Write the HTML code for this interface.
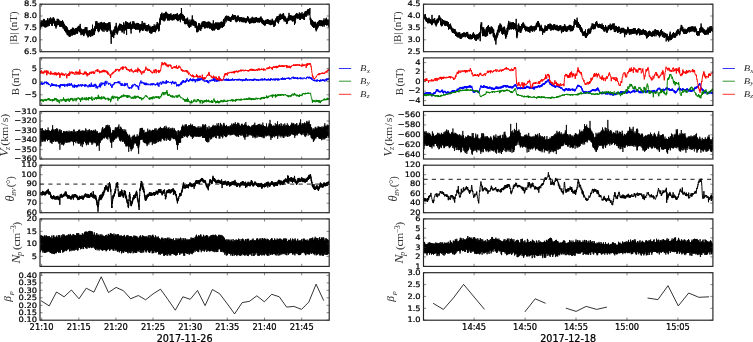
<!DOCTYPE html>
<html><head><meta charset="utf-8"><title>Solar wind magnetic field and plasma parameters</title>
<style>html,body{margin:0;padding:0;background:#fff;overflow:hidden}svg{display:block}</style></head>
<body>
<svg width="753" height="342" viewBox="0 0 753 342">
<rect width="753" height="342" fill="#fff"/>
<defs>
<clipPath id="c00"><rect x="40.0" y="4.2" width="289.2" height="47.5"/></clipPath>
<clipPath id="c01"><rect x="40.0" y="57.9" width="289.2" height="47.5"/></clipPath>
<clipPath id="c02"><rect x="40.0" y="111.5" width="289.2" height="47.5"/></clipPath>
<clipPath id="c03"><rect x="40.0" y="165.2" width="289.2" height="47.5"/></clipPath>
<clipPath id="c04"><rect x="40.0" y="218.9" width="289.2" height="47.5"/></clipPath>
<clipPath id="c05"><rect x="40.0" y="272.7" width="289.2" height="47.5"/></clipPath>
<clipPath id="c10"><rect x="423.5" y="4.2" width="289.4" height="47.5"/></clipPath>
<clipPath id="c11"><rect x="423.5" y="57.9" width="289.4" height="47.5"/></clipPath>
<clipPath id="c12"><rect x="423.5" y="111.5" width="289.4" height="47.5"/></clipPath>
<clipPath id="c13"><rect x="423.5" y="165.2" width="289.4" height="47.5"/></clipPath>
<clipPath id="c14"><rect x="423.5" y="218.9" width="289.4" height="47.5"/></clipPath>
<clipPath id="c15"><rect x="423.5" y="272.7" width="289.4" height="47.5"/></clipPath>
</defs>
<polyline points="40.0,30.0 40.2,24.2 40.3,28.4 40.5,23.6 40.7,26.8 40.8,22.4 41.0,25.5 41.2,20.3 41.3,26.7 41.5,21.8 41.7,26.0 41.8,21.6 42.0,25.8 42.2,22.2 42.3,26.3 42.5,20.8 42.7,25.5 42.8,21.9 43.0,25.8 43.2,19.8 43.3,26.5 43.5,21.0 43.7,25.2 43.8,18.9 44.0,25.3 44.2,20.7 44.3,25.8 44.5,19.5 44.7,27.3 44.8,21.5 45.0,26.4 45.2,21.2 45.3,27.1 45.5,21.0 45.7,27.4 45.8,20.9 46.0,26.4 46.2,20.1 46.3,27.1 46.5,21.3 46.7,26.2 46.8,21.9 47.0,26.2 47.2,20.9 47.3,26.5 47.5,18.8 47.7,24.2 47.8,18.1 48.0,24.4 48.2,20.4 48.3,26.2 48.5,20.3 48.7,23.9 48.8,19.9 49.0,23.8 49.2,19.7 49.3,25.9 49.5,20.1 49.7,23.6 49.8,18.5 50.0,23.8 50.2,17.9 50.3,23.2 50.5,17.6 50.7,22.9 50.8,17.8 51.0,23.2 51.2,18.8 51.3,23.8 51.5,19.5 51.7,25.7 51.8,20.7 52.0,24.4 52.2,19.4 52.3,25.9 52.5,19.9 52.7,23.3 52.8,18.4 53.0,22.7 53.2,17.3 53.3,23.3 53.5,17.9 53.7,22.7 53.8,17.8 54.0,23.0 54.2,19.2 54.3,24.0 54.5,19.1 54.7,26.0 54.8,20.5 55.0,25.7 55.2,21.1 55.3,26.1 55.5,22.9 55.7,27.0 55.8,22.4 56.0,28.5 56.2,21.1 56.3,25.5 56.5,21.3 56.7,26.6 56.8,21.3 57.0,24.8 57.2,18.8 57.3,23.9 57.5,19.8 57.7,25.2 57.8,20.8 58.0,25.0 58.2,18.9 58.3,23.8 58.5,19.8 58.7,24.5 58.8,19.7 59.0,24.8 59.2,21.0 59.3,24.8 59.5,21.7 59.7,26.6 59.8,20.7 60.0,25.8 60.2,21.8 60.3,26.7 60.5,22.3 60.7,25.2 60.8,21.0 61.0,26.5 61.2,22.5 61.3,26.9 61.5,22.6 61.7,26.1 61.8,21.2 62.0,26.0 62.2,22.4 62.3,26.9 62.5,20.1 62.7,26.0 62.8,22.0 63.0,28.5 63.2,21.6 63.3,26.3 63.5,22.4 63.7,27.6 63.8,23.4 64.0,29.3 64.2,24.2 64.4,28.2 64.5,24.8 64.7,30.6 64.9,25.6 65.0,31.1 65.2,25.8 65.4,30.4 65.5,25.9 65.7,32.1 65.9,26.2 66.0,32.4 66.2,26.3 66.4,32.4 66.5,26.6 66.7,31.8 66.9,27.6 67.0,34.5 67.2,27.5 67.4,32.9 67.5,29.4 67.7,35.1 67.9,29.7 68.0,35.3 68.2,29.9 68.4,34.9 68.5,30.3 68.7,34.8 68.9,36.3 69.0,35.3 69.2,30.7 69.4,35.8 69.5,30.4 69.7,36.9 69.9,31.9 70.0,36.7 70.2,31.7 70.4,35.7 70.5,30.3 70.7,34.8 70.9,29.3 71.0,35.9 71.2,29.6 71.4,33.9 71.5,28.9 71.7,33.8 71.9,29.5 72.0,34.5 72.2,29.0 72.4,35.5 72.5,27.7 72.7,34.8 72.9,29.0 73.0,33.9 73.2,29.1 73.4,33.7 73.5,27.8 73.7,34.7 73.9,28.6 74.0,33.9 74.2,30.3 74.4,34.6 74.5,29.4 74.7,34.2 74.9,30.1 75.0,34.7 75.2,29.6 75.4,33.9 75.5,29.2 75.7,32.6 75.9,28.0 76.0,32.6 76.2,28.3 76.4,32.9 76.5,28.7 76.7,33.1 76.9,27.8 77.0,33.9 77.2,29.5 77.4,33.6 77.5,29.3 77.7,32.8 77.9,27.0 78.0,31.0 78.2,26.4 78.4,30.0 78.5,26.3 78.7,31.1 78.9,26.2 79.0,29.7 79.2,25.6 79.4,32.1 79.5,26.7 79.7,31.0 79.9,26.9 80.0,30.7 80.2,23.9 80.4,32.9 80.5,28.5 80.7,33.2 80.9,28.4 81.0,35.2 81.2,29.6 81.4,33.3 81.5,28.9 81.7,33.7 81.9,30.8 82.0,34.3 82.2,30.1 82.4,34.3 82.5,29.5 82.7,34.4 82.9,29.8 83.0,33.7 83.2,30.1 83.4,34.6 83.5,29.1 83.7,36.1 83.9,29.7 84.0,35.4 84.2,30.1 84.4,34.1 84.5,29.5 84.7,33.2 84.9,28.9 85.0,33.1 85.2,27.1 85.4,32.5 85.5,28.1 85.7,33.1 85.9,27.4 86.0,32.4 86.2,27.8 86.4,34.4 86.5,27.7 86.7,33.3 86.9,27.2 87.0,35.4 87.2,30.1 87.4,35.6 87.5,31.6 87.7,36.0 87.9,31.4 88.0,37.4 88.2,31.4 88.4,36.3 88.5,31.8 88.7,36.8 88.9,30.8 89.0,34.8 89.2,30.0 89.4,35.6 89.5,30.0 89.7,35.6 89.9,30.2 90.0,35.6 90.2,31.1 90.4,36.1 90.5,31.4 90.7,37.0 90.9,31.9 91.0,35.6 91.2,29.8 91.4,35.3 91.5,29.0 91.7,34.2 91.9,29.2 92.0,34.8 92.2,29.0 92.4,34.1 92.5,24.7 92.7,36.1 92.9,28.8 93.0,33.0 93.2,28.6 93.4,33.3 93.5,29.6 93.7,34.9 93.9,29.3 94.0,33.6 94.2,29.4 94.4,34.7 94.5,27.7 94.7,32.6 94.9,26.6 95.0,30.8 95.2,25.8 95.4,31.1 95.5,23.4 95.7,27.8 95.9,21.3 96.0,28.5 96.2,21.4 96.4,27.6 96.5,22.2 96.7,28.8 96.9,21.2 97.0,29.0 97.2,23.3 97.4,28.9 97.5,22.8 97.7,29.6 97.9,23.5 98.0,31.1 98.2,23.5 98.4,32.2 98.5,22.9 98.7,26.7 98.9,23.1 99.0,29.4 99.2,24.7 99.4,31.3 99.5,24.8 99.7,29.5 99.9,23.8 100.0,29.1 100.2,22.2 100.4,28.2 100.5,23.2 100.7,29.0 100.9,23.5 101.0,28.3 101.2,23.5 101.4,30.4 101.5,21.9 101.7,29.7 101.9,22.4 102.0,29.2 102.2,23.2 102.4,29.6 102.5,24.0 102.7,31.4 102.9,23.0 103.0,29.2 103.2,23.2 103.4,29.3 103.5,24.0 103.7,28.5 103.9,22.8 104.0,31.8 104.2,22.0 104.4,28.6 104.5,24.1 104.7,29.5 104.9,25.0 105.0,29.0 105.2,23.4 105.4,28.9 105.5,23.9 105.7,30.4 105.9,23.2 106.0,28.7 106.2,23.6 106.4,30.2 106.5,24.0 106.7,29.2 106.9,24.4 107.0,31.9 107.2,25.3 107.4,30.2 107.5,23.3 107.7,31.4 107.9,24.0 108.0,29.6 108.2,24.6 108.4,30.2 108.5,22.5 108.7,29.9 108.9,23.1 109.0,28.6 109.2,23.3 109.4,28.5 109.5,22.7 109.7,28.8 109.9,22.0 110.0,31.0 110.2,24.7 110.4,32.3 110.5,28.2 110.7,34.0 110.9,30.0 111.0,40.4 111.2,43.8 111.4,37.1 111.5,32.7 111.7,37.1 111.9,30.8 112.0,35.6 112.2,33.1 112.4,37.0 112.6,32.3 112.7,36.9 112.9,32.5 113.1,35.3 113.2,30.4 113.4,35.2 113.6,29.9 113.7,38.1 113.9,29.5 114.1,34.5 114.2,30.1 114.4,34.3 114.6,29.7 114.7,35.2 114.9,26.6 115.1,32.9 115.2,27.4 115.4,31.0 115.6,26.2 115.7,30.5 115.9,25.7 116.1,31.4 116.2,22.9 116.4,31.2 116.6,28.0 116.7,32.9 116.9,28.7 117.1,34.2 117.2,28.8 117.4,34.4 117.6,29.0 117.7,33.2 117.9,27.8 118.1,31.3 118.2,26.5 118.4,30.8 118.6,26.0 118.7,30.3 118.9,25.8 119.1,30.6 119.2,24.9 119.4,29.9 119.6,23.8 119.7,29.3 119.9,23.7 120.1,29.6 120.2,24.1 120.4,28.9 120.6,24.4 120.7,29.5 120.9,26.0 121.1,30.9 121.2,26.7 121.4,30.7 121.6,24.4 121.7,31.1 121.9,26.9 122.1,32.5 122.2,27.1 122.4,31.6 122.6,25.4 122.7,31.1 122.9,25.9 123.1,30.3 123.2,25.0 123.4,29.8 123.6,22.3 123.7,29.0 123.9,24.4 124.1,33.6 124.2,25.0 124.4,30.1 124.6,25.1 124.7,30.6 124.9,25.9 125.1,30.3 125.2,22.8 125.4,29.5 125.6,21.3 125.7,28.1 125.9,23.5 126.1,28.0 126.2,21.6 126.4,27.1 126.6,34.9 126.7,28.0 126.9,22.0 127.1,28.7 127.2,23.6 127.4,27.4 127.6,22.2 127.7,28.6 127.9,23.0 128.1,27.5 128.2,24.2 128.4,28.3 128.6,24.0 128.7,28.7 128.9,22.9 129.1,28.0 129.2,23.0 129.4,28.9 129.6,23.7 129.7,27.9 129.9,22.8 130.1,26.6 130.2,22.6 130.4,27.5 130.6,21.8 130.7,29.5 130.9,24.7 131.1,33.5 131.2,24.5 131.4,28.3 131.6,25.0 131.7,29.1 131.9,24.6 132.1,28.8 132.2,23.8 132.4,28.9 132.6,23.3 132.7,27.3 132.9,21.0 133.1,27.5 133.2,22.7 133.4,27.3 133.6,22.7 133.7,26.7 133.9,21.5 134.1,28.9 134.2,23.3 134.4,28.6 134.6,23.4 134.7,28.7 134.9,23.9 135.1,28.7 135.2,24.9 135.4,28.4 135.6,24.0 135.7,29.8 135.9,25.0 136.1,29.4 136.2,23.2 136.4,28.1 136.6,24.7 136.7,28.5 136.9,24.1 137.1,29.6 137.2,22.9 137.4,28.3 137.6,23.8 137.7,28.3 137.9,23.8 138.1,30.0 138.2,23.7 138.4,28.1 138.6,23.0 138.7,28.6 138.9,24.3 139.1,29.4 139.2,24.1 139.4,29.9 139.6,26.1 139.7,32.5 139.9,26.2 140.1,29.3 140.2,25.2 140.4,31.1 140.6,24.5 140.7,30.5 140.9,24.9 141.1,30.0 141.2,23.9 141.4,28.8 141.6,23.9 141.7,29.0 141.9,25.3 142.1,29.6 142.2,21.0 142.4,30.6 142.6,26.0 142.7,30.9 142.9,26.8 143.1,30.6 143.2,26.0 143.4,29.4 143.6,24.6 143.7,29.0 143.9,22.9 144.1,27.7 144.2,22.8 144.4,27.9 144.6,23.4 144.7,29.3 144.9,23.1 145.1,28.6 145.2,25.3 145.4,30.9 145.6,26.1 145.7,29.8 145.9,25.1 146.1,30.4 146.2,25.4 146.4,30.3 146.6,26.1 146.7,30.7 146.9,25.8 147.1,31.5 147.2,26.1 147.4,30.2 147.6,25.1 147.7,29.2 147.9,25.4 148.1,29.3 148.2,25.7 148.4,28.9 148.6,24.3 148.7,29.4 148.9,25.9 149.1,31.2 149.2,26.7 149.4,31.1 149.6,26.9 149.7,32.7 149.9,25.7 150.1,32.6 150.2,27.5 150.4,33.4 150.6,27.8 150.7,32.1 150.9,27.5 151.1,33.1 151.2,28.4 151.4,32.4 151.6,26.7 151.7,33.7 151.9,29.3 152.1,32.6 152.2,28.4 152.4,31.3 152.6,26.1 152.7,31.2 152.9,26.7 153.1,31.3 153.2,27.5 153.4,31.7 153.6,26.3 153.7,31.4 153.9,26.3 154.1,31.2 154.2,24.4 154.4,31.2 154.6,27.2 154.7,31.7 154.9,26.3 155.1,31.8 155.2,27.5 155.4,32.3 155.6,26.2 155.7,30.3 155.9,25.7 156.1,29.7 156.2,24.5 156.4,30.4 156.6,25.1 156.7,28.7 156.9,24.7 157.1,28.7 157.2,22.0 157.4,28.3 157.6,23.3 157.7,27.9 157.9,22.8 158.1,29.1 158.2,24.4 158.4,29.8 158.6,25.9 158.7,31.4 158.9,24.6 159.1,30.9 159.2,24.7 159.4,28.4 159.6,20.8 159.7,24.7 159.9,18.6 160.1,24.7 160.2,17.6 160.4,21.7 160.6,16.0 160.8,20.2 160.9,14.1 161.1,19.5 161.3,14.0 161.4,18.8 161.6,13.4 161.8,19.9 161.9,12.6 162.1,19.7 162.3,14.6 162.4,20.0 162.6,14.8 162.8,20.1 162.9,15.4 163.1,20.6 163.3,15.7 163.4,19.5 163.6,13.5 163.8,20.1 163.9,15.2 164.1,21.4 164.3,15.4 164.4,19.7 164.6,13.0 164.8,18.8 164.9,13.6 165.1,20.5 165.3,14.1 165.4,16.9 165.6,12.0 165.8,17.6 165.9,11.7 166.1,17.2 166.3,13.1 166.4,18.1 166.6,12.4 166.8,18.3 166.9,13.4 167.1,17.5 167.3,13.6 167.4,18.8 167.6,14.7 167.8,20.6 167.9,15.0 168.1,19.8 168.3,13.9 168.4,19.4 168.6,15.9 168.8,19.7 168.9,16.2 169.1,20.8 169.3,14.6 169.4,19.3 169.6,14.5 169.8,18.0 169.9,13.9 170.1,18.7 170.3,14.7 170.4,19.5 170.6,14.5 170.8,18.8 170.9,13.3 171.1,19.9 171.3,15.6 171.4,20.1 171.6,15.7 171.8,20.1 171.9,15.8 172.1,19.9 172.3,15.8 172.4,20.4 172.6,15.1 172.8,19.4 172.9,15.0 173.1,18.8 173.3,14.1 173.4,18.6 173.6,14.8 173.8,20.2 173.9,14.8 174.1,19.5 174.3,15.9 174.4,19.1 174.6,14.7 174.8,18.9 174.9,14.7 175.1,18.7 175.3,14.7 175.4,18.5 175.6,14.2 175.8,18.7 175.9,14.7 176.1,18.8 176.3,13.9 176.4,20.1 176.6,15.3 176.8,18.9 176.9,14.4 177.1,19.7 177.3,13.1 177.4,19.4 177.6,16.2 177.8,21.2 177.9,16.1 178.1,20.7 178.3,14.8 178.4,20.0 178.6,16.2 178.8,19.3 178.9,15.9 179.1,19.4 179.3,14.9 179.4,20.1 179.6,14.6 179.8,19.1 179.9,14.2 180.1,19.4 180.3,15.3 180.4,22.2 180.6,14.1 180.8,18.1 180.9,13.0 181.1,19.6 181.3,16.4 181.4,8.0 181.6,11.4 181.8,17.4 181.9,13.9 182.1,19.0 182.3,14.4 182.4,19.1 182.6,15.0 182.8,20.7 182.9,14.6 183.1,19.2 183.3,15.0 183.4,21.0 183.6,15.7 183.8,19.9 183.9,16.2 184.1,20.8 184.3,16.0 184.4,22.9 184.6,17.5 184.8,24.1 184.9,19.0 185.1,22.7 185.3,18.9 185.4,23.3 185.6,19.0 185.8,24.3 185.9,19.8 186.1,23.8 186.3,18.7 186.4,23.7 186.6,18.9 186.8,23.7 186.9,18.7 187.1,23.9 187.3,19.8 187.4,23.5 187.6,17.6 187.8,24.2 187.9,19.5 188.1,25.8 188.3,20.6 188.4,25.7 188.6,22.1 188.8,27.1 188.9,23.0 189.1,26.8 189.3,22.4 189.4,28.0 189.6,22.2 189.8,27.2 189.9,19.5 190.1,26.0 190.3,21.7 190.4,26.1 190.6,22.5 190.8,26.9 190.9,21.4 191.1,25.1 191.3,20.1 191.4,25.3 191.6,20.2 191.8,25.1 191.9,19.4 192.1,23.9 192.3,15.4 192.4,23.8 192.6,20.3 192.8,25.4 192.9,21.0 193.1,24.7 193.3,21.3 193.4,24.9 193.6,19.6 193.8,25.8 193.9,20.7 194.1,25.4 194.3,21.5 194.4,26.0 194.6,21.7 194.8,25.2 194.9,21.5 195.1,27.6 195.3,22.0 195.4,25.9 195.6,21.4 195.8,27.7 195.9,21.8 196.1,27.4 196.3,22.5 196.4,28.5 196.6,25.1 196.8,31.9 196.9,27.2 197.1,32.4 197.3,26.8 197.4,31.7 197.6,26.5 197.8,30.7 197.9,26.5 198.1,31.8 198.3,24.9 198.4,29.4 198.6,23.4 198.8,27.6 198.9,23.4 199.1,27.7 199.3,23.7 199.4,29.0 199.6,23.7 199.8,29.6 199.9,26.6 200.1,30.4 200.3,26.3 200.4,30.4 200.6,25.2 200.8,30.7 200.9,25.5 201.1,29.0 201.3,23.7 201.4,28.6 201.6,24.4 201.8,28.5 201.9,22.7 202.1,26.5 202.3,21.6 202.4,26.5 202.6,22.5 202.8,26.5 202.9,22.4 203.1,26.5 203.3,21.3 203.4,26.6 203.6,21.7 203.8,25.8 203.9,21.9 204.1,27.0 204.3,21.4 204.4,28.4 204.6,22.4 204.8,27.8 204.9,21.1 205.1,27.1 205.3,23.3 205.4,28.3 205.6,22.4 205.8,27.7 205.9,23.1 206.1,26.1 206.3,22.5 206.4,26.7 206.6,22.4 206.8,27.3 206.9,22.9 207.1,27.8 207.3,22.6 207.4,27.1 207.6,21.9 207.8,28.2 207.9,23.4 208.1,27.5 208.3,21.5 208.4,27.0 208.6,22.6 208.8,26.9 209.0,22.6 209.1,27.1 209.3,22.4 209.5,28.1 209.6,21.8 209.8,28.7 210.0,22.5 210.1,28.3 210.3,23.0 210.5,27.7 210.6,24.0 210.8,28.4 211.0,23.9 211.1,27.7 211.3,23.8 211.5,28.4 211.6,24.1 211.8,30.1 212.0,23.4 212.1,28.7 212.3,24.8 212.5,30.8 212.6,24.7 212.8,29.2 213.0,24.6 213.1,29.9 213.3,20.3 213.5,29.4 213.6,25.0 213.8,29.8 214.0,26.1 214.1,30.7 214.3,24.8 214.5,28.9 214.6,23.7 214.8,29.8 215.0,23.8 215.1,29.0 215.3,23.4 215.5,27.9 215.6,22.7 215.8,27.8 216.0,22.5 216.1,27.3 216.3,22.7 216.5,28.5 216.6,23.2 216.8,27.3 217.0,23.6 217.1,28.8 217.3,23.2 217.5,28.2 217.6,24.2 217.8,29.9 218.0,22.1 218.1,29.8 218.3,24.7 218.5,29.5 218.6,23.6 218.8,28.1 219.0,23.7 219.1,27.6 219.3,23.4 219.5,29.4 219.6,23.0 219.8,28.1 220.0,22.5 220.1,28.2 220.3,22.3 220.5,28.1 220.6,22.3 220.8,27.3 221.0,23.3 221.1,26.6 221.3,21.5 221.5,26.6 221.6,22.1 221.8,27.4 222.0,23.4 222.1,27.6 222.3,22.3 222.5,27.7 222.6,22.0 222.8,26.7 223.0,22.9 223.1,27.0 223.3,20.3 223.5,26.3 223.6,19.2 223.8,25.6 224.0,18.9 224.1,26.1 224.3,22.6 224.5,24.9 224.6,20.9 224.8,23.9 225.0,17.8 225.1,20.8 225.3,16.9 225.5,20.3 225.6,16.9 225.8,19.6 226.0,16.1 226.1,22.3 226.3,15.7 226.5,18.6 226.6,16.2 226.8,19.5 227.0,15.8 227.1,19.2 227.3,16.5 227.5,20.1 227.6,16.8 227.8,20.4 228.0,17.0 228.1,20.4 228.3,17.6 228.5,20.5 228.6,15.9 228.8,20.0 229.0,17.0 229.1,20.9 229.3,17.3 229.5,17.7 229.6,16.9 229.8,20.7 230.0,17.4 230.1,21.3 230.3,18.0 230.5,21.3 230.6,17.7 230.8,22.0 231.0,17.5 231.1,20.7 231.3,17.0 231.5,19.9 231.6,16.5 231.8,18.7 232.0,16.1 232.1,18.4 232.3,15.5 232.5,19.4 232.6,14.2 232.8,19.7 233.0,15.0 233.1,19.2 233.3,15.6 233.5,19.7 233.6,16.7 233.8,18.9 234.0,15.4 234.1,18.8 234.3,16.0 234.5,18.6 234.6,15.3 234.8,18.6 235.0,15.5 235.1,20.3 235.3,15.4 235.5,20.9 235.6,16.2 235.8,21.1 236.0,16.8 236.1,22.2 236.3,17.0 236.5,22.1 236.6,17.9 236.8,20.4 237.0,17.1 237.1,21.6 237.3,16.5 237.5,21.2 237.6,16.0 237.8,19.5 238.0,15.4 238.1,19.8 238.3,15.9 238.5,19.8 238.6,17.7 238.8,20.4 239.0,17.3 239.1,20.9 239.3,17.3 239.5,20.7 239.6,17.9 239.8,22.1 240.0,18.2 240.1,21.0 240.3,17.7 240.5,20.5 240.6,17.3 240.8,20.5 241.0,17.6 241.1,20.0 241.3,17.4 241.5,20.9 241.6,17.8 241.8,22.1 242.0,18.7 242.1,21.5 242.3,17.6 242.5,21.7 242.6,18.1 242.8,21.1 243.0,17.9 243.1,22.4 243.3,18.6 243.5,22.0 243.6,17.7 243.8,21.3 244.0,17.7 244.1,21.7 244.3,18.8 244.5,21.6 244.6,18.8 244.8,21.9 245.0,18.1 245.1,22.6 245.3,19.0 245.5,23.1 245.6,19.5 245.8,22.1 246.0,18.4 246.1,22.2 246.3,18.6 246.5,22.4 246.6,18.0 246.8,21.7 247.0,17.9 247.1,20.5 247.3,17.9 247.5,20.7 247.6,16.1 247.8,19.9 248.0,17.0 248.1,20.5 248.3,16.9 248.5,21.9 248.6,18.8 248.8,21.8 249.0,18.9 249.1,22.9 249.3,18.7 249.5,23.2 249.6,20.4 249.8,23.8 250.0,19.6 250.1,22.6 250.3,18.6 250.5,22.9 250.6,20.0 250.8,23.3 251.0,19.5 251.1,22.3 251.3,17.8 251.5,22.6 251.6,18.9 251.8,22.7 252.0,18.4 252.1,21.8 252.3,16.8 252.5,21.3 252.6,19.0 252.8,22.4 253.0,18.0 253.1,23.1 253.3,19.6 253.5,23.1 253.6,17.7 253.8,21.7 254.0,18.6 254.1,23.0 254.3,18.4 254.5,23.1 254.6,19.0 254.8,22.4 255.0,17.6 255.1,21.6 255.3,17.9 255.5,22.9 255.6,18.3 255.8,21.6 256.0,17.2 256.1,22.0 256.3,17.9 256.5,22.1 256.6,17.1 256.8,21.6 257.0,18.2 257.2,21.6 257.3,18.4 257.5,22.2 257.7,18.5 257.8,22.0 258.0,19.4 258.2,22.6 258.3,18.9 258.5,21.2 258.7,18.0 258.8,21.5 259.0,17.9 259.2,21.8 259.3,19.1 259.5,22.6 259.7,17.8 259.8,22.1 260.0,18.7 260.2,21.9 260.3,18.2 260.5,21.2 260.7,16.8 260.8,20.7 261.0,16.6 261.2,22.0 261.3,18.1 261.5,22.6 261.7,18.4 261.8,23.1 262.0,18.4 262.2,23.4 262.3,19.7 262.5,23.3 262.7,19.5 262.8,23.8 263.0,20.3 263.2,24.2 263.3,20.0 263.5,24.5 263.7,21.1 263.8,24.6 264.0,21.8 264.2,25.1 264.3,20.8 264.5,24.7 264.7,22.0 264.8,25.8 265.0,21.1 265.2,24.4 265.3,20.2 265.5,25.2 265.7,20.3 265.8,23.9 266.0,19.7 266.2,23.5 266.3,20.0 266.5,23.6 266.7,20.3 266.8,23.4 267.0,20.6 267.2,23.6 267.3,19.2 267.5,23.8 267.7,19.4 267.8,23.6 268.0,19.6 268.2,23.1 268.3,19.7 268.5,23.5 268.7,20.5 268.8,24.2 269.0,20.3 269.2,23.0 269.3,20.1 269.5,24.2 269.7,20.9 269.8,24.4 270.0,20.9 270.2,24.5 270.3,20.7 270.5,25.2 270.7,21.8 270.8,24.9 271.0,19.7 271.2,24.4 271.3,21.3 271.5,24.6 271.7,21.2 271.8,24.6 272.0,21.2 272.2,24.1 272.3,18.8 272.5,23.1 272.7,20.2 272.8,24.4 273.0,20.6 273.2,24.2 273.3,21.2 273.5,24.9 273.7,22.5 273.8,26.9 274.0,22.6 274.2,26.3 274.3,21.4 274.5,26.3 274.7,22.1 274.8,25.7 275.0,20.3 275.2,25.4 275.3,20.0 275.5,22.8 275.7,18.9 275.8,22.1 276.0,18.6 276.2,21.5 276.3,18.1 276.5,20.5 276.7,16.8 276.8,21.1 277.0,17.8 277.2,20.5 277.3,16.0 277.5,20.7 277.7,17.4 277.8,22.8 278.0,17.1 278.2,20.6 278.3,17.6 278.5,23.5 278.7,16.0 278.8,22.1 279.0,16.8 279.2,19.5 279.3,14.7 279.5,20.0 279.7,15.8 279.8,20.2 280.0,14.6 280.2,19.8 280.3,13.7 280.5,18.2 280.7,14.5 280.8,19.1 281.0,14.8 281.2,19.2 281.3,14.8 281.5,17.9 281.7,15.2 281.8,18.8 282.0,15.5 282.2,19.1 282.3,14.8 282.5,18.0 282.7,14.4 282.8,19.0 283.0,14.7 283.2,18.8 283.3,13.0 283.5,19.8 283.7,14.3 283.8,19.2 284.0,16.2 284.2,21.5 284.3,16.0 284.5,19.8 284.7,15.8 284.8,19.5 285.0,16.4 285.2,20.8 285.3,17.2 285.5,21.3 285.7,17.3 285.8,21.4 286.0,18.4 286.2,21.8 286.3,19.0 286.5,24.1 286.7,20.0 286.8,23.9 287.0,19.8 287.2,22.8 287.3,18.2 287.5,23.3 287.7,18.3 287.8,21.3 288.0,18.9 288.2,20.9 288.3,16.4 288.5,20.6 288.7,16.6 288.8,20.0 289.0,12.9 289.2,19.1 289.3,15.3 289.5,19.3 289.7,15.2 289.8,20.5 290.0,16.1 290.2,18.9 290.3,15.3 290.5,19.8 290.7,16.0 290.8,19.6 291.0,15.5 291.2,19.8 291.3,15.6 291.5,20.3 291.7,16.2 291.8,20.3 292.0,16.5 292.2,19.6 292.3,16.5 292.5,21.5 292.7,17.1 292.8,20.4 293.0,15.7 293.2,19.7 293.3,16.4 293.5,20.4 293.7,16.7 293.8,21.3 294.0,16.6 294.2,21.2 294.3,15.8 294.5,24.9 294.7,15.5 294.8,19.5 295.0,15.8 295.2,23.4 295.3,15.7 295.5,18.6 295.7,14.5 295.8,19.4 296.0,14.1 296.2,17.6 296.3,13.8 296.5,17.5 296.7,13.2 296.8,17.4 297.0,13.3 297.2,17.9 297.3,14.7 297.5,18.5 297.7,15.4 297.8,18.3 298.0,14.9 298.2,18.2 298.3,14.1 298.5,18.2 298.7,14.9 298.8,18.3 299.0,14.8 299.2,18.0 299.3,12.4 299.5,17.9 299.7,14.9 299.8,20.0 300.0,14.8 300.2,18.4 300.3,15.3 300.5,19.9 300.7,13.4 300.8,17.8 301.0,14.3 301.2,18.7 301.3,13.6 301.5,17.9 301.7,16.1 301.8,18.3 302.0,12.2 302.2,17.8 302.3,14.1 302.5,18.4 302.7,14.4 302.8,18.3 303.0,14.3 303.2,17.7 303.3,16.3 303.5,19.5 303.7,14.1 303.8,19.0 304.0,13.5 304.2,18.8 304.3,12.9 304.5,19.8 304.7,13.3 304.8,16.8 305.0,11.8 305.2,16.0 305.4,11.2 305.5,15.6 305.7,12.0 305.9,16.6 306.0,11.3 306.2,16.6 306.4,11.2 306.5,15.1 306.7,10.9 306.9,14.5 307.0,11.4 307.2,14.4 307.4,10.4 307.5,13.3 307.7,9.9 307.9,15.6 308.0,9.1 308.2,13.7 308.4,9.5 308.5,13.8 308.7,10.0 308.9,13.7 309.0,10.5 309.2,14.6 309.4,9.4 309.5,15.1 309.7,12.6 309.9,8.0 310.0,14.2 310.2,20.1 310.4,17.6 310.5,22.1 310.7,19.5 310.9,24.6 311.0,18.6 311.2,23.7 311.4,20.6 311.5,24.4 311.7,20.5 311.9,25.8 312.0,20.9 312.2,24.6 312.4,20.2 312.5,26.8 312.7,21.5 312.9,26.5 313.0,22.3 313.2,26.3 313.4,21.6 313.5,27.7 313.7,23.2 313.9,27.6 314.0,22.8 314.2,27.7 314.4,22.0 314.5,27.0 314.7,22.2 314.9,26.2 315.0,21.8 315.2,26.1 315.4,21.9 315.5,26.9 315.7,24.1 315.9,29.9 316.0,25.3 316.2,31.3 316.4,23.6 316.5,30.0 316.7,25.4 316.9,29.5 317.0,25.9 317.2,28.6 317.4,21.9 317.5,27.7 317.7,22.1 317.9,27.8 318.0,23.0 318.2,26.6 318.4,22.4 318.5,26.1 318.7,21.7 318.9,25.4 319.0,20.7 319.2,25.7 319.4,21.0 319.5,25.8 319.7,20.0 319.9,24.2 320.0,20.8 320.2,24.7 320.4,20.7 320.5,25.0 320.7,20.8 320.9,26.2 321.0,20.5 321.2,25.9 321.4,20.4 321.5,25.3 321.7,21.7 321.9,25.8 322.0,21.7 322.2,25.4 322.4,21.2 322.5,26.5 322.7,20.9 322.9,26.2 323.0,20.5 323.2,24.5 323.4,20.4 323.5,24.4 323.7,23.1 323.9,24.0 324.0,18.4 324.2,26.6 324.4,21.1 324.5,25.0 324.7,20.7 324.9,24.6 325.0,20.0 325.2,24.9 325.4,20.6 325.5,23.8 325.7,19.3 325.9,23.4 326.0,18.6 326.2,24.4 326.4,17.8 326.5,25.4 326.7,19.4 326.9,24.5 327.0,19.9 327.2,25.4 327.4,20.5 327.5,24.9 327.7,20.4 327.9,23.9 328.0,19.5 328.2,23.7 328.4,19.9 328.5,24.5 328.7,20.9 328.9,27.2 329.0,21.3 329.2,25.5" fill="none" stroke="#000" stroke-width="1.0" stroke-linejoin="round" clip-path="url(#c00)"/>
<polyline points="40.0,85.2 40.3,84.2 40.5,83.9 40.8,83.4 41.0,83.8 41.3,82.3 41.5,84.3 41.8,83.4 42.0,84.5 42.3,82.6 42.5,84.9 42.8,83.4 43.0,83.7 43.3,83.8 43.5,84.0 43.8,82.8 44.0,84.3 44.3,82.2 44.5,83.0 44.8,81.7 45.0,81.8 45.3,82.6 45.5,82.2 45.8,83.1 46.0,82.2 46.3,81.5 46.5,84.1 46.8,83.4 47.0,83.3 47.3,82.0 47.5,83.7 47.8,83.6 48.0,84.3 48.3,82.8 48.5,84.7 48.8,83.7 49.0,85.0 49.3,84.1 49.5,85.0 49.8,84.5 50.0,85.3 50.3,85.2 50.5,86.8 50.8,85.8 51.0,85.7 51.3,85.4 51.5,86.1 51.8,83.1 52.0,84.2 52.3,83.9 52.5,85.8 52.8,84.3 53.0,85.1 53.3,84.8 53.5,86.0 53.8,84.2 54.0,86.0 54.3,84.5 54.5,85.1 54.8,85.7 55.0,85.5 55.3,85.0 55.5,85.9 55.8,84.5 56.0,86.4 56.3,84.4 56.5,85.3 56.8,86.3 57.0,86.2 57.3,85.5 57.5,86.1 57.8,85.3 58.0,85.1 58.3,85.4 58.5,86.4 58.8,85.2 59.0,86.7 59.3,85.3 59.5,85.6 59.8,88.3 60.0,85.4 60.3,84.3 60.5,86.5 60.8,84.3 61.0,85.3 61.3,85.3 61.5,85.5 61.8,84.1 62.0,85.1 62.3,84.0 62.5,86.0 62.8,85.0 63.0,85.1 63.3,84.8 63.5,86.0 63.8,84.1 64.0,84.1 64.3,84.0 64.5,86.1 64.8,86.9 65.0,85.4 65.3,84.8 65.5,85.3 65.8,84.6 66.0,85.3 66.3,84.1 66.5,85.4 66.8,85.4 67.0,86.4 67.3,85.0 67.5,86.2 67.8,83.6 68.0,85.8 68.3,84.6 68.5,85.2 68.8,84.7 69.0,85.5 69.3,83.2 69.5,85.7 69.8,84.5 70.0,85.3 70.3,83.8 70.5,84.3 70.8,84.1 71.0,85.7 71.3,83.3 71.5,83.2 71.8,85.2 72.0,85.2 72.3,84.8 72.6,86.5 72.8,85.3 73.1,87.6 73.3,85.9 73.6,85.9 73.8,85.9 74.1,85.9 74.3,84.6 74.6,87.9 74.8,84.8 75.1,86.1 75.3,85.5 75.6,86.7 75.8,85.1 76.1,85.8 76.3,85.4 76.6,87.4 76.8,85.0 77.1,86.2 77.3,85.1 77.6,87.2 77.8,85.6 78.1,86.2 78.3,84.4 78.6,86.1 78.8,84.8 79.1,86.0 79.3,85.7 79.6,86.0 79.8,86.4 80.1,84.4 80.3,84.2 80.6,85.4 80.8,85.9 81.1,85.6 81.3,84.7 81.6,86.5 81.8,84.7 82.1,86.1 82.3,84.2 82.6,84.4 82.8,84.9 83.1,85.2 83.3,85.4 83.6,84.8 83.8,85.8 84.1,85.2 84.3,85.9 84.6,86.5 84.8,84.3 85.1,86.5 85.3,85.1 85.6,86.2 85.8,84.2 86.1,86.0 86.3,85.4 86.6,85.5 86.8,85.2 87.1,86.5 87.3,85.9 87.6,86.2 87.8,85.8 88.1,87.4 88.3,85.4 88.6,85.4 88.8,85.5 89.1,85.0 89.3,84.5 89.6,86.5 89.8,84.2 90.1,87.1 90.3,85.7 90.6,86.5 90.8,85.5 91.1,86.9 91.3,82.7 91.6,85.6 91.8,85.4 92.1,86.2 92.3,86.8 92.6,85.8 92.8,84.8 93.1,86.5 93.3,85.5 93.6,86.6 93.8,84.6 94.1,86.8 94.3,85.0 94.6,84.5 94.8,83.9 95.1,85.4 95.3,85.9 95.6,83.9 95.8,84.4 96.1,88.3 96.3,85.3 96.6,87.4 96.8,86.1 97.1,86.1 97.3,86.9 97.6,88.5 97.8,87.7 98.1,87.1 98.3,86.6 98.6,87.0 98.8,86.3 99.1,87.1 99.3,84.7 99.6,86.4 99.8,83.7 100.1,87.2 100.3,85.1 100.6,87.3 100.8,84.1 101.1,82.5 101.3,84.8 101.6,85.5 101.8,84.1 102.1,84.2 102.3,82.7 102.6,84.4 102.8,83.6 103.1,83.9 103.3,82.8 103.6,84.1 103.8,83.2 104.1,84.2 104.4,82.7 104.6,84.7 104.9,86.0 105.1,81.5 105.4,82.4 105.6,82.0 105.9,80.8 106.1,84.3 106.4,81.8 106.6,82.1 106.9,81.5 107.1,81.7 107.4,81.8 107.6,82.0 107.9,82.2 108.1,83.9 108.4,83.4 108.6,84.7 108.9,83.4 109.1,83.8 109.4,84.0 109.6,83.6 109.9,82.9 110.1,83.6 110.4,84.2 110.6,85.7 110.9,84.1 111.1,86.1 111.4,86.0 111.6,87.4 111.9,85.9 112.1,87.7 112.4,84.9 112.6,85.4 112.9,84.2 113.1,85.3 113.4,84.2 113.6,85.0 113.9,83.6 114.1,84.4 114.4,82.3 114.6,83.9 114.9,82.4 115.1,82.8 115.4,82.5 115.6,83.1 115.9,82.0 116.1,83.1 116.4,82.0 116.6,83.1 116.9,82.6 117.1,83.0 117.4,82.4 117.6,83.1 117.9,81.5 118.1,81.8 118.4,82.7 118.6,82.5 118.9,81.1 119.1,83.6 119.4,82.3 119.6,82.1 119.9,81.7 120.1,84.2 120.4,83.3 120.6,83.9 120.9,83.7 121.1,85.8 121.4,83.8 121.6,85.6 121.9,83.5 122.1,83.1 122.4,85.0 122.6,85.6 122.9,84.5 123.1,85.0 123.4,85.5 123.6,85.0 123.9,85.0 124.1,85.6 124.4,83.9 124.6,86.2 124.9,82.9 125.1,86.0 125.4,84.0 125.6,85.1 125.9,83.6 126.1,84.6 126.4,84.6 126.6,85.1 126.9,84.9 127.1,83.0 127.4,85.2 127.6,86.1 127.9,85.8 128.1,87.8 128.4,87.9 128.6,87.3 128.9,87.1 129.1,88.7 129.4,87.4 129.6,88.6 129.9,87.7 130.1,88.1 130.4,87.5 130.6,88.0 130.9,87.7 131.1,88.4 131.4,87.6 131.6,88.4 131.9,85.4 132.1,87.5 132.4,85.6 132.6,87.0 132.9,84.4 133.1,86.2 133.4,85.4 133.6,85.4 133.9,85.2 134.1,85.1 134.4,83.8 134.6,84.6 134.9,84.6 135.1,85.3 135.4,84.2 135.6,85.2 135.9,85.6 136.1,86.6 136.4,85.0 136.7,85.6 136.9,85.0 137.2,85.8 137.4,86.1 137.7,87.0 137.9,86.5 138.2,88.6 138.4,86.2 138.7,89.9 138.9,86.7 139.2,85.7 139.4,85.0 139.7,85.7 139.9,82.6 140.2,83.4 140.4,82.5 140.7,82.3 140.9,80.5 141.2,82.9 141.4,82.2 141.7,83.4 141.9,82.0 142.2,83.1 142.4,81.8 142.7,83.1 142.9,82.1 143.2,83.3 143.4,83.4 143.7,83.3 143.9,82.6 144.2,84.5 144.4,82.8 144.7,85.0 144.9,83.3 145.2,84.9 145.4,84.1 145.7,85.2 145.9,82.6 146.2,84.4 146.4,83.1 146.7,85.1 146.9,83.7 147.2,84.4 147.4,83.6 147.7,84.3 147.9,84.6 148.2,85.2 148.4,84.9 148.7,83.8 148.9,83.7 149.2,84.1 149.4,84.7 149.7,84.4 149.9,84.4 150.2,85.4 150.4,83.7 150.7,83.9 150.9,84.5 151.2,83.7 151.4,84.8 151.7,85.1 151.9,83.4 152.2,85.3 152.4,83.6 152.7,84.7 152.9,84.3 153.2,84.8 153.4,83.0 153.7,84.3 153.9,84.2 154.2,83.6 154.4,84.2 154.7,84.5 154.9,84.0 155.2,85.5 155.4,84.3 155.7,84.9 155.9,84.8 156.2,84.4 156.4,83.8 156.7,84.7 156.9,83.7 157.2,82.7 157.4,84.0 157.7,85.4 157.9,82.6 158.2,85.3 158.4,84.4 158.7,84.5 158.9,86.8 159.2,84.7 159.4,82.9 159.7,83.7 159.9,82.7 160.2,83.1 160.4,82.1 160.7,82.3 160.9,81.8 161.2,84.6 161.4,83.1 161.7,84.3 161.9,82.5 162.2,83.3 162.4,82.6 162.7,82.3 162.9,80.9 163.2,83.1 163.4,83.2 163.7,83.3 163.9,81.7 164.2,83.1 164.4,82.4 164.7,83.3 164.9,83.7 165.2,83.7 165.4,82.3 165.7,82.5 165.9,81.2 166.2,83.7 166.4,80.0 166.7,83.2 166.9,82.4 167.2,82.8 167.4,82.3 167.7,82.4 167.9,81.0 168.2,82.3 168.4,81.4 168.7,82.0 169.0,82.5 169.2,82.2 169.5,82.6 169.7,82.7 170.0,82.8 170.2,82.9 170.5,81.8 170.7,82.7 171.0,82.3 171.2,82.0 171.5,83.2 171.7,84.4 172.0,81.9 172.2,83.0 172.5,80.9 172.7,82.1 173.0,81.6 173.2,82.7 173.5,82.3 173.7,83.8 174.0,83.3 174.2,84.0 174.5,82.2 174.7,84.2 175.0,82.7 175.2,81.7 175.5,82.4 175.7,83.2 176.0,82.3 176.2,84.1 176.5,84.1 176.7,86.4 177.0,85.1 177.2,85.1 177.5,84.7 177.7,86.0 178.0,84.5 178.2,84.2 178.5,84.9 178.7,86.4 179.0,84.5 179.2,85.4 179.5,85.3 179.7,85.8 180.0,83.9 180.2,84.5 180.5,83.5 180.7,84.4 181.0,82.4 181.2,84.9 181.5,82.5 181.7,83.9 182.0,81.3 182.2,83.2 182.5,81.4 182.7,82.1 183.0,80.1 183.2,81.6 183.5,80.2 183.7,82.6 184.0,81.1 184.2,81.3 184.5,81.0 184.7,82.1 185.0,81.4 185.2,82.9 185.5,80.8 185.7,80.8 186.0,80.0 186.2,81.9 186.5,80.5 186.7,80.5 187.0,78.3 187.2,80.2 187.5,80.7 187.7,80.8 188.0,81.2 188.2,80.1 188.5,80.9 188.7,82.0 189.0,79.9 189.2,81.1 189.5,79.3 189.7,80.2 190.0,79.0 190.2,79.6 190.5,78.3 190.7,80.5 191.0,79.4 191.2,80.0 191.5,80.7 191.7,81.1 192.0,79.2 192.2,81.0 192.5,80.1 192.7,81.3 193.0,78.5 193.2,80.7 193.5,79.4 193.7,80.3 194.0,80.1 194.2,80.8 194.5,79.1 194.7,80.6 195.0,81.2 195.2,82.4 195.5,80.5 195.7,81.8 196.0,79.0 196.2,80.1 196.5,79.6 196.7,80.3 197.0,79.7 197.2,81.1 197.5,79.6 197.7,81.2 198.0,77.7 198.2,80.5 198.5,79.2 198.7,80.4 199.0,80.0 199.2,80.8 199.5,78.9 199.7,80.1 200.0,78.0 200.2,80.4 200.5,79.1 200.8,79.4 201.0,79.3 201.3,78.4 201.5,78.2 201.8,79.9 202.0,79.8 202.3,79.4 202.5,79.1 202.8,80.4 203.0,78.0 203.3,80.5 203.5,79.7 203.8,78.3 204.0,78.5 204.3,81.8 204.5,80.8 204.8,81.1 205.0,80.8 205.3,80.9 205.5,80.7 205.8,81.7 206.0,81.3 206.3,80.8 206.5,80.0 206.8,81.8 207.0,80.1 207.3,82.1 207.5,80.5 207.8,83.0 208.0,82.0 208.3,81.2 208.5,81.2 208.8,83.3 209.0,80.6 209.3,80.4 209.5,81.0 209.8,80.3 210.0,80.0 210.3,81.5 210.5,80.6 210.8,80.0 211.0,79.8 211.3,81.1 211.5,80.3 211.8,79.5 212.0,80.9 212.3,81.0 212.5,80.0 212.8,80.2 213.0,79.5 213.3,80.6 213.5,78.3 213.8,80.9 214.0,78.1 214.3,80.3 214.5,80.2 214.8,81.8 215.0,78.6 215.3,80.3 215.5,79.9 215.8,79.7 216.0,79.1 216.3,81.8 216.5,79.5 216.8,80.1 217.0,80.2 217.3,80.8 217.5,78.4 217.8,81.7 218.0,79.0 218.3,80.8 218.5,79.5 218.8,80.3 219.0,79.0 219.3,79.9 219.5,81.2 219.8,80.1 220.0,78.4 220.3,80.5 220.5,78.7 220.8,80.5 221.0,79.3 221.3,81.1 221.5,79.4 221.8,79.6 222.0,79.9 222.3,80.7 222.5,79.8 222.8,80.4 223.0,80.0 223.3,79.9 223.5,79.7 223.8,80.0 224.0,79.2 224.3,80.5 224.5,80.1 224.8,80.1 225.0,79.3 225.3,80.1 225.5,79.2 225.8,80.6 226.0,78.9 226.3,80.6 226.5,78.8 226.8,80.1 227.0,78.8 227.3,80.0 227.5,79.6 227.8,81.0 228.0,79.6 228.3,80.7 228.5,78.7 228.8,80.7 229.0,79.7 229.3,80.7 229.5,79.7 229.8,80.6 230.0,79.6 230.3,80.6 230.5,79.8 230.8,80.0 231.0,79.3 231.3,80.5 231.5,79.4 231.8,80.4 232.0,79.0 232.3,80.3 232.5,78.5 232.8,80.0 233.1,79.5 233.3,80.5 233.6,79.6 233.8,80.5 234.1,80.0 234.3,80.5 234.6,79.1 234.8,80.0 235.1,79.6 235.3,79.1 235.6,79.3 235.8,80.1 236.1,79.3 236.3,80.1 236.6,79.3 236.8,80.4 237.1,79.7 237.3,80.4 237.6,79.0 237.8,79.9 238.1,78.8 238.3,79.5 238.6,79.7 238.8,80.6 239.1,79.4 239.3,79.9 239.6,78.8 239.8,80.0 240.1,79.6 240.3,80.5 240.6,79.5 240.8,80.2 241.1,79.2 241.3,80.4 241.6,79.8 241.8,79.4 242.1,80.0 242.3,81.3 242.6,79.6 242.8,80.5 243.1,79.5 243.3,80.8 243.6,79.5 243.8,80.3 244.1,80.0 244.3,80.8 244.6,79.8 244.8,80.1 245.1,79.2 245.3,80.6 245.6,78.7 245.8,80.2 246.1,78.3 246.3,80.2 246.6,79.2 246.8,79.8 247.1,79.1 247.3,80.9 247.6,79.6 247.8,79.5 248.1,79.3 248.3,80.2 248.6,80.1 248.8,80.2 249.1,79.5 249.3,80.7 249.6,79.4 249.8,80.2 250.1,79.1 250.3,80.1 250.6,79.0 250.8,80.2 251.1,79.4 251.3,80.5 251.6,79.6 251.8,80.1 252.1,79.5 252.3,80.8 252.6,79.6 252.8,80.7 253.1,79.5 253.3,80.7 253.6,79.4 253.8,80.6 254.1,78.7 254.3,79.7 254.6,78.8 254.8,80.2 255.1,79.1 255.3,80.0 255.6,78.9 255.8,80.1 256.1,79.2 256.3,80.5 256.6,79.1 256.8,80.5 257.1,79.5 257.3,80.1 257.6,79.8 257.8,80.5 258.1,79.1 258.3,80.5 258.6,79.8 258.8,80.9 259.1,80.0 259.3,80.3 259.6,79.9 259.8,79.3 260.1,79.9 260.3,80.2 260.6,78.9 260.8,80.4 261.1,79.5 261.3,80.2 261.6,79.2 261.8,80.0 262.1,78.3 262.3,80.6 262.6,79.6 262.8,80.0 263.1,79.5 263.3,80.2 263.6,79.3 263.8,80.1 264.1,78.8 264.3,80.3 264.6,78.0 264.8,80.0 265.1,79.0 265.4,80.2 265.6,78.9 265.9,79.6 266.1,79.8 266.4,80.5 266.6,79.1 266.9,79.7 267.1,79.1 267.4,80.3 267.6,79.4 267.9,80.4 268.1,78.8 268.4,80.2 268.6,78.7 268.9,79.7 269.1,79.0 269.4,80.2 269.6,79.5 269.9,80.5 270.1,79.4 270.4,80.8 270.6,78.5 270.9,79.4 271.1,78.4 271.4,79.9 271.6,78.9 271.9,79.7 272.1,79.5 272.4,79.8 272.6,79.0 272.9,80.4 273.1,78.8 273.4,79.1 273.6,78.8 273.9,80.1 274.1,78.8 274.4,79.7 274.6,79.3 274.9,80.6 275.1,78.6 275.4,80.2 275.6,78.8 275.9,80.1 276.1,78.6 276.4,80.0 276.6,79.4 276.9,79.8 277.1,78.7 277.4,80.0 277.6,79.1 277.9,80.8 278.1,78.2 278.4,79.5 278.6,79.6 278.9,80.0 279.1,79.2 279.4,80.2 279.6,79.2 279.9,79.4 280.1,78.9 280.4,79.2 280.6,79.0 280.9,79.3 281.1,78.2 281.4,79.7 281.6,78.5 281.9,79.3 282.1,78.2 282.4,79.3 282.6,77.5 282.9,79.6 283.1,78.6 283.4,79.6 283.6,78.3 283.9,79.4 284.1,78.5 284.4,79.5 284.6,77.9 284.9,78.9 285.1,78.7 285.4,79.8 285.6,78.2 285.9,78.5 286.1,78.2 286.4,78.9 286.6,78.0 286.9,77.8 287.1,78.0 287.4,78.7 287.6,78.0 287.9,78.8 288.1,77.5 288.4,78.3 288.6,77.8 288.9,78.9 289.1,77.7 289.4,79.5 289.6,78.3 289.9,78.5 290.1,78.2 290.4,78.9 290.6,78.3 290.9,79.4 291.1,78.3 291.4,78.3 291.6,77.6 291.9,77.6 292.1,77.2 292.4,78.0 292.6,77.8 292.9,78.4 293.1,76.6 293.4,78.2 293.6,77.0 293.9,78.6 294.1,77.4 294.4,78.8 294.6,77.8 294.9,78.7 295.1,77.6 295.4,78.4 295.6,77.3 295.9,78.0 296.1,78.0 296.4,78.9 296.6,78.0 296.9,78.8 297.2,77.0 297.4,78.9 297.7,77.6 297.9,79.3 298.2,78.4 298.4,78.4 298.7,78.2 298.9,78.7 299.2,77.9 299.4,78.5 299.7,77.7 299.9,78.3 300.2,78.6 300.4,78.3 300.7,77.3 300.9,79.3 301.2,77.7 301.4,78.6 301.7,78.2 301.9,78.4 302.2,78.5 302.4,78.2 302.7,77.8 302.9,79.3 303.2,78.1 303.4,78.1 303.7,78.2 303.9,77.9 304.2,77.5 304.4,78.2 304.7,78.3 304.9,78.7 305.2,78.2 305.4,78.5 305.7,78.0 305.9,78.4 306.2,79.2 306.4,78.5 306.7,77.0 306.9,78.0 307.2,76.8 307.4,77.9 307.7,76.8 307.9,77.9 308.2,77.3 308.4,78.3 308.7,77.0 308.9,78.4 309.2,76.6 309.4,78.2 309.7,77.0 309.9,77.9 310.2,77.4 310.4,78.6 310.7,77.5 310.9,78.8 311.2,77.5 311.4,79.2 311.7,78.1 311.9,79.9 312.2,78.5 312.4,79.6 312.7,79.9 312.9,80.3 313.2,79.8 313.4,80.9 313.7,79.8 313.9,80.6 314.2,79.9 314.4,80.9 314.7,79.6 314.9,81.4 315.2,80.2 315.4,80.7 315.7,80.1 315.9,80.6 316.2,80.6 316.4,81.4 316.7,79.9 316.9,81.4 317.2,79.4 317.4,81.3 317.7,80.6 317.9,80.8 318.2,80.0 318.4,80.6 318.7,80.0 318.9,81.0 319.2,80.3 319.4,81.6 319.7,80.5 319.9,81.6 320.2,79.7 320.4,81.1 320.7,79.6 320.9,81.2 321.2,79.9 321.4,81.1 321.7,80.4 321.9,80.9 322.2,79.7 322.4,80.9 322.7,79.5 322.9,80.0 323.2,79.5 323.4,80.7 323.7,79.9 323.9,81.1 324.2,79.6 324.4,80.8 324.7,80.3 324.9,81.6 325.2,79.8 325.4,80.0 325.7,79.6 325.9,80.1 326.2,78.7 326.4,80.6 326.7,78.7 326.9,80.5 327.2,78.7 327.4,79.9 327.7,79.0 327.9,79.2 328.2,78.1 328.4,79.6 328.7,79.3 328.9,79.5 329.2,78.9" fill="none" stroke="#0000ff" stroke-width="1.0" stroke-linejoin="round" clip-path="url(#c01)"/>
<polyline points="40.0,101.5 40.3,99.6 40.5,99.9 40.8,100.1 41.0,101.3 41.3,99.0 41.5,99.7 41.8,99.2 42.0,101.0 42.3,100.2 42.5,100.7 42.8,99.5 43.0,101.7 43.3,100.0 43.5,101.5 43.8,100.2 44.0,100.1 44.3,99.1 44.5,100.3 44.8,99.1 45.0,100.7 45.3,100.0 45.5,100.0 45.8,98.9 46.0,100.9 46.3,99.4 46.5,101.1 46.8,99.8 47.0,100.2 47.3,99.4 47.5,100.0 47.8,98.9 48.0,98.1 48.3,98.3 48.5,100.1 48.8,98.2 49.0,99.2 49.3,98.7 49.5,100.3 49.8,99.9 50.0,100.5 50.3,99.2 50.5,101.0 50.8,100.1 51.0,100.4 51.3,100.6 51.5,100.2 51.8,99.2 52.0,99.8 52.3,99.5 52.5,101.4 52.8,99.1 53.0,100.7 53.3,99.3 53.5,100.6 53.8,100.8 54.0,101.0 54.3,100.3 54.5,97.9 54.8,98.5 55.0,100.3 55.3,98.3 55.5,99.1 55.8,98.5 56.0,99.7 56.3,98.5 56.5,100.2 56.8,99.3 57.0,101.5 57.3,100.3 57.5,99.2 57.8,100.4 58.0,101.9 58.3,100.7 58.5,101.1 58.8,99.8 59.0,101.5 59.3,103.3 59.5,101.5 59.8,100.2 60.0,100.3 60.3,99.5 60.5,99.7 60.8,99.6 61.0,101.4 61.3,100.9 61.5,100.9 61.8,100.7 62.0,99.0 62.3,100.8 62.5,100.8 62.8,99.9 63.0,100.0 63.3,99.8 63.5,97.4 63.8,98.6 64.0,100.9 64.3,99.1 64.5,100.0 64.8,100.2 65.0,101.4 65.3,101.1 65.5,101.6 65.8,99.0 66.0,101.9 66.3,99.3 66.5,99.1 66.8,98.9 67.0,100.9 67.3,99.0 67.5,98.8 67.8,99.8 68.0,99.7 68.3,98.6 68.5,100.6 68.8,99.4 69.0,99.8 69.3,101.9 69.5,99.9 69.8,99.3 70.0,100.2 70.3,98.4 70.5,100.3 70.8,98.0 71.0,98.3 71.3,98.8 71.5,99.6 71.8,97.9 72.0,98.5 72.3,98.5 72.6,100.3 72.8,98.3 73.1,101.3 73.3,99.9 73.6,100.2 73.8,101.0 74.1,100.4 74.3,98.7 74.6,99.4 74.8,98.5 75.1,99.6 75.3,99.5 75.6,99.3 75.8,98.6 76.1,101.3 76.3,98.2 76.6,100.0 76.8,99.1 77.1,99.5 77.3,98.9 77.6,98.5 77.8,97.7 78.1,98.4 78.3,97.7 78.6,98.9 78.8,97.8 79.1,98.9 79.3,98.1 79.6,99.6 79.8,98.5 80.1,100.2 80.3,99.1 80.6,102.0 80.8,98.7 81.1,98.5 81.3,99.5 81.6,99.6 81.8,97.6 82.1,100.2 82.3,98.3 82.6,97.3 82.8,98.9 83.1,98.9 83.3,99.2 83.6,98.8 83.8,99.6 84.1,99.5 84.3,97.9 84.6,99.6 84.8,97.6 85.1,98.3 85.3,98.9 85.6,99.5 85.8,98.4 86.1,100.4 86.3,97.2 86.6,98.8 86.8,98.6 87.1,100.0 87.3,98.8 87.6,98.8 87.8,98.4 88.1,100.1 88.3,97.2 88.6,100.3 88.8,97.7 89.1,98.2 89.3,97.4 89.6,99.0 89.8,97.2 90.1,98.6 90.3,97.8 90.6,98.0 90.8,99.0 91.1,98.6 91.3,98.0 91.6,100.0 91.8,96.5 92.1,98.5 92.3,100.7 92.6,99.7 92.8,100.0 93.1,99.5 93.3,99.1 93.6,98.2 93.8,97.8 94.1,98.5 94.3,98.7 94.6,100.0 94.8,98.3 95.1,98.1 95.3,97.1 95.6,98.9 95.8,97.3 96.1,97.4 96.3,97.8 96.6,99.4 96.8,97.1 97.1,97.5 97.3,97.0 97.6,98.8 97.8,96.9 98.1,98.6 98.3,94.8 98.6,98.9 98.8,97.8 99.1,99.2 99.3,96.7 99.6,98.3 99.8,97.0 100.1,97.6 100.3,97.0 100.6,98.4 100.8,97.3 101.1,99.5 101.3,97.5 101.6,98.8 101.8,96.3 102.1,98.8 102.3,97.6 102.6,98.4 102.8,98.5 103.1,98.3 103.3,97.8 103.6,97.7 103.8,96.4 104.1,98.9 104.4,97.0 104.6,97.8 104.9,97.9 105.1,99.3 105.4,97.8 105.6,99.5 105.9,98.0 106.1,99.2 106.4,98.8 106.6,98.9 106.9,98.8 107.1,98.6 107.4,98.5 107.6,98.7 107.9,97.7 108.1,100.2 108.4,98.0 108.6,100.4 108.9,98.5 109.1,100.2 109.4,99.0 109.6,99.8 109.9,98.9 110.1,99.9 110.4,99.2 110.6,102.2 110.9,98.8 111.1,100.4 111.4,97.1 111.6,97.2 111.9,96.6 112.1,98.3 112.4,96.5 112.6,97.5 112.9,95.7 113.1,99.1 113.4,96.7 113.6,98.4 113.9,97.1 114.1,97.0 114.4,96.4 114.6,96.4 114.9,97.0 115.1,98.3 115.4,96.7 115.6,97.9 115.9,96.9 116.1,98.1 116.4,97.6 116.6,96.9 116.9,96.5 117.1,97.4 117.4,96.8 117.6,98.2 117.9,100.7 118.1,97.3 118.4,97.8 118.6,98.1 118.9,97.2 119.1,98.6 119.4,99.0 119.6,97.9 119.9,96.8 120.1,97.8 120.4,97.2 120.6,98.0 120.9,96.1 121.1,97.8 121.4,97.1 121.6,97.2 121.9,95.2 122.1,96.3 122.4,96.0 122.6,96.5 122.9,95.6 123.1,97.1 123.4,94.6 123.6,95.2 123.9,94.7 124.1,96.6 124.4,95.1 124.6,95.8 124.9,95.8 125.1,95.9 125.4,95.3 125.6,96.3 125.9,95.6 126.1,96.5 126.4,95.3 126.6,97.4 126.9,95.6 127.1,96.7 127.4,95.2 127.6,98.0 127.9,96.8 128.1,97.3 128.4,95.8 128.6,97.1 128.9,95.2 129.1,96.9 129.4,96.8 129.6,97.2 129.9,95.9 130.1,96.4 130.4,97.4 130.6,97.3 130.9,97.8 131.1,98.4 131.4,97.3 131.6,98.3 131.9,98.3 132.1,98.9 132.4,96.8 132.6,97.4 132.9,97.3 133.1,97.3 133.4,98.6 133.6,98.9 133.9,96.5 134.1,96.8 134.4,96.2 134.6,97.7 134.9,95.6 135.1,98.9 135.4,96.9 135.6,96.7 135.9,96.2 136.1,98.2 136.4,96.2 136.7,96.3 136.9,96.9 137.2,96.9 137.4,96.4 137.7,97.2 137.9,95.8 138.2,97.7 138.4,96.7 138.7,97.9 138.9,96.8 139.2,97.9 139.4,97.1 139.7,98.8 139.9,97.5 140.2,97.9 140.4,97.0 140.7,98.6 140.9,99.0 141.2,99.2 141.4,97.7 141.7,100.3 141.9,98.0 142.2,99.1 142.4,98.7 142.7,98.9 142.9,98.3 143.2,99.2 143.4,97.9 143.7,98.4 143.9,97.2 144.2,97.4 144.4,97.5 144.7,97.5 144.9,96.3 145.2,96.0 145.4,95.3 145.7,95.8 145.9,95.4 146.2,96.8 146.4,95.6 146.7,96.9 146.9,96.0 147.2,96.2 147.4,97.4 147.7,97.7 147.9,97.5 148.2,98.3 148.4,98.2 148.7,98.6 148.9,98.4 149.2,99.3 149.4,97.8 149.7,99.9 149.9,97.5 150.2,99.1 150.4,98.8 150.7,98.9 150.9,97.4 151.2,99.2 151.4,97.1 151.7,98.5 151.9,97.6 152.2,98.6 152.4,96.7 152.7,99.3 152.9,97.5 153.2,97.9 153.4,96.9 153.7,96.4 153.9,96.3 154.2,98.6 154.4,97.3 154.7,97.3 154.9,97.4 155.2,97.8 155.4,97.9 155.7,96.4 155.9,96.8 156.2,98.0 156.4,96.4 156.7,97.1 156.9,96.5 157.2,98.1 157.4,97.3 157.7,97.3 157.9,96.6 158.2,97.8 158.4,96.7 158.7,98.3 158.9,96.2 159.2,98.6 159.4,97.7 159.7,98.3 159.9,97.6 160.2,97.4 160.4,96.4 160.7,97.3 160.9,96.4 161.2,96.6 161.4,94.1 161.7,95.8 161.9,93.4 162.2,93.1 162.4,92.6 162.7,93.5 162.9,92.2 163.2,94.6 163.4,92.5 163.7,93.5 163.9,95.2 164.2,94.2 164.4,92.9 164.7,93.1 164.9,92.2 165.2,94.4 165.4,92.1 165.7,93.1 165.9,92.3 166.2,92.5 166.4,91.7 166.7,93.3 166.9,90.2 167.2,94.6 167.4,92.3 167.7,95.3 167.9,94.8 168.2,96.0 168.4,94.7 168.7,94.4 169.0,95.7 169.2,94.1 169.5,94.1 169.7,94.8 170.0,95.2 170.2,96.3 170.5,95.1 170.7,96.7 171.0,95.2 171.2,96.3 171.5,97.0 171.7,96.2 172.0,95.9 172.2,97.6 172.5,96.0 172.7,95.3 173.0,96.2 173.2,97.0 173.5,96.4 173.7,97.3 174.0,96.5 174.2,97.6 174.5,97.4 174.7,97.8 175.0,96.4 175.2,95.7 175.5,95.8 175.7,96.1 176.0,96.2 176.2,96.5 176.5,95.7 176.7,97.5 177.0,95.5 177.2,96.5 177.5,96.3 177.7,97.6 178.0,95.4 178.2,96.1 178.5,94.9 178.7,96.4 179.0,96.1 179.2,95.4 179.5,94.7 179.7,96.6 180.0,96.4 180.2,96.9 180.5,96.6 180.7,97.6 181.0,97.3 181.2,98.3 181.5,97.6 181.7,97.3 182.0,97.7 182.2,98.0 182.5,98.2 182.7,98.4 183.0,99.6 183.2,99.4 183.5,98.5 183.7,98.9 184.0,100.0 184.2,99.3 184.5,101.4 184.7,100.1 185.0,99.5 185.2,99.2 185.5,99.4 185.7,101.7 186.0,99.5 186.2,101.4 186.5,99.2 186.7,101.5 187.0,99.4 187.2,100.0 187.5,97.7 187.7,101.9 188.0,99.2 188.2,99.9 188.5,99.5 188.7,101.9 189.0,101.3 189.2,101.1 189.5,101.0 189.7,101.8 190.0,102.8 190.2,103.1 190.5,102.1 190.7,102.1 191.0,101.4 191.2,102.9 191.5,100.4 191.7,103.3 192.0,101.9 192.2,101.6 192.5,102.1 192.7,102.5 193.0,101.8 193.2,101.0 193.5,100.2 193.7,101.7 194.0,99.5 194.2,100.6 194.5,101.0 194.7,101.2 195.0,99.6 195.2,101.4 195.5,101.0 195.7,101.4 196.0,101.0 196.2,102.2 196.5,101.0 196.7,100.7 197.0,101.5 197.2,99.1 197.5,99.7 197.7,100.5 198.0,99.4 198.2,100.5 198.5,99.1 198.7,100.1 199.0,100.0 199.2,101.6 199.5,100.4 199.7,101.3 200.0,100.8 200.2,103.4 200.5,100.6 200.8,99.9 201.0,100.1 201.3,101.1 201.5,100.6 201.8,101.1 202.0,100.3 202.3,103.6 202.5,101.5 202.8,101.6 203.0,100.8 203.3,102.8 203.5,101.4 203.8,101.2 204.0,100.6 204.3,102.3 204.5,100.5 204.8,101.4 205.0,100.1 205.3,101.4 205.5,100.2 205.8,101.4 206.0,101.1 206.3,102.2 206.5,99.6 206.8,101.5 207.0,101.0 207.3,101.7 207.5,101.0 207.8,100.3 208.0,100.1 208.3,102.0 208.5,99.8 208.8,100.7 209.0,100.6 209.3,102.2 209.5,100.9 209.8,102.0 210.0,102.1 210.3,102.2 210.5,101.8 210.8,100.9 211.0,101.3 211.3,102.6 211.5,100.4 211.8,102.5 212.0,100.7 212.3,102.6 212.5,101.1 212.8,102.9 213.0,100.3 213.3,100.1 213.5,99.5 213.8,99.5 214.0,98.5 214.3,102.0 214.5,100.2 214.8,100.7 215.0,100.4 215.3,101.9 215.5,101.8 215.8,103.3 216.0,101.3 216.3,102.5 216.5,101.2 216.8,102.7 217.0,101.3 217.3,102.8 217.5,100.5 217.8,102.4 218.0,101.8 218.3,102.9 218.5,101.4 218.8,103.4 219.0,101.0 219.3,102.3 219.5,101.2 219.8,102.7 220.0,101.1 220.3,101.6 220.5,101.3 220.8,102.1 221.0,99.9 221.3,101.5 221.5,100.8 221.8,101.0 222.0,100.1 222.3,102.2 222.5,101.3 222.8,101.6 223.0,100.8 223.3,102.2 223.5,100.7 223.8,101.8 224.0,99.7 224.3,101.4 224.5,99.9 224.8,100.9 225.0,100.7 225.3,101.8 225.5,100.9 225.8,101.6 226.0,101.0 226.3,102.0 226.5,101.0 226.8,101.8 227.0,100.5 227.3,101.1 227.5,99.9 227.8,101.6 228.0,100.2 228.3,101.0 228.5,100.6 228.8,101.0 229.0,100.3 229.3,100.7 229.5,100.4 229.8,100.5 230.0,99.9 230.3,100.6 230.5,100.2 230.8,101.3 231.0,99.9 231.3,100.5 231.5,99.6 231.8,100.4 232.0,99.3 232.3,100.3 232.5,99.6 232.8,101.7 233.1,100.1 233.3,100.7 233.6,99.5 233.8,100.9 234.1,100.1 234.3,100.7 234.6,100.0 234.8,100.6 235.1,100.1 235.3,101.8 235.6,99.3 235.8,100.6 236.1,99.8 236.3,100.5 236.6,98.9 236.8,100.3 237.1,99.1 237.3,100.0 237.6,99.1 237.8,100.1 238.1,98.9 238.3,100.3 238.6,99.4 238.8,100.0 239.1,99.5 239.3,99.9 239.6,99.4 239.8,100.5 240.1,99.5 240.3,100.4 240.6,99.4 240.8,100.2 241.1,98.5 241.3,100.1 241.6,99.2 241.8,100.3 242.1,99.4 242.3,99.7 242.6,99.6 242.8,100.0 243.1,99.2 243.3,99.3 243.6,99.0 243.8,99.6 244.1,98.5 244.3,100.1 244.6,99.3 244.8,99.9 245.1,98.7 245.3,100.0 245.6,98.8 245.8,99.5 246.1,99.0 246.3,99.4 246.6,98.4 246.8,99.8 247.1,98.4 247.3,99.9 247.6,98.8 247.8,99.7 248.1,98.8 248.3,99.1 248.6,98.4 248.8,99.6 249.1,97.4 249.3,99.3 249.6,98.7 249.8,99.4 250.1,98.7 250.3,99.6 250.6,97.9 250.8,98.9 251.1,98.6 251.3,100.2 251.6,98.2 251.8,99.7 252.1,99.0 252.3,99.9 252.6,98.6 252.8,99.3 253.1,98.4 253.3,99.8 253.6,98.5 253.8,99.6 254.1,98.8 254.3,99.4 254.6,98.7 254.8,100.0 255.1,98.7 255.3,98.8 255.6,98.7 255.8,99.5 256.1,97.6 256.3,98.5 256.6,98.4 256.8,98.5 257.1,98.2 257.3,99.4 257.6,98.2 257.8,99.0 258.1,97.9 258.3,99.0 258.6,98.7 258.8,98.3 259.1,98.6 259.3,98.5 259.6,98.5 259.8,98.5 260.1,98.4 260.3,99.9 260.6,98.1 260.8,99.3 261.1,97.5 261.3,98.4 261.6,97.4 261.8,99.1 262.1,98.1 262.3,98.0 262.6,97.0 262.8,97.8 263.1,97.6 263.3,98.7 263.6,96.9 263.8,98.6 264.1,97.3 264.3,99.0 264.6,96.9 264.8,98.1 265.1,97.6 265.4,97.9 265.6,97.1 265.9,98.0 266.1,97.5 266.4,98.1 266.6,95.5 266.9,97.5 267.1,96.9 267.4,98.3 267.6,96.6 267.9,97.5 268.1,96.6 268.4,97.5 268.6,96.2 268.9,96.7 269.1,95.7 269.4,96.2 269.6,95.8 269.9,96.4 270.1,96.3 270.4,96.3 270.6,95.4 270.9,95.9 271.1,95.4 271.4,96.1 271.6,95.1 271.9,96.4 272.1,94.6 272.4,97.7 272.6,95.2 272.9,96.6 273.1,94.6 273.4,95.9 273.6,95.1 273.9,95.9 274.1,94.8 274.4,95.7 274.6,95.0 274.9,96.1 275.1,95.1 275.4,97.5 275.6,94.1 275.9,96.0 276.1,94.9 276.4,96.5 276.6,95.5 276.9,96.4 277.1,95.2 277.4,96.0 277.6,94.4 277.9,94.8 278.1,94.8 278.4,96.0 278.6,94.4 278.9,95.4 279.1,94.4 279.4,95.6 279.6,94.7 279.9,95.0 280.1,94.2 280.4,95.6 280.6,94.2 280.9,96.0 281.1,94.1 281.4,94.2 281.6,94.4 281.9,95.4 282.1,94.0 282.4,95.0 282.6,94.1 282.9,95.2 283.1,94.3 283.4,95.8 283.6,94.6 283.9,94.6 284.1,94.6 284.4,95.0 284.6,94.8 284.9,95.4 285.1,94.1 285.4,94.9 285.6,94.3 285.9,95.1 286.1,94.9 286.4,95.4 286.6,95.1 286.9,95.8 287.1,95.0 287.4,96.4 287.6,95.0 287.9,96.5 288.1,95.7 288.4,96.9 288.6,95.5 288.9,97.3 289.1,95.8 289.4,95.7 289.6,95.8 289.9,96.1 290.1,95.2 290.4,96.7 290.6,95.8 290.9,96.8 291.1,95.6 291.4,96.1 291.6,94.4 291.9,95.8 292.1,94.7 292.4,94.3 292.6,93.7 292.9,94.5 293.1,94.3 293.4,95.3 293.6,94.4 293.9,95.4 294.1,93.4 294.4,94.9 294.6,92.9 294.9,94.3 295.1,94.9 295.4,95.4 295.6,94.3 295.9,94.7 296.1,95.0 296.4,95.8 296.6,94.8 296.9,96.4 297.2,94.7 297.4,95.5 297.7,95.0 297.9,96.0 298.2,95.3 298.4,96.3 298.7,95.4 298.9,96.6 299.2,95.1 299.4,97.0 299.7,94.4 299.9,96.1 300.2,95.3 300.4,95.3 300.7,94.9 300.9,95.8 301.2,95.3 301.4,95.1 301.7,95.2 301.9,96.1 302.2,93.7 302.4,95.2 302.7,94.0 302.9,93.7 303.2,93.1 303.4,94.1 303.7,93.2 303.9,94.0 304.2,93.7 304.4,94.3 304.7,93.4 304.9,94.0 305.2,93.2 305.4,94.3 305.7,92.8 305.9,94.0 306.2,93.0 306.4,93.8 306.7,93.0 306.9,93.8 307.2,93.4 307.4,94.0 307.7,92.6 307.9,93.9 308.2,93.0 308.4,93.6 308.7,92.7 308.9,93.4 309.2,93.0 309.4,93.5 309.7,93.0 309.9,93.1 310.2,93.0 310.4,93.1 310.7,94.0 310.9,95.2 311.2,96.5 311.4,97.7 311.7,98.0 311.9,99.8 312.2,99.6 312.4,102.8 312.7,100.0 312.9,101.9 313.2,100.4 313.4,101.6 313.7,100.0 313.9,100.8 314.2,100.2 314.4,101.7 314.7,101.1 314.9,102.0 315.2,102.3 315.4,101.6 315.7,100.6 315.9,101.4 316.2,99.8 316.4,101.3 316.7,100.5 316.9,101.9 317.2,100.4 317.4,101.4 317.7,100.2 317.9,101.6 318.2,100.5 318.4,102.3 318.7,100.4 318.9,101.2 319.2,100.0 319.4,102.5 319.7,101.6 319.9,102.3 320.2,100.9 320.4,103.1 320.7,100.8 320.9,101.7 321.2,100.9 321.4,101.4 321.7,100.1 321.9,100.6 322.2,100.3 322.4,100.3 322.7,99.9 322.9,100.9 323.2,99.9 323.4,99.4 323.7,99.0 323.9,100.0 324.2,98.6 324.4,99.6 324.7,98.8 324.9,100.4 325.2,99.4 325.4,100.1 325.7,99.3 325.9,99.9 326.2,98.9 326.4,99.8 326.7,98.8 326.9,100.2 327.2,97.8 327.4,100.0 327.7,98.9 327.9,99.6 328.2,98.0 328.4,99.5 328.7,98.6 328.9,98.6 329.2,97.9" fill="none" stroke="#008000" stroke-width="1.0" stroke-linejoin="round" clip-path="url(#c01)"/>
<polyline points="40.0,73.9 40.3,72.8 40.5,72.3 40.8,71.2 41.0,73.4 41.3,70.4 41.5,72.1 41.8,71.8 42.0,73.3 42.3,73.4 42.5,72.9 42.8,71.7 43.0,73.2 43.3,71.6 43.5,73.4 43.8,72.4 44.0,73.3 44.3,72.8 44.5,72.2 44.8,70.5 45.0,71.8 45.3,72.1 45.5,72.4 45.8,71.2 46.0,72.2 46.3,70.3 46.5,72.1 46.8,75.3 47.0,72.7 47.3,72.8 47.5,72.9 47.8,70.6 48.0,73.3 48.3,71.7 48.5,73.3 48.8,72.4 49.0,73.6 49.3,73.8 49.5,73.6 49.8,74.0 50.0,74.1 50.3,72.9 50.5,74.7 50.8,71.2 51.0,73.4 51.3,73.0 51.5,73.6 51.8,72.6 52.0,74.5 52.3,73.9 52.5,74.1 52.8,73.2 53.0,74.3 53.3,73.0 53.5,73.7 53.8,73.1 54.0,74.8 54.3,72.6 54.5,73.4 54.8,72.9 55.0,75.2 55.3,72.4 55.5,74.2 55.8,74.4 56.0,74.3 56.3,72.7 56.5,75.4 56.8,75.0 57.0,73.7 57.3,73.2 57.5,74.9 57.8,73.9 58.0,74.6 58.3,72.5 58.5,73.2 58.8,72.6 59.0,74.7 59.3,73.8 59.5,73.3 59.8,77.9 60.0,77.4 60.3,73.5 60.5,75.3 60.8,74.2 61.0,74.0 61.3,73.9 61.5,75.1 61.8,72.6 62.0,72.9 62.3,73.8 62.5,75.4 62.8,73.1 63.0,74.7 63.3,74.0 63.5,74.7 63.8,73.8 64.0,75.6 64.3,74.3 64.5,75.9 64.8,74.9 65.0,74.0 65.3,74.1 65.5,74.0 65.8,73.4 66.0,74.1 66.3,74.5 66.5,76.0 66.8,78.3 67.0,75.2 67.3,74.6 67.5,75.6 67.8,74.1 68.0,74.7 68.3,73.8 68.5,76.0 68.8,73.4 69.0,75.6 69.3,73.2 69.5,75.4 69.8,71.5 70.0,74.5 70.3,73.4 70.5,73.3 70.8,72.3 71.0,72.5 71.3,73.3 71.5,73.3 71.8,71.5 72.0,72.2 72.3,72.0 72.6,73.8 72.8,72.1 73.1,72.8 73.3,72.0 73.6,73.2 73.8,72.3 74.1,74.3 74.3,73.9 74.6,74.4 74.8,74.0 75.1,74.7 75.3,72.4 75.6,73.0 75.8,71.6 76.1,72.8 76.3,71.6 76.6,73.6 76.8,73.1 77.1,74.7 77.3,72.0 77.6,72.1 77.8,72.3 78.1,73.5 78.3,71.7 78.6,73.8 78.8,73.2 79.1,74.8 79.3,72.0 79.6,72.4 79.8,69.5 80.1,74.0 80.3,72.7 80.6,74.2 80.8,72.7 81.1,73.9 81.3,73.1 81.6,74.0 81.8,73.5 82.1,73.3 82.3,73.4 82.6,74.0 82.8,74.5 83.1,75.0 83.3,74.0 83.6,74.7 83.8,72.9 84.1,72.8 84.3,74.3 84.6,71.9 84.8,73.2 85.1,71.3 85.3,73.5 85.6,72.7 85.8,73.9 86.1,74.5 86.3,71.9 86.6,74.0 86.8,73.8 87.1,76.3 87.3,73.3 87.6,75.1 87.8,73.3 88.1,75.3 88.3,74.1 88.6,74.8 88.8,73.6 89.1,74.9 89.3,74.3 89.6,74.3 89.8,72.3 90.1,73.5 90.3,71.9 90.6,73.1 90.8,71.9 91.1,73.2 91.3,72.7 91.6,73.7 91.8,71.6 92.1,73.2 92.3,72.7 92.6,72.6 92.8,71.7 93.1,72.5 93.3,71.4 93.6,73.7 93.8,71.8 94.1,73.5 94.3,72.2 94.6,73.5 94.8,72.6 95.1,72.2 95.3,70.4 95.6,70.3 95.8,70.8 96.1,70.3 96.3,70.5 96.6,70.6 96.8,69.8 97.1,71.6 97.3,69.5 97.6,71.6 97.8,69.0 98.1,70.7 98.3,71.0 98.6,71.0 98.8,71.3 99.1,72.1 99.3,70.6 99.6,73.2 99.8,71.6 100.1,72.2 100.3,71.2 100.6,72.4 100.8,72.5 101.1,72.8 101.3,71.1 101.6,71.7 101.8,70.8 102.1,72.4 102.3,70.3 102.6,71.7 102.8,70.9 103.1,71.3 103.3,71.0 103.6,71.8 103.8,69.8 104.1,72.2 104.4,70.1 104.6,71.9 104.9,70.3 105.1,72.2 105.4,70.8 105.6,71.2 105.9,70.3 106.1,71.0 106.4,71.7 106.6,72.5 106.9,71.5 107.1,73.2 107.4,71.4 107.6,74.3 107.9,71.9 108.1,72.8 108.4,73.6 108.6,74.6 108.9,73.5 109.1,74.3 109.4,74.7 109.6,75.4 109.9,75.5 110.1,76.2 110.4,74.6 110.6,77.9 110.9,74.8 111.1,75.0 111.4,75.0 111.6,74.7 111.9,73.4 112.1,74.3 112.4,72.8 112.6,73.7 112.9,72.6 113.1,73.5 113.4,71.7 113.6,72.9 113.9,72.2 114.1,72.4 114.4,71.4 114.6,71.2 114.9,70.8 115.1,71.8 115.4,69.9 115.6,71.4 115.9,68.9 116.1,70.8 116.4,69.9 116.6,70.1 116.9,69.0 117.1,69.4 117.4,69.8 117.6,69.2 117.9,69.1 118.1,70.2 118.4,69.6 118.6,71.1 118.9,71.5 119.1,71.2 119.4,69.1 119.6,70.3 119.9,70.5 120.1,69.0 120.4,68.7 120.6,69.2 120.9,67.7 121.1,68.3 121.4,67.9 121.6,67.3 121.9,67.5 122.1,69.3 122.4,66.6 122.6,69.6 122.9,68.1 123.1,69.4 123.4,66.8 123.6,68.1 123.9,66.8 124.1,67.2 124.4,67.1 124.6,67.3 124.9,67.1 125.1,67.8 125.4,66.6 125.6,66.5 125.9,67.5 126.1,68.7 126.4,67.5 126.6,69.8 126.9,68.6 127.1,69.9 127.4,69.7 127.6,69.1 127.9,69.2 128.1,70.6 128.4,69.3 128.6,70.3 128.9,70.7 129.1,70.4 129.4,70.6 129.6,71.7 129.9,69.3 130.1,69.6 130.4,69.5 130.6,69.2 130.9,69.6 131.1,71.6 131.4,68.7 131.6,69.9 131.9,70.4 132.1,70.8 132.4,70.1 132.6,70.5 132.9,72.0 133.1,72.4 133.4,71.5 133.6,72.4 133.9,71.3 134.1,71.9 134.4,71.0 134.6,70.4 134.9,70.6 135.1,71.8 135.4,71.1 135.6,71.8 135.9,69.4 136.1,70.9 136.4,70.9 136.7,71.4 136.9,70.0 137.2,71.7 137.4,69.7 137.7,72.5 137.9,67.7 138.2,70.4 138.4,69.8 138.7,71.0 138.9,69.3 139.2,71.1 139.4,69.4 139.7,71.3 139.9,71.4 140.2,71.1 140.4,70.4 140.7,72.5 140.9,71.1 141.2,73.4 141.4,73.0 141.7,74.6 141.9,72.7 142.2,72.9 142.4,71.4 142.7,71.7 142.9,72.1 143.2,73.2 143.4,71.6 143.7,71.3 143.9,70.7 144.2,72.7 144.4,70.6 144.7,70.7 144.9,71.0 145.2,70.8 145.4,68.7 145.7,69.5 145.9,66.7 146.2,69.0 146.4,68.8 146.7,69.6 146.9,69.2 147.2,68.8 147.4,69.0 147.7,70.7 147.9,68.7 148.2,69.6 148.4,69.6 148.7,70.9 148.9,70.5 149.2,70.9 149.4,69.3 149.7,70.6 149.9,70.0 150.2,71.1 150.4,71.2 150.7,71.9 150.9,70.7 151.2,71.8 151.4,72.5 151.7,71.9 151.9,72.4 152.2,73.3 152.4,71.9 152.7,73.2 152.9,71.9 153.2,71.8 153.4,72.3 153.7,71.6 153.9,69.8 154.2,70.7 154.4,73.1 154.7,71.4 154.9,69.8 155.2,70.6 155.4,69.4 155.7,70.9 155.9,69.2 156.2,73.3 156.4,70.1 156.7,71.1 156.9,70.9 157.2,70.9 157.4,71.3 157.7,71.2 157.9,71.2 158.2,71.7 158.4,69.9 158.7,72.9 158.9,72.1 159.2,72.4 159.4,70.8 159.7,72.2 159.9,70.2 160.2,71.2 160.4,70.4 160.7,70.6 160.9,68.1 161.2,67.1 161.4,64.7 161.7,65.3 161.9,62.3 162.2,63.0 162.4,62.6 162.7,64.9 162.9,64.4 163.2,65.2 163.4,63.0 163.7,64.1 163.9,63.3 164.2,63.7 164.4,62.3 164.7,62.8 164.9,63.5 165.2,65.1 165.4,62.7 165.7,64.8 165.9,63.3 166.2,65.9 166.4,63.9 166.7,64.5 166.9,64.7 167.2,66.6 167.4,64.8 167.7,65.9 167.9,65.5 168.2,67.2 168.4,64.7 168.7,65.7 169.0,64.8 169.2,65.0 169.5,65.6 169.7,65.5 170.0,64.5 170.2,66.1 170.5,64.9 170.7,66.5 171.0,65.1 171.2,67.2 171.5,67.9 171.7,68.6 172.0,67.5 172.2,68.0 172.5,68.8 172.7,68.8 173.0,67.4 173.2,68.0 173.5,67.6 173.7,67.8 174.0,66.2 174.2,66.9 174.5,66.8 174.7,68.0 175.0,66.7 175.2,68.2 175.5,66.5 175.7,67.4 176.0,67.4 176.2,67.5 176.5,65.2 176.7,68.4 177.0,68.6 177.2,68.6 177.5,67.4 177.7,68.8 178.0,67.5 178.2,67.1 178.5,66.5 178.7,68.1 179.0,65.6 179.2,66.7 179.5,67.4 179.7,67.2 180.0,66.5 180.2,66.8 180.5,67.8 180.7,67.6 181.0,69.3 181.2,70.1 181.5,69.0 181.7,70.9 182.0,69.2 182.2,70.1 182.5,70.8 182.7,71.6 183.0,70.0 183.2,71.1 183.5,70.5 183.7,71.2 184.0,70.4 184.2,71.5 184.5,71.1 184.7,71.5 185.0,71.4 185.2,70.6 185.5,70.3 185.7,71.3 186.0,70.3 186.2,71.8 186.5,70.1 186.7,70.6 187.0,70.2 187.2,72.8 187.5,70.8 187.7,72.3 188.0,71.4 188.2,73.4 188.5,74.5 188.7,74.1 189.0,72.8 189.2,72.5 189.5,73.2 189.7,73.8 190.0,74.2 190.2,75.4 190.5,74.4 190.7,74.8 191.0,75.0 191.2,75.7 191.5,75.2 191.7,76.2 192.0,75.3 192.2,76.8 192.5,74.7 192.7,76.3 193.0,76.6 193.2,76.9 193.5,75.3 193.7,77.5 194.0,75.9 194.2,77.1 194.5,76.8 194.7,76.7 195.0,76.9 195.2,76.5 195.5,76.8 195.7,76.7 196.0,75.9 196.2,76.7 196.5,74.2 196.7,77.1 197.0,75.0 197.2,76.1 197.5,75.3 197.7,77.7 198.0,76.4 198.2,77.1 198.5,76.5 198.7,77.1 199.0,75.9 199.2,77.2 199.5,76.4 199.7,77.4 200.0,75.6 200.2,77.2 200.5,76.2 200.8,77.5 201.0,77.8 201.3,77.3 201.5,77.5 201.8,78.0 202.0,77.4 202.3,74.7 202.5,76.6 202.8,78.8 203.0,77.4 203.3,79.6 203.5,79.0 203.8,78.7 204.0,77.0 204.3,77.8 204.5,77.7 204.8,79.3 205.0,77.5 205.3,78.7 205.5,78.6 205.8,78.0 206.0,77.0 206.3,76.7 206.5,76.8 206.8,76.1 207.0,75.4 207.3,75.9 207.5,74.7 207.8,75.7 208.0,74.7 208.3,74.8 208.5,73.2 208.8,74.3 209.0,71.9 209.3,75.9 209.5,74.3 209.8,74.9 210.0,75.6 210.3,75.5 210.5,75.8 210.8,76.1 211.0,75.7 211.3,77.4 211.5,76.1 211.8,77.1 212.0,76.8 212.3,78.3 212.5,76.9 212.8,77.8 213.0,77.4 213.3,77.5 213.5,75.7 213.8,77.9 214.0,77.3 214.3,78.2 214.5,76.6 214.8,77.2 215.0,77.6 215.3,77.6 215.5,77.4 215.8,78.5 216.0,76.5 216.3,78.4 216.5,77.3 216.8,79.8 217.0,79.0 217.3,79.7 217.5,78.1 217.8,79.1 218.0,78.8 218.3,80.3 218.5,80.0 218.8,79.4 219.0,76.2 219.3,80.2 219.5,77.0 219.8,80.0 220.0,79.0 220.3,80.8 220.5,78.8 220.8,80.2 221.0,79.4 221.3,80.6 221.5,80.4 221.8,80.7 222.0,79.5 222.3,80.5 222.5,80.3 222.8,80.2 223.0,79.5 223.3,79.3 223.5,78.0 223.8,78.3 224.0,75.9 224.3,76.8 224.5,74.3 224.8,74.4 225.0,73.5 225.3,75.3 225.5,73.3 225.8,74.8 226.0,73.1 226.3,74.3 226.5,73.1 226.8,73.8 227.0,73.6 227.3,75.5 227.5,73.7 227.8,73.6 228.0,72.2 228.3,73.6 228.5,73.1 228.8,73.1 229.0,72.9 229.3,73.1 229.5,72.4 229.8,72.7 230.0,71.8 230.3,72.5 230.5,72.3 230.8,72.7 231.0,72.1 231.3,73.2 231.5,72.1 231.8,72.8 232.0,71.6 232.3,72.7 232.5,72.4 232.8,73.1 233.1,71.8 233.3,72.6 233.6,71.6 233.8,72.8 234.1,71.3 234.3,73.4 234.6,70.9 234.8,72.2 235.1,71.4 235.3,72.1 235.6,70.9 235.8,72.3 236.1,71.5 236.3,72.0 236.6,70.7 236.8,71.8 237.1,70.9 237.3,72.4 237.6,71.2 237.8,71.6 238.1,71.1 238.3,72.3 238.6,70.6 238.8,71.5 239.1,71.1 239.3,70.7 239.6,70.5 239.8,71.5 240.1,70.3 240.3,71.1 240.6,69.7 240.8,70.8 241.1,70.4 241.3,71.4 241.6,69.8 241.8,71.0 242.1,69.9 242.3,70.9 242.6,70.4 242.8,70.6 243.1,69.7 243.3,70.6 243.6,70.5 243.8,71.2 244.1,71.3 244.3,70.3 244.6,70.2 244.8,70.6 245.1,69.9 245.3,70.7 245.6,69.8 245.8,70.6 246.1,70.1 246.3,70.8 246.6,70.1 246.8,70.6 247.1,70.2 247.3,70.9 247.6,70.0 247.8,71.3 248.1,70.3 248.3,71.2 248.6,70.2 248.8,71.4 249.1,70.2 249.3,70.5 249.6,69.6 249.8,70.5 250.1,69.1 250.3,69.8 250.6,68.9 250.8,70.6 251.1,69.3 251.3,69.8 251.6,68.8 251.8,70.8 252.1,69.6 252.3,68.9 252.6,69.7 252.8,70.7 253.1,69.1 253.3,70.6 253.6,69.5 253.8,70.8 254.1,69.8 254.3,70.6 254.6,69.7 254.8,70.3 255.1,70.0 255.3,70.9 255.6,69.9 255.8,70.7 256.1,69.5 256.3,70.0 256.6,69.0 256.8,70.2 257.1,69.6 257.3,70.8 257.6,69.9 257.8,70.5 258.1,68.6 258.3,70.1 258.6,68.9 258.8,69.8 259.1,68.6 259.3,69.9 259.6,68.7 259.8,70.5 260.1,69.7 260.3,69.9 260.6,69.4 260.8,70.0 261.1,69.1 261.3,70.0 261.6,68.5 261.8,69.8 262.1,69.1 262.3,70.0 262.6,68.9 262.8,70.1 263.1,69.1 263.3,69.8 263.6,68.6 263.8,70.8 264.1,68.7 264.3,69.9 264.6,69.5 264.8,69.6 265.1,69.5 265.4,70.4 265.6,69.4 265.9,69.4 266.1,69.0 266.4,68.9 266.6,68.4 266.9,68.8 267.1,67.7 267.4,69.1 267.6,68.0 267.9,69.1 268.1,67.5 268.4,68.3 268.6,68.1 268.9,68.9 269.1,67.0 269.4,68.3 269.6,66.5 269.9,67.9 270.1,67.4 270.4,67.7 270.6,67.6 270.9,67.8 271.1,67.4 271.4,69.1 271.6,67.9 271.9,68.7 272.1,67.5 272.4,69.7 272.6,67.0 272.9,67.5 273.1,67.1 273.4,66.3 273.6,67.0 273.9,67.6 274.1,66.6 274.4,67.9 274.6,66.7 274.9,67.2 275.1,66.7 275.4,67.4 275.6,66.3 275.9,67.2 276.1,66.5 276.4,68.2 276.6,65.9 276.9,67.2 277.1,66.4 277.4,67.6 277.6,66.0 277.9,67.6 278.1,66.5 278.4,66.8 278.6,65.5 278.9,66.4 279.1,66.7 279.4,66.4 279.6,64.9 279.9,66.5 280.1,66.1 280.4,67.0 280.6,65.7 280.9,65.6 281.1,66.4 281.4,66.4 281.6,65.5 281.9,66.6 282.1,65.2 282.4,66.9 282.6,65.7 282.9,66.2 283.1,65.2 283.4,66.7 283.6,65.8 283.9,67.1 284.1,65.9 284.4,66.5 284.6,65.5 284.9,66.3 285.1,65.6 285.4,65.5 285.6,65.6 285.9,66.0 286.1,65.5 286.4,66.8 286.6,65.0 286.9,68.1 287.1,65.6 287.4,67.3 287.6,66.5 287.9,67.2 288.1,65.8 288.4,66.8 288.6,66.6 288.9,67.8 289.1,66.9 289.4,67.2 289.6,65.8 289.9,67.6 290.1,66.2 290.4,68.3 290.6,67.2 290.9,67.0 291.1,66.4 291.4,67.1 291.6,65.9 291.9,65.8 292.1,65.2 292.4,66.0 292.6,65.8 292.9,65.4 293.1,65.2 293.4,65.6 293.6,64.3 293.9,65.7 294.1,65.1 294.4,65.8 294.6,64.6 294.9,65.5 295.1,65.3 295.4,66.0 295.6,64.6 295.9,65.4 296.1,64.3 296.4,65.2 296.6,64.8 296.9,65.7 297.2,64.5 297.4,65.0 297.7,64.4 297.9,65.7 298.2,64.8 298.4,65.0 298.7,64.7 298.9,65.5 299.2,64.4 299.4,65.6 299.7,64.5 299.9,66.0 300.2,65.2 300.4,66.0 300.7,65.5 300.9,65.7 301.2,65.0 301.4,66.4 301.7,65.4 301.9,66.5 302.2,63.7 302.4,65.6 302.7,65.1 302.9,66.1 303.2,65.1 303.4,66.1 303.7,64.5 303.9,65.3 304.2,64.6 304.4,65.7 304.7,64.8 304.9,65.6 305.2,65.0 305.4,64.7 305.7,64.5 305.9,65.2 306.2,67.9 306.4,65.6 306.7,64.2 306.9,65.5 307.2,63.1 307.4,65.8 307.7,64.4 307.9,64.6 308.2,63.7 308.4,64.8 308.7,63.5 308.9,63.7 309.2,63.0 309.4,63.9 309.7,64.8 309.9,63.7 310.2,63.0 310.4,64.2 310.7,64.1 310.9,66.3 311.2,65.9 311.4,69.0 311.7,70.5 311.9,72.6 312.2,73.4 312.4,76.4 312.7,75.5 312.9,77.7 313.2,76.5 313.4,77.6 313.7,77.8 313.9,79.0 314.2,78.3 314.4,79.2 314.7,78.2 314.9,78.5 315.2,78.0 315.4,77.9 315.7,77.3 315.9,77.5 316.2,76.4 316.4,76.7 316.7,75.9 316.9,75.8 317.2,75.2 317.4,74.7 317.7,74.6 317.9,74.8 318.2,74.0 318.4,74.9 318.7,73.8 318.9,75.2 319.2,73.2 319.4,74.5 319.7,73.2 319.9,74.5 320.2,73.5 320.4,73.9 320.7,73.6 320.9,74.1 321.2,73.4 321.4,73.7 321.7,73.8 321.9,72.7 322.2,72.8 322.4,73.6 322.7,72.7 322.9,73.9 323.2,72.9 323.4,74.0 323.7,73.2 323.9,73.3 324.2,72.9 324.4,73.8 324.7,72.8 324.9,73.3 325.2,71.9 325.4,72.3 325.7,71.6 325.9,71.8 326.2,71.5 326.4,72.0 326.7,71.0 326.9,72.8 327.2,70.2 327.4,70.7 327.7,70.7 327.9,70.8 328.2,69.4 328.4,70.9 328.7,70.6 328.9,71.1 329.2,69.7" fill="none" stroke="#ff0000" stroke-width="1.0" stroke-linejoin="round" clip-path="url(#c01)"/>
<polyline points="40.0,143.2 40.1,128.0 40.3,140.9 40.4,128.5 40.5,142.5 40.6,131.4 40.8,146.2 40.9,129.4 41.0,140.1 41.1,130.2 41.3,139.6 41.4,128.6 41.5,139.7 41.6,131.3 41.8,141.5 41.9,130.0 42.0,140.0 42.1,132.1 42.3,141.8 42.4,128.1 42.5,141.1 42.6,130.4 42.8,140.2 42.9,132.7 43.0,140.3 43.1,130.7 43.3,139.9 43.4,131.0 43.5,140.1 43.6,130.6 43.8,139.0 43.9,130.4 44.0,141.7 44.1,131.3 44.3,139.5 44.4,131.4 44.5,140.7 44.6,131.8 44.8,137.9 44.9,131.2 45.0,141.0 45.1,132.0 45.3,141.5 45.4,129.4 45.5,139.5 45.6,131.0 45.8,138.6 45.9,132.5 46.0,138.3 46.1,131.9 46.3,137.8 46.4,132.5 46.5,139.2 46.6,130.2 46.8,139.4 46.9,132.5 47.0,138.6 47.1,130.2 47.3,138.5 47.4,132.1 47.5,141.1 47.6,130.1 47.8,140.1 47.9,131.5 48.0,138.0 48.1,127.5 48.3,138.8 48.4,131.1 48.5,139.9 48.6,130.6 48.8,139.8 48.9,130.2 49.0,139.0 49.1,131.4 49.3,138.0 49.4,130.9 49.5,138.9 49.6,130.8 49.8,139.4 49.9,131.7 50.0,140.2 50.1,131.9 50.3,142.7 50.4,131.5 50.5,139.2 50.6,131.0 50.8,138.9 50.9,131.7 51.0,141.6 51.1,132.0 51.3,142.2 51.4,130.9 51.5,142.7 51.6,129.6 51.8,141.3 51.9,130.8 52.0,143.9 52.1,130.3 52.3,139.1 52.4,130.8 52.5,141.0 52.6,125.2 52.8,139.9 52.9,130.1 53.0,141.7 53.1,128.9 53.3,141.8 53.4,130.9 53.5,139.9 53.6,131.3 53.8,139.4 53.9,131.0 54.0,141.5 54.1,130.1 54.3,139.8 54.4,131.2 54.5,140.3 54.6,131.5 54.8,138.4 54.9,132.0 55.0,138.7 55.1,129.0 55.3,138.3 55.4,131.1 55.5,140.9 55.6,129.5 55.8,141.8 55.9,129.6 56.0,141.7 56.1,130.7 56.3,139.8 56.4,132.0 56.5,140.3 56.6,128.3 56.8,139.2 56.9,131.5 57.0,141.0 57.1,131.9 57.3,139.5 57.4,131.8 57.5,139.8 57.6,128.7 57.8,141.6 57.9,130.4 58.0,139.5 58.1,132.8 58.3,142.3 58.4,132.6 58.5,139.2 58.6,131.8 58.8,143.5 58.9,132.6 59.0,140.8 59.1,131.8 59.3,143.5 59.4,129.6 59.5,140.4 59.6,132.0 59.8,140.9 59.9,149.8 60.0,141.1 60.1,129.3 60.3,141.2 60.4,131.2 60.5,140.8 60.6,132.4 60.8,142.1 60.9,133.2 61.0,143.0 61.1,132.1 61.3,140.9 61.4,130.0 61.5,144.1 61.6,131.8 61.8,144.6 61.9,132.7 62.0,141.3 62.1,133.7 62.3,144.6 62.4,133.2 62.5,142.8 62.6,134.2 62.8,142.1 62.9,133.5 63.0,143.6 63.1,133.9 63.3,142.6 63.4,134.0 63.5,145.4 63.6,131.0 63.8,144.2 63.9,133.8 64.0,144.3 64.1,131.0 64.3,140.3 64.4,131.9 64.5,141.0 64.6,132.4 64.8,142.2 64.9,134.0 65.0,142.6 65.1,132.3 65.3,141.2 65.4,131.5 65.5,139.7 65.6,132.4 65.8,141.4 65.9,132.1 66.0,142.6 66.1,131.9 66.3,140.3 66.4,132.1 66.5,142.2 66.6,130.9 66.8,142.7 66.9,131.3 67.0,141.5 67.1,133.4 67.3,142.3 67.4,133.7 67.5,141.3 67.6,132.2 67.8,142.2 67.9,131.4 68.0,141.4 68.1,133.1 68.3,140.8 68.4,133.0 68.5,142.1 68.6,133.1 68.8,140.4 68.9,132.0 69.0,142.5 69.1,130.6 69.3,139.7 69.4,133.7 69.5,140.7 69.6,133.5 69.8,142.1 69.9,132.8 70.0,141.8 70.1,132.6 70.3,139.9 70.4,131.7 70.5,141.0 70.6,133.2 70.8,141.0 70.9,131.5 71.0,139.8 71.1,131.8 71.3,141.4 71.4,131.4 71.5,140.8 71.6,133.0 71.8,140.8 71.9,132.7 72.0,139.7 72.1,130.9 72.3,141.0 72.4,132.9 72.5,140.9 72.6,133.0 72.8,142.1 72.9,133.7 73.0,139.9 73.1,132.2 73.3,140.7 73.4,132.1 73.5,145.4 73.6,133.2 73.8,141.2 73.9,129.5 74.0,141.2 74.1,129.8 74.3,141.9 74.4,134.0 74.5,141.5 74.6,134.6 74.8,141.4 74.9,133.1 75.0,140.6 75.1,132.4 75.3,141.8 75.4,132.2 75.5,140.4 75.6,131.6 75.8,143.2 75.9,133.2 76.0,140.5 76.2,133.4 76.3,141.0 76.4,132.7 76.5,139.9 76.7,133.4 76.8,140.2 76.9,131.2 77.0,141.6 77.2,132.6 77.3,141.1 77.4,131.0 77.5,140.4 77.7,133.1 77.8,143.1 77.9,131.1 78.0,140.9 78.2,132.9 78.3,144.0 78.4,132.6 78.5,140.7 78.7,129.8 78.8,142.5 78.9,130.1 79.0,142.9 79.2,132.5 79.3,143.7 79.4,131.7 79.5,142.0 79.7,129.6 79.8,141.3 79.9,132.5 80.0,142.7 80.2,133.5 80.3,142.7 80.4,132.9 80.5,142.5 80.7,131.1 80.8,146.1 80.9,131.2 81.0,143.1 81.2,132.4 81.3,144.6 81.4,133.8 81.5,142.7 81.7,133.7 81.8,142.1 81.9,130.9 82.0,143.4 82.2,130.2 82.3,147.1 82.4,133.1 82.5,141.8 82.7,131.0 82.8,141.5 82.9,132.0 83.0,143.3 83.2,130.8 83.3,144.3 83.4,131.7 83.5,142.3 83.7,130.7 83.8,141.2 83.9,132.4 84.0,140.5 84.2,133.3 84.3,139.9 84.4,131.0 84.5,140.7 84.7,131.5 84.8,140.0 84.9,130.9 85.0,142.0 85.2,130.6 85.3,141.7 85.4,131.3 85.5,142.9 85.7,128.4 85.8,143.1 85.9,131.8 86.0,140.7 86.2,129.7 86.3,144.6 86.4,132.1 86.5,145.3 86.7,132.8 86.8,141.1 86.9,132.1 87.0,144.4 87.2,132.4 87.3,142.3 87.4,132.7 87.5,141.3 87.7,130.2 87.8,143.0 87.9,132.3 88.0,143.2 88.2,134.2 88.3,144.9 88.4,133.2 88.5,142.0 88.7,129.9 88.8,143.1 88.9,131.8 89.0,141.3 89.2,131.8 89.3,141.4 89.4,129.1 89.5,141.1 89.7,131.6 89.8,140.2 89.9,132.6 90.0,141.7 90.2,132.5 90.3,141.4 90.4,131.4 90.5,141.3 90.7,130.6 90.8,142.5 90.9,132.5 91.0,140.0 91.2,134.1 91.3,140.6 91.4,130.0 91.5,143.2 91.7,133.4 91.8,142.4 91.9,130.9 92.0,144.9 92.2,132.8 92.3,140.5 92.4,134.1 92.5,142.5 92.7,131.1 92.8,141.3 92.9,130.6 93.0,143.6 93.2,134.1 93.3,142.1 93.4,132.3 93.5,140.6 93.7,129.9 93.8,140.8 93.9,133.8 94.0,141.3 94.2,132.6 94.3,140.3 94.4,130.7 94.5,140.7 94.7,132.4 94.8,143.1 94.9,132.4 95.0,141.9 95.2,131.1 95.3,141.3 95.4,129.5 95.5,143.2 95.7,130.0 95.8,141.2 95.9,131.7 96.0,140.5 96.2,131.3 96.3,141.4 96.4,133.0 96.5,146.4 96.7,132.5 96.8,144.3 96.9,133.6 97.0,142.2 97.2,133.9 97.3,142.6 97.4,131.2 97.5,144.5 97.7,132.7 97.8,145.0 97.9,134.8 98.0,146.0 98.2,135.3 98.3,142.7 98.4,133.3 98.5,142.1 98.7,133.6 98.8,141.7 98.9,135.3 99.0,141.8 99.2,134.5 99.3,150.8 99.4,133.2 99.5,144.4 99.7,134.7 99.8,141.2 99.9,132.4 100.0,141.3 100.2,133.3 100.3,142.9 100.4,133.0 100.5,140.4 100.7,133.8 100.8,140.7 100.9,132.6 101.0,140.0 101.2,133.0 101.3,140.2 101.4,133.1 101.5,140.1 101.7,130.7 101.8,140.1 101.9,131.9 102.0,138.9 102.2,128.4 102.3,139.4 102.4,128.7 102.5,136.9 102.7,127.0 102.8,138.2 102.9,129.3 103.0,137.9 103.2,128.9 103.3,138.3 103.4,130.2 103.5,137.4 103.7,130.0 103.8,136.9 103.9,129.7 104.0,136.7 104.2,130.6 104.3,136.4 104.4,128.1 104.5,138.4 104.7,130.3 104.8,136.2 104.9,129.5 105.0,136.1 105.2,129.4 105.3,136.4 105.4,129.9 105.5,135.0 105.7,126.8 105.8,137.5 105.9,128.3 106.0,136.7 106.2,125.2 106.3,135.6 106.4,127.0 106.5,137.9 106.7,128.3 106.8,138.9 106.9,125.3 107.0,136.2 107.2,129.0 107.3,136.9 107.4,128.0 107.5,137.4 107.7,124.8 107.8,139.5 107.9,125.5 108.0,136.5 108.2,128.4 108.3,136.3 108.4,126.3 108.5,136.4 108.7,127.9 108.8,136.0 108.9,127.5 109.0,137.2 109.2,125.0 109.3,136.7 109.4,126.8 109.5,136.7 109.7,128.1 109.8,138.4 109.9,127.1 110.0,136.3 110.2,130.4 110.3,141.4 110.4,129.1 110.5,138.2 110.7,132.2 110.8,142.4 110.9,132.8 111.0,142.7 111.2,134.1 111.3,142.5 111.4,135.0 111.5,142.9 111.7,147.8 111.8,141.3 111.9,133.2 112.0,142.5 112.2,133.0 112.3,140.5 112.4,133.4 112.6,140.1 112.7,132.0 112.8,140.5 112.9,130.0 113.1,139.8 113.2,132.6 113.3,140.6 113.4,130.0 113.6,141.8 113.7,131.5 113.8,137.8 113.9,131.7 114.1,137.8 114.2,131.3 114.3,138.4 114.4,130.5 114.6,140.0 114.7,131.4 114.8,138.6 114.9,131.3 115.1,138.6 115.2,128.6 115.3,136.0 115.4,127.2 115.6,136.0 115.7,128.6 115.8,137.1 115.9,129.3 116.1,138.2 116.2,129.5 116.3,138.4 116.4,129.1 116.6,136.8 116.7,127.5 116.8,137.9 116.9,128.8 117.1,134.7 117.2,127.4 117.3,135.7 117.4,127.8 117.6,135.8 117.7,127.6 117.8,136.9 117.9,128.4 118.1,135.5 118.2,128.3 118.3,135.3 118.4,126.4 118.6,135.4 118.7,129.0 118.8,136.6 118.9,124.5 119.1,138.5 119.2,129.6 119.3,136.4 119.4,129.8 119.6,140.6 119.7,129.1 119.8,137.6 119.9,130.8 120.1,137.0 120.2,129.8 120.3,138.2 120.4,126.7 120.6,141.2 120.7,130.8 120.8,141.4 120.9,129.9 121.1,139.0 121.2,129.9 121.3,140.2 121.4,127.6 121.6,138.3 121.7,130.9 121.8,139.8 121.9,131.8 122.1,138.9 122.2,130.4 122.3,139.9 122.4,130.9 122.6,142.0 122.7,129.0 122.8,140.7 122.9,131.6 123.1,138.1 123.2,131.0 123.3,141.7 123.4,130.9 123.6,140.0 123.7,131.3 123.8,140.2 123.9,130.7 124.1,140.5 124.2,129.2 124.3,141.0 124.4,131.5 124.6,143.4 124.7,133.7 124.8,143.7 124.9,131.4 125.1,141.7 125.2,133.4 125.3,142.4 125.4,133.0 125.6,142.8 125.7,129.6 125.8,146.3 125.9,132.4 126.1,141.8 126.2,131.9 126.3,144.9 126.4,132.5 126.6,146.5 126.7,133.1 126.8,142.7 126.9,133.9 127.1,144.9 127.2,135.9 127.3,145.9 127.4,134.4 127.6,144.7 127.7,134.2 127.8,143.6 127.9,136.2 128.1,146.4 128.2,135.6 128.3,144.5 128.4,136.2 128.6,144.6 128.7,151.8 128.8,145.2 128.9,136.7 129.1,145.2 129.2,136.7 129.3,145.7 129.4,134.7 129.6,145.3 129.7,135.6 129.8,146.5 129.9,137.5 130.1,147.2 130.2,137.8 130.3,147.3 130.4,138.7 130.6,149.1 130.7,140.4 130.8,147.2 130.9,139.5 131.1,147.2 131.2,151.2 131.3,146.9 131.4,140.1 131.6,149.1 131.7,141.5 131.8,146.4 131.9,136.8 132.1,146.3 132.2,140.2 132.3,146.6 132.4,138.3 132.6,149.3 132.7,137.8 132.8,147.1 132.9,136.3 133.1,147.9 133.2,135.4 133.3,144.6 133.4,136.3 133.6,143.7 133.7,137.3 133.8,144.8 133.9,137.0 134.1,142.5 134.2,136.5 134.3,141.8 134.4,134.7 134.6,142.4 134.7,136.9 134.8,143.2 134.9,137.0 135.1,142.9 135.2,137.4 135.3,143.4 135.4,137.0 135.6,142.5 135.7,136.7 135.8,142.6 135.9,137.9 136.1,143.3 136.2,137.1 136.3,143.1 136.4,137.6 136.6,144.4 136.7,136.6 136.8,145.6 136.9,137.3 137.1,146.0 137.2,134.3 137.3,145.2 137.4,136.8 137.6,144.4 137.7,137.7 137.8,146.3 137.9,136.9 138.1,148.3 138.2,138.4 138.3,146.8 138.4,136.1 138.6,153.8 138.7,136.9 138.8,147.3 138.9,136.7 139.1,145.3 139.2,135.1 139.3,142.1 139.4,133.7 139.6,143.6 139.7,133.2 139.8,140.1 139.9,131.6 140.1,139.3 140.2,128.4 140.3,140.0 140.4,129.3 140.6,136.6 140.7,128.3 140.8,139.4 140.9,128.6 141.1,139.5 141.2,129.0 141.3,137.2 141.4,128.6 141.6,137.5 141.7,128.2 141.8,139.8 141.9,127.9 142.1,138.6 142.2,130.6 142.3,137.9 142.4,127.9 142.6,138.5 142.7,130.7 142.8,139.7 142.9,131.3 143.1,139.1 143.2,131.2 143.3,141.8 143.4,131.7 143.6,140.8 143.7,130.4 143.8,142.4 143.9,129.8 144.1,141.9 144.2,134.2 144.3,140.8 144.4,132.9 144.6,143.1 144.7,133.4 144.8,142.6 144.9,134.6 145.1,141.3 145.2,134.2 145.3,142.5 145.4,135.0 145.6,143.1 145.7,132.6 145.8,142.3 145.9,132.0 146.1,143.5 146.2,131.8 146.3,142.3 146.4,134.2 146.6,143.3 146.7,134.2 146.8,143.5 146.9,133.5 147.1,146.1 147.2,133.1 147.3,144.8 147.4,132.8 147.6,143.4 147.7,128.7 147.8,142.1 147.9,132.8 148.1,142.5 148.2,132.5 148.3,141.2 148.4,130.7 148.6,141.2 148.7,132.6 148.8,144.5 149.0,132.2 149.1,142.8 149.2,131.0 149.3,141.1 149.5,131.8 149.6,141.0 149.7,129.7 149.8,141.0 150.0,130.2 150.1,138.6 150.2,132.1 150.3,141.6 150.5,132.5 150.6,139.4 150.7,132.2 150.8,142.4 151.0,132.0 151.1,141.7 151.2,130.5 151.3,140.4 151.5,132.9 151.6,140.5 151.7,131.2 151.8,141.0 152.0,131.9 152.1,141.2 152.2,132.2 152.3,145.1 152.5,129.8 152.6,141.3 152.7,131.7 152.8,143.8 153.0,132.1 153.1,141.5 153.2,130.6 153.3,142.0 153.5,130.1 153.6,142.4 153.7,131.6 153.8,141.0 154.0,132.4 154.1,143.8 154.2,130.0 154.3,142.1 154.5,131.0 154.6,141.3 154.7,128.6 154.8,141.6 155.0,130.6 155.1,143.8 155.2,129.4 155.3,139.8 155.5,131.9 155.6,141.3 155.7,131.6 155.8,143.2 156.0,128.1 156.1,139.8 156.2,133.1 156.3,143.0 156.5,131.4 156.6,139.8 156.7,131.8 156.8,139.6 157.0,130.4 157.1,139.9 157.2,129.5 157.3,139.8 157.5,131.7 157.6,139.4 157.7,131.2 157.8,142.2 158.0,131.9 158.1,139.1 158.2,131.3 158.3,141.1 158.5,128.6 158.6,141.8 158.7,131.5 158.8,139.1 159.0,129.1 159.1,138.9 159.2,131.2 159.3,140.6 159.5,130.7 159.6,139.7 159.7,127.8 159.8,141.2 160.0,128.6 160.1,138.7 160.2,128.5 160.3,139.4 160.5,126.9 160.6,141.1 160.7,128.6 160.8,141.5 161.0,128.6 161.1,139.6 161.2,129.7 161.3,138.4 161.5,128.6 161.6,138.2 161.7,128.0 161.8,137.4 162.0,129.1 162.1,137.7 162.2,128.7 162.3,138.3 162.5,129.6 162.6,138.3 162.7,130.0 162.8,138.6 163.0,128.1 163.1,136.9 163.2,128.4 163.3,137.4 163.5,129.6 163.6,138.4 163.7,127.6 163.8,140.1 164.0,130.3 164.1,139.0 164.2,128.1 164.3,140.7 164.5,126.3 164.6,137.8 164.7,128.4 164.8,139.8 165.0,129.7 165.1,137.9 165.2,129.5 165.3,136.9 165.5,128.4 165.6,137.8 165.7,129.2 165.8,136.8 166.0,125.8 166.1,137.4 166.2,128.7 166.3,140.9 166.5,129.3 166.6,136.3 166.7,127.0 166.8,138.9 167.0,130.2 167.1,137.6 167.2,128.9 167.3,136.8 167.5,129.2 167.6,137.3 167.7,128.8 167.8,137.6 168.0,130.3 168.1,139.8 168.2,128.3 168.3,139.4 168.5,128.0 168.6,139.7 168.7,129.3 168.8,138.4 169.0,127.2 169.1,136.1 169.2,129.0 169.3,136.3 169.5,129.5 169.6,137.2 169.7,129.3 169.8,140.8 170.0,130.7 170.1,140.5 170.2,130.3 170.3,138.9 170.5,130.2 170.6,138.1 170.7,128.4 170.8,139.5 171.0,128.4 171.1,136.0 171.2,130.2 171.3,136.7 171.5,130.4 171.6,137.6 171.7,130.7 171.8,136.1 172.0,129.5 172.1,136.9 172.2,127.8 172.3,137.6 172.5,129.5 172.6,137.6 172.7,129.9 172.8,137.1 173.0,127.9 173.1,138.5 173.2,130.6 173.3,138.9 173.5,130.2 173.6,137.6 173.7,130.5 173.8,139.2 174.0,129.7 174.1,137.7 174.2,131.1 174.3,138.6 174.5,128.4 174.6,139.0 174.7,130.6 174.8,138.3 175.0,131.4 175.1,138.0 175.2,131.0 175.3,139.2 175.5,130.4 175.6,138.9 175.7,131.0 175.8,139.6 176.0,131.8 176.1,140.8 176.2,131.4 176.3,141.2 176.5,133.4 176.6,144.8 176.7,134.9 176.8,142.6 177.0,135.5 177.1,143.8 177.2,135.1 177.3,144.4 177.5,149.8 177.6,143.5 177.7,135.1 177.8,145.1 178.0,131.2 178.1,145.1 178.2,130.1 178.3,142.5 178.5,130.7 178.6,141.5 178.7,132.6 178.8,141.1 179.0,132.3 179.1,142.0 179.2,133.2 179.3,143.0 179.5,132.3 179.6,140.0 179.7,132.0 179.8,143.0 180.0,130.7 180.1,139.3 180.2,131.0 180.3,138.4 180.5,132.3 180.6,142.7 180.7,131.7 180.8,137.7 181.0,130.2 181.1,137.2 181.2,129.9 181.3,138.3 181.5,130.1 181.6,137.2 181.7,126.6 181.8,136.4 182.0,129.6 182.1,138.1 182.2,127.0 182.3,136.5 182.5,127.6 182.6,137.9 182.7,124.7 182.8,138.0 183.0,126.5 183.1,136.0 183.2,125.9 183.3,134.7 183.5,127.2 183.6,135.6 183.7,126.7 183.8,135.2 184.0,127.5 184.1,135.6 184.2,128.0 184.3,134.9 184.5,126.8 184.6,136.8 184.7,128.2 184.9,135.8 185.0,125.4 185.1,135.0 185.2,124.4 185.4,135.6 185.5,126.3 185.6,134.5 185.7,127.6 185.9,135.4 186.0,127.7 186.1,134.7 186.2,124.6 186.4,136.9 186.5,124.5 186.6,135.0 186.7,126.1 186.9,134.3 187.0,127.6 187.1,135.1 187.2,126.1 187.4,137.6 187.5,127.8 187.6,134.7 187.7,127.2 187.9,133.6 188.0,127.0 188.1,136.0 188.2,128.4 188.4,135.9 188.5,127.5 188.6,136.2 188.7,125.1 188.9,135.1 189.0,127.5 189.1,134.7 189.2,125.7 189.4,133.5 189.5,125.3 189.6,133.7 189.7,125.7 189.9,134.7 190.0,127.9 190.1,134.6 190.2,127.0 190.4,136.0 190.5,127.7 190.6,134.7 190.7,123.7 190.9,136.1 191.0,125.9 191.1,136.6 191.2,125.0 191.4,136.6 191.5,127.9 191.6,135.6 191.7,126.6 191.9,135.8 192.0,128.4 192.1,136.3 192.2,128.5 192.4,138.9 192.5,124.5 192.6,135.3 192.7,126.7 192.9,135.9 193.0,127.4 193.1,136.8 193.2,126.0 193.4,137.7 193.5,128.8 193.6,135.5 193.7,126.4 193.9,136.7 194.0,128.3 194.1,135.6 194.2,128.1 194.4,136.2 194.5,126.3 194.6,135.1 194.7,127.7 194.9,134.6 195.0,126.6 195.1,136.2 195.2,126.8 195.4,135.2 195.5,127.5 195.6,134.1 195.7,128.7 195.9,136.8 196.0,128.5 196.1,134.8 196.2,128.4 196.4,136.6 196.5,128.3 196.6,135.2 196.7,127.6 196.9,135.9 197.0,128.6 197.1,136.1 197.2,127.4 197.4,135.2 197.5,128.3 197.6,136.6 197.7,128.5 197.9,134.4 198.0,128.9 198.1,135.7 198.2,126.2 198.4,137.0 198.5,129.0 198.6,135.9 198.7,128.5 198.9,135.8 199.0,127.9 199.1,135.2 199.2,129.2 199.4,135.6 199.5,128.5 199.6,136.1 199.7,128.0 199.9,137.1 200.0,126.4 200.1,136.4 200.2,129.0 200.4,135.3 200.5,127.7 200.6,135.7 200.7,128.1 200.9,135.9 201.0,127.8 201.1,136.1 201.2,129.0 201.4,135.8 201.5,127.8 201.6,134.9 201.7,128.6 201.9,136.0 202.0,127.3 202.1,135.7 202.2,126.2 202.4,137.6 202.5,128.5 202.6,137.0 202.7,124.9 202.9,137.8 203.0,124.0 203.1,135.8 203.2,127.4 203.4,137.9 203.5,126.0 203.6,136.7 203.7,127.3 203.9,137.0 204.0,126.1 204.1,137.0 204.2,125.2 204.4,138.0 204.5,127.5 204.6,137.2 204.7,125.8 204.9,137.4 205.0,128.1 205.1,137.5 205.2,124.5 205.4,137.8 205.5,124.5 205.6,138.7 205.7,124.8 205.9,140.5 206.0,130.5 206.1,141.1 206.2,129.6 206.4,140.8 206.5,130.8 206.6,142.0 206.7,130.9 206.9,142.0 207.0,126.9 207.1,138.7 207.2,130.1 207.4,141.5 207.5,127.7 207.6,139.3 207.7,128.2 207.9,142.5 208.0,129.5 208.1,141.3 208.2,130.4 208.4,138.7 208.5,129.7 208.6,138.1 208.7,129.3 208.9,141.9 209.0,125.9 209.1,136.5 209.2,128.9 209.4,137.9 209.5,128.8 209.6,137.1 209.7,129.5 209.9,136.8 210.0,128.6 210.1,136.1 210.2,127.2 210.4,139.6 210.5,128.9 210.6,135.9 210.7,129.2 210.9,137.2 211.0,128.5 211.1,137.5 211.2,128.9 211.4,137.0 211.5,126.9 211.6,139.1 211.7,128.3 211.9,137.9 212.0,127.6 212.1,135.2 212.2,128.7 212.4,136.9 212.5,125.9 212.6,135.9 212.7,127.3 212.9,134.3 213.0,127.9 213.1,135.1 213.2,124.8 213.4,136.6 213.5,127.0 213.6,137.3 213.7,127.6 213.9,134.8 214.0,125.7 214.1,135.8 214.2,126.9 214.4,136.5 214.5,126.3 214.6,135.7 214.7,128.3 214.9,135.3 215.0,125.6 215.1,134.8 215.2,125.7 215.4,134.6 215.5,125.9 215.6,138.0 215.7,127.3 215.9,135.2 216.0,126.6 216.1,134.1 216.2,127.6 216.4,138.3 216.5,126.4 216.6,134.8 216.7,127.2 216.9,135.3 217.0,123.4 217.1,134.4 217.2,126.7 217.4,133.9 217.5,125.4 217.6,134.6 217.7,125.2 217.9,136.0 218.0,127.0 218.1,135.0 218.2,126.4 218.4,133.8 218.5,127.8 218.6,136.0 218.7,123.1 218.9,134.9 219.0,127.0 219.1,138.6 219.2,126.1 219.4,135.8 219.5,127.7 219.6,137.4 219.7,126.9 219.9,138.5 220.0,127.1 220.1,136.2 220.2,125.5 220.4,134.8 220.5,122.9 220.6,134.9 220.8,125.1 220.9,135.1 221.0,124.6 221.1,135.5 221.3,128.0 221.4,134.7 221.5,127.2 221.6,136.6 221.8,124.5 221.9,134.1 222.0,127.0 222.1,136.2 222.3,128.0 222.4,136.8 222.5,127.3 222.6,138.3 222.8,125.9 222.9,137.1 223.0,127.1 223.1,134.9 223.3,125.8 223.4,133.5 223.5,126.8 223.6,134.4 223.8,122.9 223.9,134.4 224.0,123.6 224.1,134.3 224.3,127.4 224.4,135.9 224.5,125.3 224.6,136.0 224.8,127.3 224.9,134.9 225.0,126.3 225.1,135.9 225.3,126.4 225.4,136.7 225.5,125.9 225.6,136.7 225.8,126.4 225.9,137.2 226.0,127.3 226.1,135.0 226.3,127.2 226.4,133.9 226.5,124.9 226.6,136.6 226.8,126.8 226.9,134.4 227.0,126.4 227.1,135.9 227.3,126.9 227.4,133.5 227.5,127.5 227.6,134.2 227.8,127.5 227.9,133.5 228.0,127.6 228.1,133.2 228.3,126.0 228.4,134.3 228.5,127.1 228.6,134.4 228.8,126.7 228.9,134.6 229.0,127.6 229.1,133.3 229.3,127.2 229.4,133.6 229.5,127.3 229.6,134.0 229.8,126.3 229.9,133.8 230.0,127.5 230.1,135.4 230.3,125.4 230.4,135.0 230.5,125.6 230.6,133.7 230.8,126.6 230.9,134.3 231.0,126.9 231.1,135.2 231.3,127.1 231.4,133.1 231.5,126.7 231.6,134.5 231.8,123.5 231.9,132.3 232.0,127.2 232.1,135.0 232.3,124.8 232.4,134.1 232.5,127.2 232.6,133.4 232.8,126.1 232.9,133.4 233.0,126.2 233.1,134.8 233.3,124.2 233.4,132.4 233.5,125.4 233.6,132.3 233.8,123.2 233.9,134.2 234.0,124.4 234.1,133.2 234.3,124.6 234.4,133.6 234.5,124.6 234.6,133.3 234.8,126.1 234.9,135.0 235.0,124.7 235.1,134.0 235.3,122.2 235.4,135.8 235.5,124.6 235.6,134.7 235.8,126.4 235.9,134.6 236.0,126.6 236.1,133.8 236.3,124.1 236.4,136.5 236.5,126.9 236.6,134.4 236.8,125.9 236.9,133.4 237.0,125.9 237.1,134.3 237.3,123.9 237.4,135.4 237.5,124.2 237.6,133.6 237.8,122.6 237.9,136.4 238.0,123.1 238.1,136.3 238.3,124.6 238.4,133.8 238.5,125.1 238.6,137.0 238.8,126.6 238.9,134.1 239.0,123.5 239.1,134.1 239.3,125.0 239.4,134.8 239.5,127.5 239.6,134.2 239.8,126.9 239.9,134.8 240.0,126.8 240.1,133.6 240.3,126.9 240.4,134.6 240.5,126.0 240.6,135.2 240.8,126.6 240.9,134.2 241.0,125.6 241.1,136.0 241.3,124.7 241.4,134.0 241.5,123.9 241.6,132.9 241.8,127.6 241.9,132.7 242.0,125.0 242.1,134.5 242.3,123.8 242.4,134.1 242.5,127.5 242.6,134.3 242.8,125.8 242.9,134.6 243.0,126.8 243.1,135.8 243.3,126.6 243.4,136.1 243.5,125.2 243.6,136.3 243.8,127.4 243.9,136.4 244.0,125.6 244.1,137.8 244.3,127.1 244.4,137.0 244.5,124.5 244.6,135.5 244.8,123.6 244.9,139.7 245.0,127.4 245.1,134.3 245.3,127.4 245.4,137.0 245.5,125.6 245.6,136.7 245.8,122.0 245.9,137.2 246.0,125.0 246.1,133.9 246.3,124.9 246.4,133.7 246.5,127.3 246.6,133.8 246.8,126.4 246.9,133.8 247.0,128.0 247.1,133.3 247.3,127.1 247.4,136.5 247.5,128.7 247.6,134.8 247.8,126.0 247.9,133.8 248.0,126.1 248.1,136.5 248.3,125.3 248.4,133.8 248.5,127.3 248.6,134.9 248.8,127.0 248.9,133.7 249.0,127.8 249.1,133.7 249.3,127.3 249.4,132.6 249.5,126.0 249.6,133.5 249.8,126.9 249.9,135.3 250.0,127.2 250.1,135.1 250.3,127.6 250.4,134.4 250.5,127.6 250.6,133.0 250.8,127.8 250.9,135.0 251.0,128.0 251.1,132.9 251.3,126.4 251.4,135.7 251.5,127.6 251.6,133.0 251.8,127.8 251.9,134.2 252.0,125.6 252.1,134.5 252.3,125.1 252.4,134.2 252.5,126.8 252.6,134.0 252.8,127.3 252.9,137.8 253.0,126.8 253.1,135.9 253.3,127.9 253.4,136.3 253.5,126.3 253.6,135.7 253.8,125.0 253.9,136.3 254.0,124.3 254.1,134.9 254.3,125.8 254.4,136.7 254.5,125.1 254.6,135.1 254.8,122.7 254.9,136.6 255.0,125.1 255.1,138.3 255.3,128.5 255.4,136.9 255.5,127.9 255.6,136.5 255.8,126.4 255.9,135.2 256.0,125.4 256.1,134.9 256.3,126.3 256.4,134.5 256.5,125.4 256.6,134.3 256.8,127.5 256.9,137.8 257.0,126.2 257.2,135.6 257.3,127.2 257.4,134.5 257.5,124.9 257.7,136.7 257.8,125.2 257.9,134.4 258.0,126.4 258.2,134.5 258.3,124.1 258.4,134.8 258.5,128.1 258.7,134.5 258.8,126.8 258.9,136.3 259.0,124.0 259.2,137.0 259.3,126.4 259.4,134.7 259.5,126.1 259.7,135.3 259.8,123.8 259.9,135.2 260.0,125.7 260.2,137.0 260.3,124.8 260.4,136.0 260.5,128.2 260.7,136.0 260.8,127.5 260.9,136.4 261.0,125.7 261.2,134.5 261.3,128.0 261.4,137.2 261.5,124.7 261.7,137.0 261.8,126.5 261.9,136.0 262.0,125.7 262.2,135.6 262.3,126.3 262.4,134.3 262.5,126.3 262.7,134.9 262.8,122.6 262.9,137.2 263.0,126.9 263.2,138.1 263.3,126.6 263.4,136.2 263.5,125.2 263.7,134.1 263.8,127.6 263.9,134.2 264.0,126.3 264.2,138.2 264.3,126.3 264.4,134.0 264.5,126.7 264.7,134.3 264.8,127.3 264.9,136.6 265.0,126.2 265.2,133.5 265.3,127.6 265.4,133.8 265.5,127.0 265.7,135.4 265.8,127.0 265.9,135.1 266.0,126.4 266.2,134.6 266.3,127.7 266.4,136.3 266.5,123.4 266.7,136.1 266.8,127.9 266.9,136.0 267.0,126.9 267.2,135.5 267.3,127.7 267.4,134.9 267.5,128.4 267.7,134.7 267.8,128.7 267.9,135.1 268.0,128.3 268.2,134.9 268.3,126.1 268.4,135.0 268.5,127.9 268.7,135.2 268.8,127.8 268.9,134.6 269.0,123.5 269.2,136.3 269.3,125.2 269.4,133.3 269.5,124.7 269.7,134.9 269.8,125.7 269.9,134.5 270.0,119.9 270.2,134.4 270.3,123.6 270.4,135.5 270.5,124.9 270.7,135.8 270.8,124.9 270.9,140.0 271.0,125.3 271.2,137.9 271.3,124.2 271.4,136.5 271.5,128.4 271.7,135.7 271.8,127.2 271.9,134.9 272.0,126.0 272.2,135.7 272.3,127.2 272.4,137.9 272.5,127.8 272.7,134.3 272.8,125.7 272.9,134.5 273.0,127.7 273.2,134.0 273.3,127.0 273.4,135.6 273.5,125.8 273.7,136.3 273.8,125.5 273.9,136.4 274.0,127.6 274.2,133.1 274.3,126.4 274.4,133.8 274.5,126.1 274.7,137.3 274.8,126.9 274.9,134.3 275.0,126.7 275.2,133.9 275.3,123.2 275.4,133.7 275.5,127.0 275.7,136.0 275.8,126.0 275.9,135.8 276.0,126.3 276.2,135.9 276.3,127.4 276.4,134.4 276.5,124.4 276.7,133.9 276.8,125.2 276.9,134.1 277.0,125.9 277.2,134.4 277.3,124.8 277.4,136.3 277.5,121.4 277.7,138.8 277.8,124.8 277.9,136.1 278.0,126.2 278.2,134.9 278.3,126.4 278.4,133.8 278.5,125.8 278.7,133.9 278.8,126.4 278.9,134.6 279.0,125.9 279.2,136.4 279.3,124.0 279.4,133.6 279.5,124.1 279.7,133.2 279.8,125.4 279.9,134.4 280.0,126.9 280.2,134.8 280.3,126.7 280.4,134.3 280.5,126.7 280.7,135.8 280.8,126.8 280.9,137.4 281.0,123.2 281.2,135.6 281.3,127.0 281.4,134.3 281.5,126.0 281.7,135.2 281.8,124.1 281.9,135.2 282.0,126.8 282.2,135.9 282.3,127.3 282.4,135.1 282.5,126.3 282.7,134.0 282.8,126.0 282.9,136.6 283.0,126.7 283.2,138.0 283.3,126.2 283.4,134.9 283.5,124.4 283.7,135.4 283.8,126.9 283.9,137.9 284.0,126.7 284.2,135.3 284.3,125.9 284.4,136.1 284.5,126.6 284.7,134.3 284.8,123.4 284.9,133.9 285.0,125.5 285.2,136.5 285.3,125.7 285.4,134.1 285.5,126.8 285.7,134.2 285.8,127.0 285.9,135.4 286.0,126.8 286.2,134.8 286.3,125.0 286.4,135.2 286.5,126.6 286.7,134.5 286.8,127.0 286.9,135.8 287.0,126.7 287.2,136.5 287.3,123.3 287.4,136.8 287.5,126.5 287.7,136.3 287.8,127.3 287.9,133.9 288.0,125.7 288.2,134.3 288.3,124.8 288.4,134.9 288.5,127.6 288.7,133.2 288.8,127.6 288.9,136.7 289.0,126.9 289.2,135.4 289.3,126.0 289.4,135.3 289.5,126.4 289.7,135.5 289.8,127.3 289.9,135.3 290.0,127.1 290.2,133.8 290.3,128.0 290.4,135.6 290.5,124.9 290.7,134.0 290.8,126.9 290.9,134.2 291.0,125.8 291.2,133.3 291.3,126.0 291.4,133.7 291.5,124.4 291.7,134.0 291.8,122.7 291.9,134.4 292.0,123.2 292.2,132.6 292.3,124.1 292.4,134.4 292.5,125.2 292.7,132.4 292.8,124.9 292.9,133.9 293.1,124.7 293.2,134.8 293.3,125.3 293.4,134.4 293.6,123.3 293.7,132.7 293.8,123.6 293.9,135.0 294.1,124.5 294.2,135.2 294.3,125.1 294.4,133.6 294.6,125.4 294.7,137.9 294.8,126.4 294.9,134.8 295.1,125.8 295.2,133.2 295.3,125.4 295.4,132.8 295.6,124.3 295.7,135.9 295.8,124.4 295.9,133.3 296.1,125.6 296.2,132.3 296.3,124.8 296.4,132.5 296.6,123.4 296.7,133.9 296.8,123.2 296.9,135.1 297.1,125.5 297.2,133.1 297.3,126.5 297.4,135.3 297.6,126.6 297.7,133.3 297.8,126.7 297.9,132.2 298.1,125.7 298.2,132.0 298.3,125.9 298.4,133.4 298.6,125.5 298.7,132.3 298.8,125.9 298.9,133.7 299.1,124.9 299.2,132.1 299.3,124.6 299.4,132.9 299.6,122.7 299.7,131.9 299.8,124.1 299.9,131.3 300.1,126.1 300.2,132.5 300.3,125.4 300.4,134.1 300.6,119.4 300.7,132.3 300.8,123.2 300.9,132.7 301.1,124.8 301.2,134.2 301.3,125.1 301.4,135.2 301.6,125.3 301.7,134.8 301.8,125.0 301.9,132.3 302.1,124.7 302.2,134.1 302.3,125.7 302.4,132.7 302.6,123.2 302.7,134.3 302.8,124.1 302.9,132.2 303.1,123.7 303.2,132.5 303.3,123.9 303.4,131.8 303.6,124.7 303.7,132.4 303.8,123.7 303.9,134.9 304.1,124.8 304.2,132.6 304.3,124.8 304.4,132.5 304.6,122.3 304.7,136.3 304.8,124.8 304.9,133.6 305.1,125.6 305.2,132.3 305.3,123.1 305.4,136.5 305.6,125.1 305.7,136.5 305.8,124.4 305.9,132.5 306.1,125.1 306.2,132.1 306.3,124.4 306.4,135.3 306.6,124.2 306.7,132.0 306.8,120.9 306.9,132.5 307.1,121.8 307.2,130.9 307.3,122.7 307.4,131.1 307.6,123.3 307.7,132.3 307.8,122.8 307.9,133.6 308.1,124.5 308.2,135.6 308.3,122.7 308.4,132.1 308.6,124.1 308.7,131.5 308.8,121.9 308.9,131.9 309.1,120.5 309.2,133.1 309.3,124.6 309.4,134.8 309.6,124.5 309.7,131.4 309.8,124.3 309.9,131.8 310.1,125.4 310.2,134.6 310.3,125.5 310.4,135.3 310.6,124.3 310.7,134.8 310.8,128.4 310.9,134.8 311.1,128.0 311.2,137.7 311.3,127.4 311.4,137.2 311.6,127.6 311.7,136.8 311.8,129.2 311.9,138.2 312.1,130.5 312.2,139.2 312.3,130.1 312.4,136.9 312.6,131.4 312.7,138.3 312.8,130.9 312.9,138.3 313.1,128.1 313.2,137.2 313.3,130.4 313.4,141.9 313.6,130.0 313.7,137.2 313.8,129.5 313.9,136.6 314.1,129.5 314.2,140.6 314.3,130.3 314.4,138.2 314.6,129.1 314.7,139.5 314.8,128.9 314.9,137.9 315.1,127.4 315.2,137.5 315.3,129.8 315.4,137.5 315.6,128.7 315.7,137.7 315.8,126.8 315.9,138.6 316.1,129.5 316.2,135.5 316.3,129.1 316.4,137.1 316.6,129.9 316.7,135.9 316.8,128.4 316.9,135.5 317.1,128.0 317.2,135.3 317.3,129.2 317.4,136.4 317.6,129.1 317.7,136.6 317.8,129.0 317.9,136.9 318.1,126.6 318.2,136.3 318.3,126.5 318.4,135.9 318.6,127.8 318.7,136.7 318.8,128.0 318.9,138.4 319.1,127.4 319.2,138.2 319.3,126.8 319.4,137.2 319.6,127.6 319.7,138.9 319.8,129.0 319.9,136.8 320.1,127.4 320.2,138.9 320.3,129.2 320.4,136.3 320.6,127.6 320.7,138.7 320.8,127.1 320.9,137.3 321.1,129.6 321.2,137.1 321.3,126.6 321.4,137.8 321.6,129.3 321.7,140.2 321.8,128.6 321.9,139.7 322.1,129.4 322.2,136.7 322.3,128.9 322.4,137.0 322.6,128.7 322.7,137.4 322.8,126.4 322.9,138.0 323.1,128.7 323.2,139.5 323.3,127.6 323.4,137.7 323.6,128.2 323.7,136.8 323.8,127.5 323.9,138.7 324.1,127.4 324.2,136.4 324.3,125.7 324.4,136.3 324.6,127.8 324.7,139.4 324.8,123.2 324.9,138.6 325.1,127.7 325.2,136.0 325.3,127.9 325.4,137.1 325.6,126.2 325.7,137.2 325.8,126.8 325.9,137.9 326.1,125.5 326.2,137.5 326.3,127.5 326.4,138.0 326.6,128.3 326.7,135.9 326.8,126.6 326.9,135.8 327.1,126.5 327.2,135.2 327.3,124.6 327.4,136.1 327.6,128.0 327.7,135.3 327.8,126.1 327.9,136.0 328.1,127.8 328.2,137.9 328.3,125.4 328.4,135.2 328.6,125.3 328.7,134.9 328.8,126.2 328.9,136.5 329.1,129.2 329.2,136.9" fill="none" stroke="#000" stroke-width="0.8" stroke-linejoin="round" clip-path="url(#c02)"/>
<line x1="40.0" x2="329.2" y1="184.1" y2="184.1" stroke="#000" stroke-width="0.9" stroke-dasharray="4.17,4.17"/>
<polyline points="40.0,194.6 40.2,192.9 40.3,194.8 40.5,193.0 40.7,194.9 40.8,192.8 41.0,194.8 41.2,192.2 41.3,194.5 41.5,192.0 41.7,194.4 41.8,192.7 42.0,195.6 42.2,192.6 42.3,193.7 42.5,190.9 42.7,194.3 42.8,191.9 43.0,194.6 43.2,192.3 43.3,194.9 43.5,191.5 43.7,195.0 43.8,192.3 44.0,194.7 44.2,192.4 44.3,194.5 44.5,192.6 44.7,194.6 44.8,192.2 45.0,195.5 45.2,191.5 45.3,194.6 45.5,192.5 45.7,194.2 45.8,192.3 46.0,194.3 46.2,191.5 46.3,193.9 46.5,191.9 46.7,193.7 46.8,190.6 47.0,192.5 47.2,190.4 47.3,192.5 47.5,190.0 47.7,192.1 47.8,190.0 48.0,193.4 48.2,188.9 48.3,193.7 48.5,190.4 48.7,194.1 48.8,192.3 49.0,194.7 49.2,191.6 49.3,194.1 49.5,191.7 49.7,194.3 49.8,191.9 50.0,194.0 50.2,192.4 50.3,195.0 50.5,193.9 50.7,196.9 50.8,194.9 51.0,198.1 51.2,194.8 51.3,197.8 51.5,195.8 51.7,198.3 51.8,196.1 52.0,199.0 52.2,196.0 52.3,198.4 52.5,196.7 52.7,199.3 52.8,196.9 53.0,198.5 53.2,196.0 53.3,198.7 53.5,195.3 53.7,197.2 53.8,195.5 54.0,197.9 54.2,196.0 54.3,198.7 54.5,196.6 54.7,199.3 54.8,197.1 55.0,199.3 55.2,196.8 55.3,199.3 55.5,197.3 55.7,199.3 55.8,197.1 56.0,198.3 56.2,196.2 56.3,199.3 56.5,196.1 56.7,198.8 56.8,196.4 57.0,199.5 57.2,196.0 57.3,199.2 57.5,196.8 57.7,198.9 57.8,195.8 58.0,199.0 58.2,196.7 58.3,199.7 58.5,197.1 58.7,199.6 58.8,197.6 59.0,200.3 59.2,196.9 59.3,199.7 59.5,196.8 59.7,198.9 59.8,204.8 60.0,198.1 60.2,194.6 60.3,198.1 60.5,195.0 60.7,197.0 60.8,194.4 61.0,196.4 61.2,194.9 61.3,197.1 61.5,193.8 61.7,197.6 61.8,195.3 62.0,196.6 62.2,195.3 62.3,197.6 62.5,195.1 62.7,197.1 62.8,195.0 63.0,196.3 63.2,194.6 63.3,196.7 63.5,194.2 63.7,195.9 63.8,193.8 64.0,196.2 64.2,194.2 64.4,196.0 64.5,193.6 64.7,196.1 64.9,192.9 65.0,196.2 65.2,191.7 65.4,194.4 65.5,192.2 65.7,195.4 65.9,191.4 66.0,194.3 66.2,192.4 66.4,194.8 66.5,192.9 66.7,196.2 66.9,194.4 67.0,196.9 67.2,194.8 67.4,197.6 67.5,195.4 67.7,197.8 67.9,195.6 68.0,199.0 68.2,195.5 68.4,197.9 68.5,195.2 68.7,197.8 68.9,195.9 69.0,197.8 69.2,195.7 69.4,197.8 69.5,195.5 69.7,198.6 69.9,196.0 70.0,198.6 70.2,198.8 70.4,198.5 70.5,196.5 70.7,198.6 70.9,196.4 71.0,199.8 71.2,197.1 71.4,199.0 71.5,196.1 71.7,199.0 71.9,195.8 72.0,197.7 72.2,194.7 72.4,197.6 72.5,194.7 72.7,197.2 72.9,195.0 73.0,197.7 73.2,195.1 73.4,199.6 73.5,194.6 73.7,196.5 73.9,194.9 74.0,197.4 74.2,197.0 74.4,197.2 74.5,194.5 74.7,196.6 74.9,194.2 75.0,197.0 75.2,194.0 75.4,196.6 75.5,194.2 75.7,196.5 75.9,194.8 76.0,197.3 76.2,195.3 76.4,197.4 76.5,194.9 76.7,197.5 76.9,195.7 77.0,198.2 77.2,195.7 77.4,198.6 77.5,196.7 77.7,199.3 77.9,197.3 78.0,200.1 78.2,197.5 78.4,200.0 78.5,197.2 78.7,199.4 78.9,197.3 79.0,199.1 79.2,196.4 79.4,199.5 79.5,195.8 79.7,199.2 79.9,196.5 80.0,198.2 80.2,196.0 80.4,198.2 80.5,196.7 80.7,198.8 80.9,196.9 81.0,198.6 81.2,196.4 81.4,199.0 81.5,196.8 81.7,198.5 81.9,196.3 82.0,195.4 82.2,195.9 82.4,199.0 82.5,196.9 82.7,198.8 82.9,197.0 83.0,200.0 83.2,196.6 83.4,198.8 83.5,196.1 83.7,198.3 83.9,196.0 84.0,198.0 84.2,195.0 84.4,196.9 84.5,195.2 84.7,196.3 84.9,194.4 85.0,196.3 85.2,193.7 85.4,196.6 85.5,193.7 85.7,196.3 85.9,194.0 86.0,195.8 86.2,194.1 86.4,196.4 86.5,194.4 86.7,197.4 86.9,193.8 87.0,197.1 87.2,195.2 87.4,196.7 87.5,194.6 87.7,197.3 87.9,195.5 88.0,198.0 88.2,194.0 88.4,197.5 88.5,195.5 88.7,197.7 88.9,195.7 89.0,197.8 89.2,195.8 89.4,197.6 89.5,194.9 89.7,197.7 89.9,194.9 90.0,196.8 90.2,194.6 90.4,196.4 90.5,193.1 90.7,195.8 90.9,193.9 91.0,195.6 91.2,193.8 91.4,195.9 91.5,192.7 91.7,196.5 91.9,195.0 92.0,196.8 92.2,194.7 92.4,197.1 92.5,195.1 92.7,196.9 92.9,194.6 93.0,198.0 93.2,191.1 93.4,196.7 93.5,192.3 93.7,197.2 93.9,194.5 94.0,198.5 94.2,195.7 94.4,197.4 94.5,195.0 94.7,197.3 94.9,194.8 95.0,198.7 95.2,195.1 95.4,198.4 95.5,195.9 95.7,198.8 95.9,195.7 96.0,200.1 96.2,197.8 96.4,200.9 96.5,199.0 96.7,202.7 96.9,199.8 97.0,205.1 97.2,201.7 97.4,206.0 97.5,203.2 97.7,207.3 97.9,203.7 98.0,211.7 98.2,204.2 98.4,206.9 98.5,201.6 98.7,204.8 98.9,199.3 99.0,201.3 99.2,197.4 99.4,199.8 99.5,196.9 99.7,198.7 99.9,195.1 100.0,198.6 100.2,195.5 100.4,199.5 100.5,194.7 100.7,198.8 100.9,197.1 101.0,200.1 101.2,196.4 101.4,198.6 101.5,195.0 101.7,198.1 101.9,194.3 102.0,198.3 102.2,193.7 102.4,196.9 102.5,193.9 102.7,197.0 102.9,192.0 103.0,196.0 103.2,191.6 103.4,195.2 103.5,192.1 103.7,195.0 103.9,191.6 104.0,193.1 104.2,189.8 104.4,192.1 104.5,188.1 104.7,191.7 104.9,187.2 105.0,190.4 105.2,186.9 105.4,189.2 105.5,185.8 105.7,189.7 105.9,185.5 106.0,189.2 106.2,185.8 106.4,189.2 106.5,185.7 106.7,188.5 106.9,185.7 107.0,189.6 107.2,187.2 107.4,190.4 107.5,188.3 107.7,190.8 107.9,188.8 108.0,191.9 108.2,188.1 108.4,191.2 108.5,185.9 108.7,189.3 108.9,185.8 109.0,183.1 109.2,183.3 109.4,185.4 109.5,182.2 109.7,186.2 109.9,183.9 110.0,187.3 110.2,185.4 110.4,189.3 110.5,186.5 110.7,191.8 110.9,189.4 111.0,195.0 111.2,195.4 111.4,200.9 111.5,202.1 111.7,208.0 111.9,205.6 112.0,207.8 112.2,200.7 112.4,204.0 112.6,199.4 112.7,200.7 112.9,195.5 113.1,198.8 113.2,195.4 113.4,197.6 113.6,194.8 113.7,197.2 113.9,194.5 114.1,193.3 114.2,193.9 114.4,196.2 114.6,191.9 114.7,194.2 114.9,191.3 115.1,193.3 115.2,188.9 115.4,192.9 115.6,188.6 115.7,190.8 115.9,186.7 116.1,187.6 116.2,184.8 116.4,186.8 116.6,183.3 116.7,186.4 116.9,182.7 117.1,185.6 117.2,182.6 117.4,184.2 117.6,182.0 117.7,187.8 117.9,186.1 118.1,190.5 118.2,189.6 118.4,194.4 118.6,193.0 118.7,196.8 118.9,193.9 119.1,196.6 119.2,192.9 119.4,196.5 119.6,193.5 119.7,196.1 119.9,191.4 120.1,195.8 120.2,193.0 120.4,196.5 120.6,192.8 120.7,196.4 120.9,191.5 121.1,194.6 121.2,190.9 121.4,194.9 121.6,189.6 121.7,194.1 121.9,190.0 122.1,195.9 122.2,191.7 122.4,194.8 122.6,192.1 122.7,194.8 122.9,193.3 123.1,197.3 123.2,193.5 123.4,197.3 123.6,194.0 123.7,197.4 123.9,193.1 124.1,194.9 124.2,190.1 124.4,195.4 124.6,191.5 124.7,194.3 124.9,190.8 125.1,193.4 125.2,191.1 125.4,194.7 125.6,192.5 125.7,198.2 125.9,194.6 126.1,198.3 126.2,196.2 126.4,199.6 126.6,196.7 126.7,200.7 126.9,198.9 127.1,202.9 127.2,200.1 127.4,203.3 127.6,201.3 127.7,204.1 127.9,202.4 128.1,206.8 128.2,204.8 128.4,208.1 128.6,202.5 128.7,206.1 128.9,199.4 129.1,201.1 129.2,194.8 129.4,196.7 129.6,192.2 129.7,196.8 129.9,193.9 130.1,198.4 130.2,196.7 130.4,202.5 130.6,200.4 130.7,204.5 130.9,203.4 131.1,206.1 131.2,202.8 131.4,206.1 131.6,203.0 131.7,204.9 131.9,200.9 132.1,203.7 132.2,201.3 132.4,203.0 132.6,199.6 132.7,201.5 132.9,197.8 133.1,200.1 133.2,197.1 133.4,199.2 133.6,195.2 133.7,199.1 133.9,195.5 134.1,198.5 134.2,199.1 134.4,197.8 134.6,195.9 134.7,198.0 134.9,194.7 135.1,197.8 135.2,194.4 135.4,197.0 135.6,194.3 135.7,197.8 135.9,192.8 136.1,195.7 136.2,191.6 136.4,194.3 136.6,190.8 136.7,194.4 136.9,192.1 137.1,195.8 137.2,194.3 137.4,199.6 137.6,196.6 137.7,200.4 137.9,198.3 138.1,202.4 138.2,200.2 138.4,204.2 138.6,203.1 138.7,207.1 138.9,204.3 139.1,210.0 139.2,204.4 139.4,202.7 139.6,195.2 139.7,195.9 139.9,188.9 140.1,191.0 140.2,187.7 140.4,189.2 140.6,184.7 140.7,188.5 140.9,183.5 141.1,186.7 141.2,180.9 141.4,184.6 141.6,181.1 141.7,184.4 141.9,181.9 142.1,187.3 142.2,184.3 142.4,189.7 142.6,184.9 142.7,188.2 142.9,185.5 143.1,189.8 143.2,187.3 143.4,192.0 143.6,187.4 143.7,190.8 143.9,188.8 144.1,192.8 144.2,191.0 144.4,195.6 144.6,193.7 144.7,197.4 144.9,195.1 145.1,199.7 145.2,195.6 145.4,200.8 145.6,197.5 145.7,200.5 145.9,197.7 146.1,200.3 146.2,197.2 146.4,199.7 146.6,196.2 146.7,198.6 146.9,195.2 147.1,198.3 147.2,194.5 147.4,196.7 147.6,194.7 147.7,196.6 147.9,193.9 148.1,196.8 148.2,194.5 148.4,196.8 148.6,194.0 148.7,196.1 148.9,193.9 149.1,195.6 149.2,192.8 149.4,194.7 149.6,192.1 149.7,195.1 149.9,193.2 150.1,195.8 150.2,192.6 150.4,195.8 150.6,192.8 150.7,195.9 150.9,193.2 151.1,195.3 151.2,192.5 151.4,195.3 151.6,192.9 151.7,195.9 151.9,193.1 152.1,195.1 152.2,193.2 152.4,195.2 152.6,193.5 152.7,194.9 152.9,192.8 153.1,195.2 153.2,193.0 153.4,195.1 153.6,192.5 153.7,194.5 153.9,192.1 154.1,194.8 154.2,192.0 154.4,195.6 154.6,192.0 154.7,195.3 154.9,192.4 155.1,194.6 155.2,192.9 155.4,194.9 155.6,192.6 155.7,194.6 155.9,191.9 156.1,193.7 156.2,190.7 156.4,193.1 156.6,191.4 156.7,193.1 156.9,191.1 157.1,193.3 157.2,191.2 157.4,194.3 157.6,192.4 157.7,194.6 157.9,191.5 158.1,193.4 158.2,190.3 158.4,192.5 158.6,189.4 158.7,191.7 158.9,189.2 159.1,191.7 159.2,189.5 159.4,191.8 159.6,190.1 159.7,192.5 159.9,190.0 160.1,192.6 160.2,189.6 160.4,192.7 160.6,190.5 160.8,192.9 160.9,189.1 161.1,192.7 161.3,191.3 161.4,193.7 161.6,191.9 161.8,193.7 161.9,192.1 162.1,195.3 162.3,191.7 162.4,194.6 162.6,192.8 162.8,194.1 162.9,191.6 163.1,193.3 163.3,190.5 163.4,193.3 163.6,190.5 163.8,192.6 163.9,190.0 164.1,192.5 164.3,189.7 164.4,191.9 164.6,189.6 164.8,193.6 164.9,192.8 165.1,196.0 165.3,194.7 165.4,199.3 165.6,196.4 165.8,198.8 165.9,194.9 166.1,197.0 166.3,192.0 166.4,194.2 166.6,191.5 166.8,193.4 166.9,190.5 167.1,192.5 167.3,190.5 167.4,193.0 167.6,190.3 167.8,192.6 167.9,190.9 168.1,192.8 168.3,189.7 168.4,192.3 168.6,190.7 168.8,193.1 168.9,189.5 169.1,191.5 169.3,189.4 169.4,192.0 169.6,190.0 169.8,192.9 169.9,190.2 170.1,193.3 170.3,192.2 170.4,193.3 170.6,189.8 170.8,192.4 170.9,190.1 171.1,192.0 171.3,189.6 171.4,192.5 171.6,189.9 171.8,191.9 171.9,189.3 172.1,191.4 172.3,189.2 172.4,191.2 172.6,189.1 172.8,191.2 172.9,188.4 173.1,191.1 173.3,188.6 173.4,195.0 173.6,189.8 173.8,191.7 173.9,189.9 174.1,193.7 174.3,189.9 174.4,193.8 174.6,191.5 174.8,194.3 174.9,191.3 175.1,193.9 175.3,190.9 175.4,194.3 175.6,192.4 175.8,195.7 175.9,194.0 176.1,196.3 176.3,194.2 176.4,198.4 176.6,195.9 176.8,199.6 176.9,198.0 177.1,201.3 177.3,199.1 177.4,203.4 177.6,199.0 177.8,201.3 177.9,198.8 178.1,200.9 178.3,197.8 178.4,199.7 178.6,197.5 178.8,198.8 178.9,196.1 179.1,196.8 179.3,196.6 179.4,196.0 179.6,193.6 179.8,195.6 179.9,193.4 180.1,196.4 180.3,193.0 180.4,195.2 180.6,193.1 180.8,195.7 180.9,193.5 181.1,195.5 181.3,192.1 181.4,192.8 181.6,190.6 181.8,193.0 181.9,190.0 182.1,191.8 182.3,188.3 182.4,190.3 182.6,186.9 182.8,189.2 182.9,185.5 183.1,187.0 183.3,185.2 183.4,188.2 183.6,182.4 183.8,187.1 183.9,184.8 184.1,187.1 184.3,184.7 184.4,186.7 184.6,185.1 184.8,188.7 184.9,185.3 185.1,187.5 185.3,185.0 185.4,188.4 185.6,185.5 185.8,188.1 185.9,185.3 186.1,187.9 186.3,184.7 186.4,187.3 186.6,184.7 186.8,187.8 186.9,184.7 187.1,187.7 187.3,185.8 187.4,187.3 187.6,185.2 187.8,187.1 187.9,184.8 188.1,188.0 188.3,184.2 188.4,188.3 188.6,184.9 188.8,186.7 188.9,184.4 189.1,185.9 189.3,184.1 189.4,185.6 189.6,182.9 189.8,186.0 189.9,182.8 190.1,185.2 190.3,182.6 190.4,185.0 190.6,184.0 190.8,185.6 190.9,183.9 191.1,186.7 191.3,183.6 191.4,187.1 191.6,184.2 191.8,186.8 191.9,184.6 192.1,186.5 192.3,184.3 192.4,186.6 192.6,184.5 192.8,186.1 192.9,183.9 193.1,186.2 193.3,184.4 193.4,186.1 193.6,184.1 193.8,186.1 193.9,183.2 194.1,188.8 194.3,183.9 194.4,186.6 194.6,182.8 194.8,186.4 194.9,183.1 195.1,185.8 195.3,181.9 195.4,183.8 195.6,181.9 195.8,183.5 195.9,180.5 196.1,184.0 196.3,180.5 196.4,183.3 196.6,180.1 196.8,183.1 196.9,181.2 197.1,183.3 197.3,180.5 197.4,183.6 197.6,181.1 197.8,182.3 197.9,180.5 198.1,183.1 198.3,180.6 198.4,183.6 198.6,180.5 198.8,182.8 198.9,180.7 199.1,182.7 199.3,180.1 199.4,184.1 199.6,180.0 199.8,182.0 199.9,179.9 200.1,182.3 200.3,179.7 200.4,181.8 200.6,179.5 200.8,181.1 200.9,178.9 201.1,181.2 201.3,178.9 201.4,181.1 201.6,178.1 201.8,180.3 201.9,178.2 202.1,180.2 202.3,178.2 202.4,181.2 202.6,178.0 202.8,181.0 202.9,179.0 203.1,182.2 203.3,179.9 203.4,182.4 203.6,180.4 203.8,181.8 203.9,179.9 204.1,182.2 204.3,180.0 204.4,182.7 204.6,180.1 204.8,181.8 204.9,180.1 205.1,182.8 205.3,180.5 205.4,183.9 205.6,181.3 205.8,184.1 205.9,182.8 206.1,185.6 206.3,183.9 206.4,186.4 206.6,184.7 206.8,187.0 206.9,183.9 207.1,187.8 207.3,185.4 207.4,188.4 207.6,186.3 207.8,188.3 207.9,186.2 208.1,188.2 208.3,190.3 208.4,187.9 208.6,185.0 208.8,186.2 209.0,183.8 209.1,186.1 209.3,182.7 209.5,184.8 209.6,180.8 209.8,183.1 210.0,179.3 210.1,182.1 210.3,179.8 210.5,181.7 210.6,179.5 210.8,182.2 211.0,180.9 211.1,182.9 211.3,180.3 211.5,184.0 211.6,181.2 211.8,184.1 212.0,181.2 212.1,183.6 212.3,180.2 212.5,181.6 212.6,177.6 212.8,179.1 213.0,175.8 213.1,179.3 213.3,177.5 213.5,180.5 213.6,178.2 213.8,180.8 214.0,179.0 214.1,181.3 214.3,179.6 214.5,181.4 214.6,178.2 214.8,181.5 215.0,179.4 215.1,181.5 215.3,180.1 215.5,182.6 215.6,179.6 215.8,182.4 216.0,180.4 216.1,183.2 216.3,181.0 216.5,182.8 216.6,181.2 216.8,183.3 217.0,180.7 217.1,182.2 217.3,180.5 217.5,182.4 217.6,180.2 217.8,183.1 218.0,180.7 218.1,182.1 218.3,179.7 218.5,182.5 218.6,180.8 218.8,182.8 219.0,181.0 219.1,183.1 219.3,180.6 219.5,182.9 219.6,180.6 219.8,183.3 220.0,180.3 220.1,183.1 220.3,181.2 220.5,183.6 220.6,181.5 220.8,183.9 221.0,181.4 221.1,183.7 221.3,181.9 221.5,184.2 221.6,179.3 221.8,184.3 222.0,182.0 222.1,188.1 222.3,182.2 222.5,184.4 222.6,181.6 222.8,184.7 223.0,181.9 223.1,184.3 223.3,181.5 223.5,184.7 223.6,182.0 223.8,184.7 224.0,181.5 224.1,183.6 224.3,181.2 224.5,183.2 224.6,181.6 224.8,184.3 225.0,181.1 225.1,183.4 225.3,180.7 225.5,183.1 225.6,181.3 225.8,184.4 226.0,181.7 226.1,183.8 226.3,181.9 226.5,185.0 226.6,182.1 226.8,185.6 227.0,182.8 227.1,185.6 227.3,182.6 227.5,184.7 227.6,181.9 227.8,184.3 228.0,181.0 228.1,183.9 228.3,181.5 228.5,183.8 228.6,181.3 228.8,185.1 229.0,182.6 229.1,185.0 229.3,183.2 229.5,186.4 229.6,182.8 229.8,186.4 230.0,182.5 230.1,185.3 230.3,182.3 230.5,186.0 230.6,183.2 230.8,185.3 231.0,183.0 231.1,185.5 231.3,182.1 231.5,184.5 231.6,181.8 231.8,184.6 232.0,181.8 232.1,184.3 232.3,182.2 232.5,184.6 232.6,182.0 232.8,184.9 233.0,181.2 233.1,183.4 233.3,181.2 233.5,184.0 233.6,181.1 233.8,184.8 234.0,180.9 234.1,185.2 234.3,181.3 234.5,185.2 234.6,181.4 234.8,183.6 235.0,179.9 235.1,183.5 235.3,181.5 235.5,184.3 235.6,182.2 235.8,185.3 236.0,182.0 236.1,185.8 236.3,183.6 236.5,186.4 236.6,184.3 236.8,186.6 237.0,183.5 237.1,186.8 237.3,184.5 237.5,186.5 237.6,182.9 237.8,185.9 238.0,182.9 238.1,184.9 238.3,183.0 238.5,185.1 238.6,183.0 238.8,185.0 239.0,183.2 239.1,185.7 239.3,183.7 239.5,186.5 239.6,184.4 239.8,187.4 240.0,184.3 240.1,186.3 240.3,183.9 240.5,185.9 240.6,182.9 240.8,185.1 241.0,182.0 241.1,185.0 241.3,182.6 241.5,185.5 241.6,182.4 241.8,184.8 242.0,181.9 242.1,184.3 242.3,181.2 242.5,185.3 242.6,181.7 242.8,184.4 243.0,181.1 243.1,185.0 243.3,181.7 243.5,185.3 243.6,182.1 243.8,184.9 244.0,183.4 244.1,185.5 244.3,182.6 244.5,185.3 244.6,182.6 244.8,184.7 245.0,182.3 245.1,184.7 245.3,182.2 245.5,187.8 245.6,181.7 245.8,185.1 246.0,183.7 246.1,186.0 246.3,183.6 246.5,186.1 246.6,184.1 246.8,187.3 247.0,183.4 247.1,186.1 247.3,182.9 247.5,186.0 247.6,183.4 247.8,185.1 248.0,181.8 248.1,185.6 248.3,183.0 248.5,185.4 248.6,183.3 248.8,184.9 249.0,181.9 249.1,185.6 249.3,183.3 249.5,185.5 249.6,183.4 249.8,186.2 250.0,183.9 250.1,186.2 250.3,183.8 250.5,185.4 250.6,181.8 250.8,184.9 251.0,181.9 251.1,184.3 251.3,180.2 251.5,183.6 251.6,180.1 251.8,184.2 252.0,181.1 252.1,185.2 252.3,181.8 252.5,185.6 252.6,183.2 252.8,185.5 253.0,183.5 253.1,186.4 253.3,183.2 253.5,186.2 253.6,184.0 253.8,185.9 254.0,184.0 254.1,185.1 254.3,182.5 254.5,185.1 254.6,182.4 254.8,184.5 255.0,181.4 255.1,184.2 255.3,182.4 255.5,184.0 255.6,182.4 255.8,184.5 256.0,182.8 256.1,185.2 256.3,182.9 256.5,185.6 256.6,183.1 256.8,185.6 257.0,183.9 257.2,186.0 257.3,184.0 257.5,186.8 257.7,184.0 257.8,187.0 258.0,183.2 258.2,186.9 258.3,183.2 258.5,186.9 258.7,184.5 258.8,187.2 259.0,184.6 259.2,186.9 259.3,184.8 259.5,186.8 259.7,183.5 259.8,186.0 260.0,185.8 260.2,186.5 260.3,183.4 260.5,186.5 260.7,183.3 260.8,185.8 261.0,184.3 261.2,187.2 261.3,184.6 261.5,187.4 261.7,182.9 261.8,188.8 262.0,185.2 262.2,188.2 262.3,184.7 262.5,187.4 262.7,184.0 262.8,187.0 263.0,184.7 263.2,186.9 263.3,184.2 263.5,186.3 263.7,184.1 263.8,186.6 264.0,184.2 264.2,187.2 264.3,184.2 264.5,187.3 264.7,183.3 264.8,186.9 265.0,184.9 265.2,186.7 265.3,184.3 265.5,186.5 265.7,183.9 265.8,186.2 266.0,183.2 266.2,186.3 266.3,182.3 266.5,185.3 266.7,184.0 266.8,185.3 267.0,182.7 267.2,185.1 267.3,182.1 267.5,185.4 267.7,181.8 267.8,187.5 268.0,182.1 268.2,184.0 268.3,181.8 268.5,185.4 268.7,182.0 268.8,185.0 269.0,183.2 269.2,185.6 269.3,184.3 269.5,186.8 269.7,183.5 269.8,186.2 270.0,184.6 270.2,186.3 270.3,183.7 270.5,185.8 270.7,183.3 270.8,184.9 271.0,182.4 271.2,184.7 271.3,182.2 271.5,184.8 271.7,181.0 271.8,184.3 272.0,181.1 272.2,183.6 272.3,182.2 272.5,185.1 272.7,182.4 272.8,185.0 273.0,182.6 273.2,184.7 273.3,182.8 273.5,185.7 273.7,183.4 273.8,186.4 274.0,182.7 274.2,185.7 274.3,183.8 274.5,186.5 274.7,182.9 274.8,185.4 275.0,182.1 275.2,185.7 275.3,182.1 275.5,185.4 275.7,183.0 275.8,184.9 276.0,182.7 276.2,184.9 276.3,182.3 276.5,185.6 276.7,182.9 276.8,185.6 277.0,181.9 277.2,185.9 277.3,183.1 277.5,185.9 277.7,182.8 277.8,184.7 278.0,181.1 278.2,183.6 278.3,180.6 278.5,183.1 278.7,180.1 278.8,182.6 279.0,179.8 279.2,183.6 279.3,180.4 279.5,183.8 279.7,181.0 279.8,183.4 280.0,181.1 280.2,185.2 280.3,181.4 280.5,184.9 280.7,180.6 280.8,184.6 281.0,180.6 281.2,183.8 281.3,181.0 281.5,183.5 281.7,181.3 281.8,184.0 282.0,181.3 282.2,185.0 282.3,182.0 282.5,184.1 282.7,181.8 282.8,184.6 283.0,181.3 283.2,184.7 283.3,180.8 283.5,183.1 283.7,179.9 283.8,183.4 284.0,180.0 284.2,182.8 284.3,180.6 284.5,183.3 284.7,180.0 284.8,182.1 285.0,179.0 285.2,181.6 285.3,179.9 285.5,181.5 285.7,178.3 285.8,182.1 286.0,179.3 286.2,181.3 286.3,178.9 286.5,182.2 286.7,179.0 286.8,180.9 287.0,179.2 287.2,182.4 287.3,179.0 287.5,181.2 287.7,175.4 287.8,183.4 288.0,179.9 288.2,181.7 288.3,179.1 288.5,175.9 288.7,178.7 288.8,183.7 289.0,179.1 289.2,181.1 289.3,178.4 289.5,180.7 289.7,178.5 289.8,180.7 290.0,178.0 290.2,181.3 290.3,178.3 290.5,181.0 290.7,178.5 290.8,181.0 291.0,177.2 291.2,182.0 291.3,177.3 291.5,180.4 291.7,178.8 291.8,180.1 292.0,177.7 292.2,180.0 292.3,178.4 292.5,182.8 292.7,179.0 292.8,181.8 293.0,178.7 293.2,181.3 293.3,179.2 293.5,182.0 293.7,178.5 293.8,181.1 294.0,177.8 294.2,180.6 294.3,177.9 294.5,175.9 294.7,177.7 294.8,181.7 295.0,179.4 295.2,182.8 295.3,179.9 295.5,182.5 295.7,179.5 295.8,183.0 296.0,181.1 296.2,183.7 296.3,181.5 296.5,184.7 296.7,181.6 296.8,184.5 297.0,181.2 297.2,183.7 297.3,180.0 297.5,183.0 297.7,180.0 297.8,182.3 298.0,178.1 298.2,180.7 298.3,178.2 298.5,182.4 298.7,179.4 298.8,181.2 299.0,177.9 299.2,182.1 299.3,178.7 299.5,181.6 299.7,179.3 299.8,181.5 300.0,178.7 300.2,181.8 300.3,179.1 300.5,181.2 300.7,179.2 300.8,181.4 301.0,178.9 301.2,181.0 301.3,178.4 301.5,179.8 301.7,177.0 301.8,180.9 302.0,178.5 302.2,182.0 302.3,178.8 302.5,182.1 302.7,178.6 302.8,181.2 303.0,179.2 303.2,182.0 303.3,179.4 303.5,180.9 303.7,178.5 303.8,181.4 304.0,178.4 304.2,182.4 304.3,179.5 304.5,181.7 304.7,179.5 304.8,181.9 305.0,179.5 305.2,182.6 305.4,179.8 305.5,182.2 305.7,178.7 305.9,181.4 306.0,179.3 306.2,181.9 306.4,179.2 306.5,181.2 306.7,178.4 306.9,181.9 307.0,178.5 307.2,180.6 307.4,177.1 307.5,179.7 307.7,177.4 307.9,179.3 308.0,176.8 308.2,179.6 308.4,177.2 308.5,179.8 308.7,175.6 308.9,178.0 309.0,174.9 309.2,177.8 309.4,175.7 309.5,178.8 309.7,174.8 309.9,177.1 310.0,175.3 310.2,178.1 310.4,174.1 310.5,174.3 310.7,175.0 310.9,178.7 311.0,176.7 311.2,181.1 311.4,179.1 311.5,182.5 311.7,180.6 311.9,183.4 312.0,182.0 312.2,186.1 312.4,184.2 312.5,187.0 312.7,184.4 312.9,187.1 313.0,184.9 313.2,187.8 313.4,186.2 313.5,188.7 313.7,185.1 313.9,187.5 314.0,184.1 314.2,189.2 314.4,187.0 314.5,189.7 314.7,186.9 314.9,189.5 315.0,187.7 315.2,189.8 315.4,187.5 315.5,189.4 315.7,186.5 315.9,189.0 316.0,187.0 316.2,189.1 316.4,185.6 316.5,188.5 316.7,186.4 316.9,189.0 317.0,185.1 317.2,185.3 317.4,186.5 317.5,188.2 317.7,186.6 317.9,190.2 318.0,187.5 318.2,189.5 318.4,186.6 318.5,191.0 318.7,187.7 318.9,189.5 319.0,187.1 319.2,188.8 319.4,185.4 319.5,188.1 319.7,185.1 319.9,187.4 320.0,183.6 320.2,187.1 320.4,182.5 320.5,186.0 320.7,184.3 320.9,187.3 321.0,183.9 321.2,186.8 321.4,183.7 321.5,186.8 321.7,183.6 321.9,186.5 322.0,184.1 322.2,187.6 322.4,185.1 322.5,186.9 322.7,184.6 322.9,187.7 323.0,183.9 323.2,186.7 323.4,184.1 323.5,186.5 323.7,183.1 323.9,185.8 324.0,182.4 324.2,185.1 324.4,182.8 324.5,185.4 324.7,183.1 324.9,186.3 325.0,184.0 325.2,186.2 325.4,183.8 325.5,185.9 325.7,183.2 325.9,186.0 326.0,183.0 326.2,186.1 326.4,182.4 326.5,185.2 326.7,183.6 326.9,185.5 327.0,183.8 327.2,186.0 327.4,182.0 327.5,185.2 327.7,181.9 327.9,184.6 328.0,181.9 328.2,185.0 328.4,182.6 328.5,184.0 328.7,181.4 328.9,184.5 329.0,181.7 329.2,185.1" fill="none" stroke="#000" stroke-width="1.0" stroke-linejoin="round" clip-path="url(#c03)"/>
<polyline points="40.0,251.7 40.3,234.9 40.5,252.3 40.8,236.2 41.0,249.9 41.3,235.3 41.5,249.7 41.8,238.0 42.0,250.6 42.3,236.2 42.5,251.3 42.8,235.8 43.0,252.7 43.3,237.2 43.5,250.3 43.8,237.5 44.0,251.6 44.3,235.9 44.5,253.0 44.8,235.3 45.0,251.5 45.3,236.5 45.5,252.6 45.8,238.6 46.0,252.3 46.3,235.3 46.5,252.1 46.8,236.7 47.0,252.2 47.3,236.3 47.5,250.5 47.8,237.5 48.0,251.8 48.3,236.2 48.5,251.2 48.8,238.2 49.0,251.2 49.3,236.0 49.5,251.7 49.8,238.8 50.0,252.5 50.3,237.2 50.5,252.8 50.8,238.4 51.0,252.3 51.3,238.4 51.5,253.2 51.8,235.6 52.0,253.8 52.3,238.9 52.5,251.5 52.8,238.0 53.0,253.6 53.3,235.4 53.5,253.8 53.8,235.5 54.0,250.4 54.3,238.7 54.5,254.1 54.8,236.8 55.0,252.6 55.3,237.5 55.5,252.7 55.8,238.6 56.0,253.4 56.3,236.3 56.5,252.7 56.8,235.5 57.0,251.4 57.3,238.6 57.5,251.7 57.8,236.9 58.0,250.8 58.3,238.0 58.5,252.8 58.8,235.0 59.0,250.9 59.3,235.1 59.5,252.5 59.8,236.0 60.0,250.3 60.3,237.8 60.5,252.8 60.8,238.1 61.0,249.8 61.3,235.2 61.5,250.0 61.8,236.9 62.0,249.8 62.3,236.9 62.5,252.5 62.8,234.3 63.0,250.4 63.3,237.5 63.5,252.2 63.8,234.5 64.0,248.9 64.3,234.8 64.5,251.3 64.8,236.0 65.0,251.1 65.3,236.7 65.5,250.2 65.8,235.9 66.0,249.7 66.3,235.4 66.5,251.1 66.8,236.5 67.0,250.2 67.3,235.3 67.5,249.4 67.8,236.0 68.0,249.0 68.3,234.6 68.5,249.0 68.8,234.4 69.0,249.5 69.3,235.1 69.5,251.3 69.8,235.5 70.0,250.5 70.3,233.9 70.5,248.2 70.8,236.1 71.0,251.2 71.3,235.3 71.5,250.0 71.8,236.4 72.0,248.2 72.3,236.2 72.6,250.5 72.8,234.5 73.1,250.0 73.3,234.2 73.6,250.4 73.8,235.0 74.1,248.6 74.3,234.8 74.6,250.5 74.8,235.0 75.1,248.8 75.3,235.3 75.6,249.7 75.8,236.6 76.1,249.9 76.3,235.5 76.6,248.6 76.8,233.1 77.1,247.4 77.3,233.3 77.6,250.6 77.8,233.9 78.1,250.1 78.3,233.4 78.6,247.3 78.8,233.4 79.1,247.9 79.3,235.8 79.6,247.6 79.8,235.0 80.1,248.0 80.3,234.7 80.6,249.3 80.8,235.0 81.1,248.5 81.3,235.2 81.6,248.6 81.8,235.0 82.1,247.5 82.3,233.2 82.6,246.5 82.8,234.1 83.1,249.1 83.3,235.2 83.6,248.8 83.8,234.6 84.1,246.5 84.3,233.2 84.6,247.0 84.8,231.9 85.1,245.9 85.3,231.9 85.6,248.2 85.8,231.7 86.1,247.9 86.3,231.6 86.6,248.5 86.8,232.6 87.1,248.6 87.3,232.5 87.6,246.3 87.8,231.8 88.1,245.6 88.3,233.3 88.6,247.6 88.8,231.1 89.1,246.2 89.3,230.9 89.6,248.1 89.8,232.2 90.1,247.4 90.3,230.9 90.6,246.4 90.8,232.7 91.1,247.0 91.3,231.2 91.6,248.1 91.8,232.1 92.1,245.9 92.3,231.5 92.6,247.5 92.8,233.6 93.1,247.4 93.3,235.2 93.6,246.0 93.8,235.1 94.1,247.5 94.3,232.3 94.6,248.6 94.8,234.8 95.1,247.1 95.3,235.4 95.6,250.0 95.8,236.1 96.1,248.3 96.3,234.4 96.6,248.4 96.8,233.0 97.1,250.3 97.3,234.8 97.6,248.9 97.8,235.8 98.1,248.6 98.3,235.0 98.6,249.4 98.8,234.5 99.1,250.6 99.3,235.7 99.6,249.1 99.8,236.6 100.1,248.5 100.3,234.4 100.6,249.1 100.8,236.4 101.1,249.9 101.3,236.0 101.6,249.9 101.8,234.3 102.1,250.4 102.3,235.5 102.6,250.8 102.8,236.1 103.1,248.7 103.3,235.7 103.6,250.1 103.8,236.2 104.1,248.9 104.4,237.0 104.6,250.0 104.9,236.1 105.1,250.1 105.4,235.7 105.6,249.9 105.9,235.0 106.1,251.3 106.4,237.7 106.6,250.7 106.9,234.7 107.1,249.9 107.4,236.4 107.6,249.5 107.9,236.4 108.1,249.3 108.4,233.9 108.6,248.5 108.9,234.8 109.1,248.6 109.4,234.9 109.6,250.8 109.9,236.1 110.1,250.2 110.4,233.2 110.6,248.3 110.9,233.0 111.1,248.8 111.4,235.2 111.6,249.1 111.9,234.0 112.1,249.5 112.4,234.0 112.6,248.6 112.9,235.8 113.1,250.6 113.4,235.7 113.6,250.6 113.9,233.5 114.1,248.7 114.4,236.5 114.6,248.4 114.9,235.3 115.1,250.8 115.4,234.4 115.6,249.5 115.9,234.6 116.1,248.8 116.4,236.5 116.6,249.8 116.9,234.7 117.1,251.1 117.4,234.3 117.6,252.0 117.9,235.4 118.1,251.0 118.4,234.2 118.6,249.8 118.9,236.1 119.1,252.1 119.4,235.9 119.6,252.3 119.9,235.5 120.1,249.4 120.4,237.1 120.6,251.0 120.9,235.6 121.1,250.6 121.4,235.5 121.6,253.4 121.9,237.3 122.1,252.5 122.4,236.2 122.6,251.1 122.9,236.5 123.1,251.3 123.4,236.4 123.6,253.0 123.9,235.7 124.1,250.6 124.4,234.9 124.6,251.4 124.9,238.1 125.1,250.5 125.4,236.8 125.6,251.8 125.9,237.9 126.1,251.0 126.4,236.0 126.6,251.7 126.9,235.1 127.1,251.8 127.4,237.4 127.6,252.6 127.9,235.0 128.1,253.3 128.4,236.3 128.6,251.4 128.9,238.1 129.1,251.0 129.4,237.1 129.6,252.7 129.9,236.1 130.1,250.3 130.4,236.0 130.6,253.2 130.9,236.4 131.1,252.7 131.4,236.3 131.6,251.2 131.9,236.7 132.1,250.2 132.4,237.5 132.6,250.8 132.9,238.9 133.1,253.3 133.4,237.1 133.6,252.2 133.9,235.5 134.1,252.5 134.4,235.9 134.6,251.9 134.9,238.5 135.1,252.6 135.4,235.8 135.6,252.7 135.9,236.1 136.1,253.0 136.4,236.7 136.7,252.8 136.9,236.2 137.2,249.7 137.4,237.9 137.7,251.2 137.9,237.5 138.2,251.3 138.4,238.5 138.7,249.8 138.9,238.1 139.2,252.1 139.4,236.4 139.7,249.8 139.9,237.2 140.2,249.7 140.4,235.2 140.7,252.8 140.9,237.6 141.2,249.7 141.4,237.2 141.7,252.7 141.9,236.7 142.2,252.6 142.4,235.4 142.7,250.3 142.9,235.8 143.2,250.8 143.4,235.9 143.7,252.5 143.9,236.9 144.2,249.9 144.4,236.5 144.7,249.6 144.9,236.6 145.2,250.8 145.4,237.6 145.7,251.5 145.9,236.2 146.2,252.5 146.4,238.1 146.7,250.6 146.9,236.3 147.2,249.8 147.4,237.5 147.7,250.0 147.9,238.1 148.2,251.3 148.4,235.4 148.7,252.0 148.9,238.1 149.2,252.8 149.4,238.2 149.7,253.0 149.9,235.0 150.2,251.4 150.4,237.7 150.7,251.2 150.9,235.6 151.2,250.5 151.4,236.6 151.7,250.1 151.9,237.1 152.2,253.3 152.4,235.0 152.7,253.1 152.9,234.7 153.2,250.6 153.4,236.0 153.7,253.1 153.9,237.8 154.2,250.8 154.4,237.6 154.7,250.9 154.9,237.7 155.2,252.4 155.4,235.4 155.7,251.7 155.9,238.1 156.2,252.7 156.4,238.6 156.7,251.4 156.9,236.6 157.2,251.6 157.4,237.4 157.7,251.5 157.9,237.7 158.2,252.0 158.4,236.6 158.7,254.4 158.9,239.2 159.2,254.0 159.4,238.3 159.7,253.9 159.9,240.3 160.2,254.9 160.4,239.4 160.7,252.7 160.9,241.1 161.2,253.8 161.4,237.9 161.7,253.2 161.9,237.6 162.2,253.6 162.4,239.3 162.7,253.0 162.9,237.9 163.2,253.1 163.4,239.0 163.7,255.5 163.9,239.2 164.2,256.0 164.4,241.3 164.7,255.2 164.9,238.2 165.2,254.3 165.4,238.0 165.7,255.0 165.9,238.4 166.2,252.6 166.4,239.2 166.7,254.6 166.9,238.8 167.2,255.9 167.4,237.7 167.7,254.1 167.9,237.9 168.2,254.0 168.4,240.0 168.7,253.1 169.0,237.6 169.2,255.4 169.5,238.9 169.7,253.0 170.0,240.5 170.2,254.9 170.5,238.8 170.7,255.5 171.0,238.7 171.2,253.2 171.5,239.1 171.7,254.1 172.0,239.2 172.2,253.2 172.5,241.1 172.7,253.8 173.0,239.3 173.2,253.8 173.5,238.4 173.7,254.4 174.0,240.2 174.2,253.5 174.5,240.5 174.7,255.0 175.0,241.3 175.2,254.0 175.5,240.2 175.7,255.6 176.0,238.1 176.2,255.1 176.5,240.5 176.7,255.3 177.0,239.4 177.2,255.0 177.5,240.1 177.7,252.9 178.0,238.3 178.2,252.4 178.5,240.2 178.7,252.6 179.0,239.2 179.2,252.5 179.5,238.7 179.7,255.0 180.0,239.2 180.2,253.5 180.5,237.6 180.7,253.6 181.0,239.6 181.2,252.9 181.5,240.8 181.7,253.4 182.0,238.2 182.2,252.6 182.5,240.4 182.7,253.0 183.0,241.2 183.2,253.7 183.5,238.4 183.7,255.7 184.0,239.9 184.2,252.9 184.5,240.7 184.7,255.8 185.0,238.2 185.2,252.6 185.5,238.7 185.7,252.6 186.0,240.4 186.2,252.8 186.5,240.1 186.7,253.4 187.0,238.9 187.2,253.8 187.5,240.7 187.7,253.6 188.0,240.0 188.2,253.5 188.5,239.5 188.7,252.1 189.0,240.8 189.2,254.7 189.5,239.5 189.7,254.1 190.0,239.5 190.2,253.2 190.5,240.0 190.7,253.1 191.0,237.5 191.2,251.8 191.5,238.8 191.7,253.8 192.0,237.8 192.2,254.2 192.5,238.7 192.7,252.3 193.0,238.1 193.2,251.6 193.5,237.9 193.7,252.8 194.0,238.7 194.2,250.9 194.5,239.3 194.7,249.8 195.0,237.1 195.2,251.8 195.5,237.1 195.7,249.8 196.0,235.6 196.2,250.0 196.5,234.7 196.7,251.0 197.0,236.2 197.2,249.0 197.5,237.2 197.7,251.7 198.0,237.2 198.2,251.6 198.5,235.3 198.7,252.1 199.0,237.0 199.2,249.3 199.5,235.7 199.7,249.0 200.0,236.8 200.2,250.3 200.5,234.6 200.8,249.3 201.0,234.7 201.3,252.2 201.5,236.8 201.8,250.6 202.0,237.9 202.3,250.7 202.5,236.8 202.8,249.0 203.0,236.8 203.3,249.0 203.5,234.8 203.8,250.9 204.0,236.8 204.3,251.7 204.5,237.0 204.8,250.8 205.0,235.7 205.3,249.4 205.5,235.9 205.8,249.2 206.0,236.2 206.3,249.6 206.5,235.0 206.8,251.9 207.0,237.7 207.3,249.5 207.5,235.5 207.8,250.8 208.0,236.3 208.3,250.6 208.5,238.1 208.8,249.8 209.0,237.7 209.3,251.2 209.5,236.5 209.8,251.6 210.0,237.1 210.3,251.0 210.5,235.9 210.8,250.3 211.0,235.3 211.3,250.7 211.5,235.7 211.8,249.2 212.0,235.1 212.3,251.3 212.5,235.4 212.8,250.8 213.0,234.8 213.3,251.4 213.5,235.2 213.8,251.6 214.0,234.9 214.3,250.6 214.5,236.2 214.8,252.2 215.0,235.3 215.3,249.3 215.5,234.7 215.8,251.6 216.0,235.9 216.3,250.8 216.5,235.6 216.8,252.1 217.0,236.0 217.3,251.9 217.5,237.3 217.8,251.9 218.0,238.0 218.3,249.3 218.5,235.3 218.8,248.8 219.0,234.7 219.3,249.2 219.5,235.2 219.8,248.8 220.0,236.0 220.3,249.6 220.5,235.0 220.8,251.8 221.0,234.9 221.3,251.9 221.5,235.9 221.8,249.9 222.0,235.8 222.3,251.7 222.5,235.7 222.8,249.7 223.0,236.4 223.3,252.4 223.5,236.9 223.8,251.7 224.0,237.6 224.3,252.1 224.5,238.2 224.8,254.7 225.0,240.1 225.3,253.1 225.5,240.1 225.8,253.4 226.0,239.4 226.3,255.6 226.5,241.6 226.8,254.2 227.0,239.5 227.3,255.2 227.5,241.9 227.8,253.5 228.0,239.6 228.3,252.7 228.5,239.7 228.8,253.2 229.0,241.5 229.3,254.0 229.5,240.5 229.8,253.5 230.0,239.5 230.3,253.0 230.5,241.4 230.8,255.5 231.0,242.1 231.3,253.7 231.5,239.7 231.8,253.7 232.0,241.1 232.3,255.4 232.5,241.6 232.8,256.0 233.1,239.0 233.3,253.7 233.6,242.0 233.8,252.7 234.1,240.0 234.3,255.5 234.6,241.8 234.8,254.8 235.1,240.5 235.3,255.0 235.6,240.7 235.8,252.8 236.1,239.4 236.3,254.3 236.6,240.5 236.8,256.1 237.1,239.9 237.3,255.0 237.6,240.1 237.8,254.3 238.1,240.8 238.3,252.9 238.6,238.6 238.8,255.0 239.1,239.1 239.3,255.5 239.6,240.5 239.8,254.4 240.1,242.0 240.3,256.0 240.6,241.3 240.8,252.8 241.1,239.1 241.3,254.8 241.6,241.2 241.8,255.4 242.1,239.5 242.3,254.0 242.6,238.6 242.8,254.0 243.1,240.7 243.3,254.3 243.6,239.4 243.8,255.0 244.1,240.7 244.3,255.3 244.6,241.3 244.8,255.4 245.1,240.8 245.3,255.3 245.6,239.3 245.8,255.0 246.1,239.2 246.3,254.4 246.6,242.0 246.8,252.5 247.1,239.9 247.3,255.9 247.6,238.8 247.8,253.9 248.1,241.1 248.3,256.1 248.6,238.8 248.8,254.2 249.1,241.3 249.3,254.1 249.6,240.9 249.8,254.6 250.1,240.6 250.3,254.0 250.6,240.5 250.8,254.3 251.1,240.1 251.3,253.3 251.6,241.0 251.8,255.9 252.1,239.5 252.3,253.0 252.6,239.9 252.8,252.9 253.1,238.5 253.3,255.9 253.6,240.5 253.8,252.9 254.1,241.0 254.3,255.8 254.6,240.3 254.8,252.7 255.1,240.2 255.3,252.5 255.6,240.8 255.8,254.7 256.1,240.8 256.3,252.9 256.6,239.2 256.8,252.3 257.1,238.2 257.3,252.5 257.6,238.5 257.8,255.6 258.1,240.3 258.3,255.8 258.6,240.5 258.8,254.1 259.1,239.2 259.3,255.8 259.6,239.9 259.8,254.1 260.1,238.2 260.3,254.9 260.6,239.5 260.8,252.6 261.1,241.0 261.3,253.8 261.6,239.8 261.8,255.5 262.1,238.1 262.3,252.3 262.6,238.2 262.8,255.1 263.1,238.7 263.3,254.2 263.6,240.3 263.8,254.7 264.1,239.0 264.3,255.5 264.6,238.3 264.8,253.7 265.1,241.3 265.4,252.5 265.6,238.8 265.9,254.4 266.1,239.9 266.4,253.7 266.6,240.7 266.9,255.2 267.1,238.7 267.4,255.6 267.6,239.3 267.9,255.7 268.1,239.2 268.4,254.3 268.6,240.6 268.9,255.7 269.1,240.0 269.4,253.2 269.6,241.4 269.9,253.2 270.1,241.1 270.4,254.8 270.6,239.6 270.9,254.9 271.1,239.1 271.4,253.7 271.6,238.1 271.9,252.4 272.1,238.4 272.4,254.8 272.6,240.1 272.9,254.3 273.1,241.5 273.4,253.9 273.6,240.2 273.9,254.0 274.1,240.5 274.4,252.3 274.6,238.4 274.9,254.2 275.1,239.6 275.4,255.2 275.6,240.3 275.9,253.6 276.1,240.1 276.4,253.9 276.6,240.1 276.9,255.6 277.1,238.5 277.4,254.3 277.6,239.7 277.9,252.3 278.1,239.1 278.4,252.8 278.6,241.1 278.9,255.7 279.1,238.9 279.4,254.8 279.6,238.6 279.9,254.2 280.1,240.8 280.4,252.9 280.6,238.7 280.9,255.1 281.1,239.3 281.4,253.5 281.6,240.0 281.9,253.8 282.1,239.7 282.4,252.7 282.6,240.6 282.9,254.3 283.1,239.9 283.4,253.2 283.6,238.5 283.9,254.0 284.1,239.0 284.4,252.3 284.6,239.3 284.9,254.2 285.1,238.1 285.4,253.1 285.6,239.5 285.9,255.0 286.1,239.7 286.4,252.8 286.6,238.7 286.9,255.3 287.1,241.2 287.4,252.1 287.6,241.6 287.9,252.8 288.1,241.2 288.4,254.8 288.6,239.8 288.9,254.1 289.1,240.8 289.4,253.1 289.6,240.3 289.9,252.4 290.1,239.7 290.4,253.1 290.6,238.5 290.9,252.9 291.1,240.4 291.4,252.9 291.6,241.0 291.9,252.4 292.1,240.9 292.4,254.1 292.6,238.6 292.9,254.8 293.1,239.5 293.4,253.5 293.6,241.4 293.9,252.9 294.1,239.5 294.4,254.1 294.6,240.8 294.9,255.4 295.1,238.4 295.4,252.7 295.6,239.8 295.9,253.6 296.1,240.9 296.4,252.5 296.6,240.9 296.9,253.7 297.2,240.8 297.4,252.0 297.7,238.8 297.9,254.0 298.2,240.5 298.4,255.1 298.7,241.2 298.9,252.2 299.2,240.9 299.4,255.1 299.7,240.5 299.9,252.8 300.2,240.5 300.4,254.9 300.7,241.0 300.9,254.2 301.2,240.1 301.4,252.6 301.7,239.2 301.9,252.2 302.2,241.3 302.4,253.0 302.7,241.9 302.9,252.3 303.2,238.7 303.4,252.4 303.7,239.5 303.9,252.1 304.2,238.6 304.4,253.4 304.7,239.7 304.9,252.8 305.2,240.7 305.4,255.1 305.7,239.9 305.9,255.2 306.2,240.2 306.4,252.0 306.7,241.0 306.9,253.9 307.2,239.5 307.4,254.1 307.7,241.1 307.9,253.2 308.2,241.1 308.4,254.4 308.7,240.7 308.9,253.5 309.2,239.7 309.4,254.6 309.7,238.8 309.9,252.6 310.2,238.6 310.4,252.0 310.7,239.0 310.9,253.5 311.2,238.1 311.4,253.7 311.7,240.1 311.9,253.3 312.2,237.9 312.4,252.7 312.7,237.6 312.9,252.5 313.2,239.9 313.4,254.2 313.7,240.0 313.9,252.1 314.2,238.5 314.4,253.7 314.7,238.9 314.9,255.2 315.2,236.8 315.4,252.9 315.7,239.8 315.9,253.6 316.2,237.9 316.4,255.3 316.7,240.0 316.9,253.7 317.2,238.2 317.4,254.7 317.7,238.3 317.9,253.2 318.2,240.4 318.4,253.1 318.7,240.5 318.9,254.2 319.2,237.9 319.4,254.2 319.7,237.2 319.9,255.5 320.2,239.2 320.4,254.8 320.7,239.2 320.9,255.4 321.2,239.3 321.4,253.0 321.7,237.4 321.9,254.6 322.2,240.7 322.4,255.7 322.7,237.7 322.9,255.0 323.2,237.8 323.4,255.8 323.7,237.4 323.9,253.1 324.2,240.8 324.4,253.6 324.7,240.4 324.9,254.8 325.2,238.6 325.4,252.3 325.7,240.7 325.9,254.6 326.2,238.2 326.4,254.9 326.7,239.8 326.9,254.0 327.2,239.1 327.4,254.7 327.7,239.9 327.9,253.9 328.2,239.9 328.4,253.9 328.7,240.8 328.9,253.2 329.2,240.8" fill="none" stroke="#000" stroke-width="0.9" stroke-linejoin="round" clip-path="url(#c04)"/>
<polyline points="41.1,300.8 49.2,305.9 56.5,292.0 64.1,296.8 71.4,290.0 79.0,298.8 86.3,288.2 93.9,292.2 101.2,276.8 108.5,292.5 116.1,287.4 123.4,290.7 130.7,298.8 138.3,295.5 145.6,299.8 153.2,293.8 160.5,289.2 167.8,299.3 175.3,310.2 182.9,296.8 190.2,299.3 197.5,290.5 205.1,305.6 212.4,289.5 219.7,293.8 227.3,303.8 234.6,313.9 242.2,302.6 249.5,301.3 256.8,295.8 264.4,301.8 271.7,294.3 279.3,296.8 286.6,307.1 293.9,306.4 301.5,309.4 308.8,302.1 316.1,284.2 323.7,300.6" fill="none" stroke="#000" stroke-width="0.8" stroke-linejoin="round" clip-path="url(#c05)"/>
<polyline points="423.5,19.9 423.7,17.0 423.8,19.7 424.0,15.8 424.2,17.8 424.3,14.8 424.5,18.3 424.7,14.9 424.8,18.5 425.0,14.8 425.2,17.8 425.3,14.0 425.5,19.0 425.7,16.7 425.8,20.5 426.0,17.2 426.2,21.4 426.3,18.7 426.5,21.1 426.7,18.1 426.8,21.8 427.0,19.2 427.2,21.9 427.3,18.6 427.5,23.2 427.7,19.6 427.8,22.4 428.0,19.1 428.2,21.7 428.3,18.3 428.5,21.9 428.7,19.5 428.8,23.3 429.0,17.7 429.2,23.1 429.3,20.4 429.5,22.6 429.7,19.3 429.8,22.2 430.0,19.1 430.2,22.5 430.3,19.2 430.5,23.5 430.7,19.8 430.8,22.5 431.0,20.4 431.2,23.2 431.3,21.0 431.5,23.9 431.7,20.5 431.8,25.2 432.0,14.9 432.2,24.5 432.3,24.3 432.5,24.0 432.7,19.5 432.8,23.4 433.0,20.2 433.2,22.7 433.3,19.1 433.5,21.5 433.7,19.3 433.8,21.6 434.0,18.9 434.2,22.7 434.3,18.5 434.5,22.0 434.7,18.1 434.8,22.5 435.0,20.3 435.2,24.4 435.3,20.6 435.5,25.1 435.7,21.8 435.8,25.1 436.0,22.6 436.2,26.4 436.3,22.4 436.5,24.9 436.7,19.7 436.8,24.5 437.0,20.2 437.2,22.6 437.3,18.6 437.5,23.3 437.7,19.4 437.8,22.7 438.0,18.7 438.2,22.6 438.3,19.5 438.5,21.8 438.7,17.9 438.8,19.9 439.0,15.7 439.2,18.5 439.3,15.4 439.5,18.2 439.7,16.4 439.8,20.1 440.0,17.4 440.2,21.2 440.3,17.9 440.5,23.1 440.7,21.3 440.8,25.1 441.0,18.2 441.2,25.5 441.3,21.8 441.5,26.2 441.7,22.3 441.8,26.2 442.0,22.1 442.2,25.9 442.3,19.1 442.5,24.2 442.7,20.7 442.8,24.8 443.0,20.0 443.2,23.6 443.3,20.2 443.5,23.4 443.7,20.0 443.8,23.8 444.0,20.6 444.2,23.9 444.4,21.2 444.5,24.6 444.7,22.1 444.9,25.7 445.0,21.6 445.2,25.6 445.4,20.8 445.5,25.6 445.7,22.3 445.9,25.6 446.0,21.5 446.2,24.9 446.4,21.5 446.5,25.1 446.7,21.3 446.9,25.8 447.0,21.1 447.2,24.8 447.4,22.7 447.5,26.3 447.7,23.2 447.9,26.3 448.0,23.5 448.2,26.6 448.4,22.0 448.5,29.6 448.7,24.3 448.9,28.6 449.0,24.5 449.2,28.4 449.4,24.9 449.5,28.1 449.7,25.1 449.9,29.1 450.0,24.5 450.2,27.9 450.4,23.6 450.5,27.3 450.7,24.8 450.9,29.1 451.0,25.9 451.2,29.6 451.4,27.1 451.5,30.8 451.7,27.1 451.9,31.2 452.0,28.6 452.2,32.2 452.4,29.1 452.5,32.6 452.7,28.6 452.9,32.4 453.0,28.6 453.2,32.6 453.4,29.7 453.5,33.1 453.7,30.5 453.9,32.9 454.0,28.9 454.2,32.7 454.4,30.0 454.5,33.8 454.7,29.1 454.9,33.7 455.0,29.2 455.2,33.1 455.4,30.9 455.5,35.8 455.7,31.6 455.9,35.1 456.0,31.7 456.2,34.8 456.4,32.5 456.5,35.6 456.7,31.9 456.9,36.4 457.0,32.6 457.2,36.9 457.4,33.5 457.5,36.1 457.7,33.7 457.9,37.3 458.0,34.5 458.2,37.4 458.4,34.2 458.5,36.4 458.7,32.6 458.9,36.0 459.0,32.3 459.2,37.7 459.4,33.1 459.5,36.3 459.7,32.3 459.9,36.9 460.0,33.7 460.2,38.9 460.4,34.4 460.5,37.9 460.7,34.8 460.9,38.9 461.0,35.4 461.2,38.5 461.4,34.7 461.5,36.8 461.7,34.4 461.9,37.7 462.0,33.6 462.2,37.2 462.4,33.2 462.5,36.9 462.7,33.5 462.9,37.1 463.0,33.8 463.2,36.9 463.4,33.9 463.5,36.3 463.7,33.0 463.9,35.4 464.0,32.1 464.2,36.0 464.4,32.9 464.5,35.9 464.7,33.0 464.9,36.7 465.0,33.9 465.2,37.3 465.4,33.1 465.5,36.7 465.7,34.0 465.9,36.3 466.0,33.1 466.2,36.6 466.4,32.0 466.5,35.6 466.7,33.1 466.9,35.9 467.0,33.1 467.2,35.2 467.4,31.9 467.5,37.9 467.7,32.4 467.9,36.3 468.0,33.9 468.2,37.9 468.4,34.9 468.5,38.4 468.7,35.8 468.9,39.0 469.0,35.2 469.2,38.7 469.4,36.0 469.5,38.6 469.7,38.1 469.9,39.3 470.0,34.3 470.2,37.9 470.4,34.0 470.5,38.3 470.7,34.7 470.9,38.9 471.0,35.4 471.2,39.4 471.4,35.0 471.5,38.3 471.7,35.8 471.9,38.8 472.0,35.9 472.2,38.2 472.4,34.5 472.5,38.7 472.7,34.2 472.9,37.9 473.0,33.4 473.2,36.8 473.4,32.3 473.5,37.5 473.7,33.2 473.9,36.9 474.0,34.3 474.2,37.6 474.4,34.5 474.5,39.5 474.7,34.8 474.9,38.4 475.0,34.8 475.2,38.2 475.4,35.6 475.5,38.3 475.7,35.4 475.9,40.7 476.0,35.2 476.2,40.8 476.4,35.8 476.5,38.7 476.7,35.4 476.9,38.0 477.0,34.3 477.2,37.3 477.4,34.6 477.5,38.5 477.7,34.6 477.9,39.5 478.0,35.2 478.2,38.4 478.4,34.7 478.5,38.5 478.7,34.1 478.9,38.0 479.0,33.1 479.2,37.1 479.4,33.7 479.5,36.5 479.7,32.3 479.9,36.8 480.0,33.8 480.2,41.2 480.4,31.3 480.5,33.3 480.7,24.7 480.9,30.4 481.0,23.2 481.2,22.3 481.4,22.7 481.5,27.3 481.7,22.5 481.9,29.1 482.0,27.0 482.2,33.3 482.4,27.5 482.5,35.9 482.7,30.6 482.9,36.2 483.0,30.5 483.2,36.0 483.4,29.9 483.5,34.1 483.7,27.3 483.9,33.3 484.0,29.1 484.2,35.3 484.4,29.9 484.5,35.2 484.7,31.1 484.9,36.3 485.0,31.3 485.2,36.3 485.4,31.1 485.6,36.7 485.7,30.7 485.9,35.1 486.1,28.5 486.2,35.2 486.4,29.2 486.6,36.3 486.7,27.5 486.9,33.2 487.1,27.1 487.2,31.6 487.4,27.6 487.6,35.6 487.7,26.0 487.9,31.3 488.1,26.6 488.2,30.9 488.4,25.0 488.6,29.7 488.7,26.7 488.9,32.3 489.1,27.3 489.2,31.6 489.4,27.9 489.6,32.8 489.7,27.3 489.9,34.0 490.1,32.1 490.2,34.2 490.4,28.0 490.6,33.7 490.7,29.3 490.9,32.2 491.1,26.6 491.2,31.9 491.4,26.9 491.6,33.3 491.7,26.8 491.9,32.7 492.1,27.2 492.2,30.0 492.4,28.4 492.6,33.1 492.7,28.2 492.9,32.7 493.1,29.5 493.2,36.3 493.4,29.4 493.6,37.3 493.7,29.5 493.9,36.0 494.1,33.0 494.2,37.5 494.4,33.1 494.6,40.1 494.7,34.6 494.9,39.9 495.1,35.3 495.2,41.0 495.4,36.5 495.6,41.3 495.7,37.2 495.9,44.5 496.1,35.4 496.2,39.4 496.4,34.2 496.6,37.3 496.7,33.3 496.9,38.2 497.1,32.4 497.2,36.4 497.4,30.4 497.6,35.3 497.7,30.5 497.9,35.2 498.1,29.4 498.2,31.9 498.4,27.2 498.6,30.7 498.7,26.5 498.9,28.9 499.1,25.2 499.2,32.6 499.4,25.8 499.6,32.0 499.7,26.1 499.9,28.8 500.1,23.4 500.2,28.9 500.4,24.2 500.6,30.6 500.7,25.0 500.9,31.0 501.1,24.7 501.2,31.3 501.4,26.1 501.6,31.6 501.7,26.5 501.9,33.7 502.1,27.9 502.2,33.8 502.4,29.7 502.6,34.7 502.7,28.2 502.9,32.0 503.1,27.8 503.2,33.6 503.4,29.1 503.6,33.8 503.7,27.2 503.9,31.3 504.1,26.8 504.2,31.0 504.4,26.7 504.6,32.3 504.7,27.5 504.9,34.2 505.1,29.5 505.2,35.7 505.4,32.9 505.6,37.9 505.7,38.8 505.9,38.3 506.1,30.6 506.2,37.2 506.4,31.1 506.6,36.7 506.7,31.0 506.9,35.0 507.1,28.0 507.2,34.0 507.4,27.5 507.6,33.0 507.7,27.1 507.9,31.5 508.1,24.7 508.2,28.9 508.4,23.0 508.6,27.3 508.7,20.9 508.9,27.6 509.1,23.4 509.2,30.0 509.4,23.0 509.6,28.6 509.7,23.4 509.9,29.1 510.1,21.8 510.2,29.0 510.4,24.4 510.6,28.3 510.7,23.7 510.9,28.2 511.1,23.5 511.2,29.5 511.4,23.6 511.6,29.1 511.7,22.4 511.9,28.7 512.1,23.2 512.2,28.7 512.4,22.6 512.6,28.6 512.7,22.5 512.9,28.9 513.1,22.6 513.2,28.7 513.4,22.3 513.6,29.6 513.7,23.1 513.9,28.8 514.1,23.3 514.2,27.7 514.4,23.2 514.6,27.6 514.7,23.4 514.9,29.1 515.1,23.9 515.2,28.6 515.4,23.7 515.6,28.8 515.7,25.1 515.9,30.5 516.1,28.0 516.2,18.9 516.4,30.1 516.6,36.8 516.7,31.9 516.9,38.2 517.1,37.8 517.2,36.6 517.4,31.1 517.6,35.2 517.7,28.9 517.9,32.0 518.1,24.9 518.2,31.5 518.4,23.8 518.6,28.8 518.7,23.6 518.9,31.5 519.1,25.6 519.2,30.6 519.4,26.1 519.6,30.2 519.7,27.0 519.9,31.4 520.1,26.5 520.2,32.9 520.4,26.4 520.6,32.3 520.7,26.2 520.9,32.7 521.1,27.3 521.2,30.2 521.4,26.2 521.6,30.9 521.7,24.2 521.9,29.6 522.1,24.8 522.2,28.7 522.4,23.7 522.6,26.7 522.7,23.5 522.9,27.2 523.1,22.5 523.2,28.0 523.4,22.7 523.6,26.5 523.7,23.3 523.9,28.0 524.1,26.6 524.2,27.6 524.4,25.1 524.6,28.2 524.7,24.6 524.9,29.5 525.1,26.1 525.2,29.9 525.4,26.0 525.6,31.3 525.7,26.7 525.9,30.5 526.1,27.6 526.2,30.5 526.4,26.7 526.6,30.2 526.7,27.4 526.9,31.1 527.1,26.7 527.3,29.9 527.4,27.0 527.6,29.9 527.8,27.6 527.9,31.6 528.1,27.9 528.3,31.2 528.4,27.4 528.6,31.5 528.8,27.6 528.9,31.7 529.1,27.2 529.3,31.7 529.4,26.7 529.6,31.9 529.8,27.6 529.9,32.8 530.1,27.3 530.3,30.6 530.4,26.8 530.6,30.1 530.8,25.8 530.9,29.7 531.1,27.4 531.3,30.7 531.4,25.7 531.6,30.0 531.8,27.6 531.9,30.7 532.1,27.0 532.3,31.7 532.4,26.7 532.6,31.2 532.8,26.6 532.9,29.9 533.1,26.5 533.3,30.1 533.4,27.2 533.6,29.9 533.8,27.3 533.9,30.4 534.1,26.1 534.3,31.5 534.4,26.6 534.6,30.7 534.8,27.0 534.9,30.5 535.1,26.3 535.3,29.1 535.4,25.8 535.6,29.6 535.8,26.6 535.9,29.4 536.1,24.7 536.3,29.5 536.4,23.2 536.6,27.6 536.8,23.8 536.9,27.3 537.1,22.6 537.3,25.8 537.4,22.4 537.6,26.6 537.8,21.3 537.9,25.9 538.1,21.0 538.3,24.9 538.4,21.1 538.6,26.6 538.8,22.8 538.9,26.7 539.1,23.4 539.3,27.6 539.4,24.5 539.6,30.2 539.8,25.8 539.9,31.2 540.1,26.3 540.3,30.3 540.4,26.2 540.6,29.9 540.8,26.4 540.9,29.0 541.1,24.8 541.3,29.3 541.4,25.8 541.6,31.0 541.8,27.4 541.9,30.8 542.1,28.9 542.3,31.5 542.4,28.1 542.6,34.8 542.8,28.8 542.9,32.9 543.1,29.1 543.3,32.0 543.4,29.0 543.6,32.3 543.8,30.0 543.9,32.0 544.1,28.8 544.3,31.2 544.4,30.7 544.6,32.6 544.8,27.5 544.9,30.7 545.1,25.2 545.3,31.3 545.4,26.2 545.6,30.6 545.8,26.5 545.9,29.9 546.1,26.4 546.3,30.8 546.4,26.8 546.6,30.4 546.8,26.4 546.9,30.9 547.1,26.3 547.3,30.2 547.4,26.0 547.6,29.3 547.8,25.0 547.9,29.1 548.1,24.3 548.3,28.2 548.4,24.2 548.6,27.6 548.8,24.4 548.9,28.8 549.1,26.1 549.3,28.3 549.4,24.5 549.6,29.1 549.8,25.2 549.9,28.5 550.1,23.4 550.3,29.4 550.4,24.5 550.6,27.8 550.8,24.5 550.9,30.9 551.1,24.3 551.3,28.6 551.4,25.4 551.6,29.4 551.8,25.7 551.9,29.1 552.1,25.5 552.3,29.7 552.4,25.9 552.6,29.3 552.8,26.4 552.9,29.4 553.1,25.5 553.3,30.2 553.4,25.6 553.6,27.9 553.8,24.5 553.9,29.2 554.1,24.3 554.3,28.9 554.4,24.7 554.6,28.6 554.8,24.3 554.9,28.9 555.1,30.0 555.3,30.0 555.4,26.5 555.6,29.6 555.8,26.3 555.9,30.0 556.1,25.4 556.3,29.2 556.4,25.6 556.6,29.3 556.8,25.8 556.9,30.5 557.1,24.9 557.3,29.5 557.4,26.8 557.6,29.6 557.8,26.6 557.9,30.5 558.1,26.4 558.3,31.2 558.4,26.3 558.6,30.6 558.8,26.5 558.9,29.9 559.1,26.0 559.3,30.0 559.4,26.2 559.6,30.4 559.8,25.4 559.9,29.2 560.1,25.9 560.3,29.3 560.4,25.5 560.6,28.9 560.8,25.4 560.9,30.0 561.1,27.5 561.3,31.6 561.4,28.2 561.6,33.2 561.8,26.4 561.9,31.2 562.1,28.1 562.3,31.2 562.4,28.5 562.6,31.4 562.8,26.8 562.9,30.7 563.1,26.0 563.3,31.9 563.4,26.6 563.6,31.5 563.8,27.0 563.9,30.2 564.1,26.3 564.3,30.8 564.4,24.5 564.6,29.4 564.8,24.4 564.9,28.6 565.1,25.7 565.3,29.8 565.4,27.0 565.6,31.3 565.8,26.0 565.9,30.3 566.1,26.6 566.3,31.8 566.4,28.9 566.6,31.5 566.8,28.0 566.9,31.1 567.1,27.6 567.3,30.9 567.4,28.0 567.6,31.3 567.8,26.2 567.9,29.5 568.1,26.4 568.3,29.6 568.5,26.2 568.6,29.4 568.8,25.8 569.0,28.5 569.1,25.5 569.3,29.5 569.5,25.6 569.6,29.8 569.8,24.8 570.0,28.2 570.1,25.6 570.3,31.4 570.5,25.1 570.6,29.1 570.8,26.0 571.0,30.0 571.1,29.6 571.3,31.2 571.5,25.6 571.6,30.3 571.8,26.7 572.0,30.4 572.1,26.7 572.3,30.6 572.5,26.3 572.6,31.1 572.8,26.4 573.0,30.0 573.1,26.0 573.3,29.7 573.5,25.5 573.6,28.3 573.8,25.0 574.0,27.6 574.1,21.3 574.3,25.1 574.5,19.3 574.6,24.1 574.8,20.2 575.0,24.1 575.1,19.7 575.3,23.5 575.5,20.0 575.6,24.6 575.8,20.6 576.0,24.6 576.1,20.5 576.3,23.8 576.5,20.9 576.6,27.2 576.8,21.5 577.0,26.6 577.1,17.7 577.3,25.7 577.5,21.6 577.6,25.2 577.8,22.0 578.0,27.9 578.1,22.0 578.3,26.4 578.5,22.0 578.6,27.5 578.8,24.5 579.0,27.6 579.1,23.8 579.3,27.2 579.5,24.3 579.6,24.6 579.8,25.0 580.0,30.1 580.1,25.3 580.3,29.2 580.5,25.4 580.6,31.5 580.8,27.8 581.0,31.5 581.1,28.0 581.3,31.5 581.5,27.3 581.6,31.8 581.8,28.7 582.0,32.9 582.1,28.7 582.3,33.6 582.5,31.0 582.6,34.3 582.8,31.6 583.0,36.0 583.1,32.1 583.3,35.4 583.5,32.2 583.6,35.2 583.8,31.7 584.0,35.3 584.1,31.9 584.3,34.4 584.5,31.6 584.6,34.5 584.8,31.3 585.0,36.2 585.1,33.2 585.3,36.8 585.5,29.5 585.6,38.0 585.8,34.0 586.0,37.6 586.1,34.0 586.3,37.5 586.5,33.2 586.6,36.6 586.8,33.0 587.0,36.1 587.1,32.8 587.3,35.9 587.5,32.1 587.6,34.8 587.8,29.5 588.0,35.0 588.1,29.5 588.3,32.6 588.5,29.0 588.6,32.4 588.8,28.8 589.0,32.4 589.1,28.5 589.3,33.6 589.5,30.5 589.6,33.7 589.8,30.2 590.0,33.6 590.1,29.7 590.3,32.8 590.5,28.6 590.6,32.6 590.8,31.8 591.0,31.8 591.1,26.6 591.3,30.0 591.5,26.0 591.6,29.6 591.8,25.5 592.0,29.0 592.1,23.4 592.3,27.8 592.5,25.1 592.6,28.4 592.8,24.3 593.0,28.9 593.1,23.6 593.3,28.1 593.5,25.4 593.6,29.4 593.8,24.4 594.0,29.0 594.1,24.6 594.3,28.9 594.5,24.8 594.6,29.0 594.8,24.8 595.0,29.1 595.1,24.3 595.3,28.0 595.5,23.3 595.6,26.7 595.8,22.3 596.0,26.1 596.1,21.9 596.3,25.8 596.5,21.2 596.6,25.5 596.8,21.3 597.0,25.8 597.1,23.1 597.3,26.8 597.5,23.2 597.6,27.1 597.8,24.0 598.0,27.4 598.1,24.3 598.3,27.6 598.5,24.3 598.6,26.5 598.8,24.2 599.0,27.5 599.1,24.0 599.3,27.0 599.5,23.8 599.6,26.6 599.8,24.1 600.0,27.9 600.1,25.2 600.3,28.0 600.5,24.5 600.6,27.8 600.8,24.4 601.0,27.8 601.1,26.0 601.3,28.9 601.5,25.3 601.6,28.7 601.8,24.8 602.0,27.9 602.1,23.5 602.3,28.5 602.5,25.9 602.6,28.9 602.8,26.9 603.0,29.7 603.1,26.7 603.3,29.3 603.5,25.2 603.6,30.2 603.8,27.4 604.0,31.4 604.1,27.7 604.3,30.9 604.5,27.9 604.6,31.5 604.8,27.1 605.0,30.8 605.1,26.9 605.3,29.9 605.5,25.0 605.6,30.2 605.8,26.1 606.0,29.8 606.1,27.1 606.3,32.1 606.5,27.5 606.6,32.3 606.8,28.0 607.0,32.6 607.1,27.7 607.3,32.3 607.5,28.3 607.6,30.7 607.8,27.4 608.0,29.3 608.1,25.8 608.3,29.7 608.5,26.6 608.6,30.3 608.8,25.4 609.0,29.0 609.1,25.0 609.3,28.7 609.5,25.1 609.7,28.2 609.8,25.1 610.0,28.7 610.2,23.7 610.3,25.2 610.5,25.4 610.7,30.3 610.8,25.4 611.0,29.2 611.2,26.7 611.3,29.8 611.5,25.2 611.7,29.8 611.8,25.8 612.0,26.2 612.2,24.3 612.3,28.1 612.5,25.0 612.7,28.7 612.8,23.6 613.0,27.8 613.2,23.7 613.3,28.0 613.5,25.1 613.7,29.3 613.8,26.4 614.0,29.4 614.2,23.4 614.3,31.8 614.5,27.5 614.7,31.5 614.8,26.9 615.0,32.0 615.2,27.3 615.3,32.1 615.5,28.2 615.7,30.6 615.8,25.8 616.0,29.1 616.2,26.2 616.3,30.5 616.5,26.2 616.7,30.7 616.8,27.0 617.0,30.6 617.2,27.4 617.3,32.0 617.5,27.7 617.7,33.0 617.8,27.6 618.0,32.1 618.2,28.0 618.3,32.3 618.5,27.0 618.7,31.2 618.8,26.3 619.0,30.5 619.2,27.3 619.3,31.1 619.5,27.7 619.7,32.0 619.8,27.9 620.0,31.2 620.2,29.1 620.3,33.9 620.5,29.9 620.7,33.1 620.8,29.6 621.0,33.3 621.2,28.7 621.3,31.7 621.5,28.0 621.7,32.6 621.8,27.8 622.0,32.1 622.2,28.3 622.3,32.5 622.5,28.2 622.7,32.2 622.8,27.9 623.0,31.9 623.2,28.8 623.3,31.5 623.5,27.9 623.7,31.8 623.8,28.2 624.0,33.2 624.2,29.5 624.3,33.1 624.5,29.9 624.7,37.2 624.8,29.4 625.0,33.5 625.2,29.5 625.3,33.6 625.5,30.1 625.7,32.5 625.8,29.9 626.0,34.6 626.2,29.8 626.3,34.5 626.5,30.5 626.7,34.2 626.8,29.9 627.0,33.1 627.2,29.4 627.3,32.5 627.5,28.3 627.7,32.5 627.8,26.8 628.0,32.1 628.2,27.8 628.3,31.7 628.5,29.4 628.7,31.7 628.8,29.0 629.0,33.3 629.2,29.4 629.3,34.3 629.5,30.5 629.7,34.7 629.8,29.4 630.0,34.1 630.2,29.7 630.3,32.5 630.5,29.4 630.7,33.7 630.8,29.7 631.0,34.5 631.2,29.4 631.3,33.3 631.5,29.4 631.7,34.0 631.8,29.5 632.0,30.6 632.2,30.2 632.3,33.9 632.5,29.4 632.7,33.1 632.8,29.3 633.0,33.6 633.2,28.6 633.3,33.2 633.5,28.3 633.7,33.4 633.8,29.8 634.0,33.3 634.2,30.1 634.3,33.7 634.5,28.4 634.7,32.5 634.8,29.1 635.0,32.7 635.2,28.1 635.3,32.9 635.5,29.7 635.7,33.5 635.8,30.1 636.0,33.2 636.2,30.7 636.3,34.3 636.5,30.1 636.7,35.2 636.8,31.6 637.0,34.5 637.2,31.2 637.3,34.0 637.5,29.6 637.7,32.4 637.8,29.5 638.0,32.8 638.2,28.7 638.3,33.1 638.5,29.3 638.7,32.7 638.8,28.1 639.0,33.3 639.2,29.2 639.3,33.2 639.5,30.9 639.7,35.4 639.8,30.2 640.0,33.6 640.2,29.2 640.3,34.4 640.5,31.3 640.7,34.8 640.8,30.9 641.0,34.3 641.2,30.4 641.3,34.4 641.5,30.6 641.7,34.9 641.8,30.9 642.0,34.4 642.2,31.2 642.3,34.5 642.5,30.6 642.7,33.4 642.8,29.9 643.0,33.4 643.2,28.9 643.3,33.6 643.5,29.3 643.7,33.2 643.8,30.7 644.0,34.5 644.2,30.5 644.3,34.4 644.5,30.5 644.7,34.9 644.8,30.6 645.0,34.3 645.2,30.2 645.3,33.2 645.5,30.9 645.7,35.0 645.8,30.6 646.0,35.9 646.2,31.2 646.3,36.4 646.5,33.0 646.7,38.5 646.8,34.3 647.0,37.4 647.2,34.1 647.3,37.7 647.5,33.5 647.7,36.3 647.8,32.5 648.0,37.0 648.2,31.7 648.3,36.8 648.5,32.6 648.7,34.7 648.8,31.2 649.0,34.3 649.2,31.1 649.3,34.7 649.5,30.7 649.7,35.8 649.8,31.8 650.0,31.4 650.2,31.1 650.3,35.3 650.5,32.0 650.7,35.7 650.8,32.4 651.0,36.1 651.2,32.3 651.4,36.2 651.5,33.2 651.7,36.4 651.9,33.7 652.0,36.6 652.2,32.7 652.4,36.4 652.5,32.4 652.7,35.7 652.9,31.2 653.0,35.2 653.2,30.7 653.4,35.0 653.5,32.0 653.7,35.8 653.9,31.6 654.0,36.1 654.2,32.4 654.4,36.2 654.5,32.1 654.7,36.1 654.9,29.8 655.0,33.9 655.2,29.1 655.4,33.3 655.5,30.6 655.7,33.1 655.9,29.9 656.0,36.3 656.2,30.1 656.4,34.0 656.5,30.5 656.7,34.6 656.9,30.7 657.0,34.0 657.2,31.0 657.4,32.9 657.5,30.1 657.7,34.9 657.9,30.4 658.0,34.3 658.2,30.7 658.4,35.4 658.5,31.4 658.7,35.4 658.9,32.1 659.0,35.8 659.2,32.7 659.4,37.4 659.5,31.8 659.7,36.0 659.9,32.9 660.0,36.3 660.2,32.1 660.4,35.8 660.5,30.2 660.7,35.6 660.9,30.9 661.0,34.1 661.2,30.5 661.4,33.1 661.5,29.1 661.7,34.5 661.9,31.8 662.0,34.9 662.2,31.1 662.4,37.0 662.5,32.8 662.7,35.7 662.9,31.6 663.0,35.7 663.2,32.9 663.4,35.8 663.5,33.5 663.7,36.4 663.9,32.6 664.0,38.0 664.2,33.5 664.4,36.9 664.5,32.7 664.7,37.9 664.9,33.4 665.0,37.0 665.2,33.6 665.4,36.7 665.5,33.4 665.7,36.5 665.9,33.7 666.0,37.3 666.2,41.4 666.4,38.0 666.5,34.2 666.7,37.9 666.9,33.8 667.0,38.0 667.2,34.2 667.4,37.1 667.5,35.3 667.7,39.8 667.9,36.4 668.0,40.2 668.2,37.4 668.4,40.9 668.5,37.6 668.7,41.6 668.9,36.4 669.0,40.2 669.2,36.0 669.4,39.9 669.5,33.7 669.7,39.9 669.9,35.0 670.0,38.3 670.2,31.7 670.4,40.2 670.5,35.6 670.7,39.0 670.9,35.4 671.0,39.8 671.2,35.7 671.4,39.7 671.5,34.9 671.7,38.3 671.9,34.7 672.0,38.7 672.2,34.9 672.4,38.2 672.5,33.5 672.7,37.6 672.9,34.0 673.0,36.7 673.2,32.9 673.4,36.6 673.5,32.1 673.7,35.5 673.9,32.9 674.0,37.7 674.2,33.6 674.4,37.5 674.5,33.6 674.7,37.4 674.9,34.6 675.0,37.6 675.2,34.1 675.4,37.3 675.5,34.2 675.7,37.1 675.9,32.9 676.0,36.0 676.2,31.9 676.4,34.1 676.5,30.9 676.7,34.9 676.9,31.1 677.0,35.7 677.2,30.3 677.4,33.7 677.5,29.5 677.7,34.4 677.9,30.1 678.0,33.0 678.2,29.7 678.4,33.0 678.5,29.5 678.7,33.6 678.9,31.1 679.0,34.0 679.2,31.0 679.4,34.4 679.5,31.3 679.7,35.3 679.9,31.1 680.0,34.0 680.2,28.4 680.4,32.0 680.5,27.9 680.7,31.5 680.9,27.7 681.0,29.3 681.2,24.9 681.4,29.7 681.5,26.0 681.7,29.5 681.9,25.6 682.0,31.0 682.2,26.9 682.4,27.1 682.5,27.3 682.7,31.2 682.9,27.3 683.0,31.9 683.2,29.0 683.4,32.6 683.5,29.8 683.7,32.5 683.9,29.4 684.0,34.0 684.2,30.0 684.4,33.5 684.5,30.9 684.7,34.0 684.9,28.7 685.0,29.3 685.2,29.8 685.4,33.7 685.5,30.2 685.7,33.0 685.9,29.2 686.0,33.9 686.2,30.1 686.4,33.9 686.5,30.5 686.7,33.3 686.9,29.4 687.0,32.8 687.2,29.4 687.4,32.4 687.5,28.9 687.7,32.1 687.9,27.8 688.0,31.0 688.2,28.0 688.4,31.3 688.5,27.1 688.7,30.0 688.9,30.8 689.0,31.5 689.2,27.0 689.4,32.4 689.5,26.9 689.7,31.3 689.9,27.4 690.0,31.9 690.2,28.5 690.4,31.3 690.5,26.8 690.7,30.8 690.9,27.7 691.0,31.2 691.2,27.5 691.4,30.9 691.5,26.6 691.7,31.2 691.9,27.3 692.0,31.6 692.2,26.7 692.4,30.4 692.6,26.4 692.7,30.8 692.9,26.5 693.1,30.7 693.2,28.1 693.4,30.8 693.6,26.9 693.7,31.5 693.9,28.4 694.1,31.0 694.2,27.9 694.4,32.2 694.6,27.6 694.7,31.4 694.9,26.6 695.1,30.3 695.2,26.6 695.4,30.4 695.6,27.4 695.7,31.3 695.9,28.5 696.1,32.1 696.2,28.7 696.4,33.1 696.6,29.0 696.7,35.0 696.9,32.0 697.1,34.8 697.2,31.8 697.4,35.2 697.6,32.5 697.7,36.0 697.9,31.0 698.1,35.3 698.2,31.3 698.4,33.9 698.6,31.2 698.7,35.1 698.9,31.5 699.1,35.6 699.2,31.3 699.4,34.3 699.6,30.0 699.7,32.0 699.9,28.0 700.1,31.9 700.2,28.9 700.4,32.7 700.6,27.2 700.7,31.6 700.9,28.3 701.1,23.5 701.2,27.7 701.4,32.2 701.6,26.7 701.7,31.0 701.9,28.1 702.1,31.1 702.2,27.9 702.4,31.2 702.6,27.6 702.7,32.5 702.9,27.9 703.1,32.2 703.2,29.1 703.4,32.7 703.6,29.1 703.7,33.7 703.9,30.0 704.1,33.0 704.2,29.4 704.4,33.0 704.6,30.2 704.7,34.6 704.9,29.9 705.1,34.9 705.2,30.8 705.4,34.7 705.6,31.2 705.7,34.4 705.9,30.8 706.1,34.8 706.2,30.9 706.4,33.6 706.6,29.8 706.7,33.1 706.9,30.3 707.1,34.2 707.2,29.7 707.4,32.8 707.6,28.8 707.7,33.9 707.9,27.5 708.1,34.7 708.2,29.4 708.4,33.7 708.6,29.4 708.7,32.7 708.9,27.6 709.1,32.7 709.2,28.7 709.4,32.0 709.6,28.0 709.7,32.4 709.9,26.4 710.1,30.6 710.2,27.6 710.4,32.6 710.6,26.6 710.7,31.0 710.9,27.2 711.1,30.1 711.2,26.2 711.4,31.2 711.6,26.7 711.7,30.5 711.9,26.8 712.1,30.7 712.2,27.3 712.4,30.4 712.6,28.7 712.7,31.8 712.9,28.4" fill="none" stroke="#000" stroke-width="1.0" stroke-linejoin="round" clip-path="url(#c10)"/>
<polyline points="423.5,94.5 423.8,93.2 424.0,93.9 424.3,92.9 424.5,94.4 424.8,93.4 425.0,94.5 425.3,92.7 425.5,94.3 425.8,92.8 426.0,93.8 426.3,92.0 426.5,93.2 426.8,92.2 427.0,93.6 427.3,92.1 427.5,93.3 427.8,92.3 428.0,93.6 428.3,92.4 428.5,94.0 428.8,92.0 429.0,93.9 429.3,92.6 429.5,94.1 429.8,92.7 430.0,94.2 430.3,92.3 430.5,95.0 430.8,92.8 431.0,95.3 431.3,93.8 431.5,96.2 431.8,94.7 432.0,96.3 432.3,93.6 432.5,95.1 432.8,93.7 433.0,95.2 433.3,93.6 433.5,94.8 433.8,92.4 434.0,94.3 434.3,92.7 434.5,94.0 434.8,92.0 435.0,93.8 435.3,91.9 435.5,93.0 435.8,91.3 436.0,92.1 436.3,89.6 436.5,91.3 436.8,89.5 437.0,90.5 437.3,89.2 437.5,91.2 437.8,89.3 438.0,91.4 438.3,90.6 438.5,92.1 438.8,90.4 439.0,91.9 439.3,91.0 439.5,92.2 439.8,91.0 440.0,92.5 440.3,91.1 440.5,91.9 440.8,91.2 441.0,92.2 441.3,90.3 441.5,91.8 441.8,89.8 442.0,91.8 442.3,89.7 442.5,92.6 442.8,90.5 443.0,92.4 443.3,91.7 443.5,93.5 443.8,91.4 444.0,92.2 444.3,91.0 444.5,92.2 444.8,90.8 445.0,92.3 445.3,91.2 445.5,92.6 445.8,91.9 446.0,93.4 446.3,92.1 446.5,93.2 446.8,92.3 447.0,93.7 447.3,91.5 447.5,92.7 447.8,91.6 448.0,93.0 448.3,91.8 448.5,93.5 448.8,91.6 449.0,92.6 449.3,92.1 449.5,93.3 449.8,92.2 450.0,94.4 450.3,92.5 450.5,93.5 450.8,91.8 451.0,92.9 451.3,91.1 451.5,92.6 451.8,91.0 452.0,92.1 452.3,90.1 452.5,92.4 452.8,90.4 453.0,92.1 453.3,90.0 453.5,91.6 453.8,90.4 454.0,91.5 454.3,90.6 454.5,92.3 454.8,90.2 455.0,91.9 455.3,90.9 455.5,92.6 455.8,91.0 456.0,92.0 456.3,90.3 456.5,91.9 456.8,89.8 457.0,90.8 457.3,88.7 457.5,90.6 457.8,89.3 458.0,90.4 458.3,88.7 458.5,89.8 458.8,88.7 459.0,89.1 459.3,87.9 459.5,88.9 459.8,87.4 460.1,88.7 460.3,87.1 460.6,88.1 460.8,86.9 461.1,88.5 461.3,87.4 461.6,88.7 461.8,87.3 462.1,89.1 462.3,86.9 462.6,88.9 462.8,87.1 463.1,89.3 463.3,86.8 463.6,88.5 463.8,87.5 464.1,88.4 464.3,86.2 464.6,87.9 464.8,86.3 465.1,87.7 465.3,86.0 465.6,87.8 465.8,86.6 466.1,88.3 466.3,86.3 466.6,88.4 466.8,86.8 467.1,88.2 467.3,86.3 467.6,87.9 467.8,86.0 468.1,87.7 468.3,86.3 468.6,87.4 468.8,86.1 469.1,86.9 469.3,85.2 469.6,87.6 469.8,86.0 470.1,87.2 470.3,85.4 470.6,87.5 470.8,86.3 471.1,88.1 471.3,86.0 471.6,87.3 471.8,85.9 472.1,88.0 472.3,87.9 472.6,90.1 472.8,89.5 473.1,92.3 473.3,90.4 473.6,92.3 473.8,90.7 474.1,92.7 474.3,91.6 474.6,92.5 474.8,91.3 475.1,92.3 475.3,90.7 475.6,91.8 475.8,90.4 476.1,92.0 476.3,91.2 476.6,92.0 476.8,90.8 477.1,92.1 477.3,90.8 477.6,92.4 477.8,90.9 478.1,92.4 478.3,91.6 478.6,93.2 478.8,91.0 479.1,92.2 479.3,90.2 479.6,90.7 479.8,88.6 480.1,89.3 480.3,86.9 480.6,87.0 480.8,85.5 481.1,86.9 481.3,85.6 481.6,87.5 481.8,86.2 482.1,87.4 482.3,86.2 482.6,87.7 482.8,86.6 483.1,88.0 483.3,86.3 483.6,87.6 483.8,85.1 484.1,87.3 484.3,85.6 484.6,87.3 484.8,86.2 485.1,87.6 485.3,86.2 485.6,87.6 485.8,86.2 486.1,88.0 486.3,86.7 486.6,88.1 486.8,86.0 487.1,88.4 487.3,86.9 487.6,88.4 487.8,86.8 488.1,88.2 488.3,87.0 488.6,88.4 488.8,87.6 489.1,89.0 489.3,87.0 489.6,88.0 489.8,86.5 490.1,88.2 490.3,87.1 490.6,88.3 490.8,87.3 491.1,89.2 491.3,87.8 491.6,89.5 491.8,87.5 492.1,89.5 492.3,87.8 492.6,89.0 492.8,87.5 493.1,89.5 493.3,88.4 493.6,89.9 493.8,88.6 494.1,89.8 494.3,88.0 494.6,89.7 494.8,87.9 495.1,88.7 495.3,87.7 495.6,88.9 495.9,86.6 496.1,88.5 496.4,86.5 496.6,88.8 496.9,87.5 497.1,88.7 497.4,86.7 497.6,88.4 497.9,87.6 498.1,89.2 498.4,87.5 498.6,88.5 498.9,86.7 499.1,88.2 499.4,87.2 499.6,88.5 499.9,86.9 500.1,88.2 500.4,86.6 500.6,88.3 500.9,87.1 501.1,88.5 501.4,86.6 501.6,88.0 501.9,86.1 502.1,87.7 502.4,85.8 502.6,87.7 502.9,85.9 503.1,87.7 503.4,85.4 503.6,87.0 503.9,85.3 504.1,86.6 504.4,85.2 504.6,86.4 504.9,85.0 505.1,86.1 505.4,85.1 505.6,86.9 505.9,85.5 506.1,87.6 506.4,85.6 506.6,87.0 506.9,85.5 507.1,87.2 507.4,85.2 507.6,86.8 507.9,85.5 508.1,87.3 508.4,86.0 508.6,87.5 508.9,86.5 509.1,87.8 509.4,86.3 509.6,88.1 509.9,86.4 510.1,87.6 510.4,85.9 510.6,87.7 510.9,86.6 511.1,88.2 511.4,86.6 511.6,87.9 511.9,86.7 512.1,88.6 512.4,86.6 512.6,88.1 512.9,86.4 513.1,87.8 513.4,85.8 513.6,86.8 513.9,85.5 514.1,86.6 514.4,85.2 514.6,86.2 514.9,84.3 515.1,86.1 515.4,84.1 515.6,85.3 515.9,84.5 516.1,86.6 516.4,85.6 516.6,87.7 516.9,87.1 517.1,88.7 517.4,88.2 517.6,89.4 517.9,87.5 518.1,88.9 518.4,87.5 518.6,89.0 518.9,87.5 519.1,88.9 519.4,87.6 519.6,88.5 519.9,87.4 520.1,89.2 520.4,87.6 520.6,89.1 520.9,87.7 521.1,89.0 521.4,87.0 521.6,88.7 521.9,87.1 522.1,89.0 522.4,87.1 522.6,88.4 522.9,87.3 523.1,89.2 523.4,87.6 523.6,88.6 523.9,87.3 524.1,88.5 524.4,86.7 524.6,88.9 524.9,86.7 525.1,88.7 525.4,87.0 525.6,88.8 525.9,87.1 526.1,88.1 526.4,86.0 526.6,87.3 526.9,85.7 527.1,87.9 527.4,86.0 527.6,88.0 527.9,87.0 528.1,88.1 528.4,86.4 528.6,87.6 528.9,87.0 529.1,88.4 529.4,86.7 529.6,88.7 529.9,87.2 530.1,88.6 530.4,86.7 530.6,88.3 530.9,87.2 531.1,88.4 531.4,87.1 531.6,88.3 531.9,87.3 532.2,88.6 532.4,87.8 532.7,89.0 532.9,87.1 533.2,88.8 533.4,86.9 533.7,89.4 533.9,86.7 534.2,89.5 534.4,87.0 534.7,88.2 534.9,86.6 535.2,87.9 535.4,86.8 535.7,88.2 535.9,86.5 536.2,88.1 536.4,86.5 536.7,88.0 536.9,86.6 537.2,87.4 537.4,86.2 537.7,87.7 537.9,85.9 538.2,86.9 538.4,85.0 538.7,86.5 538.9,85.4 539.2,87.3 539.4,85.8 539.7,87.5 539.9,85.9 540.2,87.1 540.4,85.0 540.7,86.5 540.9,85.1 541.2,86.9 541.4,85.0 541.7,86.3 541.9,84.2 542.2,86.2 542.4,84.3 542.7,85.3 542.9,83.5 543.2,84.3 543.4,83.0 543.7,84.7 543.9,83.0 544.2,85.0 544.4,83.3 544.7,84.2 544.9,82.7 545.2,83.6 545.4,81.3 545.7,83.2 545.9,81.5 546.2,82.8 546.4,81.3 546.7,82.6 546.9,80.7 547.2,81.6 547.4,80.8 547.7,81.1 547.9,79.6 548.2,81.3 548.4,79.2 548.7,80.7 548.9,80.2 549.2,83.0 549.4,81.9 549.7,83.6 549.9,81.7 550.2,84.9 550.4,83.4 550.7,84.7 550.9,84.1 551.2,85.2 551.4,83.7 551.7,85.6 551.9,84.1 552.2,86.2 552.4,84.3 552.7,86.1 552.9,85.1 553.2,86.5 553.4,85.3 553.7,86.6 553.9,85.0 554.2,86.7 554.4,85.1 554.7,87.1 554.9,86.5 555.2,88.0 555.4,85.7 555.7,87.6 555.9,86.4 556.2,86.5 556.4,85.5 556.7,86.5 556.9,85.5 557.2,86.9 557.4,85.1 557.7,86.6 557.9,85.2 558.2,87.3 558.4,85.7 558.7,87.1 558.9,85.6 559.2,87.6 559.4,86.4 559.7,88.0 559.9,86.7 560.2,87.9 560.4,86.9 560.7,88.7 560.9,87.3 561.2,88.0 561.4,87.5 561.7,88.8 561.9,87.6 562.2,88.8 562.4,88.6 562.7,90.1 562.9,89.0 563.2,90.4 563.4,89.4 563.7,90.3 563.9,89.1 564.2,91.3 564.4,89.8 564.7,91.2 564.9,88.9 565.2,90.6 565.4,88.8 565.7,90.0 565.9,88.4 566.2,89.4 566.4,88.0 566.7,89.9 566.9,88.7 567.2,90.5 567.4,88.9 567.7,90.3 567.9,88.8 568.2,90.9 568.5,88.6 568.7,89.9 569.0,88.2 569.2,90.2 569.5,88.8 569.7,90.4 570.0,88.9 570.2,91.0 570.5,89.5 570.7,90.1 571.0,88.9 571.2,90.0 571.5,88.9 571.7,90.0 572.0,88.9 572.2,90.5 572.5,88.6 572.7,90.2 573.0,88.8 573.2,90.5 573.5,89.2 573.7,90.7 574.0,88.9 574.2,90.9 574.5,89.7 574.7,91.4 575.0,89.6 575.2,91.1 575.5,89.7 575.7,90.1 576.0,88.6 576.2,89.0 576.5,87.2 576.7,88.7 577.0,86.4 577.2,87.2 577.5,85.6 577.7,86.7 578.0,84.7 578.2,86.2 578.5,85.2 578.7,86.5 579.0,85.1 579.2,86.7 579.5,85.5 579.7,87.0 580.0,85.9 580.2,86.7 580.5,86.1 580.7,87.7 581.0,86.1 581.2,87.8 581.5,87.1 581.7,89.4 582.0,88.1 582.2,90.5 582.5,89.5 582.7,91.4 583.0,90.6 583.2,92.3 583.5,91.1 583.7,93.1 584.0,91.3 584.2,92.8 584.5,91.7 584.7,93.6 585.0,91.6 585.2,93.1 585.5,91.6 585.7,93.6 586.0,91.1 586.2,92.5 586.5,91.4 586.7,92.7 587.0,91.6 587.2,93.0 587.5,92.0 587.7,93.3 588.0,91.6 588.2,92.8 588.5,91.3 588.7,93.6 589.0,91.3 589.2,92.4 589.5,91.0 589.7,92.8 590.0,90.8 590.2,92.4 590.5,91.0 590.7,92.0 591.0,90.4 591.2,91.5 591.5,90.2 591.7,91.3 592.0,89.7 592.2,90.7 592.5,89.3 592.7,90.7 593.0,89.1 593.2,91.1 593.5,89.3 593.7,90.6 594.0,89.4 594.2,91.0 594.5,89.8 594.7,91.1 595.0,89.7 595.2,91.3 595.5,89.6 595.7,90.7 596.0,88.9 596.2,90.9 596.5,88.9 596.7,89.9 597.0,88.1 597.2,90.4 597.5,87.6 597.7,89.5 598.0,87.8 598.2,90.4 598.5,88.8 598.7,90.7 599.0,89.8 599.2,91.8 599.5,91.3 599.7,93.2 600.0,92.0 600.2,93.8 600.5,92.5 600.7,93.8 601.0,92.6 601.2,93.4 601.5,91.9 601.7,94.3 602.0,92.1 602.2,93.6 602.5,92.3 602.7,94.2 603.0,91.7 603.2,93.7 603.5,92.5 603.7,93.8 604.0,92.6 604.2,93.5 604.5,92.6 604.8,94.0 605.0,92.6 605.3,94.2 605.5,92.8 605.8,94.5 606.0,92.6 606.3,94.2 606.5,92.2 606.8,94.1 607.0,92.6 607.3,94.4 607.5,93.0 607.8,94.4 608.0,92.3 608.3,93.9 608.5,92.5 608.8,94.1 609.0,92.7 609.3,94.0 609.5,92.9 609.8,94.5 610.0,93.1 610.3,95.2 610.5,92.5 610.8,94.1 611.0,93.1 611.3,94.5 611.5,93.0 611.8,94.7 612.0,93.5 612.3,95.3 612.5,93.9 612.8,95.5 613.0,93.8 613.3,95.3 613.5,94.2 613.8,95.5 614.0,93.4 614.3,94.8 614.5,93.1 614.8,95.0 615.0,93.7 615.3,95.0 615.5,93.9 615.8,95.2 616.0,93.1 616.3,94.5 616.5,92.7 616.8,93.6 617.0,92.2 617.3,93.7 617.5,92.1 617.8,93.3 618.0,92.1 618.3,93.6 618.5,92.4 618.8,93.6 619.0,92.4 619.3,93.9 619.5,92.7 619.8,94.1 620.0,92.3 620.3,93.4 620.5,91.7 620.8,93.2 621.0,91.0 621.3,93.0 621.5,91.7 621.8,93.3 622.0,91.6 622.3,93.7 622.5,91.3 622.8,93.1 623.0,91.2 623.3,93.2 623.5,92.0 623.8,92.8 624.0,91.5 624.3,93.5 624.5,91.7 624.8,93.6 625.0,91.7 625.3,93.0 625.5,92.2 625.8,92.8 626.0,91.7 626.3,93.3 626.5,91.6 626.8,93.7 627.0,91.7 627.3,93.3 627.5,91.2 627.8,92.8 628.0,91.6 628.3,92.6 628.5,90.6 628.8,92.4 629.0,91.4 629.3,92.7 629.5,91.0 629.8,92.7 630.0,91.8 630.3,93.5 630.5,92.0 630.8,93.0 631.0,91.9 631.3,92.6 631.5,91.0 631.8,92.6 632.0,91.0 632.3,92.2 632.5,90.6 632.8,91.9 633.0,90.8 633.3,91.9 633.5,89.8 633.8,92.2 634.0,89.8 634.3,92.0 634.5,89.7 634.8,92.6 635.0,90.9 635.3,92.0 635.5,90.8 635.8,92.1 636.0,91.4 636.3,92.0 636.5,90.3 636.8,91.7 637.0,89.7 637.3,90.6 637.5,89.4 637.8,91.3 638.0,90.0 638.3,91.5 638.5,90.6 638.8,92.4 639.0,91.3 639.3,93.1 639.5,91.2 639.8,92.5 640.0,91.6 640.3,93.2 640.5,91.0 640.8,92.8 641.1,91.6 641.3,93.2 641.6,91.5 641.8,92.6 642.1,91.2 642.3,92.8 642.6,91.4 642.8,93.2 643.1,91.2 643.3,92.3 643.6,90.7 643.8,92.2 644.1,91.3 644.3,92.1 644.6,90.7 644.8,92.2 645.1,90.7 645.3,92.6 645.6,90.5 645.8,92.2 646.1,91.1 646.3,92.9 646.6,90.9 646.8,92.7 647.1,90.7 647.3,92.2 647.6,90.0 647.8,92.2 648.1,90.2 648.3,91.6 648.6,90.6 648.8,92.0 649.1,90.4 649.3,91.7 649.6,90.7 649.8,91.8 650.1,91.1 650.3,92.6 650.6,90.8 650.8,91.8 651.1,90.7 651.3,92.4 651.6,91.0 651.8,92.4 652.1,90.7 652.3,92.3 652.6,90.5 652.8,91.7 653.1,90.6 653.3,91.5 653.6,90.1 653.8,91.4 654.1,89.9 654.3,92.4 654.6,90.0 654.8,92.5 655.1,91.3 655.3,92.7 655.6,91.1 655.8,92.5 656.1,90.6 656.3,91.4 656.6,90.2 656.8,91.2 657.1,89.4 657.3,90.7 657.6,88.7 657.8,89.9 658.1,88.4 658.3,89.5 658.6,88.0 658.8,88.8 659.1,87.5 659.3,89.1 659.6,88.1 659.8,89.6 660.1,88.5 660.3,90.6 660.6,89.1 660.8,90.8 661.1,88.9 661.3,90.9 661.6,89.4 661.8,90.9 662.1,89.3 662.3,91.0 662.6,89.4 662.8,90.7 663.1,88.8 663.3,90.5 663.6,88.8 663.8,91.0 664.1,89.2 664.3,90.4 664.6,89.1 664.8,90.4 665.1,89.1 665.3,90.1 665.6,88.4 665.8,89.1 666.1,87.7 666.3,89.7 666.6,88.2 666.8,88.9 667.1,87.1 667.3,89.3 667.6,87.9 667.8,89.3 668.1,88.3 668.3,89.9 668.6,88.2 668.8,89.8 669.1,88.0 669.3,90.9 669.6,88.9 669.8,90.8 670.1,89.1 670.3,91.0 670.6,89.0 670.8,90.3 671.1,89.0 671.3,91.0 671.6,89.1 671.8,90.2 672.1,88.5 672.3,89.6 672.6,88.7 672.8,91.0 673.1,89.7 673.3,91.1 673.6,90.1 673.8,91.7 674.1,90.5 674.3,92.6 674.6,90.5 674.8,92.7 675.1,91.5 675.3,93.5 675.6,91.3 675.8,93.0 676.1,91.4 676.3,92.4 676.6,90.9 676.9,91.6 677.1,90.3 677.4,91.1 677.6,88.9 677.9,90.3 678.1,88.7 678.4,89.7 678.6,87.7 678.9,89.6 679.1,88.2 679.4,90.0 679.6,87.9 679.9,90.4 680.1,88.2 680.4,89.9 680.6,88.4 680.9,90.2 681.1,89.0 681.4,90.5 681.6,89.0 681.9,90.1 682.1,88.8 682.4,90.6 682.6,88.4 682.9,89.9 683.1,88.3 683.4,90.2 683.6,89.0 683.9,90.0 684.1,89.1 684.4,90.2 684.6,89.1 684.9,90.7 685.1,89.3 685.4,90.9 685.6,89.5 685.9,91.6 686.1,89.6 686.4,90.6 686.6,88.7 686.9,89.9 687.1,88.4 687.4,90.0 687.6,88.6 687.9,90.7 688.1,89.6 688.4,90.8 688.6,90.0 688.9,91.8 689.1,89.0 689.4,91.1 689.6,89.9 689.9,91.1 690.1,90.1 690.4,91.8 690.6,90.6 690.9,91.8 691.1,90.5 691.4,92.0 691.6,90.4 691.9,91.6 692.1,89.6 692.4,91.4 692.6,89.9 692.9,91.1 693.1,89.6 693.4,91.0 693.6,89.3 693.9,90.9 694.1,88.7 694.4,89.7 694.6,87.8 694.9,89.1 695.1,86.8 695.4,88.8 695.6,87.4 695.9,88.6 696.1,87.0 696.4,88.4 696.6,86.5 696.9,88.0 697.1,86.6 697.4,87.4 697.6,86.2 697.9,87.0 698.1,85.5 698.4,85.9 698.6,84.6 698.9,85.8 699.1,84.0 699.4,84.7 699.6,83.0 699.9,84.1 700.1,83.7 700.4,85.8 700.6,85.4 700.9,87.4 701.1,87.1 701.4,89.1 701.6,88.5 701.9,90.3 702.1,88.4 702.4,90.4 702.6,89.3 702.9,90.9 703.1,89.1 703.4,91.5 703.6,90.0 703.9,91.9 704.1,90.6 704.4,92.7 704.6,91.3 704.9,93.5 705.1,92.6 705.4,93.1 705.6,91.6 705.9,93.2 706.1,90.6 706.4,92.3 706.6,91.3 706.9,92.8 707.1,92.0 707.4,93.8 707.6,92.5 707.9,94.1 708.1,92.5 708.4,93.7 708.6,91.9 708.9,94.1 709.1,91.9 709.4,93.2 709.6,92.1 709.9,93.4 710.1,91.6 710.4,93.2 710.6,91.8 710.9,93.0 711.1,92.0 711.4,93.6 711.6,92.3 711.9,93.8 712.1,92.2 712.4,93.5 712.6,92.1 712.9,94.4" fill="none" stroke="#0000ff" stroke-width="1.0" stroke-linejoin="round" clip-path="url(#c11)"/>
<polyline points="423.5,95.3 423.8,94.9 424.0,95.2 424.3,94.1 424.5,95.8 424.8,94.4 425.0,95.4 425.3,94.1 425.5,95.4 425.8,94.4 426.0,96.2 426.3,94.7 426.5,95.5 426.8,94.2 427.0,95.2 427.3,94.7 427.5,95.4 427.8,94.1 428.0,95.6 428.3,94.2 428.5,95.3 428.8,94.8 429.0,95.5 429.3,94.1 429.5,95.0 429.8,95.2 430.0,94.8 430.3,94.2 430.5,95.1 430.8,93.8 431.0,95.5 431.3,94.3 431.5,95.2 431.8,94.7 432.0,95.2 432.3,95.0 432.5,96.1 432.8,94.7 433.0,95.3 433.3,94.7 433.5,95.8 433.8,95.2 434.0,95.9 434.3,95.1 434.5,96.1 434.8,95.7 435.0,96.4 435.3,95.5 435.5,96.4 435.8,95.3 436.0,96.5 436.3,95.4 436.5,95.8 436.8,95.0 437.0,96.3 437.3,95.1 437.5,96.3 437.8,95.8 438.0,97.1 438.3,95.1 438.5,97.0 438.8,96.3 439.0,96.9 439.3,96.2 439.5,97.0 439.8,96.0 440.0,95.9 440.3,95.2 440.5,96.7 440.8,95.7 441.0,95.8 441.3,94.9 441.5,96.3 441.8,94.9 442.0,96.1 442.3,95.1 442.5,95.5 442.8,95.3 443.0,95.6 443.3,94.7 443.5,95.3 443.8,94.3 444.0,95.1 444.3,94.3 444.5,95.3 444.8,95.0 445.0,95.6 445.3,94.5 445.5,95.0 445.8,94.1 446.0,95.0 446.3,93.9 446.5,94.7 446.8,94.0 447.0,94.9 447.3,94.2 447.5,94.3 447.8,93.7 448.0,94.7 448.3,93.1 448.5,94.0 448.8,93.3 449.0,94.0 449.3,93.2 449.5,94.0 449.8,92.9 450.0,93.8 450.3,92.8 450.5,93.4 450.8,92.8 451.0,93.5 451.3,92.8 451.5,93.6 451.8,92.3 452.0,93.2 452.3,92.4 452.5,92.9 452.8,92.1 453.0,92.7 453.3,92.3 453.5,92.6 453.8,92.1 454.0,93.1 454.3,92.1 454.5,92.9 454.8,91.8 455.0,92.6 455.3,91.7 455.5,92.6 455.8,91.1 456.0,92.3 456.3,90.8 456.5,91.9 456.8,91.1 457.0,91.9 457.3,91.2 457.5,91.4 457.8,91.1 458.0,91.4 458.3,90.9 458.5,91.7 458.8,90.5 459.0,92.4 459.3,90.6 459.5,90.8 459.8,89.6 460.1,91.2 460.3,89.6 460.6,91.0 460.8,90.1 461.1,91.2 461.3,90.6 461.6,90.8 461.8,90.0 462.1,90.6 462.3,89.7 462.6,90.7 462.8,90.1 463.1,90.6 463.3,90.2 463.6,91.0 463.8,89.9 464.1,90.6 464.3,90.2 464.6,90.6 464.8,89.9 465.1,90.6 465.3,89.4 465.6,90.6 465.8,90.0 466.1,90.8 466.3,89.5 466.6,90.7 466.8,89.4 467.1,90.8 467.3,89.9 467.6,90.5 467.8,89.4 468.1,90.3 468.3,89.7 468.6,90.4 468.8,89.8 469.1,90.3 469.3,89.8 469.6,90.4 469.8,89.8 470.1,90.6 470.3,89.8 470.6,90.5 470.8,89.6 471.1,90.2 471.3,89.6 471.6,90.8 471.8,90.2 472.1,90.3 472.3,90.6 472.6,90.9 472.8,90.2 473.1,90.8 473.3,90.4 473.6,91.2 473.8,90.7 474.1,91.1 474.3,90.4 474.6,91.2 474.8,90.6 475.1,91.7 475.3,90.5 475.6,91.5 475.8,90.9 476.1,90.9 476.3,90.5 476.6,91.4 476.8,90.5 477.1,91.0 477.3,90.9 477.6,92.0 477.8,90.7 478.1,92.6 478.3,91.6 478.6,92.1 478.8,91.4 479.1,93.0 479.3,92.8 479.6,93.8 479.8,94.6 480.1,96.2 480.3,96.1 480.6,97.0 480.8,96.5 481.1,96.9 481.3,96.3 481.6,96.7 481.8,95.9 482.1,96.0 482.3,95.3 482.6,95.9 482.8,95.1 483.1,95.4 483.3,95.0 483.6,95.6 483.8,94.6 484.1,95.2 484.3,94.2 484.6,94.5 484.8,93.9 485.1,94.7 485.3,94.0 485.6,94.4 485.8,93.4 486.1,93.6 486.3,91.6 486.6,92.7 486.8,91.6 487.1,92.6 487.3,92.1 487.6,92.4 487.8,91.9 488.1,92.3 488.3,91.8 488.6,92.9 488.8,92.0 489.1,93.1 489.3,92.4 489.6,93.2 489.8,92.5 490.1,92.8 490.3,92.1 490.6,92.6 490.8,92.0 491.1,92.0 491.3,92.0 491.6,92.3 491.8,91.5 492.1,92.1 492.3,91.2 492.6,92.8 492.8,91.3 493.1,92.2 493.3,91.2 493.6,92.0 493.8,91.5 494.1,91.9 494.3,91.5 494.6,92.7 494.8,91.7 495.1,92.0 495.3,91.8 495.6,92.1 495.9,91.3 496.1,92.0 496.4,91.6 496.6,91.7 496.9,91.0 497.1,91.7 497.4,91.1 497.6,91.8 497.9,90.7 498.1,91.5 498.4,91.2 498.6,91.3 498.9,91.2 499.1,91.7 499.4,90.6 499.6,93.2 499.9,90.8 500.1,92.5 500.4,90.6 500.6,91.4 500.9,90.4 501.1,91.4 501.4,90.6 501.6,91.4 501.9,90.4 502.1,91.2 502.4,90.0 502.6,91.0 502.9,89.9 503.1,90.2 503.4,90.3 503.6,91.7 503.9,90.0 504.1,91.1 504.4,90.3 504.6,91.4 504.9,90.4 505.1,91.4 505.4,90.4 505.6,90.7 505.9,89.8 506.1,90.9 506.4,90.2 506.6,90.6 506.9,89.4 507.1,90.8 507.4,90.0 507.6,90.2 507.9,89.8 508.1,91.2 508.4,90.0 508.6,90.9 508.9,90.1 509.1,90.8 509.4,90.5 509.6,91.4 509.9,91.0 510.1,92.0 510.4,91.1 510.6,92.6 510.9,91.1 511.1,92.1 511.4,91.1 511.6,92.8 511.9,92.0 512.1,93.1 512.4,91.8 512.6,92.8 512.9,91.4 513.1,91.7 513.4,90.8 513.6,91.2 513.9,90.4 514.1,90.9 514.4,89.5 514.6,90.3 514.9,88.6 515.1,89.5 515.4,88.6 515.6,89.3 515.9,90.1 516.1,92.6 516.4,92.8 516.6,94.4 516.9,94.6 517.1,95.2 517.4,94.2 517.6,95.6 517.9,94.6 518.1,95.1 518.4,94.2 518.6,95.1 518.9,95.2 519.1,95.8 519.4,95.2 519.6,95.9 519.9,94.8 520.1,95.8 520.4,95.1 520.6,96.0 520.9,95.2 521.1,96.0 521.4,95.9 521.6,96.4 521.9,95.6 522.1,96.5 522.4,95.7 522.6,96.1 522.9,95.9 523.1,96.5 523.4,96.2 523.6,97.2 523.9,96.1 524.1,97.2 524.4,95.7 524.6,97.1 524.9,96.2 525.1,96.8 525.4,96.0 525.6,96.8 525.9,96.9 526.1,97.1 526.4,96.6 526.6,97.1 526.9,96.1 527.1,97.3 527.4,95.7 527.6,96.9 527.9,96.3 528.1,96.8 528.4,95.7 528.6,98.0 528.9,96.6 529.1,97.3 529.4,96.0 529.6,97.0 529.9,96.1 530.1,97.4 530.4,96.8 530.6,97.3 530.9,96.9 531.1,97.3 531.4,97.1 531.6,97.7 531.9,97.3 532.2,97.8 532.4,96.9 532.7,97.8 532.9,97.0 533.2,97.2 533.4,96.5 533.7,97.3 533.9,97.0 534.2,96.9 534.4,96.4 534.7,97.9 534.9,97.0 535.2,97.6 535.4,97.0 535.7,97.7 535.9,97.6 536.2,98.1 536.4,97.1 536.7,98.7 536.9,97.1 537.2,97.2 537.4,96.7 537.7,97.4 537.9,96.7 538.2,97.8 538.4,96.3 538.7,97.7 538.9,96.5 539.2,97.1 539.4,96.4 539.7,98.0 539.9,97.1 540.2,97.8 540.4,96.7 540.7,97.4 540.9,97.3 541.2,98.2 541.4,96.0 541.7,97.2 541.9,97.3 542.2,98.0 542.4,96.7 542.7,97.5 542.9,96.7 543.2,97.8 543.4,96.8 543.7,98.0 543.9,96.7 544.2,97.8 544.4,96.6 544.7,98.1 544.9,97.7 545.2,97.9 545.4,97.3 545.7,98.3 545.9,97.7 546.2,97.4 546.4,97.1 546.7,97.9 546.9,97.1 547.2,98.2 547.4,97.2 547.7,98.1 547.9,97.0 548.2,98.1 548.4,97.5 548.7,98.3 548.9,97.5 549.2,98.2 549.4,97.4 549.7,97.9 549.9,97.4 550.2,98.6 550.4,97.8 550.7,98.5 550.9,97.2 551.2,98.7 551.4,97.0 551.7,98.0 551.9,96.6 552.2,97.5 552.4,97.1 552.7,98.1 552.9,96.8 553.2,97.8 553.4,97.2 553.7,98.3 553.9,97.2 554.2,97.8 554.4,97.0 554.7,98.1 554.9,97.2 555.2,97.8 555.4,97.2 555.7,97.5 555.9,97.3 556.2,98.0 556.4,96.6 556.7,97.6 556.9,96.5 557.2,97.1 557.4,96.2 557.7,97.5 557.9,96.4 558.2,96.9 558.4,96.1 558.7,97.4 558.9,96.4 559.2,96.5 559.4,95.8 559.7,96.5 559.9,95.7 560.2,96.7 560.4,95.8 560.7,96.3 560.9,95.4 561.2,95.7 561.4,95.5 561.7,96.0 561.9,94.9 562.2,95.6 562.4,94.6 562.7,95.4 562.9,94.8 563.2,95.5 563.4,94.8 563.7,95.2 563.9,94.6 564.2,95.9 564.4,94.3 564.7,94.9 564.9,94.7 565.2,95.0 565.4,94.6 565.7,94.9 565.9,94.0 566.2,94.9 566.4,93.9 566.7,95.0 566.9,94.0 567.2,94.7 567.4,94.0 567.7,95.2 567.9,93.8 568.2,94.7 568.5,94.9 568.7,94.9 569.0,94.1 569.2,95.1 569.5,94.3 569.7,95.1 570.0,94.5 570.2,95.4 570.5,94.7 570.7,95.6 571.0,94.1 571.2,95.1 571.5,94.6 571.7,95.0 572.0,94.5 572.2,95.3 572.5,94.1 572.7,95.5 573.0,94.5 573.2,94.8 573.5,94.3 573.7,95.1 574.0,94.9 574.2,94.9 574.5,94.1 574.7,94.4 575.0,94.1 575.2,94.5 575.5,94.1 575.7,95.1 576.0,94.4 576.2,95.3 576.5,94.1 576.7,94.9 577.0,93.9 577.2,94.8 577.5,93.9 577.7,95.4 578.0,93.6 578.2,94.4 578.5,93.6 578.7,95.1 579.0,93.3 579.2,94.0 579.5,92.9 579.7,94.3 580.0,93.1 580.2,93.7 580.5,93.4 580.7,94.1 581.0,91.8 581.2,93.5 581.5,93.2 581.7,94.4 582.0,93.5 582.2,93.9 582.5,93.4 582.7,93.8 583.0,93.2 583.2,93.6 583.5,93.2 583.7,93.6 584.0,93.3 584.2,92.7 584.5,93.1 584.7,93.2 585.0,92.8 585.2,93.4 585.5,92.3 585.7,93.3 586.0,92.8 586.2,93.1 586.5,92.6 586.7,93.5 587.0,92.1 587.2,93.0 587.5,92.6 587.7,93.1 588.0,92.1 588.2,92.9 588.5,93.0 588.7,93.2 589.0,92.7 589.2,93.8 589.5,92.6 589.7,93.4 590.0,92.8 590.2,93.8 590.5,93.1 590.7,94.0 591.0,93.3 591.2,94.2 591.5,93.9 591.7,94.7 592.0,93.3 592.2,94.2 592.5,93.8 592.7,94.6 593.0,94.1 593.2,93.8 593.5,93.5 593.7,94.4 594.0,93.9 594.2,95.0 594.5,93.8 594.7,94.2 595.0,94.0 595.2,94.8 595.5,93.6 595.7,94.5 596.0,93.6 596.2,94.0 596.5,93.7 596.7,94.3 597.0,93.6 597.2,94.6 597.5,93.3 597.7,94.5 598.0,93.9 598.2,94.7 598.5,93.9 598.7,94.2 599.0,94.5 599.2,93.8 599.5,92.1 599.7,94.2 600.0,92.4 600.2,92.5 600.5,91.8 600.7,93.5 601.0,92.2 601.2,93.7 601.5,93.1 601.7,92.5 602.0,92.5 602.2,93.4 602.5,91.7 602.7,91.7 603.0,92.1 603.2,92.3 603.5,93.1 603.7,93.2 604.0,91.9 604.2,93.6 604.5,92.5 604.8,92.9 605.0,91.3 605.3,93.8 605.5,93.7 605.8,93.6 606.0,92.4 606.3,91.4 606.5,91.7 606.8,93.0 607.0,91.3 607.3,92.0 607.5,92.0 607.8,92.1 608.0,93.2 608.3,93.2 608.5,91.2 608.8,92.7 609.0,92.1 609.3,92.7 609.5,91.8 609.8,93.4 610.0,93.7 610.3,93.0 610.5,91.6 610.8,92.0 611.0,92.3 611.3,93.5 611.5,92.1 611.8,93.4 612.0,93.3 612.3,93.7 612.5,92.2 612.8,92.9 613.0,92.4 613.3,93.1 613.5,95.4 613.8,92.6 614.0,92.3 614.3,91.4 614.5,91.8 614.8,92.3 615.0,93.2 615.3,93.9 615.5,93.2 615.8,93.9 616.0,94.1 616.3,94.0 616.5,93.4 616.8,93.6 617.0,92.6 617.3,92.5 617.5,93.9 617.8,94.6 618.0,91.4 618.3,92.2 618.5,93.2 618.8,92.7 619.0,93.0 619.3,94.7 619.5,92.9 619.8,93.5 620.0,93.3 620.3,94.9 620.5,96.2 620.8,94.9 621.0,94.4 621.3,94.7 621.5,93.1 621.8,95.1 622.0,93.4 622.3,94.7 622.5,93.7 622.8,92.3 623.0,91.6 623.3,92.2 623.5,92.6 623.8,93.7 624.0,93.0 624.3,93.8 624.5,91.9 624.8,93.4 625.0,91.7 625.3,92.1 625.5,91.2 625.8,92.7 626.0,89.5 626.3,91.0 626.5,89.5 626.8,90.1 627.0,90.2 627.3,91.7 627.5,91.2 627.8,86.6 628.0,88.1 628.3,88.2 628.5,88.2 628.8,89.1 629.0,86.4 629.3,87.0 629.5,85.9 629.8,87.2 630.0,83.9 630.3,85.7 630.5,84.2 630.8,85.9 631.0,85.5 631.3,86.2 631.5,84.0 631.8,85.3 632.0,86.2 632.3,85.9 632.5,87.1 632.8,88.3 633.0,88.0 633.3,88.9 633.5,88.3 633.8,89.0 634.0,86.7 634.3,88.7 634.5,86.9 634.8,88.5 635.0,86.1 635.3,88.7 635.5,86.8 635.8,89.0 636.0,88.8 636.3,90.3 636.5,89.0 636.8,90.1 637.0,89.8 637.3,89.7 637.5,91.1 637.8,91.2 638.0,89.0 638.3,88.6 638.5,88.7 638.8,88.0 639.0,87.0 639.3,88.5 639.5,88.5 639.8,88.7 640.0,87.2 640.3,88.6 640.5,88.8 640.8,90.5 641.1,88.7 641.3,90.2 641.6,89.7 641.8,91.0 642.1,91.5 642.3,91.5 642.6,90.3 642.8,91.9 643.1,91.5 643.3,93.1 643.6,90.9 643.8,89.5 644.1,86.9 644.3,89.0 644.6,87.2 644.8,89.9 645.1,87.8 645.3,91.5 645.6,91.1 645.8,93.2 646.1,90.3 646.3,88.6 646.6,87.9 646.8,85.7 647.1,84.2 647.3,83.6 647.6,84.3 647.8,86.6 648.1,85.8 648.3,89.3 648.6,89.6 648.8,92.4 649.1,93.5 649.3,93.8 649.6,90.9 649.8,93.1 650.1,92.0 650.3,93.6 650.6,91.1 650.8,92.4 651.1,91.9 651.3,90.8 651.6,92.3 651.8,92.8 652.1,93.1 652.3,93.1 652.6,92.9 652.8,93.1 653.1,92.2 653.3,97.2 653.6,93.9 653.8,92.6 654.1,92.4 654.3,91.7 654.6,92.4 654.8,92.6 655.1,92.5 655.3,93.7 655.6,91.9 655.8,93.6 656.1,93.6 656.3,91.9 656.6,91.0 656.8,92.1 657.1,92.1 657.3,91.6 657.6,92.0 657.8,92.6 658.1,92.3 658.3,94.8 658.6,93.8 658.8,96.3 659.1,94.5 659.3,93.7 659.6,93.7 659.8,92.1 660.1,92.4 660.3,93.2 660.6,90.8 660.8,92.2 661.1,89.6 661.3,93.1 661.6,91.2 661.8,91.9 662.1,89.2 662.3,91.9 662.6,90.9 662.8,91.6 663.1,91.3 663.3,92.6 663.6,91.7 663.8,92.9 664.1,91.4 664.3,94.1 664.6,92.1 664.8,93.8 665.1,93.1 665.3,94.4 665.6,94.1 665.8,94.0 666.1,95.3 666.3,94.5 666.6,92.4 666.8,94.0 667.1,86.0 667.3,81.5 667.6,79.1 667.8,78.3 668.1,79.7 668.3,79.6 668.6,77.4 668.8,79.4 669.1,77.7 669.3,77.9 669.6,74.5 669.8,76.7 670.1,75.2 670.3,75.0 670.6,74.0 670.8,75.2 671.1,74.7 671.3,75.6 671.6,76.1 671.8,77.1 672.1,78.9 672.3,76.8 672.6,78.1 672.8,79.3 673.1,79.3 673.3,81.7 673.6,80.7 673.8,83.6 674.1,81.7 674.3,81.9 674.6,81.0 674.8,82.8 675.1,85.4 675.3,83.0 675.6,82.2 675.8,84.2 676.1,82.2 676.3,83.4 676.6,82.4 676.9,83.9 677.1,83.4 677.4,84.1 677.6,83.5 677.9,83.9 678.1,83.9 678.4,84.6 678.6,82.2 678.9,83.7 679.1,85.7 679.4,87.3 679.6,90.2 679.9,89.9 680.1,94.2 680.4,94.1 680.6,94.5 680.9,94.2 681.1,95.9 681.4,94.9 681.6,92.7 681.9,93.0 682.1,91.9 682.4,91.8 682.6,90.3 682.9,92.7 683.1,91.4 683.4,92.1 683.6,91.3 683.9,92.1 684.1,89.7 684.4,90.1 684.6,91.2 684.9,91.2 685.1,89.8 685.4,89.7 685.6,90.2 685.9,91.9 686.1,92.7 686.4,92.1 686.6,90.5 686.9,92.8 687.1,92.2 687.4,92.2 687.6,91.3 687.9,90.9 688.1,90.8 688.4,89.7 688.6,89.4 688.9,89.7 689.1,89.4 689.4,89.7 689.6,89.7 689.9,89.1 690.1,88.1 690.4,89.9 690.6,87.3 690.9,88.0 691.1,87.9 691.4,87.4 691.6,86.7 691.9,88.2 692.1,87.3 692.4,89.6 692.6,90.0 692.9,89.9 693.1,88.2 693.4,89.6 693.6,89.7 693.9,90.3 694.1,91.9 694.4,91.9 694.6,92.0 694.9,92.6 695.1,92.9 695.4,92.6 695.6,93.1 695.9,95.2 696.1,93.6 696.4,95.4 696.6,95.3 696.9,95.3 697.1,95.6 697.4,96.8 697.6,95.6 697.9,95.1 698.1,95.3 698.4,95.6 698.6,94.0 698.9,96.7 699.1,95.1 699.4,97.3 699.6,97.5 699.9,98.0 700.1,95.6 700.4,95.9 700.6,95.6 700.9,98.3 701.1,96.6 701.4,96.0 701.6,94.3 701.9,94.6 702.1,91.7 702.4,94.9 702.6,92.4 702.9,92.6 703.1,90.9 703.4,94.0 703.6,92.3 703.9,91.9 704.1,90.9 704.4,91.4 704.6,90.2 704.9,92.4 705.1,91.0 705.4,91.2 705.6,91.0 705.9,89.4 706.1,90.7 706.4,92.0 706.6,91.4 706.9,93.3 707.1,94.7 707.4,92.4 707.6,92.4 707.9,94.1 708.1,93.8 708.4,93.4 708.6,92.6 708.9,91.7 709.1,92.0 709.4,93.0 709.6,91.4 709.9,92.9 710.1,91.7 710.4,90.3 710.6,91.4 710.9,91.9 711.1,90.2 711.4,90.8 711.6,89.9 711.9,89.8 712.1,88.9 712.4,89.9 712.6,88.7 712.9,91.9" fill="none" stroke="#008000" stroke-width="1.0" stroke-linejoin="round" clip-path="url(#c11)"/>
<polyline points="423.5,80.3 423.8,79.2 424.0,80.0 424.3,79.5 424.5,79.9 424.8,79.7 425.0,81.6 425.3,80.0 425.5,80.6 425.8,78.5 426.0,80.3 426.3,80.0 426.5,80.8 426.8,78.3 427.0,80.0 427.3,80.4 427.5,80.5 427.8,80.6 428.0,81.0 428.3,80.5 428.5,82.8 428.8,82.0 429.0,80.3 429.3,80.5 429.5,80.6 429.8,80.4 430.0,80.8 430.3,80.3 430.5,80.0 430.8,80.2 431.0,81.5 431.3,80.5 431.5,80.4 431.8,79.1 432.0,81.2 432.3,80.2 432.5,80.8 432.8,80.5 433.0,81.3 433.3,79.7 433.5,81.1 433.8,80.9 434.0,81.0 434.3,79.6 434.5,79.6 434.8,78.3 435.0,79.4 435.3,79.3 435.5,80.8 435.8,78.0 436.0,79.5 436.3,79.0 436.5,77.9 436.8,78.6 437.0,81.2 437.3,78.3 437.5,79.6 437.8,79.3 438.0,79.2 438.3,78.3 438.5,79.4 438.8,78.9 439.0,79.5 439.3,77.2 439.5,77.7 439.8,77.3 440.0,78.3 440.3,77.4 440.5,79.0 440.8,76.8 441.0,78.4 441.3,77.2 441.5,79.7 441.8,78.0 442.0,78.2 442.3,77.2 442.5,78.6 442.8,77.4 443.0,78.6 443.3,76.7 443.5,78.5 443.8,77.3 444.0,78.4 444.3,77.1 444.5,77.0 444.8,77.1 445.0,77.9 445.3,77.3 445.5,78.3 445.8,77.9 446.0,77.5 446.3,77.9 446.5,77.9 446.8,76.8 447.0,78.2 447.3,77.9 447.5,77.3 447.8,77.9 448.0,77.4 448.3,77.9 448.5,76.8 448.8,76.5 449.0,77.4 449.3,76.7 449.5,77.6 449.8,76.2 450.0,77.3 450.3,76.6 450.5,78.3 450.8,76.9 451.0,76.8 451.3,76.4 451.5,77.6 451.8,77.3 452.0,77.5 452.3,77.3 452.5,77.2 452.8,78.2 453.0,77.6 453.3,78.0 453.5,79.8 453.8,77.8 454.0,79.7 454.3,78.5 454.5,78.3 454.8,78.1 455.0,78.8 455.3,76.4 455.5,77.3 455.8,75.4 456.0,76.7 456.3,74.0 456.5,73.9 456.8,73.3 457.0,73.3 457.3,71.8 457.5,73.6 457.8,72.4 458.0,74.1 458.3,72.2 458.5,72.4 458.8,70.4 459.0,72.7 459.3,71.8 459.5,72.2 459.8,71.5 460.1,71.2 460.3,70.8 460.6,71.3 460.8,72.7 461.1,71.3 461.3,70.8 461.6,71.2 461.8,70.7 462.1,71.7 462.3,71.3 462.6,70.6 462.8,71.3 463.1,71.2 463.3,71.5 463.6,71.4 463.8,70.6 464.1,72.1 464.3,70.2 464.6,70.3 464.8,70.0 465.1,70.7 465.3,70.1 465.6,72.7 465.8,71.3 466.1,71.3 466.3,70.1 466.6,71.7 466.8,70.5 467.1,72.3 467.3,70.8 467.6,71.4 467.8,70.8 468.1,70.2 468.3,71.3 468.6,70.5 468.8,70.7 469.1,71.0 469.3,69.8 469.6,71.5 469.8,70.8 470.1,70.5 470.3,68.2 470.6,69.6 470.8,70.2 471.1,71.3 471.3,70.1 471.6,71.9 471.8,72.5 472.1,74.4 472.3,72.7 472.6,74.6 472.8,75.5 473.1,76.4 473.3,75.6 473.6,76.0 473.8,75.2 474.1,75.9 474.3,74.1 474.6,75.7 474.8,75.2 475.1,75.9 475.3,74.1 475.6,75.7 475.8,74.9 476.1,75.9 476.3,75.5 476.6,75.6 476.8,76.1 477.1,75.7 477.3,74.0 477.6,75.7 477.8,74.2 478.1,75.6 478.3,75.2 478.6,76.9 478.8,74.9 479.1,75.5 479.3,74.8 479.6,74.0 479.8,73.3 480.1,75.1 480.3,72.8 480.6,74.2 480.8,73.4 481.1,73.6 481.3,74.5 481.6,75.4 481.8,75.4 482.1,75.9 482.3,74.8 482.6,75.7 482.8,75.5 483.1,76.1 483.3,75.3 483.6,75.0 483.8,74.1 484.1,75.0 484.3,73.5 484.6,73.5 484.8,74.4 485.1,74.7 485.3,75.8 485.6,74.7 485.8,73.3 486.1,73.0 486.3,73.6 486.6,73.6 486.8,73.1 487.1,72.7 487.3,71.4 487.6,72.6 487.8,70.7 488.1,72.3 488.3,71.5 488.6,72.6 488.8,70.9 489.1,72.1 489.3,70.7 489.6,72.1 489.8,71.3 490.1,71.1 490.3,70.8 490.6,73.3 490.8,70.5 491.1,72.0 491.3,70.6 491.6,70.9 491.8,71.4 492.1,72.1 492.3,71.6 492.6,72.6 492.8,71.5 493.1,71.2 493.3,71.1 493.6,71.9 493.8,70.0 494.1,70.4 494.3,70.0 494.6,70.4 494.8,70.3 495.1,71.3 495.3,70.8 495.6,70.8 495.9,69.0 496.1,70.7 496.4,70.6 496.6,71.8 496.9,71.7 497.1,70.8 497.4,69.7 497.6,70.6 497.9,70.3 498.1,70.7 498.4,70.8 498.6,71.7 498.9,71.3 499.1,70.6 499.4,70.5 499.6,71.5 499.9,69.8 500.1,70.3 500.4,70.1 500.6,70.1 500.9,69.5 501.1,70.8 501.4,71.7 501.6,70.3 501.9,71.0 502.1,70.2 502.4,69.3 502.6,70.9 502.9,70.1 503.1,70.8 503.4,69.3 503.6,69.8 503.9,69.3 504.1,69.7 504.4,68.7 504.6,69.5 504.9,68.8 505.1,69.1 505.4,67.9 505.6,69.2 505.9,68.7 506.1,68.2 506.4,67.1 506.6,69.5 506.9,69.0 507.1,68.6 507.4,68.7 507.6,69.2 507.9,69.3 508.1,68.1 508.4,69.6 508.6,69.6 508.9,69.2 509.1,70.0 509.4,69.7 509.6,70.5 509.9,71.0 510.1,71.2 510.4,69.9 510.6,69.7 510.9,70.3 511.1,69.0 511.4,68.6 511.6,69.6 511.9,70.9 512.1,70.8 512.4,69.4 512.6,70.8 512.9,69.5 513.1,70.7 513.4,69.8 513.6,69.9 513.9,68.8 514.1,69.3 514.4,67.4 514.6,68.7 514.9,67.2 515.1,68.4 515.4,67.3 515.6,67.5 515.9,69.9 516.1,76.2 516.4,79.1 516.6,84.1 516.9,83.6 517.1,83.3 517.4,84.7 517.6,86.2 517.9,85.0 518.1,84.8 518.4,82.7 518.6,84.9 518.9,82.2 519.1,85.8 519.4,84.5 519.6,84.9 519.9,84.5 520.1,84.7 520.4,86.5 520.6,86.0 520.9,86.1 521.1,85.4 521.4,84.2 521.6,83.7 521.9,82.4 522.1,84.2 522.4,85.2 522.6,85.6 522.9,82.5 523.1,87.9 523.4,85.0 523.6,85.9 523.9,83.5 524.1,85.6 524.4,82.8 524.6,84.7 524.9,85.1 525.1,85.4 525.4,83.9 525.6,84.2 525.9,83.9 526.1,84.8 526.4,84.3 526.6,84.0 526.9,83.7 527.1,83.1 527.4,83.8 527.6,82.8 527.9,81.2 528.1,82.5 528.4,82.5 528.6,81.6 528.9,81.1 529.1,82.3 529.4,79.8 529.6,81.8 529.9,80.9 530.1,83.0 530.4,84.9 530.6,85.0 530.9,87.3 531.1,88.2 531.4,87.2 531.6,87.1 531.9,87.7 532.2,85.0 532.4,84.0 532.7,86.5 532.9,83.5 533.2,82.9 533.4,84.1 533.7,83.3 533.9,82.6 534.2,83.2 534.4,83.8 534.7,82.6 534.9,83.2 535.2,82.7 535.4,82.1 535.7,84.0 535.9,82.4 536.2,82.3 536.4,83.2 536.7,82.8 536.9,83.1 537.2,83.4 537.4,83.3 537.7,83.4 537.9,83.3 538.2,83.4 538.4,81.4 538.7,83.6 538.9,83.1 539.2,83.6 539.4,81.2 539.7,84.0 539.9,82.5 540.2,81.5 540.4,80.8 540.7,80.3 540.9,81.7 541.2,80.9 541.4,79.6 541.7,80.2 541.9,79.0 542.2,81.5 542.4,80.7 542.7,79.9 542.9,80.4 543.2,80.3 543.4,79.2 543.7,80.2 543.9,79.3 544.2,79.0 544.4,79.4 544.7,79.3 544.9,77.6 545.2,79.1 545.4,77.9 545.7,74.5 545.9,77.6 546.2,78.3 546.4,76.3 546.7,78.7 546.9,76.1 547.2,75.0 547.4,74.4 547.7,75.6 547.9,75.6 548.2,73.9 548.4,74.6 548.7,74.1 548.9,77.3 549.2,77.4 549.4,75.5 549.7,80.9 549.9,80.0 550.2,81.6 550.4,80.9 550.7,82.9 550.9,82.9 551.2,82.4 551.4,81.8 551.7,84.0 551.9,84.0 552.2,82.6 552.4,82.9 552.7,82.3 552.9,84.7 553.2,83.6 553.4,84.0 553.7,85.2 553.9,85.3 554.2,83.8 554.4,83.9 554.7,82.4 554.9,80.3 555.2,83.8 555.4,82.5 555.7,83.1 555.9,83.6 556.2,82.9 556.4,81.9 556.7,85.6 556.9,83.4 557.2,84.7 557.4,85.7 557.7,83.3 557.9,84.7 558.2,85.3 558.4,85.0 558.7,84.2 558.9,86.2 559.2,85.2 559.4,84.4 559.7,86.3 559.9,85.4 560.2,85.8 560.4,83.4 560.7,84.3 560.9,83.8 561.2,84.3 561.4,84.5 561.7,86.0 561.9,85.1 562.2,85.0 562.4,84.9 562.7,84.5 562.9,84.2 563.2,85.0 563.4,83.8 563.7,83.7 563.9,86.2 564.2,82.6 564.4,79.3 564.7,77.3 564.9,75.2 565.2,76.3 565.4,74.6 565.7,73.9 565.9,74.2 566.2,75.0 566.4,74.2 566.7,76.0 566.9,76.4 567.2,74.9 567.4,74.8 567.7,77.8 567.9,76.4 568.2,77.4 568.5,75.0 568.7,77.7 569.0,75.1 569.2,77.8 569.5,73.4 569.7,76.8 570.0,76.8 570.2,77.4 570.5,75.8 570.7,72.1 571.0,72.5 571.2,74.2 571.5,71.5 571.7,74.7 572.0,72.9 572.2,77.3 572.5,74.2 572.7,75.7 573.0,76.3 573.2,75.2 573.5,75.3 573.7,73.3 574.0,75.0 574.2,75.8 574.5,75.2 574.7,75.9 575.0,74.7 575.2,78.8 575.5,74.5 575.7,73.8 576.0,73.5 576.2,74.3 576.5,73.8 576.7,75.7 577.0,73.1 577.2,71.5 577.5,70.1 577.7,72.3 578.0,67.4 578.2,71.9 578.5,69.3 578.7,70.4 579.0,70.8 579.2,70.4 579.5,72.8 579.7,72.5 580.0,71.6 580.2,73.3 580.5,72.1 580.7,72.8 581.0,72.6 581.2,74.7 581.5,72.5 581.7,75.6 582.0,75.5 582.2,77.6 582.5,78.7 582.7,79.1 583.0,78.6 583.2,80.1 583.5,80.0 583.7,81.5 584.0,80.0 584.2,82.4 584.5,82.4 584.7,83.3 585.0,83.1 585.2,85.0 585.5,84.0 585.7,83.9 586.0,83.0 586.2,83.9 586.5,83.7 586.7,84.5 587.0,82.6 587.2,81.9 587.5,82.6 587.7,82.1 588.0,84.5 588.2,84.4 588.5,82.6 588.7,82.2 589.0,83.4 589.2,83.0 589.5,81.3 589.7,83.8 590.0,81.8 590.2,82.6 590.5,81.0 590.7,80.5 591.0,77.9 591.2,79.0 591.5,81.2 591.7,79.1 592.0,78.5 592.2,77.8 592.5,79.4 592.7,77.3 593.0,76.9 593.2,77.0 593.5,76.1 593.7,77.1 594.0,73.9 594.2,76.5 594.5,73.2 594.7,76.3 595.0,75.9 595.2,76.2 595.5,74.4 595.7,76.2 596.0,75.7 596.2,72.9 596.5,74.4 596.7,74.0 597.0,76.4 597.2,77.4 597.5,74.0 597.7,76.0 598.0,74.1 598.2,75.4 598.5,73.4 598.7,74.3 599.0,75.0 599.2,74.8 599.5,75.5 599.7,77.1 600.0,76.7 600.2,78.6 600.5,77.9 600.7,78.2 601.0,77.5 601.2,78.5 601.5,77.4 601.7,79.7 602.0,77.3 602.2,75.4 602.5,77.5 602.7,79.4 603.0,77.4 603.2,78.6 603.5,80.7 603.7,77.9 604.0,78.5 604.2,78.9 604.5,78.8 604.8,78.8 605.0,77.8 605.3,81.2 605.5,80.2 605.8,79.6 606.0,77.7 606.3,78.3 606.5,76.5 606.8,78.4 607.0,76.8 607.3,78.5 607.5,77.0 607.8,76.2 608.0,76.4 608.3,76.2 608.5,74.6 608.8,75.6 609.0,73.1 609.3,72.4 609.5,72.5 609.8,75.0 610.0,74.6 610.3,75.7 610.5,76.7 610.8,76.3 611.0,76.7 611.3,81.2 611.5,77.7 611.8,78.8 612.0,78.1 612.3,78.2 612.5,77.6 612.8,78.3 613.0,77.7 613.3,78.4 613.5,78.0 613.8,79.5 614.0,77.0 614.3,78.2 614.5,78.4 614.8,80.0 615.0,79.4 615.3,79.1 615.5,81.1 615.8,78.5 616.0,77.0 616.3,78.2 616.5,79.4 616.8,80.9 617.0,78.1 617.3,81.0 617.5,81.9 617.8,80.9 618.0,81.5 618.3,82.2 618.5,84.1 618.8,83.6 619.0,85.3 619.3,84.8 619.5,85.5 619.8,85.9 620.0,85.5 620.3,85.8 620.5,83.5 620.8,83.4 621.0,81.3 621.3,83.0 621.5,80.9 621.8,82.3 622.0,80.3 622.3,77.0 622.5,77.0 622.8,77.1 623.0,73.9 623.3,73.9 623.5,73.2 623.8,72.7 624.0,72.8 624.3,73.6 624.5,73.6 624.8,72.4 625.0,73.8 625.3,76.2 625.5,73.6 625.8,76.9 626.0,77.6 626.3,76.0 626.5,75.9 626.8,76.5 627.0,73.7 627.3,73.5 627.5,72.6 627.8,72.1 628.0,73.4 628.3,72.4 628.5,70.9 628.8,70.7 629.0,71.6 629.3,70.3 629.5,68.6 629.8,71.7 630.0,68.7 630.3,69.8 630.5,69.0 630.8,71.6 631.0,70.2 631.3,67.5 631.5,70.9 631.8,69.4 632.0,70.7 632.3,69.0 632.5,69.2 632.8,69.9 633.0,69.9 633.3,72.8 633.5,70.7 633.8,67.3 634.0,68.0 634.3,69.1 634.5,69.1 634.8,69.5 635.0,68.5 635.3,69.9 635.5,69.8 635.8,71.4 636.0,71.1 636.3,72.3 636.5,69.8 636.8,71.3 637.0,69.4 637.3,70.6 637.5,70.9 637.8,72.6 638.0,70.6 638.3,70.6 638.5,69.4 638.8,69.1 639.0,67.9 639.3,69.9 639.5,68.0 639.8,69.7 640.0,68.1 640.3,69.6 640.5,68.7 640.8,68.3 641.1,70.0 641.3,73.3 641.6,73.0 641.8,72.3 642.1,72.3 642.3,71.4 642.6,69.0 642.8,68.5 643.1,70.8 643.3,72.3 643.6,73.2 643.8,75.1 644.1,77.4 644.3,79.4 644.6,77.2 644.8,75.5 645.1,76.3 645.3,74.6 645.6,72.4 645.8,72.5 646.1,69.4 646.3,71.5 646.6,69.3 646.8,69.6 647.1,70.1 647.3,70.6 647.6,67.9 647.8,70.2 648.1,67.4 648.3,69.3 648.6,70.0 648.8,70.8 649.1,74.3 649.3,76.6 649.6,76.4 649.8,75.6 650.1,77.4 650.3,77.3 650.6,78.5 650.8,77.8 651.1,77.2 651.3,79.4 651.6,78.8 651.8,80.5 652.1,78.5 652.3,78.7 652.6,79.0 652.8,79.5 653.1,75.8 653.3,76.7 653.6,77.5 653.8,78.5 654.1,76.5 654.3,76.7 654.6,74.6 654.8,75.4 655.1,74.9 655.3,73.0 655.6,72.2 655.8,72.4 656.1,72.4 656.3,75.4 656.6,72.5 656.8,75.8 657.1,74.2 657.3,74.2 657.6,74.1 657.8,75.9 658.1,76.5 658.3,78.0 658.6,75.9 658.8,78.2 659.1,78.2 659.3,77.3 659.6,77.2 659.8,75.8 660.1,76.3 660.3,75.4 660.6,75.7 660.8,75.9 661.1,73.5 661.3,73.6 661.6,73.4 661.8,72.8 662.1,71.9 662.3,74.7 662.6,70.4 662.8,71.3 663.1,70.8 663.3,71.3 663.6,74.6 663.8,75.8 664.1,78.9 664.3,80.3 664.6,76.9 664.8,75.6 665.1,72.2 665.3,72.0 665.6,70.4 665.8,68.0 666.1,66.7 666.3,67.0 666.6,67.6 666.8,68.7 667.1,69.1 667.3,68.3 667.6,68.4 667.8,70.3 668.1,70.7 668.3,67.8 668.6,68.7 668.8,69.2 669.1,67.9 669.3,68.6 669.6,69.9 669.8,71.3 670.1,70.2 670.3,70.0 670.6,69.9 670.8,71.4 671.1,70.3 671.3,71.8 671.6,71.0 671.8,70.5 672.1,71.7 672.3,69.7 672.6,68.4 672.8,68.0 673.1,68.6 673.3,67.5 673.6,69.3 673.8,71.6 674.1,70.1 674.3,70.8 674.6,69.1 674.8,70.0 675.1,68.7 675.3,70.6 675.6,69.5 675.8,69.3 676.1,68.5 676.3,73.6 676.6,69.3 676.9,68.1 677.1,69.1 677.4,69.4 677.6,71.0 677.9,70.1 678.1,69.2 678.4,69.4 678.6,68.7 678.9,72.2 679.1,67.2 679.4,73.1 679.6,70.0 679.9,74.3 680.1,74.5 680.4,74.8 680.6,74.2 680.9,76.2 681.1,75.2 681.4,75.4 681.6,74.1 681.9,75.0 682.1,72.9 682.4,75.2 682.6,72.2 682.9,69.6 683.1,73.5 683.4,72.9 683.6,71.2 683.9,72.3 684.1,72.1 684.4,71.7 684.6,72.0 684.9,73.1 685.1,72.5 685.4,73.9 685.6,71.5 685.9,72.0 686.1,73.8 686.4,71.2 686.6,70.2 686.9,72.8 687.1,70.8 687.4,72.6 687.6,73.1 687.9,72.2 688.1,70.8 688.4,72.2 688.6,70.6 688.9,71.7 689.1,71.4 689.4,70.3 689.6,70.7 689.9,70.4 690.1,72.4 690.4,71.6 690.6,71.7 690.9,71.7 691.1,71.6 691.4,70.7 691.6,70.9 691.9,71.5 692.1,71.8 692.4,71.4 692.6,69.2 692.9,71.9 693.1,72.3 693.4,70.8 693.6,69.8 693.9,71.8 694.1,70.3 694.4,71.7 694.6,70.2 694.9,73.7 695.1,74.3 695.4,74.3 695.6,74.1 695.9,75.4 696.1,75.1 696.4,74.8 696.6,77.6 696.9,79.6 697.1,79.2 697.4,82.2 697.6,82.4 697.9,83.9 698.1,85.9 698.4,88.5 698.6,86.6 698.9,88.2 699.1,88.8 699.4,90.8 699.6,89.4 699.9,92.5 700.1,92.7 700.4,91.3 700.6,87.7 700.9,89.5 701.1,85.2 701.4,83.1 701.6,81.0 701.9,81.9 702.1,79.5 702.4,77.8 702.6,75.6 702.9,75.9 703.1,73.9 703.4,74.5 703.6,71.7 703.9,72.3 704.1,71.6 704.4,76.6 704.6,73.7 704.9,74.2 705.1,75.2 705.4,77.9 705.6,76.5 705.9,78.5 706.1,75.9 706.4,76.9 706.6,76.3 706.9,76.6 707.1,76.5 707.4,77.0 707.6,76.6 707.9,77.3 708.1,76.9 708.4,77.6 708.6,73.8 708.9,74.8 709.1,74.8 709.4,75.8 709.6,73.5 709.9,75.4 710.1,74.7 710.4,74.9 710.6,75.9 710.9,73.9 711.1,73.2 711.4,73.5 711.6,73.3 711.9,73.0 712.1,72.6 712.4,73.3 712.6,71.6 712.9,72.8" fill="none" stroke="#ff0000" stroke-width="1.0" stroke-linejoin="round" clip-path="url(#c11)"/>
<polyline points="423.5,143.5 423.6,130.3 423.8,146.0 423.9,131.6 424.0,149.2 424.1,135.7 424.3,144.7 424.4,132.5 424.5,145.7 424.6,134.8 424.8,145.5 424.9,132.6 425.0,144.5 425.1,131.6 425.3,144.3 425.4,133.3 425.5,143.8 425.6,134.6 425.8,144.1 425.9,133.8 426.0,145.5 426.1,131.2 426.3,143.3 426.4,133.6 426.5,145.5 426.6,132.9 426.8,145.8 426.9,135.0 427.0,143.7 427.1,136.5 427.3,145.9 427.4,136.7 427.5,143.5 427.6,133.4 427.8,145.8 427.9,134.3 428.0,143.4 428.1,132.6 428.3,143.4 428.4,135.2 428.5,144.7 428.6,134.7 428.8,145.1 428.9,135.4 429.0,142.6 429.1,134.6 429.3,145.6 429.4,135.3 429.5,146.8 429.6,132.9 429.8,145.3 429.9,134.9 430.0,144.1 430.1,136.4 430.3,145.0 430.4,135.7 430.5,147.1 430.6,134.5 430.8,144.6 430.9,136.9 431.0,145.5 431.1,137.2 431.3,146.5 431.4,137.1 431.5,146.9 431.6,136.7 431.8,144.2 431.9,135.8 432.0,148.4 432.1,136.5 432.3,145.5 432.4,131.3 432.5,142.5 432.6,136.5 432.8,144.6 432.9,136.5 433.0,143.6 433.1,133.3 433.3,145.9 433.4,134.1 433.5,143.9 433.6,136.7 433.8,142.7 433.9,135.9 434.0,146.6 434.1,137.7 434.3,144.0 434.4,135.9 434.5,142.8 434.6,135.9 434.8,143.5 434.9,137.5 435.0,143.1 435.1,136.5 435.3,144.0 435.4,137.4 435.5,142.7 435.6,135.6 435.8,143.5 435.9,135.1 436.0,142.3 436.1,135.8 436.3,143.2 436.4,135.2 436.5,143.0 436.6,135.6 436.8,146.0 436.9,135.6 437.0,145.3 437.1,134.2 437.3,146.0 437.4,134.0 437.5,147.5 437.6,132.8 437.8,145.1 437.9,135.5 438.0,144.1 438.1,136.4 438.3,144.1 438.4,134.6 438.5,143.8 438.6,136.2 438.8,149.3 438.9,132.9 439.0,146.1 439.1,134.4 439.3,145.4 439.4,134.0 439.5,148.9 439.6,136.2 439.8,146.2 439.9,135.9 440.0,145.7 440.1,134.4 440.3,147.4 440.4,134.8 440.5,144.4 440.6,135.1 440.8,145.5 440.9,136.0 441.0,145.6 441.1,135.6 441.3,144.8 441.4,132.8 441.5,148.1 441.6,134.7 441.8,144.3 441.9,135.3 442.0,144.0 442.1,135.7 442.3,144.6 442.4,135.6 442.5,145.3 442.6,133.9 442.8,143.2 442.9,134.6 443.0,143.7 443.1,135.6 443.3,144.8 443.4,135.7 443.5,146.2 443.6,134.2 443.8,145.3 443.9,132.2 444.0,148.2 444.1,134.5 444.3,147.9 444.4,136.0 444.5,148.0 444.6,135.0 444.8,145.2 444.9,131.6 445.0,145.4 445.1,136.3 445.3,144.7 445.4,133.0 445.5,144.9 445.6,134.9 445.8,146.6 445.9,130.9 446.0,145.7 446.1,135.7 446.3,144.5 446.4,132.9 446.5,144.9 446.6,129.5 446.8,145.4 446.9,133.9 447.0,146.0 447.1,135.2 447.3,146.1 447.4,132.5 447.5,144.4 447.6,132.5 447.8,145.6 447.9,131.6 448.0,143.7 448.1,130.0 448.3,143.5 448.4,131.2 448.5,144.9 448.6,131.9 448.8,145.4 448.9,132.7 449.0,147.0 449.1,134.9 449.3,148.2 449.4,133.6 449.5,144.9 449.6,133.8 449.8,145.4 449.9,134.6 450.0,147.3 450.1,134.0 450.3,144.9 450.4,135.5 450.5,146.7 450.6,135.0 450.8,144.4 450.9,134.3 451.0,146.2 451.1,133.9 451.3,143.5 451.4,133.2 451.5,145.2 451.6,132.1 451.8,144.8 451.9,135.5 452.0,143.2 452.1,133.6 452.3,145.4 452.4,133.5 452.5,144.9 452.6,132.4 452.8,148.0 452.9,128.5 453.0,143.7 453.1,134.7 453.3,146.0 453.4,133.5 453.5,144.8 453.6,134.3 453.8,146.5 453.9,136.6 454.0,148.3 454.1,136.1 454.3,148.9 454.4,135.6 454.5,151.0 454.6,134.1 454.8,146.0 454.9,132.7 455.0,146.8 455.1,133.5 455.3,145.0 455.4,133.6 455.5,145.4 455.6,133.3 455.8,147.7 455.9,135.5 456.0,145.4 456.1,133.5 456.3,150.1 456.4,134.5 456.5,147.4 456.6,135.1 456.8,146.5 456.9,134.8 457.0,146.9 457.1,138.6 457.3,146.9 457.4,134.3 457.5,146.4 457.6,138.3 457.8,149.9 457.9,135.9 458.0,146.9 458.1,135.0 458.3,148.9 458.4,135.5 458.5,150.2 458.6,137.0 458.8,148.7 458.9,136.8 459.0,146.8 459.1,138.6 459.3,150.0 459.4,134.1 459.5,146.7 459.6,138.1 459.8,147.0 459.9,135.7 460.0,149.4 460.1,138.0 460.3,147.4 460.4,138.5 460.5,148.7 460.6,138.6 460.8,152.4 460.9,134.8 461.0,151.4 461.1,136.0 461.3,147.5 461.4,137.8 461.5,151.7 461.6,138.9 461.8,147.0 461.9,137.6 462.0,147.2 462.1,137.3 462.3,147.1 462.4,136.1 462.5,147.3 462.6,137.1 462.8,130.9 462.9,135.0 463.0,146.7 463.1,138.2 463.3,150.6 463.4,135.0 463.5,147.2 463.6,138.9 463.8,148.1 463.9,139.4 464.0,147.1 464.1,139.8 464.3,146.5 464.4,138.9 464.5,147.4 464.6,138.6 464.8,151.8 464.9,140.4 465.0,150.9 465.1,138.0 465.3,153.1 465.4,136.5 465.5,148.6 465.6,137.9 465.8,148.4 465.9,139.5 466.0,149.1 466.1,138.2 466.3,151.8 466.4,137.1 466.5,147.7 466.6,138.9 466.8,153.9 466.9,139.1 467.0,148.4 467.1,136.8 467.3,151.3 467.4,137.1 467.5,150.1 467.6,135.6 467.8,147.7 467.9,137.9 468.0,149.2 468.1,135.8 468.3,149.0 468.4,136.0 468.5,150.3 468.6,135.4 468.8,149.0 468.9,137.9 469.0,147.6 469.1,139.1 469.3,146.5 469.4,136.8 469.5,146.5 469.6,138.3 469.8,146.3 469.9,136.4 470.0,146.8 470.1,136.0 470.3,147.0 470.4,138.5 470.5,146.7 470.6,136.6 470.8,149.0 470.9,139.8 471.0,150.0 471.1,136.6 471.3,149.1 471.4,138.6 471.5,150.0 471.6,139.7 471.8,153.6 471.9,137.2 472.0,148.8 472.2,133.1 472.3,154.8 472.4,139.1 472.5,150.6 472.7,136.0 472.8,150.9 472.9,136.9 473.0,151.4 473.2,133.0 473.3,151.1 473.4,139.5 473.5,147.8 473.7,137.6 473.8,147.5 473.9,139.5 474.0,149.4 474.2,138.7 474.3,148.5 474.4,139.7 474.5,149.3 474.7,138.1 474.8,150.7 474.9,140.6 475.0,149.7 475.2,137.7 475.3,148.1 475.4,138.6 475.5,149.0 475.7,133.6 475.8,148.1 475.9,138.7 476.0,150.7 476.2,136.8 476.3,150.3 476.4,137.2 476.5,150.7 476.7,138.1 476.8,152.3 476.9,137.6 477.0,148.7 477.2,135.3 477.3,148.0 477.4,135.4 477.5,148.2 477.7,134.4 477.8,149.7 477.9,138.6 478.0,148.7 478.2,138.6 478.3,149.8 478.4,138.8 478.5,147.7 478.7,139.9 478.8,150.3 478.9,138.2 479.0,148.9 479.2,138.7 479.3,147.7 479.4,140.0 479.5,148.8 479.7,140.2 479.8,147.9 479.9,139.9 480.0,150.2 480.2,140.9 480.3,151.2 480.4,139.7 480.5,149.0 480.7,139.1 480.8,153.8 480.9,137.4 481.0,150.7 481.2,139.3 481.3,151.9 481.4,137.6 481.5,148.1 481.7,133.6 481.8,149.0 481.9,139.0 482.0,150.5 482.2,133.1 482.3,148.4 482.4,139.5 482.5,148.0 482.7,135.9 482.8,148.8 482.9,137.9 483.0,152.3 483.2,137.6 483.3,151.9 483.4,133.3 483.5,148.4 483.7,134.4 483.8,147.5 483.9,136.1 484.0,147.1 484.2,139.9 484.3,148.8 484.4,139.4 484.5,148.2 484.7,138.2 484.8,147.4 484.9,139.6 485.0,147.1 485.2,137.3 485.3,146.7 485.4,136.5 485.5,149.6 485.7,137.9 485.8,150.5 485.9,140.0 486.0,148.5 486.2,141.0 486.3,151.6 486.4,136.4 486.5,149.6 486.7,140.5 486.8,149.4 486.9,139.7 487.0,150.0 487.2,137.4 487.3,148.9 487.4,136.0 487.5,147.8 487.7,140.0 487.8,150.6 487.9,138.3 488.0,150.1 488.2,139.1 488.3,152.2 488.4,137.7 488.5,150.5 488.7,137.7 488.8,147.6 488.9,139.3 489.0,151.2 489.2,140.5 489.3,148.2 489.4,140.1 489.5,149.1 489.7,138.2 489.8,148.9 489.9,140.7 490.0,151.4 490.2,139.3 490.3,147.6 490.4,137.6 490.5,147.4 490.7,136.4 490.8,148.4 490.9,137.6 491.0,149.5 491.2,137.7 491.3,149.7 491.4,139.0 491.5,150.3 491.7,141.0 491.8,150.2 491.9,141.3 492.0,150.0 492.2,140.8 492.3,149.8 492.4,141.6 492.5,150.7 492.7,140.3 492.8,148.9 492.9,141.1 493.0,150.6 493.2,139.2 493.3,148.2 493.4,136.3 493.5,148.1 493.7,137.1 493.8,151.5 493.9,135.3 494.0,149.8 494.2,137.8 494.3,149.6 494.4,138.3 494.5,147.4 494.7,136.7 494.8,148.0 494.9,139.6 495.0,149.9 495.2,139.3 495.3,151.3 495.4,140.5 495.5,152.6 495.7,137.3 495.8,150.2 495.9,134.4 496.0,149.7 496.2,139.8 496.3,150.8 496.4,138.5 496.5,153.6 496.7,137.8 496.8,148.1 496.9,139.5 497.0,149.0 497.2,139.0 497.3,147.7 497.4,139.1 497.5,148.8 497.7,138.2 497.8,149.3 497.9,135.8 498.0,149.3 498.2,138.0 498.3,152.7 498.4,136.4 498.5,149.8 498.7,139.2 498.8,150.4 498.9,139.7 499.0,149.0 499.2,136.0 499.3,152.2 499.4,139.8 499.5,149.9 499.7,136.3 499.8,149.2 499.9,137.9 500.0,153.2 500.2,134.9 500.3,149.4 500.4,136.0 500.5,149.6 500.7,139.6 500.8,151.3 500.9,137.9 501.0,150.6 501.2,139.2 501.3,148.6 501.4,140.2 501.5,154.0 501.7,139.0 501.8,149.2 501.9,138.0 502.0,152.0 502.2,138.8 502.3,148.4 502.4,134.8 502.5,151.5 502.7,138.7 502.8,150.5 502.9,138.5 503.0,148.3 503.2,138.8 503.3,150.0 503.4,139.5 503.5,149.8 503.7,138.4 503.8,147.9 503.9,134.6 504.0,147.6 504.2,132.0 504.3,148.0 504.4,136.2 504.5,147.6 504.7,136.9 504.8,147.3 504.9,131.7 505.0,151.1 505.2,137.2 505.3,148.4 505.4,134.6 505.5,149.4 505.7,135.6 505.8,149.5 505.9,136.4 506.0,152.1 506.2,138.0 506.3,148.9 506.4,139.2 506.5,149.3 506.7,138.1 506.8,149.4 506.9,138.3 507.0,151.3 507.2,137.5 507.3,148.0 507.4,138.8 507.5,148.1 507.7,138.2 507.8,149.2 507.9,140.9 508.0,149.4 508.2,140.3 508.3,149.9 508.4,139.1 508.5,149.1 508.7,137.7 508.8,147.8 508.9,137.4 509.0,151.5 509.2,138.9 509.3,149.4 509.4,138.7 509.5,149.5 509.7,137.6 509.8,148.6 509.9,136.3 510.0,149.5 510.2,136.9 510.3,152.0 510.4,136.2 510.5,147.7 510.7,123.9 510.8,150.5 510.9,133.8 511.0,148.4 511.2,134.5 511.3,147.8 511.4,131.4 511.5,147.1 511.7,135.9 511.8,146.2 511.9,132.5 512.0,152.8 512.2,135.6 512.3,149.0 512.4,133.1 512.5,148.5 512.7,130.5 512.8,146.6 512.9,133.0 513.0,148.9 513.2,133.5 513.3,152.1 513.4,134.1 513.5,150.3 513.7,132.7 513.8,151.9 513.9,135.3 514.0,147.3 514.2,132.5 514.3,150.0 514.4,128.9 514.5,144.1 514.7,132.4 514.8,143.8 514.9,130.3 515.0,145.3 515.2,135.2 515.3,143.8 515.4,134.1 515.5,145.2 515.7,130.4 515.8,145.9 515.9,132.5 516.0,143.3 516.2,135.0 516.3,145.2 516.4,131.1 516.5,122.9 516.7,135.2 516.8,143.2 516.9,132.7 517.0,141.9 517.2,131.9 517.3,142.6 517.4,132.9 517.5,140.3 517.7,131.1 517.8,140.1 517.9,130.8 518.0,144.9 518.2,131.8 518.3,139.7 518.4,131.4 518.5,138.6 518.7,131.1 518.8,141.1 518.9,129.5 519.0,140.5 519.2,131.8 519.3,142.9 519.4,133.6 519.5,141.9 519.7,133.3 519.8,144.8 519.9,136.1 520.1,145.5 520.2,132.8 520.3,147.3 520.4,137.4 520.6,147.3 520.7,137.2 520.8,145.3 520.9,136.5 521.1,145.1 521.2,137.3 521.3,145.4 521.4,138.3 521.6,145.3 521.7,136.2 521.8,145.2 521.9,138.4 522.1,146.6 522.2,137.6 522.3,147.0 522.4,137.3 522.6,147.7 522.7,137.0 522.8,145.2 522.9,138.3 523.1,144.7 523.2,136.1 523.3,146.8 523.4,137.0 523.6,146.2 523.7,137.5 523.8,145.0 523.9,138.2 524.1,144.0 524.2,138.0 524.3,144.9 524.4,137.3 524.6,145.1 524.7,136.8 524.8,146.8 524.9,135.0 525.1,145.7 525.2,134.7 525.3,146.7 525.4,135.5 525.6,144.7 525.7,136.3 525.8,147.5 525.9,137.3 526.1,146.9 526.2,137.5 526.3,145.3 526.4,136.3 526.6,145.5 526.7,134.4 526.8,146.5 526.9,136.8 527.1,152.5 527.2,136.0 527.3,148.3 527.4,138.0 527.6,147.9 527.7,135.6 527.8,147.1 527.9,138.9 528.1,149.0 528.2,138.3 528.3,147.1 528.4,137.8 528.6,147.9 528.7,132.9 528.8,152.0 528.9,138.7 529.1,147.9 529.2,136.1 529.3,147.2 529.4,138.1 529.6,148.5 529.7,135.9 529.8,147.1 529.9,139.1 530.1,149.1 530.2,137.5 530.3,149.6 530.4,137.0 530.6,146.6 530.7,137.6 530.8,146.2 530.9,136.7 531.1,147.7 531.2,138.7 531.3,148.6 531.4,137.6 531.6,145.6 531.7,138.3 531.8,148.0 531.9,137.6 532.1,146.7 532.2,136.3 532.3,149.4 532.4,137.3 532.6,147.9 532.7,138.7 532.8,146.6 532.9,138.6 533.1,146.3 533.2,137.2 533.3,148.4 533.4,138.7 533.6,146.0 533.7,138.9 533.8,146.3 533.9,135.9 534.1,147.8 534.2,139.0 534.3,145.8 534.4,137.8 534.6,146.1 534.7,139.1 534.8,145.9 534.9,136.5 535.1,146.0 535.2,137.0 535.3,148.7 535.4,134.6 535.6,150.4 535.7,134.5 535.8,148.9 535.9,138.1 536.1,148.4 536.2,135.0 536.3,148.4 536.4,138.1 536.6,148.9 536.7,135.7 536.8,148.4 536.9,138.0 537.1,146.1 537.2,136.8 537.3,145.8 537.4,136.6 537.6,148.0 537.7,133.8 537.8,148.3 537.9,135.6 538.1,149.7 538.2,138.8 538.3,146.5 538.4,137.9 538.6,149.9 538.7,139.5 538.8,150.2 538.9,137.7 539.1,150.5 539.2,136.9 539.3,148.9 539.4,133.1 539.6,149.3 539.7,137.5 539.8,151.1 539.9,137.9 540.1,150.6 540.2,138.6 540.3,149.1 540.4,135.5 540.6,149.3 540.7,137.1 540.8,151.3 540.9,138.7 541.1,150.2 541.2,139.0 541.3,148.8 541.4,139.3 541.6,146.8 541.7,136.6 541.8,148.2 541.9,138.7 542.1,152.3 542.2,136.0 542.3,150.5 542.4,139.6 542.6,149.8 542.7,138.2 542.8,148.5 542.9,137.9 543.1,147.6 543.2,138.8 543.3,146.6 543.4,140.2 543.6,148.6 543.7,137.0 543.8,146.8 543.9,140.3 544.1,148.5 544.2,138.4 544.3,152.4 544.4,136.4 544.6,147.3 544.7,136.5 544.8,149.6 544.9,140.2 545.1,150.2 545.2,140.9 545.3,150.4 545.4,139.7 545.6,149.4 545.7,140.1 545.8,147.5 545.9,140.1 546.1,149.2 546.2,139.4 546.3,149.3 546.4,139.5 546.6,150.8 546.7,139.9 546.8,149.5 546.9,136.1 547.1,149.4 547.2,139.4 547.3,148.7 547.4,140.8 547.6,151.2 547.7,141.3 547.8,148.6 547.9,140.9 548.1,149.7 548.2,138.9 548.3,148.1 548.4,139.0 548.6,150.1 548.7,139.1 548.8,149.1 548.9,139.6 549.1,153.6 549.2,139.1 549.3,148.5 549.4,140.2 549.6,147.9 549.7,140.0 549.8,148.8 549.9,137.5 550.1,151.6 550.2,139.0 550.3,151.3 550.4,139.6 550.6,152.2 550.7,139.0 550.8,150.1 550.9,138.5 551.1,150.4 551.2,138.6 551.3,148.3 551.4,136.5 551.6,148.7 551.7,139.4 551.8,149.8 551.9,137.2 552.1,151.8 552.2,136.0 552.3,150.1 552.4,136.3 552.6,149.0 552.7,138.7 552.8,150.6 552.9,140.4 553.1,148.1 553.2,138.7 553.3,150.1 553.4,136.6 553.6,152.3 553.7,138.0 553.8,150.4 553.9,135.2 554.1,149.7 554.2,135.8 554.3,148.8 554.4,139.0 554.6,148.3 554.7,134.1 554.8,151.2 554.9,137.7 555.1,151.0 555.2,138.8 555.3,150.5 555.4,135.6 555.6,149.9 555.7,133.5 555.8,147.3 555.9,134.7 556.1,148.3 556.2,137.9 556.3,154.1 556.4,137.7 556.6,147.4 556.7,134.8 556.8,148.2 556.9,130.8 557.1,147.7 557.2,137.4 557.3,147.5 557.4,132.9 557.6,149.7 557.7,137.7 557.8,146.6 557.9,133.8 558.1,147.2 558.2,132.1 558.3,146.8 558.4,136.6 558.6,149.6 558.7,137.8 558.8,148.8 558.9,133.7 559.1,146.9 559.2,137.5 559.3,146.0 559.4,131.2 559.6,145.9 559.7,132.9 559.8,149.0 559.9,136.3 560.1,146.1 560.2,134.0 560.3,148.4 560.4,136.5 560.6,144.3 560.7,134.5 560.8,146.2 560.9,135.7 561.1,146.0 561.2,132.4 561.3,143.7 561.4,134.8 561.6,145.3 561.7,136.8 561.8,146.3 561.9,135.1 562.1,145.9 562.2,133.8 562.3,145.7 562.4,136.1 562.6,143.1 562.7,136.3 562.8,143.9 562.9,135.5 563.1,143.1 563.2,135.2 563.3,145.9 563.4,135.0 563.6,143.5 563.7,133.8 563.8,144.2 563.9,135.1 564.1,143.2 564.2,133.7 564.3,142.6 564.4,135.1 564.6,141.6 564.7,134.4 564.8,142.6 564.9,134.1 565.1,141.2 565.2,132.3 565.3,144.9 565.4,130.3 565.6,143.5 565.7,132.5 565.8,142.9 565.9,135.4 566.1,144.4 566.2,135.3 566.3,144.7 566.4,124.9 566.6,144.5 566.7,134.7 566.8,144.5 566.9,134.2 567.1,144.2 567.2,134.5 567.3,145.4 567.4,134.3 567.6,146.4 567.7,134.0 567.8,146.1 567.9,136.4 568.1,146.7 568.2,135.5 568.3,143.7 568.5,136.2 568.6,143.6 568.7,136.2 568.8,144.8 569.0,134.7 569.1,144.8 569.2,137.7 569.3,144.4 569.5,137.9 569.6,143.9 569.7,137.6 569.8,144.0 570.0,134.3 570.1,147.8 570.2,137.5 570.3,145.3 570.5,134.6 570.6,144.7 570.7,136.3 570.8,147.6 571.0,138.5 571.1,145.9 571.2,135.8 571.3,146.2 571.5,137.9 571.6,147.1 571.7,138.6 571.8,146.6 572.0,135.3 572.1,145.8 572.2,137.1 572.3,145.8 572.5,138.8 572.6,147.5 572.7,136.1 572.8,148.3 573.0,138.4 573.1,147.8 573.2,138.2 573.3,146.7 573.5,137.6 573.6,145.8 573.7,137.1 573.8,145.7 574.0,136.8 574.1,144.9 574.2,135.3 574.3,144.4 574.5,137.5 574.6,145.0 574.7,135.3 574.8,143.8 575.0,135.2 575.1,148.8 575.2,133.6 575.3,144.7 575.5,134.9 575.6,144.1 575.7,133.1 575.8,143.7 576.0,134.5 576.1,145.7 576.2,134.5 576.3,145.2 576.5,136.5 576.6,145.7 576.7,133.9 576.8,145.7 577.0,136.9 577.1,147.9 577.2,136.5 577.3,146.5 577.5,135.6 577.6,144.7 577.7,135.5 577.8,146.0 578.0,134.4 578.1,147.3 578.2,136.6 578.3,145.8 578.5,136.9 578.6,145.2 578.7,135.4 578.8,145.8 579.0,134.6 579.1,146.2 579.2,133.2 579.3,146.8 579.5,134.2 579.6,145.1 579.7,129.7 579.8,143.1 580.0,135.1 580.1,142.6 580.2,135.4 580.3,145.8 580.5,133.3 580.6,143.4 580.7,131.8 580.8,141.0 581.0,133.6 581.1,141.2 581.2,132.2 581.3,140.8 581.5,131.5 581.6,143.6 581.7,132.5 581.8,140.9 582.0,130.7 582.1,144.1 582.2,132.7 582.3,139.7 582.5,132.9 582.6,141.0 582.7,133.3 582.8,142.9 583.0,132.2 583.1,144.7 583.2,131.2 583.3,140.1 583.5,133.2 583.6,140.1 583.7,132.0 583.8,140.5 584.0,129.2 584.1,142.8 584.2,129.1 584.3,139.4 584.5,124.1 584.6,144.4 584.7,127.2 584.8,141.9 585.0,129.8 585.1,141.0 585.2,127.6 585.3,138.6 585.5,127.6 585.6,141.9 585.7,126.0 585.8,141.5 586.0,127.9 586.1,140.0 586.2,126.6 586.3,139.9 586.5,129.5 586.6,141.0 586.7,124.6 586.8,139.5 587.0,129.0 587.1,142.5 587.2,130.5 587.3,141.6 587.5,127.4 587.6,139.6 587.7,130.0 587.8,140.5 588.0,129.8 588.1,138.7 588.2,127.8 588.3,138.0 588.5,128.9 588.6,138.7 588.7,128.1 588.8,140.0 589.0,129.6 589.1,139.3 589.2,129.6 589.3,138.3 589.5,130.2 589.6,138.2 589.7,128.4 589.8,140.3 590.0,120.9 590.1,140.5 590.2,128.6 590.3,138.3 590.5,130.8 590.6,139.2 590.7,129.6 590.8,140.2 591.0,130.6 591.1,142.1 591.2,131.7 591.3,141.5 591.5,132.5 591.6,142.1 591.7,132.2 591.8,141.5 592.0,131.5 592.1,142.9 592.2,133.0 592.3,142.3 592.5,135.1 592.6,143.7 592.7,135.8 592.8,146.7 593.0,136.1 593.1,145.5 593.2,136.6 593.3,147.7 593.5,133.7 593.6,147.2 593.7,137.6 593.8,148.0 594.0,138.8 594.1,147.0 594.2,138.8 594.3,146.8 594.5,137.5 594.6,148.5 594.7,139.0 594.8,148.8 595.0,136.8 595.1,150.2 595.2,138.7 595.3,146.5 595.5,137.4 595.6,149.4 595.7,137.5 595.8,147.6 596.0,132.8 596.1,152.0 596.2,137.6 596.3,151.5 596.5,138.0 596.6,146.4 596.7,137.2 596.8,146.0 597.0,134.2 597.1,150.1 597.2,134.4 597.3,149.1 597.5,137.1 597.6,147.3 597.7,135.8 597.8,143.6 598.0,132.8 598.1,147.4 598.2,135.4 598.3,144.8 598.5,135.6 598.6,145.1 598.7,133.7 598.8,144.2 599.0,135.2 599.1,143.6 599.2,132.4 599.3,145.2 599.5,134.0 599.6,145.3 599.7,134.3 599.8,145.6 600.0,134.2 600.1,145.8 600.2,133.5 600.3,145.0 600.5,132.3 600.6,141.9 600.7,133.5 600.8,142.6 601.0,132.5 601.1,145.4 601.2,130.8 601.3,145.2 601.5,131.5 601.6,141.8 601.7,132.6 601.8,142.0 602.0,130.2 602.1,146.1 602.2,132.2 602.3,142.4 602.5,127.5 602.6,145.7 602.7,130.4 602.8,148.3 603.0,132.1 603.1,146.0 603.2,129.5 603.3,148.6 603.5,132.7 603.6,141.6 603.7,131.9 603.8,144.9 604.0,131.3 604.1,145.4 604.2,131.5 604.3,141.3 604.5,131.7 604.6,144.5 604.7,133.3 604.8,142.8 605.0,130.9 605.1,141.9 605.2,127.4 605.3,147.0 605.5,129.7 605.6,147.9 605.7,132.0 605.8,143.9 606.0,132.1 606.1,143.1 606.2,128.0 606.3,145.3 606.5,132.5 606.6,144.6 606.7,130.8 606.8,141.6 607.0,132.6 607.1,145.2 607.2,130.8 607.3,142.5 607.5,132.0 607.6,141.0 607.7,132.3 607.8,119.9 608.0,132.5 608.1,144.0 608.2,132.3 608.3,141.3 608.5,129.7 608.6,142.0 608.7,129.6 608.8,144.1 609.0,131.0 609.1,142.7 609.2,132.5 609.3,141.1 609.5,133.1 609.6,141.4 609.7,133.7 609.8,145.6 610.0,132.6 610.1,143.3 610.2,131.4 610.3,141.9 610.5,133.2 610.6,141.5 610.7,130.0 610.8,141.1 611.0,133.8 611.1,143.9 611.2,130.9 611.3,142.9 611.5,134.0 611.6,144.7 611.7,132.1 611.8,144.3 612.0,133.2 612.1,143.9 612.2,134.3 612.3,143.3 612.5,134.1 612.6,142.4 612.7,134.8 612.8,143.0 613.0,135.5 613.1,143.0 613.2,134.5 613.3,142.9 613.5,132.8 613.6,141.8 613.7,132.1 613.8,141.9 614.0,133.1 614.1,140.9 614.2,134.8 614.3,142.1 614.5,133.6 614.6,145.1 614.7,134.6 614.8,144.4 615.0,134.0 615.1,142.9 615.2,132.9 615.3,142.0 615.5,134.2 615.6,143.9 615.7,135.5 615.8,142.1 616.0,130.6 616.1,143.8 616.2,135.1 616.3,144.1 616.5,134.1 616.6,145.8 616.7,134.3 616.9,143.4 617.0,133.9 617.1,143.8 617.2,134.9 617.4,146.1 617.5,130.6 617.6,143.0 617.7,133.9 617.9,144.0 618.0,134.1 618.1,143.9 618.2,134.0 618.4,148.2 618.5,135.3 618.6,144.8 618.7,134.4 618.9,147.6 619.0,133.1 619.1,146.1 619.2,131.6 619.4,144.1 619.5,136.4 619.6,145.1 619.7,135.0 619.9,146.2 620.0,134.0 620.1,149.3 620.2,131.9 620.4,149.0 620.5,133.7 620.6,144.0 620.7,132.1 620.9,144.7 621.0,135.3 621.1,146.4 621.2,133.9 621.4,144.3 621.5,134.9 621.6,145.6 621.7,136.3 621.9,147.3 622.0,137.1 622.1,149.0 622.2,130.7 622.4,145.9 622.5,133.3 622.6,146.1 622.7,133.7 622.9,152.0 623.0,136.3 623.1,147.3 623.2,136.2 623.4,146.3 623.5,137.2 623.6,146.1 623.7,136.2 623.9,145.9 624.0,135.6 624.1,146.2 624.2,135.6 624.4,147.0 624.5,133.9 624.6,147.9 624.7,136.1 624.9,145.5 625.0,137.4 625.1,147.6 625.2,137.0 625.4,144.4 625.5,135.5 625.6,146.0 625.7,134.5 625.9,144.4 626.0,137.1 626.1,144.6 626.2,136.1 626.4,145.1 626.5,133.4 626.6,144.2 626.7,136.8 626.9,143.5 627.0,136.3 627.1,144.5 627.2,136.0 627.4,146.5 627.5,133.9 627.6,144.9 627.7,131.7 627.9,145.2 628.0,133.5 628.1,143.2 628.2,130.7 628.4,145.6 628.5,133.0 628.6,145.8 628.7,134.0 628.9,141.7 629.0,131.0 629.1,142.5 629.2,132.7 629.4,146.1 629.5,132.8 629.6,142.4 629.7,126.9 629.9,143.2 630.0,130.9 630.1,146.1 630.2,128.7 630.4,143.5 630.5,133.7 630.6,145.4 630.7,131.4 630.9,145.5 631.0,131.2 631.1,143.0 631.2,134.6 631.4,144.7 631.5,132.1 631.6,143.3 631.7,130.5 631.9,146.1 632.0,128.8 632.1,143.6 632.2,131.7 632.4,143.2 632.5,131.2 632.6,145.6 632.7,132.2 632.9,146.1 633.0,133.1 633.1,144.2 633.2,126.8 633.4,143.7 633.5,132.8 633.6,144.6 633.7,132.0 633.9,146.9 634.0,134.4 634.1,144.7 634.2,135.0 634.4,145.0 634.5,133.7 634.6,144.2 634.7,134.8 634.9,144.9 635.0,131.3 635.1,145.5 635.2,132.9 635.4,144.2 635.5,134.6 635.6,146.5 635.7,134.6 635.9,144.8 636.0,134.1 636.1,145.1 636.2,134.7 636.4,143.5 636.5,129.0 636.6,145.0 636.7,129.1 636.9,150.4 637.0,134.4 637.1,146.8 637.2,128.5 637.4,150.2 637.5,135.1 637.6,144.4 637.7,129.6 637.9,144.8 638.0,133.1 638.1,146.9 638.2,133.4 638.4,145.3 638.5,135.7 638.6,145.6 638.7,135.3 638.9,145.1 639.0,133.7 639.1,146.0 639.2,134.4 639.4,146.1 639.5,136.1 639.6,144.2 639.7,133.6 639.9,143.3 640.0,135.4 640.1,146.0 640.2,136.0 640.4,145.0 640.5,136.1 640.6,146.3 640.7,135.4 640.9,144.2 641.0,135.3 641.1,146.3 641.2,134.7 641.4,145.9 641.5,135.3 641.6,145.7 641.7,133.8 641.9,147.6 642.0,134.0 642.1,145.8 642.2,133.5 642.4,147.8 642.5,135.5 642.6,146.3 642.7,134.8 642.9,150.4 643.0,137.1 643.1,148.7 643.2,137.5 643.4,146.4 643.5,138.3 643.6,150.3 643.7,138.4 643.9,146.9 644.0,137.0 644.1,146.4 644.2,136.8 644.4,147.0 644.5,136.5 644.6,151.7 644.7,136.7 644.9,146.7 645.0,137.7 645.1,148.9 645.2,138.1 645.4,150.6 645.5,135.6 645.6,150.3 645.7,136.3 645.9,149.2 646.0,135.3 646.1,148.4 646.2,137.2 646.4,150.0 646.5,136.0 646.6,146.9 646.7,137.1 646.9,147.8 647.0,138.3 647.1,146.9 647.2,137.9 647.4,146.6 647.5,137.5 647.6,147.0 647.7,134.9 647.9,147.5 648.0,134.7 648.1,148.9 648.2,136.5 648.4,148.4 648.5,137.1 648.6,146.1 648.7,134.4 648.9,146.2 649.0,137.0 649.1,146.4 649.2,137.2 649.4,145.4 649.5,134.7 649.6,145.4 649.7,136.7 649.9,146.5 650.0,137.3 650.1,147.4 650.2,136.6 650.4,146.5 650.5,132.6 650.6,145.5 650.7,135.0 650.9,145.9 651.0,137.8 651.1,144.8 651.2,136.8 651.4,148.1 651.5,134.4 651.6,145.4 651.7,134.4 651.9,148.7 652.0,136.8 652.1,145.8 652.2,137.3 652.4,146.5 652.5,136.6 652.6,148.2 652.7,137.2 652.9,145.5 653.0,138.3 653.1,144.3 653.2,135.7 653.4,146.5 653.5,136.0 653.6,145.0 653.7,136.5 653.9,144.6 654.0,133.8 654.1,145.8 654.2,137.2 654.4,148.1 654.5,132.8 654.6,144.7 654.7,136.2 654.9,146.5 655.0,135.0 655.1,145.7 655.2,134.3 655.4,145.0 655.5,136.8 655.6,147.7 655.7,136.7 655.9,147.1 656.0,137.6 656.1,145.5 656.2,137.0 656.4,148.0 656.5,137.4 656.6,149.2 656.7,136.7 656.9,147.5 657.0,136.7 657.1,147.1 657.2,137.7 657.4,148.7 657.5,137.1 657.6,147.2 657.7,137.4 657.9,148.4 658.0,133.8 658.1,150.3 658.2,135.3 658.4,148.5 658.5,137.6 658.6,147.8 658.7,131.4 658.9,147.4 659.0,134.4 659.1,148.1 659.2,137.7 659.4,152.0 659.5,137.3 659.6,150.5 659.7,138.1 659.9,146.2 660.0,137.8 660.1,146.2 660.2,135.1 660.4,146.3 660.5,139.1 660.6,147.1 660.7,135.8 660.9,146.6 661.0,136.5 661.1,146.8 661.2,137.6 661.4,147.2 661.5,135.0 661.6,149.0 661.7,138.0 661.9,149.6 662.0,135.1 662.1,148.6 662.2,138.3 662.4,148.1 662.5,135.3 662.6,148.6 662.7,134.2 662.9,149.8 663.0,134.1 663.1,147.1 663.2,135.0 663.4,148.6 663.5,137.8 663.6,149.8 663.7,138.3 663.9,149.2 664.0,138.9 664.1,148.1 664.2,139.6 664.4,148.5 664.5,138.8 664.6,146.8 664.8,139.2 664.9,147.6 665.0,136.6 665.1,148.7 665.3,139.6 665.4,149.0 665.5,139.6 665.6,148.6 665.8,140.5 665.9,147.8 666.0,139.6 666.1,147.7 666.3,140.8 666.4,148.5 666.5,138.4 666.6,148.5 666.8,139.7 666.9,152.0 667.0,139.3 667.1,152.6 667.3,139.1 667.4,149.3 667.5,139.9 667.6,153.7 667.8,141.6 667.9,149.7 668.0,141.1 668.1,149.2 668.3,139.3 668.4,149.3 668.5,136.9 668.6,150.0 668.8,140.2 668.9,147.1 669.0,139.3 669.1,148.5 669.3,138.5 669.4,147.9 669.5,138.1 669.6,146.9 669.8,137.7 669.9,146.3 670.0,138.0 670.1,147.4 670.3,136.3 670.4,150.4 670.5,138.1 670.6,148.4 670.8,136.4 670.9,145.4 671.0,138.2 671.1,147.1 671.3,136.4 671.4,146.5 671.5,133.5 671.6,147.2 671.8,138.5 671.9,147.8 672.0,135.0 672.1,147.8 672.3,137.6 672.4,146.5 672.5,138.0 672.6,147.3 672.8,134.3 672.9,148.1 673.0,139.2 673.1,148.5 673.3,139.5 673.4,148.2 673.5,139.0 673.6,146.9 673.8,137.1 673.9,145.8 674.0,138.0 674.1,146.2 674.3,135.6 674.4,146.5 674.5,135.0 674.6,147.1 674.8,135.1 674.9,143.3 675.0,133.8 675.1,148.0 675.3,135.5 675.4,145.0 675.5,134.7 675.6,146.1 675.8,135.3 675.9,145.0 676.0,135.2 676.1,147.6 676.3,129.4 676.4,145.3 676.5,130.7 676.6,144.9 676.8,135.7 676.9,148.3 677.0,135.2 677.1,147.1 677.3,132.3 677.4,146.8 677.5,129.3 677.6,144.1 677.8,135.2 677.9,144.5 678.0,135.3 678.1,145.8 678.3,136.2 678.4,145.6 678.5,136.6 678.6,147.3 678.8,137.8 678.9,147.0 679.0,134.6 679.1,149.7 679.3,135.9 679.4,151.2 679.5,136.7 679.6,147.0 679.8,135.5 679.9,147.5 680.0,133.2 680.1,147.3 680.3,137.3 680.4,149.8 680.5,134.7 680.6,151.7 680.8,136.2 680.9,145.7 681.0,136.2 681.1,149.5 681.3,130.0 681.4,147.2 681.5,136.5 681.6,147.3 681.8,136.6 681.9,150.2 682.0,134.5 682.1,146.9 682.3,133.5 682.4,146.9 682.5,135.7 682.6,148.0 682.8,134.7 682.9,150.5 683.0,137.9 683.1,147.9 683.3,133.7 683.4,147.6 683.5,135.9 683.6,149.6 683.8,138.1 683.9,147.0 684.0,134.5 684.1,147.6 684.3,133.8 684.4,146.6 684.5,136.8 684.6,147.6 684.8,135.5 684.9,148.8 685.0,133.3 685.1,150.0 685.3,137.0 685.4,148.0 685.5,138.2 685.6,148.2 685.8,136.8 685.9,152.7 686.0,139.5 686.1,148.1 686.3,138.1 686.4,148.2 686.5,139.7 686.6,148.0 686.8,138.4 686.9,148.1 687.0,138.5 687.1,150.0 687.3,137.7 687.4,147.7 687.5,138.7 687.6,145.9 687.8,138.3 687.9,146.4 688.0,138.4 688.1,145.1 688.3,136.5 688.4,145.1 688.5,136.8 688.6,145.7 688.8,137.7 688.9,145.1 689.0,137.3 689.1,149.0 689.3,137.0 689.4,146.3 689.5,137.7 689.6,145.7 689.8,136.4 689.9,145.7 690.0,136.6 690.1,149.4 690.3,138.6 690.4,146.6 690.5,137.5 690.6,146.3 690.8,137.8 690.9,148.9 691.0,135.5 691.1,149.0 691.3,139.2 691.4,149.9 691.5,139.2 691.6,148.8 691.8,138.6 691.9,147.7 692.0,136.3 692.1,146.5 692.3,138.7 692.4,147.0 692.5,136.7 692.6,149.6 692.8,136.8 692.9,148.1 693.0,138.5 693.1,147.2 693.3,138.0 693.4,148.8 693.5,137.4 693.6,148.5 693.8,135.5 693.9,146.5 694.0,137.1 694.1,146.1 694.3,139.1 694.4,151.4 694.5,135.4 694.6,148.0 694.8,138.4 694.9,146.4 695.0,137.9 695.1,147.8 695.3,136.6 695.4,146.2 695.5,136.5 695.6,146.4 695.8,134.2 695.9,149.1 696.0,139.1 696.1,148.9 696.3,137.3 696.4,149.3 696.5,133.4 696.6,148.4 696.8,137.6 696.9,152.7 697.0,138.7 697.1,147.4 697.3,137.3 697.4,147.8 697.5,139.1 697.6,151.3 697.8,139.9 697.9,147.7 698.0,138.6 698.1,147.3 698.3,140.0 698.4,149.8 698.5,140.5 698.6,149.1 698.8,139.3 698.9,146.7 699.0,139.7 699.1,147.6 699.3,141.0 699.4,148.7 699.5,138.7 699.6,148.7 699.8,136.7 699.9,148.4 700.0,140.2 700.1,148.7 700.3,140.8 700.4,149.0 700.5,140.2 700.6,148.5 700.8,138.7 700.9,152.7 701.0,141.3 701.1,149.6 701.3,141.8 701.4,149.2 701.5,141.0 701.6,150.1 701.8,141.7 701.9,149.6 702.0,139.7 702.1,149.7 702.3,137.8 702.4,150.0 702.5,140.5 702.6,149.7 702.8,140.1 702.9,151.3 703.0,140.2 703.1,149.7 703.3,140.1 703.4,148.9 703.5,139.2 703.6,151.5 703.8,139.8 703.9,149.8 704.0,141.0 704.1,149.0 704.3,139.8 704.4,149.4 704.5,140.5 704.6,149.3 704.8,139.1 704.9,147.6 705.0,140.3 705.1,149.1 705.3,137.3 705.4,148.7 705.5,139.5 705.6,147.8 705.8,139.8 705.9,150.6 706.0,139.5 706.1,151.9 706.3,139.4 706.4,148.9 706.5,138.9 706.6,149.1 706.8,140.7 706.9,149.0 707.0,139.9 707.1,151.5 707.3,139.9 707.4,150.8 707.5,139.1 707.6,150.3 707.8,136.6 707.9,146.9 708.0,138.3 708.1,148.7 708.3,138.0 708.4,150.6 708.5,137.0 708.6,148.1 708.8,137.1 708.9,146.6 709.0,134.8 709.1,148.3 709.3,138.8 709.4,146.1 709.5,138.1 709.6,148.2 709.8,139.6 709.9,149.0 710.0,141.5 710.1,149.4 710.3,139.5 710.4,150.7 710.5,141.5 710.6,151.5 710.8,141.1 710.9,150.0 711.0,139.5 711.1,150.2 711.3,141.3 711.4,150.8 711.5,142.7 711.6,152.1 711.8,140.6 711.9,149.8 712.0,139.3 712.1,147.9 712.3,141.2 712.4,148.4 712.5,137.2 712.6,150.7 712.8,140.1 712.9,148.7" fill="none" stroke="#000" stroke-width="0.8" stroke-linejoin="round" clip-path="url(#c12)"/>
<line x1="423.5" x2="712.9" y1="179.3" y2="179.3" stroke="#000" stroke-width="0.9" stroke-dasharray="4.17,4.17"/>
<polyline points="423.5,200.6 423.7,197.5 423.9,201.3 424.1,198.7 424.3,199.0 424.5,200.1 424.7,201.3 424.9,198.0 425.1,200.4 425.3,198.4 425.5,201.3 425.7,199.7 425.9,199.8 426.1,199.4 426.3,200.3 426.5,198.9 426.7,200.8 426.9,201.0 427.1,201.8 427.3,198.0 427.5,201.7 427.7,201.7 427.9,199.3 428.1,198.4 428.3,200.2 428.5,196.1 428.7,199.6 428.9,197.6 429.1,197.2 429.3,195.6 429.5,197.4 429.7,195.4 429.9,196.8 430.1,196.6 430.3,195.8 430.5,195.0 430.7,196.1 430.9,192.9 431.1,196.4 431.3,196.1 431.5,196.5 431.7,197.6 431.9,198.9 432.1,199.4 432.3,200.9 432.5,200.5 432.7,202.3 432.9,202.2 433.1,202.9 433.3,199.8 433.5,203.1 433.7,200.1 433.9,201.2 434.1,198.4 434.3,197.2 434.5,196.9 434.7,195.7 434.9,195.6 435.1,195.1 435.3,194.1 435.5,194.8 435.7,193.9 435.9,193.8 436.1,194.5 436.3,196.7 436.5,194.5 436.7,193.2 436.9,193.6 437.1,194.4 437.3,196.0 437.5,197.2 437.7,195.5 437.9,195.1 438.1,193.7 438.3,194.9 438.5,194.0 438.7,195.2 438.9,195.9 439.1,195.8 439.3,194.1 439.5,194.4 439.7,193.0 439.9,192.9 440.1,191.0 440.3,191.5 440.5,191.7 440.7,193.0 440.9,191.4 441.1,193.3 441.3,193.5 441.5,193.9 441.7,193.3 441.9,191.6 442.1,191.2 442.3,192.2 442.5,193.4 442.7,192.5 442.9,192.5 443.1,194.1 443.3,192.2 443.5,195.0 443.7,192.7 443.9,194.0 444.1,194.8 444.3,194.3 444.5,196.3 444.7,195.3 444.9,195.0 445.1,196.0 445.3,195.6 445.5,196.0 445.7,194.3 445.9,195.8 446.1,194.9 446.3,196.7 446.5,195.3 446.7,196.5 446.9,194.2 447.1,197.0 447.3,195.5 447.5,196.8 447.7,195.9 447.9,197.1 448.1,197.6 448.3,200.2 448.5,196.2 448.7,195.9 448.9,196.2 449.1,196.4 449.3,199.0 449.5,198.2 449.7,199.0 449.9,198.5 450.1,199.8 450.3,198.6 450.5,199.4 450.7,198.3 450.9,195.4 451.1,197.5 451.3,195.1 451.5,196.4 451.7,195.3 451.9,196.7 452.1,195.3 452.3,197.2 452.5,195.7 452.7,196.6 452.9,195.9 453.1,199.3 453.3,196.5 453.5,197.4 453.7,197.4 453.9,199.1 454.1,197.6 454.3,201.1 454.5,199.5 454.7,202.6 454.9,196.9 455.1,198.8 455.3,195.8 455.5,195.7 455.7,194.4 455.9,195.3 456.1,195.0 456.3,195.5 456.5,194.8 456.7,194.0 456.9,190.5 457.1,192.3 457.3,189.7 457.5,192.6 457.7,190.9 457.9,190.7 458.1,191.7 458.3,186.0 458.5,193.3 458.7,194.1 458.9,191.9 459.1,194.5 459.3,195.5 459.5,197.3 459.7,196.6 459.9,196.8 460.1,195.4 460.3,197.3 460.5,195.3 460.7,195.2 460.9,192.6 461.1,194.2 461.3,188.8 461.5,192.2 461.7,191.7 461.9,192.1 462.1,190.8 462.3,190.8 462.5,192.3 462.7,192.5 462.9,191.9 463.1,191.8 463.3,187.8 463.5,189.7 463.7,187.4 463.9,191.4 464.1,189.2 464.3,189.1 464.5,189.8 464.7,190.3 464.9,189.5 465.1,190.2 465.3,188.9 465.5,188.0 465.7,189.3 465.9,188.5 466.1,186.9 466.3,187.8 466.5,186.3 466.7,189.3 466.9,187.2 467.1,187.6 467.3,187.2 467.5,189.3 467.7,187.1 467.9,190.3 468.1,190.0 468.3,190.3 468.5,189.3 468.7,190.3 468.9,191.3 469.1,192.4 469.3,191.0 469.5,194.0 469.7,190.0 469.9,193.1 470.1,191.0 470.3,191.9 470.5,190.8 470.7,190.8 470.9,190.2 471.1,191.2 471.3,188.0 471.5,186.9 471.7,185.1 471.9,186.6 472.1,188.1 472.3,190.6 472.5,190.0 472.7,192.0 472.9,191.4 473.1,194.6 473.3,194.8 473.5,196.0 473.7,197.9 473.9,197.6 474.1,195.6 474.3,196.2 474.5,193.8 474.7,196.4 474.9,196.6 475.1,196.0 475.3,194.6 475.5,194.5 475.7,194.8 475.9,194.4 476.1,193.3 476.3,194.2 476.5,195.0 476.7,191.5 476.9,194.5 477.1,194.9 477.3,196.4 477.5,197.9 477.7,198.3 477.9,198.3 478.1,200.9 478.3,201.4 478.5,200.1 478.7,203.4 478.9,200.2 479.1,196.8 479.3,193.5 479.5,192.5 479.7,190.2 479.9,191.6 480.1,186.8 480.3,186.3 480.5,184.9 480.7,183.1 480.9,181.5 481.1,182.2 481.3,183.4 481.5,184.0 481.7,186.9 481.9,187.6 482.1,188.1 482.3,190.5 482.5,185.8 482.7,191.2 482.9,189.6 483.1,191.2 483.3,188.8 483.5,190.1 483.7,188.7 483.9,188.6 484.1,189.5 484.3,189.4 484.5,187.9 484.7,189.3 484.9,188.1 485.1,187.3 485.3,188.3 485.5,189.3 485.7,188.5 485.9,190.6 486.1,190.5 486.3,191.2 486.5,188.4 486.7,190.9 486.9,188.9 487.1,190.8 487.3,190.1 487.5,191.7 487.7,192.3 487.9,193.9 488.1,190.2 488.3,192.3 488.5,191.4 488.7,191.7 488.9,191.5 489.1,191.8 489.3,190.9 489.5,191.3 489.7,190.6 489.9,191.0 490.1,191.3 490.3,191.1 490.5,188.2 490.7,189.8 490.9,188.5 491.1,188.3 491.3,185.7 491.5,188.6 491.7,186.8 491.9,188.2 492.1,187.5 492.3,189.5 492.5,190.3 492.7,190.4 492.9,188.6 493.1,189.0 493.3,190.1 493.5,189.1 493.7,190.4 493.9,190.4 494.1,188.7 494.3,189.6 494.5,188.1 494.7,188.4 494.9,188.4 495.1,189.1 495.3,188.0 495.5,188.0 495.7,187.1 496.0,189.9 496.2,188.9 496.4,191.3 496.6,189.9 496.8,189.4 497.0,189.4 497.2,189.7 497.4,189.2 497.6,192.1 497.8,189.2 498.0,191.4 498.2,189.2 498.4,190.1 498.6,189.0 498.8,189.0 499.0,190.2 499.2,190.4 499.4,190.2 499.6,191.1 499.8,191.8 500.0,191.5 500.2,191.1 500.4,192.4 500.6,189.6 500.8,191.7 501.0,188.9 501.2,192.2 501.4,189.6 501.6,191.5 501.8,188.0 502.0,189.2 502.2,188.8 502.4,189.8 502.6,187.9 502.8,190.0 503.0,188.0 503.2,189.4 503.4,188.8 503.6,190.2 503.8,186.8 504.0,189.2 504.2,189.2 504.4,189.0 504.6,186.5 504.8,186.7 505.0,185.0 505.2,188.6 505.4,185.7 505.6,185.1 505.8,186.6 506.0,187.9 506.2,185.9 506.4,186.7 506.6,185.0 506.8,188.1 507.0,184.6 507.2,187.3 507.4,184.3 507.6,187.6 507.8,185.4 508.0,185.6 508.2,184.2 508.4,186.5 508.6,184.4 508.8,185.5 509.0,185.2 509.2,187.1 509.4,184.5 509.6,186.3 509.8,185.8 510.0,188.8 510.2,187.9 510.4,188.8 510.6,188.1 510.8,192.8 511.0,190.9 511.2,194.2 511.4,193.8 511.6,192.1 511.8,191.7 512.0,192.4 512.2,190.5 512.4,190.8 512.6,190.1 512.8,188.9 513.0,187.7 513.2,187.7 513.4,185.6 513.6,188.7 513.8,186.3 514.0,186.9 514.2,184.5 514.4,185.7 514.6,186.7 514.8,186.5 515.0,184.5 515.2,186.3 515.4,186.0 515.6,183.2 515.8,182.7 516.0,185.4 516.2,185.4 516.4,184.2 516.6,183.2 516.8,185.9 517.0,185.5 517.2,186.7 517.4,185.1 517.6,187.3 517.8,187.6 518.0,186.9 518.2,185.2 518.4,186.4 518.6,186.4 518.8,184.9 519.0,186.0 519.2,186.7 519.4,185.5 519.6,186.5 519.8,185.2 520.0,186.8 520.2,186.5 520.4,187.3 520.6,186.4 520.8,186.1 521.0,186.9 521.2,187.3 521.4,188.7 521.6,187.9 521.8,186.6 522.0,187.7 522.2,188.1 522.4,190.2 522.6,186.9 522.8,189.4 523.0,188.5 523.2,189.5 523.4,190.9 523.6,189.7 523.8,187.2 524.0,190.1 524.2,190.7 524.4,193.4 524.6,190.0 524.8,192.4 525.0,191.2 525.2,191.1 525.4,187.6 525.6,189.9 525.8,189.9 526.0,188.8 526.2,189.9 526.4,189.1 526.6,188.6 526.8,189.6 527.0,186.9 527.2,187.5 527.4,186.5 527.6,185.5 527.8,185.2 528.0,185.6 528.2,182.2 528.4,186.5 528.6,184.3 528.8,187.4 529.0,183.2 529.2,183.4 529.4,182.2 529.6,185.3 529.8,183.2 530.0,185.2 530.2,184.4 530.4,186.0 530.6,186.0 530.8,188.3 531.0,184.8 531.2,185.9 531.4,186.9 531.6,185.7 531.8,183.5 532.0,186.3 532.2,185.1 532.4,185.7 532.6,182.8 532.8,184.0 533.0,183.3 533.2,187.0 533.4,185.1 533.6,184.9 533.8,185.7 534.0,187.0 534.2,187.4 534.4,188.3 534.6,187.8 534.8,189.5 535.0,186.3 535.2,189.2 535.4,187.5 535.6,186.3 535.8,186.6 536.0,188.9 536.2,187.2 536.4,188.9 536.6,187.4 536.8,187.6 537.0,189.3 537.2,189.0 537.4,189.3 537.6,189.1 537.8,187.1 538.0,190.3 538.2,188.5 538.4,189.3 538.6,187.3 538.8,192.7 539.0,186.8 539.2,188.8 539.4,186.0 539.6,186.5 539.8,186.7 540.0,186.5 540.2,186.4 540.4,187.1 540.6,186.8 540.8,188.2 541.0,185.2 541.2,185.8 541.4,183.8 541.6,185.3 541.8,185.0 542.0,185.5 542.2,184.4 542.4,185.3 542.6,183.0 542.8,184.5 543.0,183.3 543.2,184.6 543.4,183.3 543.6,183.8 543.8,180.8 544.0,180.0 544.2,179.9 544.4,181.4 544.6,179.8 544.8,179.4 545.0,177.6 545.2,179.8 545.4,179.1 545.6,179.9 545.8,177.3 546.0,180.0 546.2,179.9 546.4,179.7 546.6,178.1 546.8,178.5 547.0,178.2 547.2,176.8 547.4,176.7 547.6,176.4 547.8,175.7 548.0,175.3 548.2,174.3 548.4,172.3 548.6,173.9 548.8,176.9 549.0,175.2 549.2,177.3 549.4,176.8 549.6,177.6 549.8,177.5 550.0,179.1 550.2,177.9 550.4,180.2 550.6,180.4 550.8,184.7 551.0,183.1 551.2,184.8 551.4,184.1 551.6,182.6 551.8,182.3 552.0,184.1 552.2,180.7 552.4,182.1 552.6,180.2 552.8,184.4 553.0,182.7 553.2,184.7 553.4,184.3 553.6,182.6 553.8,182.1 554.0,185.3 554.2,184.3 554.4,184.3 554.6,182.4 554.8,181.8 555.0,180.7 555.2,181.8 555.4,178.7 555.6,179.1 555.8,177.9 556.0,180.4 556.2,179.4 556.4,179.0 556.6,180.0 556.8,181.0 557.0,178.8 557.2,180.8 557.4,180.4 557.6,181.7 557.8,180.9 558.0,183.2 558.2,183.1 558.4,185.7 558.6,182.6 558.8,184.8 559.0,184.3 559.2,187.4 559.4,186.3 559.6,188.6 559.8,185.6 560.0,189.2 560.2,189.2 560.4,188.6 560.6,188.4 560.8,189.4 561.0,188.9 561.2,191.2 561.4,190.5 561.6,191.5 561.8,188.5 562.0,192.3 562.2,191.3 562.4,192.3 562.6,191.3 562.8,192.9 563.0,192.5 563.2,194.4 563.4,191.6 563.6,192.8 563.8,189.3 564.0,187.8 564.2,183.5 564.4,182.0 564.6,182.0 564.8,185.2 565.0,187.2 565.2,188.2 565.4,190.7 565.6,191.1 565.8,189.2 566.0,192.8 566.2,190.0 566.4,191.9 566.6,189.2 566.8,192.1 567.0,189.6 567.2,191.5 567.4,190.5 567.6,190.1 567.8,188.4 568.0,191.2 568.2,189.1 568.4,191.0 568.6,188.4 568.8,191.4 569.0,188.0 569.2,189.4 569.4,189.7 569.6,188.5 569.8,188.2 570.0,188.8 570.2,186.5 570.4,189.1 570.6,188.0 570.8,189.8 571.0,189.2 571.2,190.3 571.4,187.1 571.6,191.9 571.8,187.2 572.0,191.7 572.2,190.5 572.4,189.4 572.6,189.6 572.8,193.3 573.0,192.3 573.2,190.8 573.4,191.1 573.6,192.4 573.8,191.0 574.0,193.5 574.2,191.8 574.4,193.7 574.6,190.8 574.8,191.8 575.0,189.8 575.2,192.2 575.4,190.5 575.6,194.8 575.8,193.7 576.0,193.3 576.2,190.6 576.4,191.9 576.6,189.2 576.8,189.9 577.0,187.4 577.2,188.4 577.4,184.7 577.6,183.2 577.8,181.8 578.0,182.6 578.2,179.0 578.4,180.7 578.6,180.5 578.8,183.7 579.0,182.2 579.2,187.4 579.4,184.4 579.6,184.2 579.8,184.1 580.0,185.7 580.2,185.3 580.4,186.1 580.6,185.3 580.8,188.5 581.0,187.4 581.2,190.2 581.4,189.7 581.6,189.9 581.8,188.7 582.0,193.5 582.2,192.9 582.4,190.1 582.6,192.7 582.8,193.7 583.0,194.7 583.2,191.4 583.4,195.0 583.6,196.2 583.8,194.5 584.0,197.5 584.2,196.2 584.4,195.5 584.6,196.6 584.8,196.5 585.0,196.9 585.2,197.6 585.4,198.0 585.6,199.7 585.8,197.8 586.0,199.3 586.2,198.2 586.4,200.6 586.6,199.5 586.8,199.5 587.0,199.3 587.2,200.8 587.4,199.9 587.6,200.1 587.8,198.6 588.0,199.9 588.2,198.8 588.4,198.5 588.6,197.7 588.8,196.9 589.0,195.6 589.2,196.2 589.4,196.8 589.6,197.5 589.8,196.8 590.0,197.2 590.2,196.4 590.4,196.1 590.6,192.9 590.8,194.0 591.0,192.9 591.2,194.2 591.4,191.7 591.6,191.4 591.8,191.5 592.0,191.0 592.2,189.8 592.4,190.6 592.6,188.9 592.8,190.2 593.0,190.2 593.2,193.1 593.4,191.1 593.6,192.0 593.8,189.2 594.0,191.8 594.2,190.1 594.4,191.1 594.6,188.8 594.8,191.2 595.0,191.4 595.2,191.6 595.4,189.4 595.6,190.8 595.8,189.8 596.0,191.5 596.2,189.7 596.4,191.9 596.6,191.2 596.8,192.4 597.0,191.7 597.2,194.1 597.4,190.7 597.6,191.7 597.8,190.0 598.0,192.5 598.2,191.3 598.4,193.9 598.6,192.2 598.8,195.0 599.0,194.6 599.2,197.0 599.4,194.7 599.6,196.2 599.8,195.3 600.0,197.1 600.2,195.6 600.4,197.1 600.6,195.0 600.8,196.2 601.0,195.7 601.2,196.3 601.4,197.6 601.6,198.2 601.8,198.4 602.0,200.3 602.2,199.8 602.4,199.1 602.6,200.3 602.8,199.4 603.0,200.3 603.2,200.3 603.4,197.2 603.6,199.0 603.8,199.1 604.0,200.0 604.2,195.9 604.4,199.0 604.6,198.2 604.8,199.8 605.0,198.6 605.2,198.2 605.4,198.0 605.6,200.8 605.8,199.4 606.0,200.1 606.2,200.7 606.4,201.7 606.6,199.5 606.8,200.6 607.0,198.4 607.2,200.4 607.4,200.2 607.6,200.3 607.8,198.0 608.0,198.3 608.2,198.2 608.4,198.0 608.6,195.5 608.8,200.4 609.0,199.2 609.2,201.0 609.4,200.2 609.6,198.6 609.8,199.8 610.0,200.2 610.2,200.0 610.4,202.7 610.6,201.0 610.8,202.7 611.0,200.3 611.2,201.7 611.4,202.0 611.6,202.0 611.8,202.6 612.0,204.7 612.2,202.7 612.4,205.2 612.6,204.4 612.8,204.8 613.0,201.1 613.2,202.1 613.4,198.9 613.6,200.2 613.8,197.7 614.0,196.0 614.2,195.1 614.4,196.2 614.6,192.5 614.8,195.9 615.0,192.3 615.2,197.0 615.4,195.1 615.6,196.7 615.8,196.0 616.0,198.7 616.2,198.3 616.4,197.3 616.6,196.6 616.8,197.6 617.0,197.4 617.2,199.1 617.4,195.3 617.6,198.4 617.8,194.9 618.0,196.2 618.2,195.2 618.4,194.3 618.6,192.4 618.8,192.3 619.0,191.8 619.2,193.1 619.4,192.6 619.6,194.9 619.8,194.6 620.0,196.6 620.2,196.2 620.4,197.8 620.6,195.9 620.8,196.1 621.0,196.9 621.2,198.2 621.4,195.6 621.6,197.8 621.8,196.1 622.0,197.7 622.2,195.7 622.4,198.0 622.6,194.7 622.8,196.8 623.0,195.5 623.2,198.3 623.4,194.8 623.6,197.6 623.8,196.8 624.0,196.7 624.2,195.8 624.4,198.5 624.6,195.5 624.8,197.0 625.0,198.0 625.2,198.3 625.4,195.9 625.6,198.4 625.8,196.3 626.0,196.0 626.2,196.6 626.4,194.9 626.6,196.0 626.8,197.6 627.0,195.5 627.2,196.9 627.4,196.2 627.6,195.0 627.8,194.9 628.0,193.9 628.2,193.8 628.4,196.8 628.6,194.3 628.8,195.1 629.0,195.0 629.2,198.0 629.4,196.4 629.6,196.7 629.8,195.3 630.0,197.6 630.2,195.1 630.4,197.5 630.6,195.6 630.8,196.4 631.0,195.9 631.2,195.9 631.4,196.1 631.6,196.5 631.8,194.2 632.0,196.1 632.2,196.6 632.4,196.3 632.6,195.8 632.8,196.8 633.0,195.8 633.2,196.9 633.4,196.5 633.6,195.5 633.8,195.6 634.0,195.3 634.2,193.4 634.4,195.2 634.6,193.3 634.8,195.1 635.0,194.9 635.2,196.6 635.4,194.6 635.6,197.5 635.8,196.2 636.0,195.8 636.2,193.6 636.4,195.0 636.6,194.0 636.8,194.2 637.0,193.8 637.2,194.4 637.4,192.7 637.6,194.5 637.8,195.9 638.0,194.9 638.2,193.5 638.4,193.9 638.6,194.6 638.8,195.6 639.0,193.1 639.2,194.7 639.4,193.6 639.6,195.0 639.8,193.8 640.0,194.7 640.2,193.6 640.4,193.9 640.7,194.8 640.9,193.7 641.1,194.1 641.3,193.5 641.5,193.8 641.7,196.1 641.9,194.3 642.1,195.7 642.3,196.9 642.5,196.2 642.7,195.7 642.9,199.0 643.1,195.9 643.3,197.3 643.5,197.8 643.7,198.5 643.9,194.3 644.1,199.9 644.3,200.0 644.5,199.3 644.7,196.9 644.9,198.2 645.1,196.3 645.3,197.7 645.5,196.3 645.7,198.0 645.9,197.8 646.1,196.3 646.3,195.0 646.5,195.1 646.7,195.4 646.9,195.5 647.1,192.5 647.3,193.2 647.5,193.6 647.7,193.8 647.9,193.4 648.1,193.3 648.3,192.1 648.5,195.1 648.7,193.9 648.9,194.3 649.1,194.5 649.3,195.5 649.5,195.2 649.7,195.0 649.9,196.4 650.1,197.4 650.3,195.4 650.5,195.6 650.7,195.5 650.9,195.9 651.1,194.6 651.3,196.6 651.5,194.5 651.7,196.7 651.9,195.3 652.1,197.6 652.3,195.8 652.5,196.5 652.7,196.2 652.9,196.4 653.1,196.5 653.3,197.6 653.5,195.5 653.7,197.4 653.9,199.2 654.1,196.9 654.3,196.6 654.5,197.5 654.7,197.8 654.9,198.4 655.1,198.7 655.3,199.3 655.5,199.4 655.7,198.6 655.9,198.1 656.1,197.1 656.3,195.1 656.5,197.0 656.7,197.0 656.9,196.4 657.1,194.8 657.3,195.3 657.5,192.0 657.7,192.8 657.9,190.9 658.1,191.2 658.3,189.3 658.5,188.0 658.7,189.7 658.9,189.6 659.1,191.1 659.3,190.5 659.5,190.5 659.7,192.4 659.9,192.2 660.1,194.0 660.3,193.4 660.5,193.6 660.7,190.5 660.9,193.5 661.1,194.2 661.3,196.0 661.5,194.6 661.7,195.3 661.9,193.3 662.1,194.3 662.3,193.1 662.5,193.1 662.7,192.0 662.9,193.2 663.1,190.2 663.3,193.0 663.5,192.5 663.7,192.1 663.9,191.2 664.1,192.3 664.3,191.5 664.5,192.2 664.7,190.9 664.9,190.4 665.1,189.8 665.3,189.9 665.5,190.8 665.7,189.7 665.9,192.3 666.1,190.5 666.3,187.8 666.5,189.7 666.7,202.8 666.9,192.7 667.1,192.4 667.3,196.0 667.5,195.6 667.7,199.5 667.9,195.0 668.1,197.6 668.3,196.0 668.5,196.5 668.7,193.7 668.9,195.5 669.1,195.6 669.3,194.0 669.5,193.2 669.7,195.4 669.9,191.9 670.1,194.4 670.3,193.3 670.5,195.9 670.7,193.9 670.9,195.5 671.1,195.5 671.3,196.3 671.5,196.1 671.7,197.5 671.9,195.6 672.1,197.5 672.3,195.9 672.5,198.1 672.7,195.2 672.9,196.7 673.1,192.3 673.3,198.0 673.5,197.4 673.7,195.6 673.9,195.5 674.1,195.4 674.3,194.6 674.5,197.5 674.7,196.2 674.9,196.3 675.1,196.3 675.3,196.2 675.5,195.8 675.7,199.2 675.9,196.7 676.1,199.4 676.3,197.8 676.5,199.9 676.7,197.5 676.9,198.5 677.1,198.8 677.3,199.4 677.5,197.5 677.7,197.5 677.9,196.3 678.1,197.4 678.3,196.7 678.5,197.3 678.7,194.0 678.9,195.0 679.1,193.2 679.3,193.7 679.5,191.6 679.7,190.7 679.9,191.7 680.1,191.2 680.3,188.8 680.5,190.4 680.7,191.3 680.9,191.7 681.1,191.5 681.3,190.6 681.5,190.8 681.7,191.7 681.9,192.8 682.1,192.3 682.3,187.5 682.5,192.8 682.7,191.5 682.9,194.4 683.1,192.7 683.3,193.9 683.5,194.3 683.7,193.7 683.9,193.1 684.1,194.6 684.3,191.8 684.5,192.9 684.7,193.1 684.9,193.3 685.1,193.3 685.3,194.5 685.5,195.9 685.7,194.9 685.9,193.4 686.1,194.2 686.3,192.6 686.5,196.1 686.7,193.8 686.9,194.9 687.1,194.7 687.3,195.6 687.5,195.1 687.7,194.4 687.9,194.0 688.1,196.2 688.3,196.0 688.5,198.2 688.7,192.6 688.9,198.3 689.1,198.1 689.3,198.2 689.5,197.1 689.7,198.0 689.9,196.8 690.1,195.0 690.3,194.9 690.5,195.9 690.7,194.9 690.9,194.7 691.1,193.4 691.3,196.5 691.5,195.7 691.7,195.9 691.9,193.0 692.1,196.4 692.3,194.4 692.5,195.1 692.7,193.2 692.9,194.1 693.1,193.1 693.3,193.2 693.5,194.4 693.7,194.0 693.9,194.0 694.1,193.6 694.3,193.3 694.5,193.6 694.7,191.5 694.9,192.5 695.1,193.4 695.3,193.2 695.5,191.6 695.7,192.0 695.9,190.8 696.1,193.5 696.3,191.8 696.5,191.4 696.7,188.2 696.9,189.0 697.1,187.8 697.3,188.5 697.5,186.1 697.7,187.1 697.9,184.5 698.1,185.1 698.3,182.1 698.5,182.2 698.7,181.5 698.9,183.0 699.1,180.3 699.3,180.6 699.5,181.5 699.7,180.9 699.9,181.2 700.1,181.6 700.3,179.5 700.5,181.7 700.7,180.8 700.9,179.4 701.1,178.6 701.3,180.6 701.5,180.7 701.7,184.0 701.9,186.6 702.1,190.7 702.3,193.8 702.5,197.4 702.7,198.5 702.9,197.9 703.1,197.0 703.3,198.5 703.5,197.8 703.7,197.3 703.9,191.2 704.1,198.3 704.3,197.5 704.5,196.3 704.7,197.4 704.9,196.6 705.1,194.9 705.3,196.3 705.5,196.5 705.7,196.5 705.9,195.2 706.1,195.6 706.3,196.2 706.5,195.5 706.7,195.1 706.9,198.0 707.1,197.6 707.3,197.8 707.5,197.4 707.7,197.6 707.9,196.0 708.1,197.5 708.3,197.6 708.5,202.2 708.7,197.2 708.9,197.4 709.1,198.8 709.3,198.4 709.5,199.4 709.7,199.9 709.9,197.2 710.1,198.3 710.3,198.5 710.5,197.0 710.7,195.7 710.9,197.7 711.1,195.6 711.3,201.0 711.5,194.7 711.7,198.2 711.9,197.5 712.1,196.2 712.3,197.5 712.5,197.7 712.7,197.2 712.9,199.7" fill="none" stroke="#000" stroke-width="1.0" stroke-linejoin="round" clip-path="url(#c13)"/>
<polyline points="423.5,252.3 423.8,242.1 424.0,253.5 424.3,241.9 424.5,252.5 424.8,242.8 425.0,252.4 425.3,244.5 425.5,252.7 425.8,244.5 426.0,253.5 426.3,244.4 426.5,253.3 426.8,244.5 427.0,255.4 427.3,243.9 427.5,253.4 427.8,244.5 428.0,252.8 428.3,242.6 428.5,252.6 428.8,243.7 429.0,252.9 429.3,243.6 429.5,254.6 429.8,242.1 430.0,252.6 430.3,243.0 430.5,253.2 430.8,243.1 431.0,252.9 431.3,243.0 431.5,254.7 431.8,244.1 432.0,253.1 432.3,244.0 432.5,253.8 432.8,243.0 433.0,253.0 433.3,244.6 433.5,254.8 433.8,243.6 434.0,253.7 434.3,243.8 434.5,253.3 434.8,243.7 435.0,253.9 435.3,244.6 435.5,252.9 435.8,242.4 436.0,253.0 436.3,243.3 436.5,253.2 436.8,243.3 437.0,256.1 437.3,244.4 437.5,255.2 437.8,242.9 438.0,253.1 438.3,243.5 438.5,253.9 438.8,244.7 439.0,256.1 439.3,243.0 439.5,254.5 439.8,244.5 440.0,253.2 440.3,242.2 440.5,252.9 440.8,244.3 441.0,253.0 441.3,244.4 441.5,253.4 441.8,242.5 442.0,253.7 442.3,242.4 442.5,253.0 442.8,243.4 443.0,255.0 443.3,244.4 443.5,252.8 443.8,244.0 444.0,255.7 444.3,242.5 444.5,252.9 444.8,243.8 445.0,254.6 445.3,242.8 445.5,253.7 445.8,244.2 446.0,253.0 446.3,243.3 446.5,252.6 446.8,242.8 447.0,252.8 447.3,242.8 447.5,252.8 447.8,244.0 448.0,254.0 448.3,241.8 448.5,252.4 448.8,244.0 449.0,252.6 449.3,243.9 449.5,253.4 449.8,243.3 450.0,253.0 450.3,240.4 450.5,252.2 450.8,241.8 451.0,252.2 451.3,242.1 451.5,252.3 451.8,242.7 452.0,252.5 452.3,243.6 452.5,253.9 452.8,243.7 453.0,254.3 453.3,240.6 453.5,251.9 453.8,241.8 454.0,254.3 454.3,241.0 454.5,254.7 454.8,241.8 455.0,254.1 455.3,239.2 455.5,253.3 455.8,240.1 456.0,253.2 456.3,240.3 456.5,251.4 456.8,238.8 457.0,251.2 457.3,241.6 457.5,251.3 457.8,241.7 458.0,250.8 458.3,241.6 458.5,250.9 458.8,241.0 459.0,250.8 459.3,240.6 459.5,251.3 459.8,239.9 460.1,253.5 460.3,237.8 460.6,250.9 460.8,237.9 461.1,250.1 461.3,240.5 461.6,250.0 461.8,238.4 462.1,250.0 462.3,240.2 462.6,251.2 462.8,240.1 463.1,249.9 463.3,238.4 463.6,250.8 463.8,239.9 464.1,249.6 464.3,239.4 464.6,251.8 464.8,239.8 465.1,249.7 465.3,239.8 465.6,251.8 465.8,239.6 466.1,249.5 466.3,239.4 466.6,249.3 466.8,238.3 467.1,249.7 467.3,239.1 467.6,252.8 467.8,236.0 468.1,252.9 468.3,238.5 468.6,250.2 468.8,238.4 469.1,251.5 469.3,237.3 469.6,248.8 469.8,237.2 470.1,250.3 470.3,237.9 470.6,252.6 470.8,238.6 471.1,252.7 471.3,239.2 471.6,250.9 471.8,237.6 472.1,249.1 472.3,239.1 472.6,251.6 472.8,239.8 473.1,249.6 473.3,238.7 473.6,251.5 473.8,237.2 474.1,250.2 474.3,237.3 474.6,253.7 474.8,237.7 475.1,252.5 475.3,240.5 475.6,253.7 475.8,238.7 476.1,251.5 476.3,238.9 476.6,254.1 476.8,241.3 477.1,253.7 477.3,241.5 477.6,251.4 477.8,238.2 478.1,254.0 478.3,239.7 478.6,253.1 478.8,242.1 479.1,252.7 479.3,239.9 479.6,254.4 479.8,241.8 480.1,253.8 480.3,238.1 480.6,253.0 480.8,239.9 481.1,251.5 481.3,242.0 481.6,251.9 481.8,239.1 482.1,254.7 482.3,241.9 482.6,251.7 482.8,239.6 483.1,251.3 483.3,241.8 483.6,253.0 483.8,241.7 484.1,253.7 484.3,241.0 484.6,252.2 484.8,241.7 485.1,252.6 485.3,240.2 485.6,252.5 485.8,241.8 486.1,252.2 486.3,241.8 486.6,251.1 486.8,241.9 487.1,254.3 487.3,239.0 487.6,251.8 487.8,241.9 488.1,252.5 488.3,241.8 488.6,251.7 488.8,240.0 489.1,253.9 489.3,241.2 489.6,250.6 489.8,240.6 490.1,250.5 490.3,239.2 490.6,250.2 490.8,239.3 491.1,253.4 491.3,240.7 491.6,252.2 491.8,237.1 492.1,250.9 492.3,237.1 492.6,249.6 492.8,240.5 493.1,251.8 493.3,238.8 493.6,249.3 493.8,239.5 494.1,249.1 494.3,239.0 494.6,248.9 494.8,238.9 495.1,251.3 495.3,239.1 495.6,251.0 495.9,237.7 496.1,251.9 496.4,239.9 496.6,253.0 496.9,238.8 497.1,250.0 497.4,238.9 497.6,252.4 497.9,240.3 498.1,250.6 498.4,239.8 498.6,250.2 498.9,238.6 499.1,250.4 499.4,240.1 499.6,251.4 499.9,240.9 500.1,251.0 500.4,240.3 500.6,251.3 500.9,241.4 501.1,254.0 501.4,240.9 501.6,255.1 501.9,241.7 502.1,251.7 502.4,241.9 502.6,251.6 502.9,241.2 503.1,251.9 503.4,241.5 503.6,252.0 503.9,239.5 504.1,251.8 504.4,242.1 504.6,251.9 504.9,239.1 505.1,253.4 505.4,240.9 505.6,252.0 505.9,241.3 506.1,253.7 506.4,240.1 506.6,255.2 506.9,241.7 507.1,251.8 507.4,238.6 507.6,254.7 507.9,239.1 508.1,251.9 508.4,241.9 508.6,254.1 508.9,238.5 509.1,252.7 509.4,241.8 509.6,254.1 509.9,241.8 510.1,252.4 510.4,239.1 510.6,253.4 510.9,241.7 511.1,252.1 511.4,238.5 511.6,255.0 511.9,241.7 512.1,252.0 512.4,239.4 512.6,253.7 512.9,241.2 513.1,252.2 513.4,241.3 513.6,252.3 513.9,239.2 514.1,252.5 514.4,242.4 514.6,255.5 514.9,242.5 515.1,252.5 515.4,241.3 515.6,254.3 515.9,242.7 516.1,254.1 516.4,240.2 516.6,253.1 516.9,242.4 517.1,256.9 517.4,239.8 517.6,257.2 517.9,243.0 518.1,253.9 518.4,240.3 518.6,256.8 518.9,242.5 519.1,253.9 519.4,243.2 519.6,255.8 519.9,242.3 520.1,255.0 520.4,243.1 520.6,255.1 520.9,239.1 521.1,253.6 521.4,241.5 521.6,253.8 521.9,239.1 522.1,256.1 522.4,238.7 522.6,254.3 522.9,242.1 523.1,255.3 523.4,242.9 523.6,257.8 523.9,241.2 524.1,256.3 524.4,242.9 524.6,255.0 524.9,240.4 525.1,254.1 525.4,242.9 525.6,254.8 525.9,242.8 526.1,254.5 526.4,242.3 526.6,256.4 526.9,242.6 527.1,256.1 527.4,238.9 527.6,256.4 527.9,239.9 528.1,254.3 528.4,242.6 528.6,255.3 528.9,242.0 529.1,256.5 529.4,242.2 529.6,255.7 529.9,242.7 530.1,255.8 530.4,241.0 530.6,254.9 530.9,242.6 531.1,254.2 531.4,241.6 531.6,254.9 531.9,242.9 532.2,258.2 532.4,239.7 532.7,254.5 532.9,243.0 533.2,254.7 533.4,240.6 533.7,254.4 533.9,243.1 534.2,256.9 534.4,241.3 534.7,257.8 534.9,242.5 535.2,254.6 535.4,243.0 535.7,254.6 535.9,243.0 536.2,254.6 536.4,240.5 536.7,255.5 536.9,241.3 537.2,256.0 537.4,243.4 537.7,256.1 537.9,242.8 538.2,255.8 538.4,243.4 538.7,255.9 538.9,240.2 539.2,254.2 539.4,242.9 539.7,254.4 539.9,241.8 540.2,255.8 540.4,241.6 540.7,254.3 540.9,242.7 541.2,254.3 541.4,242.1 541.7,254.0 541.9,242.9 542.2,256.0 542.4,242.8 542.7,258.1 542.9,242.1 543.2,254.0 543.4,242.1 543.7,253.8 543.9,242.4 544.2,256.5 544.4,240.8 544.7,257.9 544.9,242.2 545.2,253.5 545.4,242.0 545.7,257.7 545.9,241.8 546.2,253.7 546.4,239.9 546.7,253.3 546.9,241.6 547.2,255.9 547.4,240.5 547.7,253.2 547.9,241.3 548.2,253.9 548.4,239.0 548.7,254.6 548.9,241.8 549.2,255.8 549.4,238.4 549.7,253.1 549.9,241.6 550.2,256.9 550.4,237.7 550.7,255.1 550.9,239.2 551.2,254.6 551.4,238.1 551.7,253.2 551.9,239.6 552.2,253.5 552.4,242.3 552.7,257.0 552.9,241.3 553.2,254.2 553.4,242.1 553.7,255.2 553.9,241.8 554.2,253.5 554.4,241.4 554.7,253.4 554.9,241.0 555.2,254.1 555.4,240.2 555.7,257.1 555.9,242.5 556.2,254.8 556.4,239.8 556.7,255.9 556.9,241.7 557.2,254.8 557.4,241.5 557.7,256.5 557.9,241.0 558.2,253.7 558.4,243.3 558.7,254.6 558.9,242.4 559.2,255.1 559.4,243.2 559.7,255.2 559.9,243.2 560.2,253.2 560.4,243.1 560.7,253.2 560.9,242.2 561.2,253.5 561.4,243.0 561.7,254.6 561.9,243.0 562.2,253.3 562.4,241.9 562.7,252.4 562.9,242.4 563.2,254.4 563.4,240.5 563.7,252.2 563.9,241.0 564.2,254.0 564.4,240.5 564.7,252.4 564.9,241.2 565.2,255.1 565.4,243.2 565.7,252.3 565.9,243.1 566.2,255.2 566.4,243.6 566.7,252.1 566.9,243.1 567.2,254.3 567.4,242.7 567.7,254.2 567.9,243.3 568.2,252.3 568.5,242.5 568.7,254.9 569.0,242.5 569.2,255.3 569.5,240.1 569.7,252.4 570.0,243.4 570.2,253.0 570.5,242.2 570.7,255.0 571.0,240.5 571.2,252.4 571.5,242.0 571.7,255.8 572.0,242.9 572.2,256.0 572.5,242.8 572.7,253.4 573.0,240.6 573.2,254.9 573.5,242.0 573.7,254.4 574.0,242.0 574.2,255.7 574.5,242.7 574.7,253.1 575.0,242.3 575.2,255.7 575.5,241.6 575.7,253.4 576.0,239.5 576.2,252.6 576.5,241.8 576.7,253.2 577.0,243.0 577.2,252.9 577.5,240.2 577.7,253.6 578.0,242.5 578.2,252.8 578.5,242.2 578.7,253.7 579.0,240.4 579.2,253.5 579.5,241.2 579.7,252.3 580.0,240.5 580.2,253.7 580.5,242.4 580.7,252.8 581.0,242.0 581.2,252.3 581.5,242.8 581.7,251.7 582.0,241.9 582.2,252.1 582.5,242.1 582.7,251.6 583.0,240.5 583.2,255.0 583.5,242.3 583.7,253.4 584.0,242.4 584.2,253.8 584.5,239.9 584.7,251.3 585.0,241.9 585.2,253.8 585.5,242.4 585.7,254.4 586.0,240.3 586.2,254.2 586.5,240.0 586.7,253.3 587.0,241.1 587.2,254.6 587.5,242.9 587.7,253.0 588.0,243.0 588.2,254.5 588.5,241.8 588.7,254.7 589.0,240.6 589.2,253.0 589.5,242.9 589.7,252.1 590.0,243.2 590.2,253.2 590.5,240.2 590.7,254.9 591.0,241.7 591.2,252.0 591.5,242.5 591.7,251.9 592.0,241.6 592.2,252.3 592.5,243.8 592.7,251.9 593.0,241.0 593.2,254.0 593.5,243.0 593.7,254.5 594.0,244.0 594.2,252.6 594.5,241.4 594.7,252.1 595.0,243.1 595.2,252.3 595.5,244.1 595.7,252.8 596.0,243.8 596.2,252.6 596.5,244.2 596.7,254.2 597.0,242.6 597.2,255.3 597.5,243.2 597.7,254.6 598.0,243.4 598.2,253.1 598.5,243.7 598.7,252.9 599.0,241.9 599.2,252.9 599.5,243.0 599.7,252.8 600.0,243.9 600.2,252.3 600.5,244.4 600.7,253.1 601.0,242.0 601.2,253.9 601.5,243.7 601.7,254.7 602.0,243.5 602.2,252.8 602.5,244.2 602.7,253.8 603.0,244.2 603.2,252.3 603.5,242.3 603.7,253.2 604.0,244.7 604.2,253.5 604.5,244.6 604.8,254.6 605.0,244.3 605.3,252.7 605.5,242.2 605.8,252.9 606.0,244.5 606.3,253.1 606.5,244.2 606.8,252.9 607.0,243.9 607.3,254.6 607.5,244.9 607.8,253.3 608.0,243.9 608.3,253.1 608.5,242.9 608.8,252.4 609.0,244.9 609.3,253.5 609.5,245.0 609.8,254.3 610.0,244.5 610.3,253.0 610.5,244.3 610.8,252.8 611.0,243.9 611.3,253.3 611.5,244.8 611.8,252.6 612.0,243.7 612.3,252.6 612.5,242.5 612.8,252.4 613.0,242.5 613.3,253.1 613.5,242.7 613.8,253.5 614.0,244.8 614.3,254.4 614.5,243.7 614.8,255.3 615.0,243.1 615.3,253.4 615.5,243.7 615.8,253.3 616.0,245.2 616.3,254.0 616.5,244.7 616.8,254.5 617.0,245.0 617.3,253.7 617.5,244.9 617.8,253.7 618.0,244.7 618.3,252.5 618.5,241.8 618.8,252.3 619.0,243.6 619.3,253.2 619.5,243.2 619.8,253.2 620.0,242.5 620.3,252.7 620.5,244.1 620.8,253.0 621.0,243.5 621.3,252.6 621.5,244.0 621.8,252.7 622.0,244.0 622.3,253.0 622.5,241.5 622.8,254.2 623.0,243.4 623.3,252.2 623.5,243.3 623.8,252.4 624.0,241.9 624.3,253.1 624.5,242.5 624.8,252.4 625.0,243.0 625.3,253.4 625.5,242.0 625.8,252.1 626.0,241.5 626.3,252.3 626.5,243.4 626.8,252.0 627.0,241.4 627.3,253.1 627.5,243.0 627.8,252.4 628.0,242.1 628.3,253.1 628.5,239.9 628.8,251.9 629.0,242.8 629.3,252.5 629.5,242.2 629.8,253.2 630.0,242.9 630.3,252.2 630.5,239.6 630.8,252.0 631.0,240.8 631.3,254.2 631.5,242.2 631.8,254.1 632.0,242.8 632.3,253.5 632.5,240.2 632.8,253.8 633.0,240.7 633.3,252.1 633.5,241.6 633.8,251.9 634.0,239.8 634.3,252.1 634.5,241.8 634.8,251.9 635.0,239.2 635.3,253.2 635.5,240.8 635.8,253.5 636.0,242.8 636.3,254.9 636.5,242.7 636.8,252.3 637.0,242.9 637.3,251.8 637.5,241.1 637.8,251.9 638.0,242.7 638.3,254.2 638.5,242.8 638.8,252.2 639.0,241.3 639.3,252.8 639.5,242.9 639.8,252.4 640.0,240.2 640.3,254.4 640.5,242.9 640.8,253.7 641.1,242.4 641.3,255.6 641.6,242.4 641.8,252.8 642.1,241.2 642.3,253.7 642.6,240.8 642.8,251.9 643.1,242.0 643.3,253.4 643.6,242.3 643.8,255.4 644.1,242.6 644.3,253.9 644.6,242.8 644.8,254.1 645.1,242.7 645.3,251.9 645.6,240.6 645.8,252.2 646.1,242.8 646.3,255.4 646.6,240.2 646.8,254.9 647.1,242.3 647.3,252.7 647.6,241.4 647.8,255.1 648.1,241.1 648.3,252.1 648.6,242.1 648.8,252.5 649.1,240.0 649.3,255.0 649.6,242.1 649.8,252.4 650.1,241.0 650.3,251.6 650.6,239.5 650.8,251.5 651.1,242.5 651.3,252.9 651.6,241.4 651.8,254.8 652.1,241.4 652.3,252.7 652.6,241.6 652.8,251.7 653.1,241.6 653.3,251.6 653.6,240.1 653.8,251.7 654.1,239.4 654.3,252.0 654.6,242.3 654.8,252.0 655.1,242.3 655.3,251.6 655.6,242.3 655.8,251.5 656.1,241.8 656.3,252.1 656.6,238.7 656.8,252.9 657.1,240.4 657.3,252.2 657.6,240.7 657.8,253.2 658.1,242.0 658.3,251.7 658.6,239.6 658.8,252.0 659.1,242.0 659.3,254.4 659.6,242.0 659.8,251.4 660.1,240.1 660.3,251.8 660.6,240.4 660.8,252.3 661.1,240.7 661.3,252.9 661.6,241.2 661.8,252.0 662.1,239.7 662.3,251.0 662.6,241.8 662.8,251.9 663.1,239.5 663.3,251.4 663.6,239.2 663.8,250.9 664.1,241.0 664.3,253.1 664.6,240.3 664.8,252.6 665.1,240.1 665.3,251.9 665.6,241.6 665.8,254.5 666.1,241.1 666.3,251.9 666.6,239.7 666.8,252.5 667.1,238.3 667.3,251.0 667.6,240.5 667.8,253.3 668.1,241.6 668.3,254.3 668.6,238.9 668.8,251.3 669.1,241.4 669.3,250.8 669.6,241.5 669.8,250.8 670.1,240.9 670.3,253.0 670.6,241.4 670.8,250.8 671.1,240.7 671.3,251.0 671.6,240.4 671.8,251.6 672.1,238.5 672.3,250.7 672.6,240.4 672.8,251.8 673.1,241.0 673.3,251.9 673.6,238.8 673.8,251.1 674.1,239.8 674.3,252.2 674.6,237.9 674.8,251.1 675.1,237.4 675.3,251.5 675.6,237.7 675.8,251.8 676.1,240.9 676.3,251.5 676.6,241.1 676.9,253.8 677.1,241.1 677.4,253.3 677.6,240.7 677.9,252.1 678.1,239.7 678.4,250.8 678.6,237.9 678.9,250.9 679.1,241.3 679.4,253.8 679.6,239.7 679.9,250.9 680.1,241.5 680.4,252.3 680.6,240.9 680.9,251.2 681.1,241.4 681.4,253.1 681.6,239.3 681.9,254.4 682.1,240.5 682.4,252.4 682.6,240.9 682.9,253.5 683.1,240.7 683.4,252.7 683.6,240.8 683.9,251.4 684.1,239.7 684.4,254.2 684.6,239.5 684.9,255.1 685.1,240.3 685.4,253.3 685.6,242.1 685.9,254.4 686.1,240.6 686.4,253.1 686.6,242.5 686.9,252.4 687.1,242.4 687.4,253.0 687.6,240.2 687.9,252.3 688.1,242.6 688.4,253.0 688.6,239.1 688.9,252.3 689.1,240.3 689.4,252.3 689.6,242.0 689.9,255.4 690.1,242.2 690.4,252.0 690.6,242.5 690.9,255.3 691.1,242.7 691.4,252.9 691.6,240.8 691.9,255.9 692.1,239.6 692.4,253.5 692.6,241.5 692.9,253.3 693.1,242.4 693.4,253.1 693.6,239.4 693.9,253.8 694.1,239.3 694.4,253.4 694.6,238.7 694.9,252.9 695.1,242.6 695.4,253.5 695.6,239.0 695.9,254.4 696.1,241.3 696.4,253.3 696.6,239.2 696.9,253.5 697.1,238.9 697.4,254.5 697.6,240.4 697.9,255.1 698.1,242.2 698.4,253.4 698.6,240.2 698.9,254.6 699.1,242.0 699.4,253.1 699.6,241.9 699.9,254.2 700.1,239.2 700.4,256.9 700.6,242.7 700.9,253.0 701.1,242.3 701.4,254.7 701.6,241.4 701.9,254.8 702.1,242.4 702.4,252.6 702.6,240.7 702.9,252.7 703.1,239.6 703.4,253.2 703.6,242.8 703.9,252.5 704.1,242.7 704.4,252.6 704.6,242.6 704.9,255.0 705.1,239.4 705.4,253.5 705.6,240.4 705.9,254.7 706.1,240.0 706.4,254.6 706.6,242.1 706.9,254.9 707.1,241.2 707.4,254.0 707.6,241.4 707.9,253.2 708.1,242.0 708.4,251.9 708.6,242.7 708.9,252.1 709.1,241.3 709.4,252.3 709.6,242.3 709.9,254.6 710.1,242.3 710.4,251.6 710.6,240.3 710.9,251.7 711.1,241.3 711.4,254.0 711.6,242.5 711.9,254.4 712.1,243.2 712.4,252.2 712.6,243.4 712.9,251.4" fill="none" stroke="#000" stroke-width="0.9" stroke-linejoin="round" clip-path="url(#c14)"/>
<polyline points="433.1,303.3 443.4,309.4 453.5,297.8 463.6,284.4 484.5,309.4" fill="none" stroke="#000" stroke-width="0.8" stroke-linejoin="round" clip-path="url(#c15)"/>
<polyline points="524.9,311.9 535.2,298.8 545.6,303.3" fill="none" stroke="#000" stroke-width="0.8" stroke-linejoin="round" clip-path="url(#c15)"/>
<polyline points="565.8,308.1 576.1,311.4 586.2,306.4 596.6,309.4 606.9,307.1" fill="none" stroke="#000" stroke-width="0.8" stroke-linejoin="round" clip-path="url(#c15)"/>
<polyline points="647.5,298.0 657.9,299.6 668.0,285.7 678.3,305.9 688.7,293.0 698.8,297.3 709.1,296.8" fill="none" stroke="#000" stroke-width="0.8" stroke-linejoin="round" clip-path="url(#c15)"/>
<g font-family="'DejaVu Sans', 'Liberation Sans', sans-serif" font-size="8.33" fill="#000" stroke="#000" stroke-width="0.25">
<rect x="40.0" y="4.2" width="289.2" height="47.5" fill="none" stroke="#222" stroke-width="1.15"/>
<path d="M41.6 4.2v2.6 M41.6 51.6v-2.6 M78.8 4.2v2.6 M78.8 51.6v-2.6 M115.9 4.2v2.6 M115.9 51.6v-2.6 M153.0 4.2v2.6 M153.0 51.6v-2.6 M190.2 4.2v2.6 M190.2 51.6v-2.6 M227.3 4.2v2.6 M227.3 51.6v-2.6 M264.5 4.2v2.6 M264.5 51.6v-2.6 M301.7 4.2v2.6 M301.7 51.6v-2.6 M40.0 4.2h2.6 M329.2 4.2h-2.6 M40.0 16.0h2.6 M329.2 16.0h-2.6 M40.0 27.9h2.6 M329.2 27.9h-2.6 M40.0 39.8h2.6 M329.2 39.8h-2.6 M40.0 51.6h2.6 M329.2 51.6h-2.6" stroke="#333" stroke-width="0.6" fill="none"/>
<text transform="translate(37.1,6.40) scale(1,0.9)" text-anchor="end">8.5</text>
<text transform="translate(37.1,18.27) scale(1,0.9)" text-anchor="end">8.0</text>
<text transform="translate(37.1,30.15) scale(1,0.9)" text-anchor="end">7.5</text>
<text transform="translate(37.1,42.02) scale(1,0.9)" text-anchor="end">7.0</text>
<text transform="translate(37.1,53.90) scale(1,0.9)" text-anchor="end">6.5</text>
<rect x="40.0" y="57.9" width="289.2" height="47.5" fill="none" stroke="#222" stroke-width="1.15"/>
<path d="M41.6 57.9v2.6 M41.6 105.3v-2.6 M78.8 57.9v2.6 M78.8 105.3v-2.6 M115.9 57.9v2.6 M115.9 105.3v-2.6 M153.0 57.9v2.6 M153.0 105.3v-2.6 M190.2 57.9v2.6 M190.2 105.3v-2.6 M227.3 57.9v2.6 M227.3 105.3v-2.6 M264.5 57.9v2.6 M264.5 105.3v-2.6 M301.7 57.9v2.6 M301.7 105.3v-2.6 M40.0 68.4h2.6 M329.2 68.4h-2.6 M40.0 81.6h2.6 M329.2 81.6h-2.6 M40.0 94.8h2.6 M329.2 94.8h-2.6" stroke="#333" stroke-width="0.6" fill="none"/>
<text transform="translate(37.1,70.66) scale(1,0.9)" text-anchor="end">5</text>
<text transform="translate(37.1,83.85) scale(1,0.9)" text-anchor="end">0</text>
<text transform="translate(37.1,97.04) scale(1,0.9)" text-anchor="end">−5</text>
<rect x="40.0" y="111.5" width="289.2" height="47.5" fill="none" stroke="#222" stroke-width="1.15"/>
<path d="M41.6 111.5v2.6 M41.6 159.1v-2.6 M78.8 111.5v2.6 M78.8 159.1v-2.6 M115.9 111.5v2.6 M115.9 159.1v-2.6 M153.0 111.5v2.6 M153.0 159.1v-2.6 M190.2 111.5v2.6 M190.2 159.1v-2.6 M227.3 111.5v2.6 M227.3 159.1v-2.6 M264.5 111.5v2.6 M264.5 159.1v-2.6 M301.7 111.5v2.6 M301.7 159.1v-2.6 M40.0 111.5h2.6 M329.2 111.5h-2.6 M40.0 121.0h2.6 M329.2 121.0h-2.6 M40.0 130.6h2.6 M329.2 130.6h-2.6 M40.0 140.1h2.6 M329.2 140.1h-2.6 M40.0 149.6h2.6 M329.2 149.6h-2.6 M40.0 159.1h2.6 M329.2 159.1h-2.6" stroke="#333" stroke-width="0.6" fill="none"/>
<text transform="translate(37.1,113.80) scale(1,0.9)" text-anchor="end">−310</text>
<text transform="translate(37.1,123.30) scale(1,0.9)" text-anchor="end">−320</text>
<text transform="translate(37.1,132.80) scale(1,0.9)" text-anchor="end">−330</text>
<text transform="translate(37.1,142.30) scale(1,0.9)" text-anchor="end">−340</text>
<text transform="translate(37.1,151.80) scale(1,0.9)" text-anchor="end">−350</text>
<text transform="translate(37.1,161.30) scale(1,0.9)" text-anchor="end">−360</text>
<rect x="40.0" y="165.2" width="289.2" height="47.5" fill="none" stroke="#222" stroke-width="1.15"/>
<path d="M41.6 165.2v2.6 M41.6 212.7v-2.6 M78.8 165.2v2.6 M78.8 212.7v-2.6 M115.9 165.2v2.6 M115.9 212.7v-2.6 M153.0 165.2v2.6 M153.0 212.7v-2.6 M190.2 165.2v2.6 M190.2 212.7v-2.6 M227.3 165.2v2.6 M227.3 212.7v-2.6 M264.5 165.2v2.6 M264.5 212.7v-2.6 M301.7 165.2v2.6 M301.7 212.7v-2.6 M40.0 165.2h2.6 M329.2 165.2h-2.6 M40.0 174.7h2.6 M329.2 174.7h-2.6 M40.0 184.2h2.6 M329.2 184.2h-2.6 M40.0 193.7h2.6 M329.2 193.7h-2.6 M40.0 203.2h2.6 M329.2 203.2h-2.6 M40.0 212.7h2.6 M329.2 212.7h-2.6" stroke="#333" stroke-width="0.6" fill="none"/>
<text transform="translate(37.1,167.45) scale(1,0.9)" text-anchor="end">110</text>
<text transform="translate(37.1,176.95) scale(1,0.9)" text-anchor="end">100</text>
<text transform="translate(37.1,186.45) scale(1,0.9)" text-anchor="end">90</text>
<text transform="translate(37.1,195.95) scale(1,0.9)" text-anchor="end">80</text>
<text transform="translate(37.1,205.45) scale(1,0.9)" text-anchor="end">70</text>
<text transform="translate(37.1,214.95) scale(1,0.9)" text-anchor="end">60</text>
<rect x="40.0" y="218.9" width="289.2" height="47.5" fill="none" stroke="#222" stroke-width="1.15"/>
<path d="M41.6 218.9v2.6 M41.6 266.4v-2.6 M78.8 218.9v2.6 M78.8 266.4v-2.6 M115.9 218.9v2.6 M115.9 266.4v-2.6 M153.0 218.9v2.6 M153.0 266.4v-2.6 M190.2 218.9v2.6 M190.2 266.4v-2.6 M227.3 218.9v2.6 M227.3 266.4v-2.6 M264.5 218.9v2.6 M264.5 266.4v-2.6 M301.7 218.9v2.6 M301.7 266.4v-2.6 M40.0 218.9h2.6 M329.2 218.9h-2.6 M40.0 231.4h2.6 M329.2 231.4h-2.6 M40.0 243.9h2.6 M329.2 243.9h-2.6 M40.0 256.4h2.6 M329.2 256.4h-2.6" stroke="#333" stroke-width="0.6" fill="none"/>
<text transform="translate(37.1,221.15) scale(1,0.9)" text-anchor="end">20</text>
<text transform="translate(37.1,233.65) scale(1,0.9)" text-anchor="end">15</text>
<text transform="translate(37.1,246.15) scale(1,0.9)" text-anchor="end">10</text>
<text transform="translate(37.1,258.65) scale(1,0.9)" text-anchor="end">5</text>
<rect x="40.0" y="272.7" width="289.2" height="47.5" fill="none" stroke="#222" stroke-width="1.15"/>
<path d="M41.6 272.7v2.6 M41.6 320.2v-2.6 M78.8 272.7v2.6 M78.8 320.2v-2.6 M115.9 272.7v2.6 M115.9 320.2v-2.6 M153.0 272.7v2.6 M153.0 320.2v-2.6 M190.2 272.7v2.6 M190.2 320.2v-2.6 M227.3 272.7v2.6 M227.3 320.2v-2.6 M264.5 272.7v2.6 M264.5 320.2v-2.6 M301.7 272.7v2.6 M301.7 320.2v-2.6 M40.0 275.4h2.6 M329.2 275.4h-2.6 M40.0 282.9h2.6 M329.2 282.9h-2.6 M40.0 290.3h2.6 M329.2 290.3h-2.6 M40.0 297.8h2.6 M329.2 297.8h-2.6 M40.0 305.3h2.6 M329.2 305.3h-2.6 M40.0 312.7h2.6 M329.2 312.7h-2.6 M40.0 320.2h2.6 M329.2 320.2h-2.6" stroke="#333" stroke-width="0.6" fill="none"/>
<text transform="translate(37.1,277.65) scale(1,0.9)" text-anchor="end">0.40</text>
<text transform="translate(37.1,285.12) scale(1,0.9)" text-anchor="end">0.35</text>
<text transform="translate(37.1,292.58) scale(1,0.9)" text-anchor="end">0.30</text>
<text transform="translate(37.1,300.05) scale(1,0.9)" text-anchor="end">0.25</text>
<text transform="translate(37.1,307.52) scale(1,0.9)" text-anchor="end">0.20</text>
<text transform="translate(37.1,314.98) scale(1,0.9)" text-anchor="end">0.15</text>
<text transform="translate(37.1,322.45) scale(1,0.9)" text-anchor="end">0.10</text>
<text transform="translate(41.6,329.60) scale(1,0.94)" text-anchor="middle">21:10</text>
<text transform="translate(78.8,329.60) scale(1,0.94)" text-anchor="middle">21:15</text>
<text transform="translate(115.9,329.60) scale(1,0.94)" text-anchor="middle">21:20</text>
<text transform="translate(153.0,329.60) scale(1,0.94)" text-anchor="middle">21:25</text>
<text transform="translate(190.2,329.60) scale(1,0.94)" text-anchor="middle">21:30</text>
<text transform="translate(227.3,329.60) scale(1,0.94)" text-anchor="middle">21:35</text>
<text transform="translate(264.5,329.60) scale(1,0.94)" text-anchor="middle">21:40</text>
<text transform="translate(301.7,329.60) scale(1,0.94)" text-anchor="middle">21:45</text>
<rect x="423.5" y="4.2" width="289.4" height="47.5" fill="none" stroke="#222" stroke-width="1.15"/>
<path d="M474.1 4.2v2.6 M474.1 51.6v-2.6 M525.1 4.2v2.6 M525.1 51.6v-2.6 M576.0 4.2v2.6 M576.0 51.6v-2.6 M627.0 4.2v2.6 M627.0 51.6v-2.6 M677.9 4.2v2.6 M677.9 51.6v-2.6 M423.5 4.2h2.6 M712.9 4.2h-2.6 M423.5 16.0h2.6 M712.9 16.0h-2.6 M423.5 27.9h2.6 M712.9 27.9h-2.6 M423.5 39.8h2.6 M712.9 39.8h-2.6 M423.5 51.6h2.6 M712.9 51.6h-2.6" stroke="#333" stroke-width="0.6" fill="none"/>
<text transform="translate(420.6,6.40) scale(1,0.9)" text-anchor="end">4.5</text>
<text transform="translate(420.6,18.27) scale(1,0.9)" text-anchor="end">4.0</text>
<text transform="translate(420.6,30.15) scale(1,0.9)" text-anchor="end">3.5</text>
<text transform="translate(420.6,42.02) scale(1,0.9)" text-anchor="end">3.0</text>
<text transform="translate(420.6,53.90) scale(1,0.9)" text-anchor="end">2.5</text>
<rect x="423.5" y="57.9" width="289.4" height="47.5" fill="none" stroke="#222" stroke-width="1.15"/>
<path d="M474.1 57.9v2.6 M474.1 105.3v-2.6 M525.1 57.9v2.6 M525.1 105.3v-2.6 M576.0 57.9v2.6 M576.0 105.3v-2.6 M627.0 57.9v2.6 M627.0 105.3v-2.6 M677.9 57.9v2.6 M677.9 105.3v-2.6 M423.5 62.6h2.6 M712.9 62.6h-2.6 M423.5 72.1h2.6 M712.9 72.1h-2.6 M423.5 81.6h2.6 M712.9 81.6h-2.6 M423.5 91.1h2.6 M712.9 91.1h-2.6 M423.5 100.6h2.6 M712.9 100.6h-2.6" stroke="#333" stroke-width="0.6" fill="none"/>
<text transform="translate(420.6,64.85) scale(1,0.9)" text-anchor="end">4</text>
<text transform="translate(420.6,74.35) scale(1,0.9)" text-anchor="end">2</text>
<text transform="translate(420.6,83.85) scale(1,0.9)" text-anchor="end">0</text>
<text transform="translate(420.6,93.35) scale(1,0.9)" text-anchor="end">−2</text>
<text transform="translate(420.6,102.85) scale(1,0.9)" text-anchor="end">−4</text>
<rect x="423.5" y="111.5" width="289.4" height="47.5" fill="none" stroke="#222" stroke-width="1.15"/>
<path d="M474.1 111.5v2.6 M474.1 159.1v-2.6 M525.1 111.5v2.6 M525.1 159.1v-2.6 M576.0 111.5v2.6 M576.0 159.1v-2.6 M627.0 111.5v2.6 M627.0 159.1v-2.6 M677.9 111.5v2.6 M677.9 159.1v-2.6 M423.5 115.1h2.6 M712.9 115.1h-2.6 M423.5 124.9h2.6 M712.9 124.9h-2.6 M423.5 134.8h2.6 M712.9 134.8h-2.6 M423.5 144.6h2.6 M712.9 144.6h-2.6 M423.5 154.4h2.6 M712.9 154.4h-2.6" stroke="#333" stroke-width="0.6" fill="none"/>
<text transform="translate(420.6,117.35) scale(1,0.9)" text-anchor="end">−560</text>
<text transform="translate(420.6,127.17) scale(1,0.9)" text-anchor="end">−580</text>
<text transform="translate(420.6,137.00) scale(1,0.9)" text-anchor="end">−600</text>
<text transform="translate(420.6,146.83) scale(1,0.9)" text-anchor="end">−620</text>
<text transform="translate(420.6,156.65) scale(1,0.9)" text-anchor="end">−640</text>
<rect x="423.5" y="165.2" width="289.4" height="47.5" fill="none" stroke="#222" stroke-width="1.15"/>
<path d="M474.1 165.2v2.6 M474.1 212.7v-2.6 M525.1 165.2v2.6 M525.1 212.7v-2.6 M576.0 165.2v2.6 M576.0 212.7v-2.6 M627.0 165.2v2.6 M627.0 212.7v-2.6 M677.9 165.2v2.6 M677.9 212.7v-2.6 M423.5 165.2h2.6 M712.9 165.2h-2.6 M423.5 174.7h2.6 M712.9 174.7h-2.6 M423.5 184.2h2.6 M712.9 184.2h-2.6 M423.5 193.7h2.6 M712.9 193.7h-2.6 M423.5 203.2h2.6 M712.9 203.2h-2.6 M423.5 212.7h2.6 M712.9 212.7h-2.6" stroke="#333" stroke-width="0.6" fill="none"/>
<text transform="translate(420.6,167.45) scale(1,0.9)" text-anchor="end">120</text>
<text transform="translate(420.6,176.95) scale(1,0.9)" text-anchor="end">100</text>
<text transform="translate(420.6,186.45) scale(1,0.9)" text-anchor="end">80</text>
<text transform="translate(420.6,195.95) scale(1,0.9)" text-anchor="end">60</text>
<text transform="translate(420.6,205.45) scale(1,0.9)" text-anchor="end">40</text>
<text transform="translate(420.6,214.95) scale(1,0.9)" text-anchor="end">20</text>
<rect x="423.5" y="218.9" width="289.4" height="47.5" fill="none" stroke="#222" stroke-width="1.15"/>
<path d="M474.1 218.9v2.6 M474.1 266.4v-2.6 M525.1 218.9v2.6 M525.1 266.4v-2.6 M576.0 218.9v2.6 M576.0 266.4v-2.6 M627.0 218.9v2.6 M627.0 266.4v-2.6 M677.9 218.9v2.6 M677.9 266.4v-2.6 M423.5 218.9h2.6 M712.9 218.9h-2.6 M423.5 228.4h2.6 M712.9 228.4h-2.6 M423.5 237.9h2.6 M712.9 237.9h-2.6 M423.5 247.4h2.6 M712.9 247.4h-2.6 M423.5 256.9h2.6 M712.9 256.9h-2.6 M423.5 266.4h2.6 M712.9 266.4h-2.6" stroke="#333" stroke-width="0.6" fill="none"/>
<text transform="translate(420.6,221.15) scale(1,0.9)" text-anchor="end">6</text>
<text transform="translate(420.6,230.65) scale(1,0.9)" text-anchor="end">5</text>
<text transform="translate(420.6,240.15) scale(1,0.9)" text-anchor="end">4</text>
<text transform="translate(420.6,249.65) scale(1,0.9)" text-anchor="end">3</text>
<text transform="translate(420.6,259.15) scale(1,0.9)" text-anchor="end">2</text>
<text transform="translate(420.6,268.65) scale(1,0.9)" text-anchor="end">1</text>
<rect x="423.5" y="272.7" width="289.4" height="47.5" fill="none" stroke="#222" stroke-width="1.15"/>
<path d="M474.1 272.7v2.6 M474.1 320.2v-2.6 M525.1 272.7v2.6 M525.1 320.2v-2.6 M576.0 272.7v2.6 M576.0 320.2v-2.6 M627.0 272.7v2.6 M627.0 320.2v-2.6 M677.9 272.7v2.6 M677.9 320.2v-2.6 M423.5 272.7h2.6 M712.9 272.7h-2.6 M423.5 284.6h2.6 M712.9 284.6h-2.6 M423.5 296.4h2.6 M712.9 296.4h-2.6 M423.5 308.3h2.6 M712.9 308.3h-2.6 M423.5 320.2h2.6 M712.9 320.2h-2.6" stroke="#333" stroke-width="0.6" fill="none"/>
<text transform="translate(420.6,274.95) scale(1,0.9)" text-anchor="end">3.0</text>
<text transform="translate(420.6,286.82) scale(1,0.9)" text-anchor="end">2.5</text>
<text transform="translate(420.6,298.70) scale(1,0.9)" text-anchor="end">2.0</text>
<text transform="translate(420.6,310.57) scale(1,0.9)" text-anchor="end">1.5</text>
<text transform="translate(420.6,322.45) scale(1,0.9)" text-anchor="end">1.0</text>
<text transform="translate(474.1,329.60) scale(1,0.94)" text-anchor="middle">14:45</text>
<text transform="translate(525.1,329.60) scale(1,0.94)" text-anchor="middle">14:50</text>
<text transform="translate(576.0,329.60) scale(1,0.94)" text-anchor="middle">14:55</text>
<text transform="translate(627.0,329.60) scale(1,0.94)" text-anchor="middle">15:00</text>
<text transform="translate(677.9,329.60) scale(1,0.94)" text-anchor="middle">15:05</text>
<text x="184.6" y="342.0" text-anchor="middle" font-size="9.65">2017-11-26</text>
<text x="568.2" y="342.0" text-anchor="middle" font-size="9.65">2017-12-18</text>
</g>
<g font-family="'Liberation Serif', 'DejaVu Serif', serif" fill="#333">
<text transform="translate(17.3,27.9) rotate(-90) scale(1.00,1)" text-anchor="middle" font-size="10.8" textLength="32.8" lengthAdjust="spacing">|B|<tspan dx="1.8">(nT)</tspan></text>
<text transform="translate(19.3,81.6) rotate(-90) scale(1.00,1)" text-anchor="middle" font-size="10.8" textLength="27.1" lengthAdjust="spacing">B<tspan dx="1.8">(nT)</tspan></text>
<text transform="translate(8.2,135.3) rotate(-90) scale(1.10,1)" text-anchor="middle" font-size="10.8" textLength="39.1" lengthAdjust="spacing"><tspan font-style="italic" font-size="12.2">V</tspan><tspan dy="2.2" dx="-1.2" font-size="7.4" font-style="italic">z</tspan><tspan dy="-2.2" dx="1.0">(km<tspan dx="0.5">/</tspan><tspan dx="0.5">s)</tspan></tspan></text>
<text transform="translate(13.8,188.9) rotate(-90) scale(1.00,1)" text-anchor="middle" font-size="10.8" textLength="25.4" lengthAdjust="spacing"><tspan font-style="italic" font-size="12.2">θ</tspan><tspan dy="2.2" dx="-0.2" font-size="6.6" font-style="italic">BV</tspan><tspan dy="-2.2" dx="1.0">(°)</tspan></text>
<text transform="translate(19.6,242.7) rotate(-90) scale(1.10,1)" text-anchor="middle" font-size="10.8" textLength="38.0" lengthAdjust="spacing"><tspan font-style="italic" font-size="12.2">N</tspan><tspan dy="2.2" dx="-0.6" font-size="7.4" font-style="italic">p</tspan><tspan dy="-2.2" dx="2.2">(cm</tspan><tspan dy="-3.4" font-size="7.4">−3</tspan><tspan dy="3.4">)</tspan></text>
<text transform="translate(10.6,296.4) rotate(-90) scale(1.10,1)" text-anchor="middle" font-size="10.8" textLength="9.6" lengthAdjust="spacing"><tspan font-style="italic" font-size="10.6">β</tspan><tspan dy="2.2" dx="-0.2" font-size="7.0" font-style="italic">p</tspan></text>
<text transform="translate(400.7,27.9) rotate(-90) scale(1.00,1)" text-anchor="middle" font-size="10.8" textLength="32.8" lengthAdjust="spacing">|B|<tspan dx="1.8">(nT)</tspan></text>
<text transform="translate(402.7,81.6) rotate(-90) scale(1.00,1)" text-anchor="middle" font-size="10.8" textLength="27.1" lengthAdjust="spacing">B<tspan dx="1.8">(nT)</tspan></text>
<text transform="translate(391.6,135.3) rotate(-90) scale(1.10,1)" text-anchor="middle" font-size="10.8" textLength="39.1" lengthAdjust="spacing"><tspan font-style="italic" font-size="12.2">V</tspan><tspan dy="2.2" dx="-1.2" font-size="7.4" font-style="italic">z</tspan><tspan dy="-2.2" dx="1.0">(km<tspan dx="0.5">/</tspan><tspan dx="0.5">s)</tspan></tspan></text>
<text transform="translate(397.2,188.9) rotate(-90) scale(1.00,1)" text-anchor="middle" font-size="10.8" textLength="25.4" lengthAdjust="spacing"><tspan font-style="italic" font-size="12.2">θ</tspan><tspan dy="2.2" dx="-0.2" font-size="6.6" font-style="italic">BV</tspan><tspan dy="-2.2" dx="1.0">(°)</tspan></text>
<text transform="translate(403.0,242.7) rotate(-90) scale(1.10,1)" text-anchor="middle" font-size="10.8" textLength="38.0" lengthAdjust="spacing"><tspan font-style="italic" font-size="12.2">N</tspan><tspan dy="2.2" dx="-0.6" font-size="7.4" font-style="italic">p</tspan><tspan dy="-2.2" dx="2.2">(cm</tspan><tspan dy="-3.4" font-size="7.4">−3</tspan><tspan dy="3.4">)</tspan></text>
<text transform="translate(394.0,296.4) rotate(-90) scale(1.10,1)" text-anchor="middle" font-size="10.8" textLength="9.6" lengthAdjust="spacing"><tspan font-style="italic" font-size="10.6">β</tspan><tspan dy="2.2" dx="-0.2" font-size="7.0" font-style="italic">p</tspan></text>
<line x1="338.9" x2="351.2" y1="68.5" y2="68.5" stroke="#0000ff" stroke-width="0.8"/>
<text transform="translate(360.0,71.0) scale(1.25,1)" font-size="8.4" font-style="italic">B<tspan dy="1.6" dx="0.2" font-size="6">x</tspan></text>
<line x1="338.9" x2="351.2" y1="81.2" y2="81.2" stroke="#008000" stroke-width="0.8"/>
<text transform="translate(360.0,83.7) scale(1.25,1)" font-size="8.4" font-style="italic">B<tspan dy="1.6" dx="0.2" font-size="6">y</tspan></text>
<line x1="338.9" x2="351.2" y1="94.3" y2="94.3" stroke="#ff0000" stroke-width="0.8"/>
<text transform="translate(360.0,96.8) scale(1.25,1)" font-size="8.4" font-style="italic">B<tspan dy="1.6" dx="0.2" font-size="6">z</tspan></text>
<line x1="722.6" x2="734.9" y1="68.5" y2="68.5" stroke="#0000ff" stroke-width="0.8"/>
<text transform="translate(743.7,71.0) scale(1.25,1)" font-size="8.4" font-style="italic">B<tspan dy="1.6" dx="0.2" font-size="6">x</tspan></text>
<line x1="722.6" x2="734.9" y1="81.2" y2="81.2" stroke="#008000" stroke-width="0.8"/>
<text transform="translate(743.7,83.7) scale(1.25,1)" font-size="8.4" font-style="italic">B<tspan dy="1.6" dx="0.2" font-size="6">y</tspan></text>
<line x1="722.6" x2="734.9" y1="94.3" y2="94.3" stroke="#ff0000" stroke-width="0.8"/>
<text transform="translate(743.7,96.8) scale(1.25,1)" font-size="8.4" font-style="italic">B<tspan dy="1.6" dx="0.2" font-size="6">z</tspan></text>
</g>
</svg>
</body></html>
